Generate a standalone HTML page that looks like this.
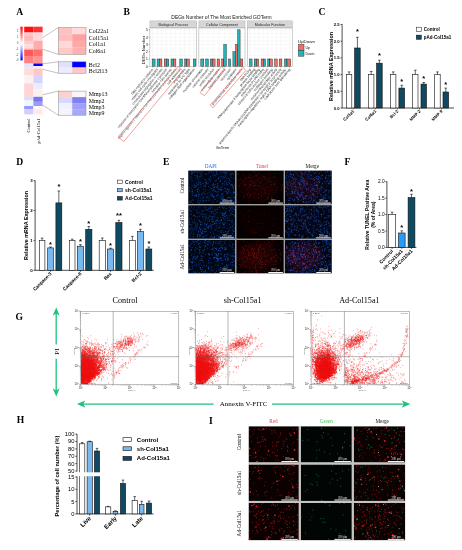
<!DOCTYPE html>
<html lang="en"><head><meta charset="utf-8"><title>Figure</title>
<style>
html,body{margin:0;padding:0;background:#fff;}
body{width:462px;height:550px;overflow:hidden;}
svg{display:block;}
.sf{font-family:"Liberation Serif", serif;}
.ss{font-family:"Liberation Sans", sans-serif;}
</style></head><body>
<svg width="462" height="550" viewBox="0 0 462 550">
<rect width="462" height="550" fill="#ffffff"/>
<text class="sf" x="16.30" y="15.20" font-size="9.6" font-weight="bold">A</text>
<text class="sf" x="123.60" y="14.90" font-size="9.6" font-weight="bold">B</text>
<text class="sf" x="318.60" y="15.20" font-size="9.6" font-weight="bold">C</text>
<text class="sf" x="16.30" y="164.70" font-size="9.6" font-weight="bold">D</text>
<text class="sf" x="163.00" y="164.90" font-size="9.6" font-weight="bold">E</text>
<text class="sf" x="344.60" y="164.90" font-size="9.6" font-weight="bold">F</text>
<text class="sf" x="15.60" y="319.50" font-size="9.6" font-weight="bold">G</text>
<text class="sf" x="16.80" y="423.30" font-size="9.6" font-weight="bold">H</text>
<text class="sf" x="209.00" y="423.60" font-size="9.6" font-weight="bold">I</text>
<g id="pA">
<defs><linearGradient id="lg" x1="0" y1="0" x2="0" y2="1"><stop offset="0" stop-color="#ff0000"/><stop offset="0.5" stop-color="#ffffff"/><stop offset="1" stop-color="#0000ff"/></linearGradient></defs>
<rect x="20.40" y="26.70" width="2.30" height="33.70" fill="url(#lg)"/>
<text class="ss" x="18.40" y="32.20" font-size="3.0" text-anchor="end" fill="#555">2</text>
<text class="ss" x="18.40" y="38.05" font-size="3.0" text-anchor="end" fill="#555">1</text>
<text class="ss" x="18.40" y="43.90" font-size="3.0" text-anchor="end" fill="#555">0</text>
<text class="ss" x="18.40" y="49.75" font-size="3.0" text-anchor="end" fill="#555">-1</text>
<text class="ss" x="18.40" y="55.60" font-size="3.0" text-anchor="end" fill="#555">-2</text>
<text class="ss" x="18.40" y="61.45" font-size="3.0" text-anchor="end" fill="#555">-3</text>
<rect x="24.20" y="26.70" width="9.20" height="5.85" fill="#ff1010"/>
<rect x="24.20" y="32.50" width="9.20" height="3.45" fill="#ffc8c8"/>
<rect x="24.20" y="35.90" width="9.20" height="5.05" fill="#ffb8b8"/>
<rect x="24.20" y="40.90" width="9.20" height="3.45" fill="#ffcccc"/>
<rect x="24.20" y="44.30" width="9.20" height="4.15" fill="#ffdcdc"/>
<rect x="24.20" y="48.40" width="9.20" height="1.45" fill="#ffb0b0"/>
<rect x="24.20" y="49.80" width="9.20" height="6.25" fill="#ff5858"/>
<rect x="24.20" y="56.00" width="9.20" height="7.55" fill="#ff8080"/>
<rect x="24.20" y="63.50" width="9.20" height="5.05" fill="#e4e4ff"/>
<rect x="24.20" y="68.50" width="9.20" height="6.55" fill="#ffdcdc"/>
<rect x="24.20" y="75.00" width="9.20" height="8.45" fill="#fdf0f0"/>
<rect x="24.20" y="83.40" width="9.20" height="13.45" fill="#ffd4d4"/>
<rect x="24.20" y="96.80" width="9.20" height="3.25" fill="#dcdcff"/>
<rect x="24.20" y="100.00" width="9.20" height="6.05" fill="#f4f4ff"/>
<rect x="24.20" y="106.00" width="9.20" height="3.35" fill="#9898ff"/>
<rect x="24.20" y="109.30" width="9.20" height="5.05" fill="#d0d0ff"/>
<rect x="33.40" y="26.70" width="9.20" height="5.85" fill="#ff3030"/>
<rect x="33.40" y="32.50" width="9.20" height="8.45" fill="#ffd8d8"/>
<rect x="33.40" y="40.90" width="9.20" height="7.55" fill="#ffacac"/>
<rect x="33.40" y="48.40" width="9.20" height="1.45" fill="#ff9090"/>
<rect x="33.40" y="49.80" width="9.20" height="6.25" fill="#ff7070"/>
<rect x="33.40" y="56.00" width="9.20" height="7.55" fill="#ff9494"/>
<rect x="33.40" y="63.50" width="9.20" height="2.55" fill="#0000ff"/>
<rect x="33.40" y="66.00" width="9.20" height="2.55" fill="#f8f0ff"/>
<rect x="33.40" y="68.50" width="9.20" height="6.55" fill="#ffc8c8"/>
<rect x="33.40" y="75.00" width="9.20" height="8.45" fill="#d4d4ff"/>
<rect x="33.40" y="83.40" width="9.20" height="5.85" fill="#ececff"/>
<rect x="33.40" y="89.20" width="9.20" height="7.65" fill="#fff0f0"/>
<rect x="33.40" y="96.80" width="9.20" height="5.05" fill="#7878f0"/>
<rect x="33.40" y="101.80" width="9.20" height="4.25" fill="#9c9cf8"/>
<rect x="33.40" y="106.00" width="9.20" height="3.35" fill="#fff8f8"/>
<rect x="33.40" y="109.30" width="9.20" height="5.05" fill="#ffe8e8"/>
<rect x="58.40" y="27.50" width="13.80" height="6.75" fill="#ffc0c0"/>
<rect x="72.20" y="27.50" width="13.80" height="6.75" fill="#ffdada"/>
<rect x="58.40" y="34.20" width="13.80" height="6.75" fill="#ffbcbc"/>
<rect x="72.20" y="34.20" width="13.80" height="6.75" fill="#ffa0a0"/>
<rect x="58.40" y="40.90" width="13.80" height="6.75" fill="#ffd8d8"/>
<rect x="72.20" y="40.90" width="13.80" height="6.75" fill="#ffa8a8"/>
<rect x="58.40" y="47.60" width="13.80" height="6.75" fill="#ffc8c8"/>
<rect x="72.20" y="47.60" width="13.80" height="6.75" fill="#ffb0b0"/>
<rect x="58.40" y="27.50" width="27.60" height="26.80" fill="none" stroke="#8a8a8a" stroke-width="0.5"/>
<rect x="58.40" y="61.80" width="13.80" height="5.75" fill="#e0e0ff"/>
<rect x="72.20" y="61.80" width="13.80" height="5.75" fill="#0000ff"/>
<rect x="58.40" y="67.50" width="13.80" height="5.75" fill="#ececff"/>
<rect x="72.20" y="67.50" width="13.80" height="5.75" fill="#ffc8c8"/>
<rect x="58.40" y="61.80" width="27.60" height="11.40" fill="none" stroke="#8a8a8a" stroke-width="0.5"/>
<rect x="58.40" y="91.10" width="13.80" height="6.08" fill="#ffd0d0"/>
<rect x="72.20" y="91.10" width="13.80" height="6.08" fill="#fff4f4"/>
<rect x="58.40" y="97.12" width="13.80" height="6.08" fill="#d8d8ff"/>
<rect x="72.20" y="97.12" width="13.80" height="6.08" fill="#8080f0"/>
<rect x="58.40" y="103.15" width="13.80" height="6.07" fill="#f0f0ff"/>
<rect x="72.20" y="103.15" width="13.80" height="6.07" fill="#a0a0f8"/>
<rect x="58.40" y="109.17" width="13.80" height="6.08" fill="#f4f4ff"/>
<rect x="72.20" y="109.17" width="13.80" height="6.08" fill="#a8a8f8"/>
<rect x="58.40" y="91.10" width="27.60" height="24.10" fill="none" stroke="#8a8a8a" stroke-width="0.5"/>
<line x1="42.60" y1="37.60" x2="58.40" y2="27.50" stroke="#777" stroke-width="0.45"/>
<line x1="42.60" y1="49.30" x2="58.40" y2="54.30" stroke="#777" stroke-width="0.45"/>
<line x1="42.60" y1="63.80" x2="58.40" y2="61.80" stroke="#777" stroke-width="0.45"/>
<line x1="42.60" y1="69.30" x2="58.40" y2="73.20" stroke="#777" stroke-width="0.45"/>
<line x1="42.60" y1="94.80" x2="58.40" y2="91.10" stroke="#777" stroke-width="0.45"/>
<line x1="42.60" y1="105.10" x2="58.40" y2="115.20" stroke="#777" stroke-width="0.45"/>
<text class="sf" x="88.80" y="33.30" font-size="5.9">Col22a1</text>
<text class="sf" x="88.80" y="39.50" font-size="5.9">Col15a1</text>
<text class="sf" x="88.80" y="46.20" font-size="5.9">Col1a1</text>
<text class="sf" x="88.80" y="52.50" font-size="5.9">Col6a1</text>
<text class="sf" x="88.80" y="66.70" font-size="5.9">Bcl2</text>
<text class="sf" x="88.80" y="72.90" font-size="5.9">Bcl2l13</text>
<text class="sf" x="88.80" y="95.50" font-size="5.9">Mmp13</text>
<text class="sf" x="88.80" y="102.70" font-size="5.9">Mmp2</text>
<text class="sf" x="88.80" y="108.60" font-size="5.9">Mmp3</text>
<text class="sf" x="88.80" y="114.70" font-size="5.9">Mmp9</text>
<text class="sf" x="29.60" y="118.50" font-size="4.6" text-anchor="end" transform="rotate(-90 29.60 118.50)">Control</text>
<text class="sf" x="40.40" y="118.50" font-size="4.6" text-anchor="end" transform="rotate(-90 40.40 118.50)">pAd-Col15a1</text>
</g>
<g id="pC">
<line x1="342.10" y1="24.20" x2="342.10" y2="108.00" stroke="#000" stroke-width="0.7"/>
<line x1="341.80" y1="108.00" x2="454.00" y2="108.00" stroke="#000" stroke-width="0.7"/>
<line x1="340.50" y1="108.00" x2="342.10" y2="108.00" stroke="#000" stroke-width="0.6"/>
<text class="ss" x="339.70" y="109.50" font-size="4.2" font-weight="bold" text-anchor="end">0.0</text>
<line x1="340.50" y1="91.30" x2="342.10" y2="91.30" stroke="#000" stroke-width="0.6"/>
<text class="ss" x="339.70" y="92.80" font-size="4.2" font-weight="bold" text-anchor="end">0.5</text>
<line x1="340.50" y1="74.60" x2="342.10" y2="74.60" stroke="#000" stroke-width="0.6"/>
<text class="ss" x="339.70" y="76.10" font-size="4.2" font-weight="bold" text-anchor="end">1.0</text>
<line x1="340.50" y1="57.90" x2="342.10" y2="57.90" stroke="#000" stroke-width="0.6"/>
<text class="ss" x="339.70" y="59.40" font-size="4.2" font-weight="bold" text-anchor="end">1.5</text>
<line x1="340.50" y1="41.20" x2="342.10" y2="41.20" stroke="#000" stroke-width="0.6"/>
<text class="ss" x="339.70" y="42.70" font-size="4.2" font-weight="bold" text-anchor="end">2.0</text>
<line x1="340.50" y1="24.50" x2="342.10" y2="24.50" stroke="#000" stroke-width="0.6"/>
<text class="ss" x="339.70" y="26.00" font-size="4.2" font-weight="bold" text-anchor="end">2.5</text>
<text class="ss" x="333.00" y="66.50" font-size="5.4" font-weight="bold" text-anchor="middle" transform="rotate(-90 333.00 66.50)">Relative mRNA Expression</text>
<rect x="346.40" y="74.60" width="5.40" height="33.40" fill="#fff" stroke="#111" stroke-width="0.6"/>
<line x1="349.10" y1="74.60" x2="349.10" y2="71.90" stroke="#000" stroke-width="0.6"/>
<line x1="347.80" y1="71.90" x2="350.40" y2="71.90" stroke="#000" stroke-width="0.6"/>
<rect x="354.60" y="48.00" width="5.60" height="60.00" fill="#0f4a63" stroke="#111" stroke-width="0.6"/>
<line x1="357.40" y1="48.00" x2="357.40" y2="37.30" stroke="#000" stroke-width="0.6"/>
<line x1="356.10" y1="37.30" x2="358.70" y2="37.30" stroke="#000" stroke-width="0.6"/>
<text class="ss" x="357.40" y="33.55" font-size="7.5" font-weight="bold" text-anchor="middle">*</text>
<line x1="353.20" y1="108.00" x2="353.20" y2="109.50" stroke="#000" stroke-width="0.6"/>
<text class="ss" x="354.50" y="111.60" font-size="4.2" font-weight="bold" text-anchor="end" transform="rotate(-45 354.50 111.60)">Col1a1</text>
<rect x="368.50" y="74.60" width="5.40" height="33.40" fill="#fff" stroke="#111" stroke-width="0.6"/>
<line x1="371.20" y1="74.60" x2="371.20" y2="71.50" stroke="#000" stroke-width="0.6"/>
<line x1="369.90" y1="71.50" x2="372.50" y2="71.50" stroke="#000" stroke-width="0.6"/>
<rect x="376.60" y="63.20" width="5.60" height="44.80" fill="#0f4a63" stroke="#111" stroke-width="0.6"/>
<line x1="379.40" y1="63.20" x2="379.40" y2="60.20" stroke="#000" stroke-width="0.6"/>
<line x1="378.10" y1="60.20" x2="380.70" y2="60.20" stroke="#000" stroke-width="0.6"/>
<text class="ss" x="379.40" y="58.35" font-size="7.5" font-weight="bold" text-anchor="middle">*</text>
<line x1="375.25" y1="108.00" x2="375.25" y2="109.50" stroke="#000" stroke-width="0.6"/>
<text class="ss" x="376.55" y="111.60" font-size="4.2" font-weight="bold" text-anchor="end" transform="rotate(-45 376.55 111.60)">Col6a1</text>
<rect x="390.50" y="74.60" width="5.40" height="33.40" fill="#fff" stroke="#111" stroke-width="0.6"/>
<line x1="393.20" y1="74.60" x2="393.20" y2="71.90" stroke="#000" stroke-width="0.6"/>
<line x1="391.90" y1="71.90" x2="394.50" y2="71.90" stroke="#000" stroke-width="0.6"/>
<rect x="398.90" y="88.10" width="5.70" height="19.90" fill="#0f4a63" stroke="#111" stroke-width="0.6"/>
<line x1="401.75" y1="88.10" x2="401.75" y2="85.30" stroke="#000" stroke-width="0.6"/>
<line x1="400.45" y1="85.30" x2="403.05" y2="85.30" stroke="#000" stroke-width="0.6"/>
<text class="ss" x="401.75" y="83.95" font-size="7.5" font-weight="bold" text-anchor="middle">*</text>
<line x1="397.40" y1="108.00" x2="397.40" y2="109.50" stroke="#000" stroke-width="0.6"/>
<text class="ss" x="398.70" y="111.60" font-size="4.2" font-weight="bold" text-anchor="end" transform="rotate(-45 398.70 111.60)">Bcl-2</text>
<rect x="412.60" y="74.60" width="5.40" height="33.40" fill="#fff" stroke="#111" stroke-width="0.6"/>
<line x1="415.30" y1="74.60" x2="415.30" y2="70.20" stroke="#000" stroke-width="0.6"/>
<line x1="414.00" y1="70.20" x2="416.60" y2="70.20" stroke="#000" stroke-width="0.6"/>
<rect x="421.00" y="84.10" width="5.50" height="23.90" fill="#0f4a63" stroke="#111" stroke-width="0.6"/>
<line x1="423.75" y1="84.10" x2="423.75" y2="82.50" stroke="#000" stroke-width="0.6"/>
<line x1="422.45" y1="82.50" x2="425.05" y2="82.50" stroke="#000" stroke-width="0.6"/>
<text class="ss" x="423.75" y="80.95" font-size="7.5" font-weight="bold" text-anchor="middle">*</text>
<line x1="419.50" y1="108.00" x2="419.50" y2="109.50" stroke="#000" stroke-width="0.6"/>
<text class="ss" x="420.80" y="111.60" font-size="4.2" font-weight="bold" text-anchor="end" transform="rotate(-45 420.80 111.60)">MMP-2</text>
<rect x="434.70" y="74.60" width="5.50" height="33.40" fill="#fff" stroke="#111" stroke-width="0.6"/>
<line x1="437.45" y1="74.60" x2="437.45" y2="71.90" stroke="#000" stroke-width="0.6"/>
<line x1="436.15" y1="71.90" x2="438.75" y2="71.90" stroke="#000" stroke-width="0.6"/>
<rect x="443.00" y="92.00" width="5.60" height="16.00" fill="#0f4a63" stroke="#111" stroke-width="0.6"/>
<line x1="445.80" y1="92.00" x2="445.80" y2="88.10" stroke="#000" stroke-width="0.6"/>
<line x1="444.50" y1="88.10" x2="447.10" y2="88.10" stroke="#000" stroke-width="0.6"/>
<text class="ss" x="445.80" y="86.75" font-size="7.5" font-weight="bold" text-anchor="middle">*</text>
<line x1="441.60" y1="108.00" x2="441.60" y2="109.50" stroke="#000" stroke-width="0.6"/>
<text class="ss" x="442.90" y="111.60" font-size="4.2" font-weight="bold" text-anchor="end" transform="rotate(-45 442.90 111.60)">MMP-9</text>
<rect x="416.30" y="27.20" width="5.00" height="4.20" fill="#fff" stroke="#111" stroke-width="0.5"/>
<text class="ss" x="423.80" y="31.00" font-size="4.5" font-weight="bold">Control</text>
<rect x="416.30" y="35.10" width="5.00" height="4.20" fill="#0f4a63" stroke="#111" stroke-width="0.5"/>
<text class="ss" x="423.80" y="38.70" font-size="4.5" font-weight="bold">pAd-Col15a1</text>
</g>
<g id="pD">
<line x1="35.10" y1="180.30" x2="35.10" y2="270.30" stroke="#000" stroke-width="0.7"/>
<line x1="34.80" y1="270.30" x2="153.80" y2="270.30" stroke="#000" stroke-width="0.7"/>
<line x1="33.50" y1="270.30" x2="35.10" y2="270.30" stroke="#000" stroke-width="0.6"/>
<text class="ss" x="32.70" y="271.90" font-size="4.4" font-weight="bold" text-anchor="end">0</text>
<line x1="33.50" y1="240.40" x2="35.10" y2="240.40" stroke="#000" stroke-width="0.6"/>
<text class="ss" x="32.70" y="242.00" font-size="4.4" font-weight="bold" text-anchor="end">1</text>
<line x1="33.50" y1="210.50" x2="35.10" y2="210.50" stroke="#000" stroke-width="0.6"/>
<text class="ss" x="32.70" y="212.10" font-size="4.4" font-weight="bold" text-anchor="end">2</text>
<line x1="33.50" y1="180.60" x2="35.10" y2="180.60" stroke="#000" stroke-width="0.6"/>
<text class="ss" x="32.70" y="182.20" font-size="4.4" font-weight="bold" text-anchor="end">3</text>
<text class="ss" x="27.60" y="225.50" font-size="5.4" font-weight="bold" text-anchor="middle" transform="rotate(-90 27.60 225.50)">Relative mRNA Expression</text>
<rect x="39.30" y="240.40" width="5.60" height="29.90" fill="#fff" stroke="#111" stroke-width="0.6"/>
<line x1="42.10" y1="240.40" x2="42.10" y2="238.10" stroke="#000" stroke-width="0.6"/>
<line x1="40.80" y1="238.10" x2="43.40" y2="238.10" stroke="#000" stroke-width="0.6"/>
<rect x="47.70" y="247.90" width="5.70" height="22.40" fill="#78b9f2" stroke="#111" stroke-width="0.6"/>
<line x1="50.55" y1="247.90" x2="50.55" y2="247.00" stroke="#000" stroke-width="0.6"/>
<line x1="49.25" y1="247.00" x2="51.85" y2="247.00" stroke="#000" stroke-width="0.6"/>
<text class="ss" x="50.55" y="246.65" font-size="7.5" font-weight="bold" text-anchor="middle">*</text>
<rect x="55.90" y="202.90" width="5.90" height="67.40" fill="#0f4a63" stroke="#111" stroke-width="0.6"/>
<line x1="58.85" y1="202.90" x2="58.85" y2="191.00" stroke="#000" stroke-width="0.6"/>
<line x1="57.55" y1="191.00" x2="60.15" y2="191.00" stroke="#000" stroke-width="0.6"/>
<text class="ss" x="58.85" y="188.75" font-size="7.5" font-weight="bold" text-anchor="middle">*</text>
<line x1="50.55" y1="270.30" x2="50.55" y2="271.80" stroke="#000" stroke-width="0.6"/>
<text class="ss" x="51.95" y="274.10" font-size="4.8" font-weight="bold" text-anchor="end" transform="rotate(-45 51.95 274.10)">Caspase-3</text>
<rect x="69.40" y="240.40" width="5.60" height="29.90" fill="#fff" stroke="#111" stroke-width="0.6"/>
<line x1="72.20" y1="240.40" x2="72.20" y2="239.20" stroke="#000" stroke-width="0.6"/>
<line x1="70.90" y1="239.20" x2="73.50" y2="239.20" stroke="#000" stroke-width="0.6"/>
<rect x="77.30" y="246.20" width="6.20" height="24.10" fill="#78b9f2" stroke="#111" stroke-width="0.6"/>
<line x1="80.40" y1="246.20" x2="80.40" y2="244.60" stroke="#000" stroke-width="0.6"/>
<line x1="79.10" y1="244.60" x2="81.70" y2="244.60" stroke="#000" stroke-width="0.6"/>
<text class="ss" x="80.40" y="243.95" font-size="7.5" font-weight="bold" text-anchor="middle">*</text>
<rect x="85.70" y="229.30" width="6.20" height="41.00" fill="#0f4a63" stroke="#111" stroke-width="0.6"/>
<line x1="88.80" y1="229.30" x2="88.80" y2="226.50" stroke="#000" stroke-width="0.6"/>
<line x1="87.50" y1="226.50" x2="90.10" y2="226.50" stroke="#000" stroke-width="0.6"/>
<text class="ss" x="88.80" y="225.75" font-size="7.5" font-weight="bold" text-anchor="middle">*</text>
<line x1="80.40" y1="270.30" x2="80.40" y2="271.80" stroke="#000" stroke-width="0.6"/>
<text class="ss" x="81.80" y="274.10" font-size="4.8" font-weight="bold" text-anchor="end" transform="rotate(-45 81.80 274.10)">Caspase-8</text>
<rect x="99.20" y="240.40" width="6.20" height="29.90" fill="#fff" stroke="#111" stroke-width="0.6"/>
<line x1="102.30" y1="240.40" x2="102.30" y2="238.00" stroke="#000" stroke-width="0.6"/>
<line x1="101.00" y1="238.00" x2="103.60" y2="238.00" stroke="#000" stroke-width="0.6"/>
<rect x="107.40" y="249.00" width="6.20" height="21.30" fill="#78b9f2" stroke="#111" stroke-width="0.6"/>
<line x1="110.50" y1="249.00" x2="110.50" y2="248.20" stroke="#000" stroke-width="0.6"/>
<line x1="109.20" y1="248.20" x2="111.80" y2="248.20" stroke="#000" stroke-width="0.6"/>
<text class="ss" x="110.50" y="247.75" font-size="7.5" font-weight="bold" text-anchor="middle">*</text>
<rect x="115.80" y="222.60" width="6.20" height="47.70" fill="#0f4a63" stroke="#111" stroke-width="0.6"/>
<line x1="118.90" y1="222.60" x2="118.90" y2="220.30" stroke="#000" stroke-width="0.6"/>
<line x1="117.60" y1="220.30" x2="120.20" y2="220.30" stroke="#000" stroke-width="0.6"/>
<text class="ss" x="118.90" y="217.85" font-size="7.5" font-weight="bold" text-anchor="middle">**</text>
<line x1="110.50" y1="270.30" x2="110.50" y2="271.80" stroke="#000" stroke-width="0.6"/>
<text class="ss" x="111.90" y="274.10" font-size="4.8" font-weight="bold" text-anchor="end" transform="rotate(-45 111.90 274.10)">Bax</text>
<rect x="129.30" y="240.40" width="6.20" height="29.90" fill="#fff" stroke="#111" stroke-width="0.6"/>
<line x1="132.40" y1="240.40" x2="132.40" y2="236.40" stroke="#000" stroke-width="0.6"/>
<line x1="131.10" y1="236.40" x2="133.70" y2="236.40" stroke="#000" stroke-width="0.6"/>
<rect x="137.50" y="231.60" width="5.90" height="38.70" fill="#78b9f2" stroke="#111" stroke-width="0.6"/>
<line x1="140.45" y1="231.60" x2="140.45" y2="229.30" stroke="#000" stroke-width="0.6"/>
<line x1="139.15" y1="229.30" x2="141.75" y2="229.30" stroke="#000" stroke-width="0.6"/>
<text class="ss" x="140.45" y="227.65" font-size="7.5" font-weight="bold" text-anchor="middle">*</text>
<rect x="145.90" y="249.00" width="5.90" height="21.30" fill="#0f4a63" stroke="#111" stroke-width="0.6"/>
<line x1="148.85" y1="249.00" x2="148.85" y2="247.00" stroke="#000" stroke-width="0.6"/>
<line x1="147.55" y1="247.00" x2="150.15" y2="247.00" stroke="#000" stroke-width="0.6"/>
<text class="ss" x="148.85" y="245.95" font-size="7.5" font-weight="bold" text-anchor="middle">*</text>
<line x1="140.45" y1="270.30" x2="140.45" y2="271.80" stroke="#000" stroke-width="0.6"/>
<text class="ss" x="141.85" y="274.10" font-size="4.8" font-weight="bold" text-anchor="end" transform="rotate(-45 141.85 274.10)">Bcl-2</text>
<rect x="117.30" y="180.10" width="5.00" height="3.30" fill="#fff" stroke="#111" stroke-width="0.5"/>
<text class="ss" x="125.10" y="183.50" font-size="5.0" font-weight="bold">Control</text>
<rect x="117.30" y="188.40" width="5.00" height="3.40" fill="#78b9f2" stroke="#111" stroke-width="0.5"/>
<text class="ss" x="125.10" y="191.85" font-size="5.0" font-weight="bold">sh-Col15a1</text>
<rect x="117.30" y="196.40" width="5.00" height="3.70" fill="#0f4a63" stroke="#111" stroke-width="0.5"/>
<text class="ss" x="125.10" y="200.00" font-size="5.0" font-weight="bold">Ad-Col15a1</text>
</g>
<g id="pF">
<line x1="386.90" y1="181.40" x2="386.90" y2="247.40" stroke="#000" stroke-width="0.7"/>
<line x1="386.60" y1="247.40" x2="416.40" y2="247.40" stroke="#000" stroke-width="0.7"/>
<line x1="385.30" y1="247.40" x2="386.90" y2="247.40" stroke="#000" stroke-width="0.6"/>
<text class="ss" x="384.60" y="249.10" font-size="4.8" text-anchor="end">0.0</text>
<line x1="385.30" y1="230.97" x2="386.90" y2="230.97" stroke="#000" stroke-width="0.6"/>
<text class="ss" x="384.60" y="232.67" font-size="4.8" text-anchor="end">0.5</text>
<line x1="385.30" y1="214.55" x2="386.90" y2="214.55" stroke="#000" stroke-width="0.6"/>
<text class="ss" x="384.60" y="216.25" font-size="4.8" text-anchor="end">1.0</text>
<line x1="385.30" y1="198.12" x2="386.90" y2="198.12" stroke="#000" stroke-width="0.6"/>
<text class="ss" x="384.60" y="199.82" font-size="4.8" text-anchor="end">1.5</text>
<line x1="385.30" y1="181.70" x2="386.90" y2="181.70" stroke="#000" stroke-width="0.6"/>
<text class="ss" x="384.60" y="183.40" font-size="4.8" text-anchor="end">2.0</text>
<text class="ss" x="368.90" y="214.60" font-size="5.0" font-weight="bold" text-anchor="middle" transform="rotate(-90 368.90 214.60)">Relative TUNEL Positive Area</text>
<text class="ss" x="375.40" y="214.60" font-size="5.0" font-weight="bold" text-anchor="middle" transform="rotate(-90 375.40 214.60)">(% of Area)</text>
<rect x="388.50" y="214.55" width="7.20" height="32.85" fill="#fff" stroke="#111" stroke-width="0.6"/>
<line x1="392.10" y1="214.55" x2="392.10" y2="212.20" stroke="#000" stroke-width="0.6"/>
<line x1="390.80" y1="212.20" x2="393.40" y2="212.20" stroke="#000" stroke-width="0.6"/>
<rect x="398.50" y="233.00" width="6.60" height="14.40" fill="#2a9bf4" stroke="#111" stroke-width="0.6"/>
<line x1="401.80" y1="233.00" x2="401.80" y2="230.80" stroke="#000" stroke-width="0.6"/>
<line x1="400.50" y1="230.80" x2="403.10" y2="230.80" stroke="#000" stroke-width="0.6"/>
<text class="ss" x="401.80" y="229.55" font-size="7.5" font-weight="bold" text-anchor="middle">*</text>
<rect x="408.10" y="197.60" width="6.80" height="49.80" fill="#0f4a63" stroke="#111" stroke-width="0.6"/>
<line x1="411.50" y1="197.60" x2="411.50" y2="194.30" stroke="#000" stroke-width="0.6"/>
<line x1="410.20" y1="194.30" x2="412.80" y2="194.30" stroke="#000" stroke-width="0.6"/>
<text class="ss" x="411.50" y="193.55" font-size="7.5" font-weight="bold" text-anchor="middle">*</text>
<line x1="392.10" y1="247.40" x2="392.10" y2="248.90" stroke="#000" stroke-width="0.6"/>
<text class="ss" x="393.50" y="251.60" font-size="4.9" font-weight="bold" text-anchor="end" transform="rotate(-45 393.50 251.60)">Control</text>
<line x1="401.80" y1="247.40" x2="401.80" y2="248.90" stroke="#000" stroke-width="0.6"/>
<text class="ss" x="403.20" y="251.60" font-size="4.9" font-weight="bold" text-anchor="end" transform="rotate(-45 403.20 251.60)">sh-Col15a1</text>
<line x1="411.50" y1="247.40" x2="411.50" y2="248.90" stroke="#000" stroke-width="0.6"/>
<text class="ss" x="412.90" y="251.60" font-size="4.9" font-weight="bold" text-anchor="end" transform="rotate(-45 412.90 251.60)">Ad-Col15a1</text>
</g>
<g id="pH">
<line x1="77.00" y1="433.90" x2="77.00" y2="471.60" stroke="#000" stroke-width="0.7"/>
<line x1="77.00" y1="476.40" x2="77.00" y2="513.90" stroke="#000" stroke-width="0.7"/>
<line x1="76.70" y1="513.90" x2="153.60" y2="513.90" stroke="#000" stroke-width="0.7"/>
<line x1="75.30" y1="471.00" x2="77.00" y2="471.00" stroke="#000" stroke-width="0.6"/>
<text class="ss" x="74.40" y="472.90" font-size="5.8" text-anchor="end">50</text>
<line x1="75.30" y1="463.64" x2="77.00" y2="463.64" stroke="#000" stroke-width="0.6"/>
<text class="ss" x="74.40" y="465.54" font-size="5.8" text-anchor="end">60</text>
<line x1="75.30" y1="456.28" x2="77.00" y2="456.28" stroke="#000" stroke-width="0.6"/>
<text class="ss" x="74.40" y="458.18" font-size="5.8" text-anchor="end">70</text>
<line x1="75.30" y1="448.92" x2="77.00" y2="448.92" stroke="#000" stroke-width="0.6"/>
<text class="ss" x="74.40" y="450.82" font-size="5.8" text-anchor="end">80</text>
<line x1="75.30" y1="441.56" x2="77.00" y2="441.56" stroke="#000" stroke-width="0.6"/>
<text class="ss" x="74.40" y="443.46" font-size="5.8" text-anchor="end">90</text>
<line x1="75.30" y1="434.20" x2="77.00" y2="434.20" stroke="#000" stroke-width="0.6"/>
<text class="ss" x="74.40" y="436.10" font-size="5.8" text-anchor="end">100</text>
<line x1="75.30" y1="513.90" x2="77.00" y2="513.90" stroke="#000" stroke-width="0.6"/>
<text class="ss" x="74.40" y="515.80" font-size="5.8" text-anchor="end">0</text>
<line x1="75.30" y1="501.60" x2="77.00" y2="501.60" stroke="#000" stroke-width="0.6"/>
<text class="ss" x="74.40" y="503.50" font-size="5.8" text-anchor="end">5</text>
<line x1="75.30" y1="489.30" x2="77.00" y2="489.30" stroke="#000" stroke-width="0.6"/>
<text class="ss" x="74.40" y="491.20" font-size="5.8" text-anchor="end">10</text>
<line x1="75.30" y1="477.00" x2="77.00" y2="477.00" stroke="#000" stroke-width="0.6"/>
<text class="ss" x="74.40" y="478.90" font-size="5.8" text-anchor="end">15</text>
<text class="ss" x="59.20" y="476.00" font-size="5.65" font-weight="bold" text-anchor="middle" transform="rotate(-90 59.20 476.00)">Percentage of cell number (%)</text>
<rect x="79.60" y="443.80" width="5.20" height="70.10" fill="#fff" stroke="#111" stroke-width="0.6"/>
<line x1="82.20" y1="443.80" x2="82.20" y2="442.60" stroke="#000" stroke-width="0.6"/>
<line x1="80.90" y1="442.60" x2="83.50" y2="442.60" stroke="#000" stroke-width="0.6"/>
<rect x="87.10" y="441.70" width="5.20" height="72.20" fill="#78b9f2" stroke="#111" stroke-width="0.6"/>
<line x1="89.70" y1="441.70" x2="89.70" y2="441.20" stroke="#000" stroke-width="0.6"/>
<line x1="88.40" y1="441.20" x2="91.00" y2="441.20" stroke="#000" stroke-width="0.6"/>
<rect x="94.40" y="451.00" width="5.20" height="62.90" fill="#0f4a63" stroke="#111" stroke-width="0.6"/>
<line x1="97.00" y1="451.00" x2="97.00" y2="448.40" stroke="#000" stroke-width="0.6"/>
<line x1="95.70" y1="448.40" x2="98.30" y2="448.40" stroke="#000" stroke-width="0.6"/>
<rect x="78.50" y="472.30" width="22.50" height="3.90" fill="#fff"/>
<rect x="105.60" y="506.90" width="5.20" height="7.00" fill="#fff" stroke="#111" stroke-width="0.6"/>
<line x1="108.20" y1="506.90" x2="108.20" y2="506.40" stroke="#000" stroke-width="0.6"/>
<line x1="106.90" y1="506.40" x2="109.50" y2="506.40" stroke="#000" stroke-width="0.6"/>
<rect x="113.10" y="511.30" width="4.70" height="2.60" fill="#78b9f2" stroke="#111" stroke-width="0.6"/>
<line x1="115.45" y1="511.30" x2="115.45" y2="510.80" stroke="#000" stroke-width="0.6"/>
<line x1="114.15" y1="510.80" x2="116.75" y2="510.80" stroke="#000" stroke-width="0.6"/>
<rect x="120.40" y="483.50" width="5.20" height="30.40" fill="#0f4a63" stroke="#111" stroke-width="0.6"/>
<line x1="123.00" y1="483.50" x2="123.00" y2="480.10" stroke="#000" stroke-width="0.6"/>
<line x1="121.70" y1="480.10" x2="124.30" y2="480.10" stroke="#000" stroke-width="0.6"/>
<rect x="132.10" y="500.50" width="5.20" height="13.40" fill="#fff" stroke="#111" stroke-width="0.6"/>
<line x1="134.70" y1="500.50" x2="134.70" y2="496.60" stroke="#000" stroke-width="0.6"/>
<line x1="133.40" y1="496.60" x2="136.00" y2="496.60" stroke="#000" stroke-width="0.6"/>
<rect x="139.40" y="504.40" width="4.60" height="9.50" fill="#78b9f2" stroke="#111" stroke-width="0.6"/>
<line x1="141.70" y1="504.40" x2="141.70" y2="501.30" stroke="#000" stroke-width="0.6"/>
<line x1="140.40" y1="501.30" x2="143.00" y2="501.30" stroke="#000" stroke-width="0.6"/>
<rect x="146.40" y="503.10" width="5.20" height="10.80" fill="#0f4a63" stroke="#111" stroke-width="0.6"/>
<line x1="149.00" y1="503.10" x2="149.00" y2="501.00" stroke="#000" stroke-width="0.6"/>
<line x1="147.70" y1="501.00" x2="150.30" y2="501.00" stroke="#000" stroke-width="0.6"/>
<line x1="89.70" y1="513.90" x2="89.70" y2="515.60" stroke="#000" stroke-width="0.6"/>
<text class="ss" x="91.50" y="518.70" font-size="6.2" font-weight="bold" text-anchor="end" transform="rotate(-45 91.50 518.70)">Live</text>
<line x1="115.50" y1="513.90" x2="115.50" y2="515.60" stroke="#000" stroke-width="0.6"/>
<text class="ss" x="117.30" y="518.70" font-size="6.2" font-weight="bold" text-anchor="end" transform="rotate(-45 117.30 518.70)">Early</text>
<line x1="141.70" y1="513.90" x2="141.70" y2="515.60" stroke="#000" stroke-width="0.6"/>
<text class="ss" x="143.50" y="518.70" font-size="6.2" font-weight="bold" text-anchor="end" transform="rotate(-45 143.50 518.70)">Late</text>
<rect x="123.00" y="437.70" width="8.60" height="3.90" fill="#fff" stroke="#111" stroke-width="0.6"/>
<text class="ss" x="136.80" y="441.75" font-size="6.0" font-weight="bold">Control</text>
<rect x="123.00" y="446.80" width="8.60" height="3.80" fill="#78b9f2" stroke="#111" stroke-width="0.6"/>
<text class="ss" x="136.80" y="450.80" font-size="6.0" font-weight="bold">sh-Col15a1</text>
<rect x="123.00" y="456.40" width="8.60" height="3.90" fill="#0f4a63" stroke="#111" stroke-width="0.6"/>
<text class="ss" x="136.80" y="460.45" font-size="6.0" font-weight="bold">Ad-Col15a1</text>
</g>
<g id="pB">
<text class="ss" x="221.50" y="18.90" font-size="4.95" text-anchor="middle" fill="#111">DEGs Number of The Most Enriched GOTerm</text>
<rect x="149.90" y="20.90" width="46.80" height="7.10" fill="#d6d6d6" stroke="#9a9a9a" stroke-width="0.35"/>
<text class="ss" x="173.30" y="25.70" font-size="3.6" text-anchor="middle" fill="#222">Biological Process</text>
<rect x="149.90" y="28.00" width="46.80" height="38.40" fill="#fff"/>
<line x1="149.90" y1="62.65" x2="196.70" y2="62.65" stroke="#ececec" stroke-width="0.3"/>
<line x1="149.90" y1="59.00" x2="196.70" y2="59.00" stroke="#ececec" stroke-width="0.3"/>
<line x1="149.90" y1="55.35" x2="196.70" y2="55.35" stroke="#ececec" stroke-width="0.3"/>
<line x1="149.90" y1="51.70" x2="196.70" y2="51.70" stroke="#ececec" stroke-width="0.3"/>
<line x1="149.90" y1="48.05" x2="196.70" y2="48.05" stroke="#ececec" stroke-width="0.3"/>
<line x1="149.90" y1="44.40" x2="196.70" y2="44.40" stroke="#ececec" stroke-width="0.3"/>
<line x1="149.90" y1="40.75" x2="196.70" y2="40.75" stroke="#ececec" stroke-width="0.3"/>
<line x1="149.90" y1="37.10" x2="196.70" y2="37.10" stroke="#ececec" stroke-width="0.3"/>
<line x1="149.90" y1="33.45" x2="196.70" y2="33.45" stroke="#ececec" stroke-width="0.3"/>
<line x1="149.90" y1="29.80" x2="196.70" y2="29.80" stroke="#ececec" stroke-width="0.3"/>
<line x1="152.65" y1="28.00" x2="152.65" y2="66.40" stroke="#ececec" stroke-width="0.3"/>
<line x1="157.24" y1="28.00" x2="157.24" y2="66.40" stroke="#ececec" stroke-width="0.3"/>
<line x1="161.83" y1="28.00" x2="161.83" y2="66.40" stroke="#ececec" stroke-width="0.3"/>
<line x1="166.42" y1="28.00" x2="166.42" y2="66.40" stroke="#ececec" stroke-width="0.3"/>
<line x1="171.01" y1="28.00" x2="171.01" y2="66.40" stroke="#ececec" stroke-width="0.3"/>
<line x1="175.59" y1="28.00" x2="175.59" y2="66.40" stroke="#ececec" stroke-width="0.3"/>
<line x1="180.18" y1="28.00" x2="180.18" y2="66.40" stroke="#ececec" stroke-width="0.3"/>
<line x1="184.77" y1="28.00" x2="184.77" y2="66.40" stroke="#ececec" stroke-width="0.3"/>
<line x1="189.36" y1="28.00" x2="189.36" y2="66.40" stroke="#ececec" stroke-width="0.3"/>
<line x1="193.95" y1="28.00" x2="193.95" y2="66.40" stroke="#ececec" stroke-width="0.3"/>
<rect x="198.90" y="20.90" width="46.10" height="7.10" fill="#d6d6d6" stroke="#9a9a9a" stroke-width="0.35"/>
<text class="ss" x="221.95" y="25.70" font-size="3.6" text-anchor="middle" fill="#222">Cellular Component</text>
<rect x="198.90" y="28.00" width="46.10" height="38.40" fill="#fff"/>
<line x1="198.90" y1="62.65" x2="245.00" y2="62.65" stroke="#ececec" stroke-width="0.3"/>
<line x1="198.90" y1="59.00" x2="245.00" y2="59.00" stroke="#ececec" stroke-width="0.3"/>
<line x1="198.90" y1="55.35" x2="245.00" y2="55.35" stroke="#ececec" stroke-width="0.3"/>
<line x1="198.90" y1="51.70" x2="245.00" y2="51.70" stroke="#ececec" stroke-width="0.3"/>
<line x1="198.90" y1="48.05" x2="245.00" y2="48.05" stroke="#ececec" stroke-width="0.3"/>
<line x1="198.90" y1="44.40" x2="245.00" y2="44.40" stroke="#ececec" stroke-width="0.3"/>
<line x1="198.90" y1="40.75" x2="245.00" y2="40.75" stroke="#ececec" stroke-width="0.3"/>
<line x1="198.90" y1="37.10" x2="245.00" y2="37.10" stroke="#ececec" stroke-width="0.3"/>
<line x1="198.90" y1="33.45" x2="245.00" y2="33.45" stroke="#ececec" stroke-width="0.3"/>
<line x1="198.90" y1="29.80" x2="245.00" y2="29.80" stroke="#ececec" stroke-width="0.3"/>
<line x1="202.27" y1="28.00" x2="202.27" y2="66.40" stroke="#ececec" stroke-width="0.3"/>
<line x1="207.90" y1="28.00" x2="207.90" y2="66.40" stroke="#ececec" stroke-width="0.3"/>
<line x1="213.52" y1="28.00" x2="213.52" y2="66.40" stroke="#ececec" stroke-width="0.3"/>
<line x1="219.14" y1="28.00" x2="219.14" y2="66.40" stroke="#ececec" stroke-width="0.3"/>
<line x1="224.76" y1="28.00" x2="224.76" y2="66.40" stroke="#ececec" stroke-width="0.3"/>
<line x1="230.38" y1="28.00" x2="230.38" y2="66.40" stroke="#ececec" stroke-width="0.3"/>
<line x1="236.00" y1="28.00" x2="236.00" y2="66.40" stroke="#ececec" stroke-width="0.3"/>
<line x1="241.63" y1="28.00" x2="241.63" y2="66.40" stroke="#ececec" stroke-width="0.3"/>
<rect x="247.40" y="20.90" width="44.90" height="7.10" fill="#d6d6d6" stroke="#9a9a9a" stroke-width="0.35"/>
<text class="ss" x="269.85" y="25.70" font-size="3.6" text-anchor="middle" fill="#222">Molecular Function</text>
<rect x="247.40" y="28.00" width="44.90" height="38.40" fill="#fff"/>
<line x1="247.40" y1="62.65" x2="292.30" y2="62.65" stroke="#ececec" stroke-width="0.3"/>
<line x1="247.40" y1="59.00" x2="292.30" y2="59.00" stroke="#ececec" stroke-width="0.3"/>
<line x1="247.40" y1="55.35" x2="292.30" y2="55.35" stroke="#ececec" stroke-width="0.3"/>
<line x1="247.40" y1="51.70" x2="292.30" y2="51.70" stroke="#ececec" stroke-width="0.3"/>
<line x1="247.40" y1="48.05" x2="292.30" y2="48.05" stroke="#ececec" stroke-width="0.3"/>
<line x1="247.40" y1="44.40" x2="292.30" y2="44.40" stroke="#ececec" stroke-width="0.3"/>
<line x1="247.40" y1="40.75" x2="292.30" y2="40.75" stroke="#ececec" stroke-width="0.3"/>
<line x1="247.40" y1="37.10" x2="292.30" y2="37.10" stroke="#ececec" stroke-width="0.3"/>
<line x1="247.40" y1="33.45" x2="292.30" y2="33.45" stroke="#ececec" stroke-width="0.3"/>
<line x1="247.40" y1="29.80" x2="292.30" y2="29.80" stroke="#ececec" stroke-width="0.3"/>
<line x1="250.04" y1="28.00" x2="250.04" y2="66.40" stroke="#ececec" stroke-width="0.3"/>
<line x1="254.44" y1="28.00" x2="254.44" y2="66.40" stroke="#ececec" stroke-width="0.3"/>
<line x1="258.85" y1="28.00" x2="258.85" y2="66.40" stroke="#ececec" stroke-width="0.3"/>
<line x1="263.25" y1="28.00" x2="263.25" y2="66.40" stroke="#ececec" stroke-width="0.3"/>
<line x1="267.65" y1="28.00" x2="267.65" y2="66.40" stroke="#ececec" stroke-width="0.3"/>
<line x1="272.05" y1="28.00" x2="272.05" y2="66.40" stroke="#ececec" stroke-width="0.3"/>
<line x1="276.45" y1="28.00" x2="276.45" y2="66.40" stroke="#ececec" stroke-width="0.3"/>
<line x1="280.85" y1="28.00" x2="280.85" y2="66.40" stroke="#ececec" stroke-width="0.3"/>
<line x1="285.26" y1="28.00" x2="285.26" y2="66.40" stroke="#ececec" stroke-width="0.3"/>
<line x1="289.66" y1="28.00" x2="289.66" y2="66.40" stroke="#ececec" stroke-width="0.3"/>
<rect x="152.10" y="59.00" width="3.00" height="7.30" fill="#1fb6ba" stroke="#1a1a1a" stroke-width="0.4"/>
<rect x="157.10" y="59.00" width="2.20" height="7.30" fill="#1fb6ba" stroke="#1a1a1a" stroke-width="0.4"/>
<rect x="159.30" y="59.00" width="2.60" height="7.30" fill="#f26d63" stroke="#1a1a1a" stroke-width="0.4"/>
<rect x="164.20" y="59.00" width="2.20" height="7.30" fill="#f26d63" stroke="#1a1a1a" stroke-width="0.4"/>
<rect x="166.40" y="59.00" width="2.40" height="7.30" fill="#1fb6ba" stroke="#1a1a1a" stroke-width="0.4"/>
<rect x="171.00" y="59.00" width="2.30" height="7.30" fill="#1fb6ba" stroke="#1a1a1a" stroke-width="0.4"/>
<rect x="173.30" y="59.00" width="2.60" height="7.30" fill="#f26d63" stroke="#1a1a1a" stroke-width="0.4"/>
<rect x="179.80" y="59.00" width="2.60" height="7.30" fill="#1fb6ba" stroke="#1a1a1a" stroke-width="0.4"/>
<rect x="184.60" y="59.00" width="2.20" height="7.30" fill="#1fb6ba" stroke="#1a1a1a" stroke-width="0.4"/>
<rect x="186.80" y="59.00" width="2.60" height="7.30" fill="#f26d63" stroke="#1a1a1a" stroke-width="0.4"/>
<rect x="193.30" y="59.00" width="2.60" height="7.30" fill="#1fb6ba" stroke="#1a1a1a" stroke-width="0.4"/>
<rect x="200.80" y="59.00" width="3.00" height="7.30" fill="#1fb6ba" stroke="#1a1a1a" stroke-width="0.4"/>
<rect x="205.60" y="59.00" width="2.80" height="7.30" fill="#1fb6ba" stroke="#1a1a1a" stroke-width="0.4"/>
<rect x="210.30" y="59.00" width="2.20" height="7.30" fill="#1fb6ba" stroke="#1a1a1a" stroke-width="0.4"/>
<rect x="212.50" y="59.00" width="2.60" height="7.30" fill="#f26d63" stroke="#1a1a1a" stroke-width="0.4"/>
<rect x="217.10" y="59.00" width="2.60" height="7.30" fill="#f26d63" stroke="#1a1a1a" stroke-width="0.4"/>
<rect x="221.60" y="59.00" width="2.20" height="7.30" fill="#f26d63" stroke="#1a1a1a" stroke-width="0.4"/>
<rect x="223.80" y="44.40" width="2.60" height="21.90" fill="#1fb6ba" stroke="#1a1a1a" stroke-width="0.4"/>
<rect x="228.50" y="59.00" width="2.20" height="7.30" fill="#1fb6ba" stroke="#1a1a1a" stroke-width="0.4"/>
<rect x="232.90" y="51.70" width="2.60" height="14.60" fill="#1fb6ba" stroke="#1a1a1a" stroke-width="0.4"/>
<rect x="235.50" y="44.40" width="2.10" height="21.90" fill="#f26d63" stroke="#1a1a1a" stroke-width="0.4"/>
<rect x="237.60" y="29.80" width="2.50" height="36.50" fill="#1fb6ba" stroke="#1a1a1a" stroke-width="0.4"/>
<rect x="240.10" y="59.00" width="2.70" height="7.30" fill="#f26d63" stroke="#1a1a1a" stroke-width="0.4"/>
<rect x="249.50" y="59.00" width="2.60" height="7.30" fill="#1fb6ba" stroke="#1a1a1a" stroke-width="0.4"/>
<rect x="254.20" y="59.00" width="2.30" height="7.30" fill="#1fb6ba" stroke="#1a1a1a" stroke-width="0.4"/>
<rect x="256.50" y="59.00" width="2.20" height="7.30" fill="#f26d63" stroke="#1a1a1a" stroke-width="0.4"/>
<rect x="261.10" y="59.00" width="2.30" height="7.30" fill="#f26d63" stroke="#1a1a1a" stroke-width="0.4"/>
<rect x="263.40" y="59.00" width="2.20" height="7.30" fill="#1fb6ba" stroke="#1a1a1a" stroke-width="0.4"/>
<rect x="267.70" y="59.00" width="2.10" height="7.30" fill="#1fb6ba" stroke="#1a1a1a" stroke-width="0.4"/>
<rect x="269.80" y="59.00" width="2.60" height="7.30" fill="#f26d63" stroke="#1a1a1a" stroke-width="0.4"/>
<rect x="274.60" y="59.00" width="2.60" height="7.30" fill="#f26d63" stroke="#1a1a1a" stroke-width="0.4"/>
<rect x="279.30" y="59.00" width="2.60" height="7.30" fill="#f26d63" stroke="#1a1a1a" stroke-width="0.4"/>
<rect x="284.50" y="59.00" width="2.50" height="7.30" fill="#1fb6ba" stroke="#1a1a1a" stroke-width="0.4"/>
<rect x="287.00" y="59.00" width="3.70" height="7.30" fill="#f26d63" stroke="#1a1a1a" stroke-width="0.4"/>
<rect x="149.90" y="28.00" width="46.80" height="38.40" fill="none" stroke="#8c8c8c" stroke-width="0.4"/>
<rect x="198.90" y="28.00" width="46.10" height="38.40" fill="none" stroke="#8c8c8c" stroke-width="0.4"/>
<rect x="247.40" y="28.00" width="44.90" height="38.40" fill="none" stroke="#8c8c8c" stroke-width="0.4"/>
<line x1="148.70" y1="66.30" x2="149.90" y2="66.30" stroke="#444" stroke-width="0.35"/>
<text class="ss" x="148.00" y="67.70" font-size="4.0" text-anchor="end" fill="#333">0</text>
<line x1="148.70" y1="59.00" x2="149.90" y2="59.00" stroke="#444" stroke-width="0.35"/>
<text class="ss" x="148.00" y="60.40" font-size="4.0" text-anchor="end" fill="#333">1</text>
<line x1="148.70" y1="51.70" x2="149.90" y2="51.70" stroke="#444" stroke-width="0.35"/>
<text class="ss" x="148.00" y="53.10" font-size="4.0" text-anchor="end" fill="#333">2</text>
<line x1="148.70" y1="44.40" x2="149.90" y2="44.40" stroke="#444" stroke-width="0.35"/>
<text class="ss" x="148.00" y="45.80" font-size="4.0" text-anchor="end" fill="#333">3</text>
<line x1="148.70" y1="37.10" x2="149.90" y2="37.10" stroke="#444" stroke-width="0.35"/>
<text class="ss" x="148.00" y="38.50" font-size="4.0" text-anchor="end" fill="#333">4</text>
<line x1="148.70" y1="29.80" x2="149.90" y2="29.80" stroke="#444" stroke-width="0.35"/>
<text class="ss" x="148.00" y="31.20" font-size="4.0" text-anchor="end" fill="#333">5</text>
<text class="ss" x="144.80" y="50.00" font-size="4.4" text-anchor="middle" fill="#111" transform="rotate(-90 144.80 50.00)">DEGs Number</text>
<line x1="152.65" y1="66.40" x2="152.65" y2="67.60" stroke="#444" stroke-width="0.35"/>
<text class="ss" x="153.55" y="69.60" font-size="3.3" text-anchor="end" fill="#1c1c1c" transform="rotate(-50.6 153.55 69.60)" textLength="33" lengthAdjust="spacingAndGlyphs">DNA replication initiation</text>
<line x1="157.24" y1="66.40" x2="157.24" y2="67.60" stroke="#444" stroke-width="0.35"/>
<text class="ss" x="158.14" y="69.60" font-size="3.3" text-anchor="end" fill="#1c1c1c" transform="rotate(-50.6 158.14 69.60)" textLength="40" lengthAdjust="spacingAndGlyphs">mitotic cell cycle checkpoint</text>
<line x1="161.83" y1="66.40" x2="161.83" y2="67.60" stroke="#444" stroke-width="0.35"/>
<text class="ss" x="162.73" y="69.60" font-size="3.3" text-anchor="end" fill="#1c1c1c" transform="rotate(-50.6 162.73 69.60)" textLength="46" lengthAdjust="spacingAndGlyphs">chromosome segregation in mitosis</text>
<line x1="166.42" y1="66.40" x2="166.42" y2="67.60" stroke="#444" stroke-width="0.35"/>
<text class="ss" x="167.32" y="69.60" font-size="3.3" text-anchor="end" fill="#1c1c1c" transform="rotate(-50.6 167.32 69.60)" textLength="76" lengthAdjust="spacingAndGlyphs">regulation of transcription from RNA polymerase II promoter</text>
<line x1="171.01" y1="66.40" x2="171.01" y2="67.60" stroke="#444" stroke-width="0.35"/>
<text class="ss" x="171.91" y="69.60" font-size="3.3" text-anchor="end" fill="#1c1c1c" transform="rotate(-50.6 171.91 69.60)" textLength="30" lengthAdjust="spacingAndGlyphs">extracellular matrix assembly</text>
<line x1="175.59" y1="66.40" x2="175.59" y2="67.60" stroke="#444" stroke-width="0.35"/>
<text class="ss" x="176.49" y="69.60" font-size="3.3" text-anchor="end" fill="#1c1c1c" transform="rotate(-50.6 176.49 69.60)" textLength="90" lengthAdjust="spacingAndGlyphs">negative regulation of transcription from RNA polymerase II promoter in stress</text>
<line x1="180.18" y1="66.40" x2="180.18" y2="67.60" stroke="#444" stroke-width="0.35"/>
<text class="ss" x="181.08" y="69.60" font-size="3.3" text-anchor="end" fill="#1c1c1c" transform="rotate(-50.6 181.08 69.60)" textLength="20" lengthAdjust="spacingAndGlyphs">cell adhesion</text>
<line x1="184.77" y1="66.40" x2="184.77" y2="67.60" stroke="#444" stroke-width="0.35"/>
<text class="ss" x="185.67" y="69.60" font-size="3.3" text-anchor="end" fill="#1c1c1c" transform="rotate(-50.6 185.67 69.60)" textLength="18" lengthAdjust="spacingAndGlyphs">angiogenesis</text>
<line x1="189.36" y1="66.40" x2="189.36" y2="67.60" stroke="#444" stroke-width="0.35"/>
<text class="ss" x="190.26" y="69.60" font-size="3.3" text-anchor="end" fill="#1c1c1c" transform="rotate(-50.6 190.26 69.60)" textLength="33" lengthAdjust="spacingAndGlyphs">response to UV light</text>
<line x1="193.95" y1="66.40" x2="193.95" y2="67.60" stroke="#444" stroke-width="0.35"/>
<text class="ss" x="194.85" y="69.60" font-size="3.3" text-anchor="end" fill="#1c1c1c" transform="rotate(-50.6 194.85 69.60)" textLength="39" lengthAdjust="spacingAndGlyphs">collagen fibril organization</text>
<line x1="202.27" y1="66.40" x2="202.27" y2="67.60" stroke="#444" stroke-width="0.35"/>
<text class="ss" x="203.17" y="69.60" font-size="3.3" text-anchor="end" fill="#1c1c1c" transform="rotate(-50.6 203.17 69.60)" textLength="30" lengthAdjust="spacingAndGlyphs">nuclear chromatin</text>
<line x1="207.90" y1="66.40" x2="207.90" y2="67.60" stroke="#444" stroke-width="0.35"/>
<text class="ss" x="208.80" y="69.60" font-size="3.3" text-anchor="end" fill="#1c1c1c" transform="rotate(-50.6 208.80 69.60)" textLength="24" lengthAdjust="spacingAndGlyphs">condensed chromosome</text>
<line x1="213.52" y1="66.40" x2="213.52" y2="67.60" stroke="#444" stroke-width="0.35"/>
<text class="ss" x="214.42" y="69.60" font-size="3.3" text-anchor="end" fill="#1c1c1c" transform="rotate(-50.6 214.42 69.60)" textLength="22" lengthAdjust="spacingAndGlyphs">spindle microtubule</text>
<line x1="219.14" y1="66.40" x2="219.14" y2="67.60" stroke="#444" stroke-width="0.35"/>
<text class="ss" x="220.04" y="69.60" font-size="3.3" text-anchor="end" fill="#1c1c1c" transform="rotate(-50.6 220.04 69.60)" textLength="28" lengthAdjust="spacingAndGlyphs">extracellular matrix</text>
<line x1="224.76" y1="66.40" x2="224.76" y2="67.60" stroke="#444" stroke-width="0.35"/>
<text class="ss" x="225.66" y="69.60" font-size="3.3" text-anchor="end" fill="#1c1c1c" transform="rotate(-50.6 225.66 69.60)" textLength="25" lengthAdjust="spacingAndGlyphs">basement membrane</text>
<line x1="230.38" y1="66.40" x2="230.38" y2="67.60" stroke="#444" stroke-width="0.35"/>
<text class="ss" x="231.28" y="69.60" font-size="3.3" text-anchor="end" fill="#1c1c1c" transform="rotate(-50.6 231.28 69.60)" textLength="15" lengthAdjust="spacingAndGlyphs">nucleoplasm</text>
<line x1="236.00" y1="66.40" x2="236.00" y2="67.60" stroke="#444" stroke-width="0.35"/>
<text class="ss" x="236.90" y="69.60" font-size="3.3" text-anchor="end" fill="#1c1c1c" transform="rotate(-50.6 236.90 69.60)" textLength="14" lengthAdjust="spacingAndGlyphs">cytoplasm</text>
<line x1="241.63" y1="66.40" x2="241.63" y2="67.60" stroke="#444" stroke-width="0.35"/>
<text class="ss" x="242.53" y="69.60" font-size="3.3" text-anchor="end" fill="#1c1c1c" transform="rotate(-50.6 242.53 69.60)" textLength="46" lengthAdjust="spacingAndGlyphs">proteinaceous extracellular matrix</text>
<line x1="250.04" y1="66.40" x2="250.04" y2="67.60" stroke="#444" stroke-width="0.35"/>
<text class="ss" x="250.94" y="69.60" font-size="3.3" text-anchor="end" fill="#1c1c1c" transform="rotate(-50.6 250.94 69.60)" textLength="15" lengthAdjust="spacingAndGlyphs">DNA binding</text>
<line x1="254.44" y1="66.40" x2="254.44" y2="67.60" stroke="#444" stroke-width="0.35"/>
<text class="ss" x="255.34" y="69.60" font-size="3.3" text-anchor="end" fill="#1c1c1c" transform="rotate(-50.6 255.34 69.60)" textLength="22" lengthAdjust="spacingAndGlyphs">protein binding</text>
<line x1="258.85" y1="66.40" x2="258.85" y2="67.60" stroke="#444" stroke-width="0.35"/>
<text class="ss" x="259.75" y="69.60" font-size="3.3" text-anchor="end" fill="#1c1c1c" transform="rotate(-50.6 259.75 69.60)" textLength="64" lengthAdjust="spacingAndGlyphs">RNA polymerase II transcription factor binding</text>
<line x1="263.25" y1="66.40" x2="263.25" y2="67.60" stroke="#444" stroke-width="0.35"/>
<text class="ss" x="264.15" y="69.60" font-size="3.3" text-anchor="end" fill="#1c1c1c" transform="rotate(-50.6 264.15 69.60)" textLength="35" lengthAdjust="spacingAndGlyphs">sequence-specific DNA binding</text>
<line x1="267.65" y1="66.40" x2="267.65" y2="67.60" stroke="#444" stroke-width="0.35"/>
<text class="ss" x="268.55" y="69.60" font-size="3.3" text-anchor="end" fill="#1c1c1c" transform="rotate(-50.6 268.55 69.60)" textLength="46" lengthAdjust="spacingAndGlyphs">extracellular matrix structural constituent</text>
<line x1="272.05" y1="66.40" x2="272.05" y2="67.60" stroke="#444" stroke-width="0.35"/>
<text class="ss" x="272.95" y="69.60" font-size="3.3" text-anchor="end" fill="#1c1c1c" transform="rotate(-50.6 272.95 69.60)" textLength="28" lengthAdjust="spacingAndGlyphs">collagen binding</text>
<line x1="276.45" y1="66.40" x2="276.45" y2="67.60" stroke="#444" stroke-width="0.35"/>
<text class="ss" x="277.35" y="69.60" font-size="3.3" text-anchor="end" fill="#1c1c1c" transform="rotate(-50.6 277.35 69.60)" textLength="40" lengthAdjust="spacingAndGlyphs">metalloendopeptidase activity</text>
<line x1="280.85" y1="66.40" x2="280.85" y2="67.60" stroke="#444" stroke-width="0.35"/>
<text class="ss" x="281.75" y="69.60" font-size="3.3" text-anchor="end" fill="#1c1c1c" transform="rotate(-50.6 281.75 69.60)" textLength="97" lengthAdjust="spacingAndGlyphs">sequence-specific DNA binding RNA polymerase II transcription factor activity</text>
<line x1="285.26" y1="66.40" x2="285.26" y2="67.60" stroke="#444" stroke-width="0.35"/>
<text class="ss" x="286.16" y="69.60" font-size="3.3" text-anchor="end" fill="#1c1c1c" transform="rotate(-50.6 286.16 69.60)" textLength="74" lengthAdjust="spacingAndGlyphs">transcription regulatory region DNA binding activity</text>
<line x1="289.66" y1="66.40" x2="289.66" y2="67.60" stroke="#444" stroke-width="0.35"/>
<text class="ss" x="290.56" y="69.60" font-size="3.3" text-anchor="end" fill="#1c1c1c" transform="rotate(-50.6 290.56 69.60)" textLength="39.5" lengthAdjust="spacingAndGlyphs">calcium ion binding</text>
<polygon points="178.3,66.6 182.5,70.9 123.9,141.5 118.0,136.9" fill="none" stroke="#f0605a" stroke-width="0.6"/>
<polygon points="221.7,66.5 224.9,69.7 204.4,95.7 200.0,92.5" fill="none" stroke="#f0605a" stroke-width="0.6"/>
<polygon points="243.3,67.4 245.7,70.6 213.0,107.8 210.2,105.0" fill="none" stroke="#f0605a" stroke-width="0.6"/>
<text class="ss" x="298.00" y="42.80" font-size="4.4" fill="#111">UpDown</text>
<rect x="298.40" y="44.40" width="5.60" height="5.80" fill="#f26d63" stroke="#1a1a1a" stroke-width="0.4"/>
<rect x="298.40" y="50.20" width="5.60" height="6.00" fill="#1fb6ba" stroke="#1a1a1a" stroke-width="0.4"/>
<text class="ss" x="305.40" y="48.50" font-size="3.6" fill="#222">Up</text>
<text class="ss" x="305.40" y="54.60" font-size="3.6" fill="#222">Down</text>
<text class="ss" x="222.40" y="148.70" font-size="3.8" text-anchor="middle" fill="#111">GoTerm</text>
</g>
<g id="pE">
<rect x="188.20" y="170.50" width="143.60" height="102.90" fill="#a0a0a0"/>
<text class="sf" x="210.70" y="167.60" font-size="5.2" text-anchor="middle" fill="#2f74d0">DAPI</text>
<text class="sf" x="262.00" y="167.60" font-size="5.2" text-anchor="middle" fill="#e23b3b">Tunel</text>
<text class="sf" x="312.30" y="167.60" font-size="5.2" text-anchor="middle" fill="#111">Merge</text>
<text class="sf" x="184.20" y="185.60" font-size="5.2" text-anchor="middle" transform="rotate(-90 184.20 185.60)">Control</text>
<text class="sf" x="184.20" y="221.60" font-size="5.2" text-anchor="middle" transform="rotate(-90 184.20 221.60)">sh-Col15a1</text>
<text class="sf" x="184.20" y="256.70" font-size="5.2" text-anchor="middle" transform="rotate(-90 184.20 256.70)">Ad-Col15a1</text>
<defs><filter id="bl" x="-5%" y="-5%" width="110%" height="110%"><feGaussianBlur stdDeviation="0.35"/></filter><filter id="bl2" x="-5%" y="-5%" width="110%" height="110%"><feGaussianBlur stdDeviation="2.5"/></filter></defs>
<clipPath id="ce00"><rect x="188.2" y="170.5" width="47.00" height="33.50"/></clipPath>
<g clip-path="url(#ce00)">
<rect x="188.20" y="170.50" width="47.00" height="33.50" fill="#010612"/>
<path d="M209.5 189.3h0m22.1-3.2h0m-19.5 4.1h0m-15.2-2.6h0m20.9 9.5h0m-25.2-16.4h0m-0.1 16.9h0m28.3-25.7h0m13.6 30.9h0m-15.5-11.7h0m-23.3-20.1h0m17.4 1.5h0m-15.9 6.1h0m-7.5 7.4h0m19.3 12.7h0m3.7-6.8h0m-0.9 0.8h0m-2-12.9h0m25.4 24.1h0m-7.4-9.7h0m-24.7-16h0m-1.2-5.3h0m22.4 11h0m3.8-0.5h0m5.2 15.5h0m-45-21.4h0m42.8 8.7h0m3.3-2.4h0m-42.7 7.8h0m33.2-12.1h0m-32.5 2.1h0m41.2 14.3h0m-39.8-17.1h0m-0.8-6.3h0m32.8 4h0m-11.2 9h0m-17.3 9.5h0m-2.8-2.9h0m-0.7-7.5h0m4.5-5.1h0" fill="none" stroke="#0a3a90" stroke-width="5.0" stroke-linecap="round" opacity="0.07"/>
<g filter="url(#bl)">
<path d="M233.8 197.4h0m-31.3 2.7h0m-4.4-16.4h0m30.3 8.3h0m-35.5 11.6h0m5.3-24.4h0m26.3 2.3h0m-22.4-8.5h0m-9.7 17h0m7.2 0.6h0m6.1-4.9h0m27.6 1h0m-18.1 12.8h0m-18.4-23.8h0m34.1 22.2h0m-31-21h0m23.1 25.1h0m-25.6 0.3h0m32.3-11.6h0m-21.7-16.7h0m-18 28.7h0m9.4-8.6h0m0.9 4h0m15.9-17.8h0m-19.8 14.3h0m-5-16.4h0m23.1 20.9h0m2.6-19.2h0m14.2-2.6h0m-42.3 2.2h0m20.1-7h0m-12.6 10.4h0m18.6-8h0m-9.9 25.4h0m29.1-7.8h0m-13.6-2.4h0m-25.9-18.4h0m-5.8 29.3h0m32.1 1.8h0m-31.9-11h0m21.7 3.2h0m-7.7 9h0m-11.5-15.2h0m31.1 11.9h0m0-6.6h0m2.7 7.1h0m-20.8-7.7h0m25.8 6.2h0m-22.7-2.7h0m21-7.3h0m-11.2-6.4h0m-2 7.6h0m-23.6 1h0m42.9 8.1h0m-12.5-16.5h0m0.3 6.5h0m-13.8 8.6h0m-16.8-3h0m-2.5-5h0m21.2-12.4h0m10.2 9h0m-3.9 14.1h0m-16.9-30.4h0m2.1 22.3h0m-4.6-17h0m33.1 16.4h0m-21.8 7.8h0m-5.4-7.6h0m-6.1-7.9h0m28.6 16.2h0m3.5-17.7h0m-14-2.3h0m-21 6h0m32.9 11.8h0m-5.9 3.4h0m-20.4-26.1h0m8.2 3.5h0m-11.1 4.7h0m19.3 2.6h0m-14.6 11.6h0m31.4-12.9h0m-42.7-14.1h0m37.5 0.3h0m-7.7 17.7h0m-18.8 7.4h0m-13.6-21.9h0m20.5-3.8h0m17.6 7.2h0m-32.4-6.4h0m23 13.4h0m0 6.9h0m8.3 10.2h0m-5.7-25.4h0m-9.9-0.7h0m-21.8 9.8h0m33.1-9.8h0m-20.8 5.6h0m20 5.8h0m-3.9 7.9h0m-10.4 1.2h0m24.1-23.6h0m1.2 21.3h0m-37.7-9h0m23.3 15.3h0m-11.7-11.4h0m23.6 7.6h0m3.1-11.2h0m-13.8-8.6h0m3.3 20.5h0m-3.7-3.4h0m-20.2 6.1h0m36.1 2.6h0m-20.9-6.2h0m-10.1 4h0m25.1-18.8h0m-36.3 3.1h0m22 10.9h0m-3-24.7h0m15.1 1.1h0m-0.4 3.7h0m-21.9 20.6h0m-9.1-21.4h0m17.7 19.2h0m15.2-1.1h0m5-6.6h0m0.1-13.6h0m-34.2 14.7h0m3.2 6.8h0m16.4-6.9h0m9.7 1.3h0m-25.1-6h0m25.1 17.4h0m-29.9-1.7h0m35.7-10.9h0m-18.6-10.9h0m-1.7 10.2h0m3.2-16h0m17.2 16.4h0m-26.8 9.5h0m7.7-10.4h0m6-14.2h0m-7.2 11.7h0m19.7 17h0m-32.3-15h0m-6.7-1.4h0m32.3 15.7h0m-15.9-19.6h0m-13.4 10.1h0m34.5-16.4h0m-6.9-3.5h0m-27.5 6.8h0m23.2 3.2h0m-15.6 10h0m-11.8 3.7h0m0.9-7.4h0m6-10.5h0m13.1 8h0m-7.2-0.8h0m7.2-8.4h0m-15.3 15.7h0m20.4-3.4h0m10 2.8h0m0.3-12.7h0m-5.5 19.4h0m7.6-16.6h0m-27.6 20.3h0m-4.5 2.5h0m31.4-28.9h0m-30.5 19.8h0m1-21h0m26.9 10.8h0m-2-9.9h0m-18.2 18.8h0m-18.1-16.3h0m31.3 23.8h0m13.4-26.6h0m-21.7 21.5h0m-0.2-2.4h0m-14.7-20.6h0m-3.9-1.1h0m20.9 15.9h0m0.8-12.3h0m-18 1.9h0m30.8 26.4h0m4.1-30h0m-40.7 28.7h0m18.8-6.3h0m-6.3-10h0m8.8-1.2h0m4-14h0m4.7 27.9h0m-24.4-13.1h0m26.2-1.6h0m-25.5-8.1h0m14.9-5h0m17.9 26.4h0m-8.9 1.9h0m-3.5-15.2h0m-1.4 3.3h0m18 10.1h0m-34.1 3.5h0m22.9-4.4h0m3.3-12.5h0m3.8 15.9h0m-9.4-3.8h0m3.3-12.1h0m-2-11.2h0m-17.9 13.3h0m-15.6-3.8h0m29.5 9h0m-19.1 10.7h0m20.4-20.3h0m-0.3 7.8h0m-5.9-6h0m21.9 8.4h0m-14 4h0m13.1-24.7h0m-17.2 23.9h0m-16.8-11.2h0m-9.7-7h0m15.3-3.2h0m-5.9 27h0m14.1-13.3h0m19.6 2h0m1.3 2.4h0m-8.8-18.8h0m-9.9 22.8h0m-26 5.8h0m5.4-15.4h0m0.4 0.8h0m20.8-14.6h0m15.7 12.1h0m-19.6 5.9h0m-7.6-10.4h0m13.6 9.2h0m-17.5 5.2h0m0.6-23.5h0m-2.4 0.9h0m-4.1 23.9h0m10.9 4.8h0m16.9-28.4h0m11.3 29.9h0m-43-1.3h0m16.7-14.3h0m25.5-7.8h0m-21.1 23.2h0m9.4-15.7h0m12 11.7h0m-17.6-23.5h0m0.9 11.4h0m-19.7-13.6h0m15.2 2.5h0m-4 18.2h0m0.6-13.6h0m6 5.3h0m9.2 3.7h0m10.3 14.1h0m-12.4-23.9h0m-29.1 21.9h0m31.5-9h0m-20-11.8h0m15.3 9.8h0m-4.4 2.3h0m7.6-14.8h0m-23.7 26.4h0m31.3-3.4h0m-41.1-27.4h0m10.8 12.2h0m16.6-10.8h0m-3.8-1h0m-21.4 20.3h0m21.8-1.6h0m-8.4-5.1h0m-7.6-4.5h0m25.1 16.6h0m-31.5-24.1h0m34.5 16.9h0m-1.9-13.8h0m-16.2 1.5h0m18.2 3.8h0m-7.4 20.7h0m-15.4-14.7h0m19.8 12.4h0m-15-18.4h0m-15.5 16.9h0m-0.9-26.5h0m22.8 13.4h0m5.7-6.2h0m4.2-7.5h0m-26.4 19.7h0m-6.2-12h0m30.3 13h0m-20.8-18.4h0m3.5 19.5h0m0.4-20.4h0m16.1 15.2h0m9.9 12.4h0m-0.3-16.8h0m-5.2-4.5h0m-22.8 3.2h0" fill="none" stroke="#164eb4" stroke-width="1.0" stroke-linecap="round" opacity="0.8"/>
<path d="M232.1 200.5h0m-32.2-17.9h0m5.5 0.1h0m1.4 0.8h0m-9.4 5.9h0m28.3-0.8h0m1.8 0.8h0m-31 6.5h0m33.1-16h0m-40.4 7.9h0m24.6 1.7h0m19.8 2.8h0m-7.6-19.7h0m-12.1 24.3h0m-21.7-23.7h0m30.6 27.4h0m-30.6-8.9h0m2.8 3.8h0m23.7-16.8h0m-20.1 17.4h0m14.1 0h0m-6-14.3h0m27 11.2h0m-22.3-4.5h0m10.7 5.7h0m9.1-9.9h0m-4.2 8.5h0m1.3 4.7h0m-0.9 2.8h0m5.8-8.4h0" fill="none" stroke="#1856c0" stroke-width="1.25" stroke-linecap="round" opacity="0.9"/>
</g>
<line x1="219.70" y1="203.10" x2="234.20" y2="203.10" stroke="#f4f4f4" stroke-width="1.0"/>
<text class="sf" x="226.95" y="202.00" font-size="3.0" text-anchor="middle" fill="#e2e2e2">200 μm</text>
</g>
<clipPath id="ce01"><rect x="236.3" y="170.5" width="47.50" height="33.50"/></clipPath>
<g clip-path="url(#ce01)">
<rect x="236.30" y="170.50" width="47.50" height="33.50" fill="#060101"/>
<ellipse cx="257.7" cy="187.2" rx="19.9" ry="14.1" fill="#a01008" opacity="0.1" filter="url(#bl2)"/>
<g filter="url(#bl)">
<path d="M261.2 194.3h0m13.2-9.7h0m-18.1-9.2h0m15.2 28.3h0m-17.4-27.6h0m-8.1 8.6h0m4.2 18.3h0m-11.1-22.2h0m2.7 11.4h0m31.4-15.7h0m-33.9 9.4h0m24.7 15.1h0m-26-26.9h0m7.1 3.7h0m2.4 16.7h0m17.1-16.5h0m-19.5 1.9h0m-0.6 16h0m6.6-7h0m24-2.3h0m-26.4 13.6h0m31-18.2h0m-17.4 20.6h0m-3.1-24.7h0m-20.5 24.3h0m35.7-18.8h0m-13 4.4h0m-12.1 15.9h0m18.2-25.2h0m-30.7 7.8h0m17.1 10.9h0m16.3-6.4h0m-26.4-15h0m7.8 3.4h0m26 8.6h0m-11 16h0m-17.6-15.4h0m-5.5 7.9h0m-7.1 1.7h0m40.1 0h0m-36.3-18.5h0m30.1-5.7h0m-11.2 12.4h0m22.6 4h0m-4.7-9.5h0m-3.2 3.8h0m6-11h0m-4.2 4h0m-13.5 10.6h0m-18.3 10.3h0m7.3-17.5h0m-11.2-0.2h0m18.6 13.8h0m-5.1-1h0m-12.1-9.8h0m16.9 19.2h0m17.5-10.5h0m-38.8-9.3h0m33.1-4.6h0m-6.9 7.3h0m-26.3 17.9h0m37.5-26.3h0m-8.7 2.8h0m-11.4 8.4h0m-3.7-6.8h0m4.4 11h0m-6.4-15.6h0m22.5 4.3h0m10.2 7.9h0m-10.5-7.8h0m4.9-8h0m-32.6 0.1h0m25.5 20.5h0m-23.7-10.2h0m31.3 6.4h0m-35.5-12.3h0m3.2-3.4h0m11.8-1.8h0m24.4 11.9h0m-19.4 7.4h0m12.1 5.8h0m-18.1-16.4h0m1.3-10.6h0m-0.6 22.9h0m27.6 3.1h0" fill="none" stroke="#8c1410" stroke-width="0.95" stroke-linecap="round" opacity="0.595"/>
<path d="M250 177.6h0m17 10.5h0m-17.6 9.3h0m16.3-5.1h0m-26.4-5.9h0m24.9-9.4h0m3.2 22.2h0m1.1-18h0m-18.2 13.9h0m17.8 2.4h0m2.1-11.1h0m-16.8-14.7h0m12.5 34.6h0m-13.1-23h0m11.7 7.1h0m-21.1-9.1h0m2.8 22.9h0m4-9.8h0m27.5 8.7h0m-5.1-2.2h0m-27.8-16.5h0m5.3 0.4h0m35-11.6h0m-21.6 3.7h0m8.2 21.2h0m-19.4 6.5h0m6.2-6.4h0m2.4-15.6h0m-7.2 3.7h0m10.4 2h0m18.2-2.7h0m-29.5-4.4h0m-3.2-6h0m-2.2 19.6h0m10.9-9h0m3 10.4h0m2.8-2.5h0m-12.3-8.6h0m-2.2 1.3h0m-0.5-2.3h0m6.7 1.3h0m-0.9-2.3h0m16.5 1.3h0m-24.3 4.5h0m-0.8-10.6h0m12.3-5h0m-34.6 16.4h0m44.5-16.4h0m-20.2 18.8h0m-11.4-12.2h0m8.2 5.7h0m-8 9.1h0m19.1-4.9h0m-2-20.3h0m1.9 6.5h0m1.7 4.1h0m-3.4 5.4h0" fill="none" stroke="#b01c14" stroke-width="1.0" stroke-linecap="round" opacity="0.63"/>
</g>
<line x1="268.30" y1="203.10" x2="282.80" y2="203.10" stroke="#f4f4f4" stroke-width="1.0"/>
<text class="sf" x="275.55" y="202.00" font-size="3.0" text-anchor="middle" fill="#e2e2e2">200 μm</text>
</g>
<clipPath id="ce02"><rect x="285.0" y="170.5" width="46.80" height="33.50"/></clipPath>
<g clip-path="url(#ce02)">
<rect x="285.00" y="170.50" width="46.80" height="33.50" fill="#020612"/>
<path d="M290.8 185.5h0m17.7-1.7h0m-21.1 10h0m22.2-15.3h0m-10.3 5.3h0m-3.3-11h0m31.6 30.1h0m-11.4-3.4h0m-11.5-2h0m-9.3-2h0m16.1 5.3h0m-21.9-3.8h0m1.2-8.5h0m38.7-18h0m-33.1 10h0m3.8-7.9h0m26.7 25.2h0m-23.3-15.4h0m8.8-10.4h0m-25.9 28.6h0m12.9-13.4h0m29.3 16h0m-21.6-25.8h0m-8.3 24h0m28.2-24.4h0m-2.8 5.4h0m-17.1-6.1h0m19.1 27.5h0m-31.7-12.1h0m-0.5 8.3h0m-6.7-25.9h0m31.7 6.9h0m8.1 18.6h0m-8.7-24.6h0m-0.8 26.9h0m-11.8-28.8h0m-10.4 7.7h0m22.9-3.7h0m-24.8 1.3h0m22.6 18.6h0" fill="none" stroke="#0a3a90" stroke-width="5.0" stroke-linecap="round" opacity="0.07"/>
<ellipse cx="303.7" cy="187.2" rx="19.7" ry="14.1" fill="#a01030" opacity="0.12" filter="url(#bl2)"/>
<g filter="url(#bl)">
<path d="M302.4 192.7h0m24-2.4h0m-30.7-9.7h0m32.7 12.2h0m-30.4-0.9h0m-8.8 11.5h0m16.4-15.2h0m4.2-16.2h0m3.3 8h0m-16.4 17.4h0m-7.6-17.3h0m31.3-1.4h0m-22.3 10.2h0m-4.4 11.7h0m37.5-29h0m-24.6 24h0m-3.6 6h0m5.4-25.1h0m2.6 15.6h0m-9.2 0.5h0m19.8-4.8h0m-12.9 11h0m8.3-10.9h0m12.5-11.6h0m-8-0.3h0m-8 2.4h0m-7.9 18h0m16.2 0.6h0m-25.8-10.1h0m-0.6 3h0m13-18.2h0m4.5 22.7h0m-1.1 5.3h0m-18.4-24.1h0m-7.6 11.5h0m19.5-1.8h0m-8 12h0m-8.9 3.6h0m23.2-12.2h0m10.4-10.2h0m-30.2 2.4h0m-4.8 0.1h0m27.1 7.1h0m-16.7 2.1h0m-8.3 7.8h0m3.9-19h0m-0.5 14.6h0m31.4 3.3h0m-36-12.6h0m14.2-6.6h0m28.3-5.8h0m-22.5 24.1h0m23.3-20.7h0m-24.9 20.2h0m-19.5-16.9h0m39.9-3.4h0m-23.3 5.3h0m1.5-7.4h0m-18.3 30.8h0m34.1-8.8h0m-24.9-16.1h0m15-0.4h0m-4.2 23.1h0m-4.6-19.9h0m28.9 9.2h0m-44-7h0m28.5-11.5h0m-14.3 21.3h0m24.4-3.5h0m1-4.3h0m-23.1 12.7h0m-0.6-2h0m-7.7-14.6h0m-1.5 6.8h0m-0.9-11.6h0m2.3 8.9h0m4.4-0.7h0m32.1 7.8h0m-6.1-15.9h0m-22.5-4.5h0m14.5 9.8h0m-19.6-11.6h0m-4.3 8.2h0m9.9 22.1h0m15.1-21.9h0m-16.6-3.9h0m26.9 7h0m-8 12.1h0m6.7-23.5h0m-27.4 12.2h0m-11.2 16.7h0m11.3-3.8h0m9.1-24h0m-5.9 6.2h0m-16.5-2.9h0m26-4h0m-13.3 13.1h0m10.9-9.6h0m7.6 4.1h0m0.9 13.6h0m-27.1-15.4h0m6.2 17h0m5.9-11h0m21.5-5.3h0m-26.8 4h0m-3.6-10.2h0m-9 19.7h0m25.4 6h0m19.2-17.1h0m-14.3 20.8h0m-21.3-7.7h0m21.1 8.9h0m9.4-24.1h0m-11-4.9h0m-9.6 10.1h0m-17.2-0.3h0m12.6 3.9h0m-2.3-11.4h0m5.7 10.6h0m-11 6.4h0m3.4-19.2h0m4.8 11h0m-8.9 5.4h0m25.7-1h0m0-17.7h0m-14.5 11.4h0m-15.4 1.3h0m-0.3 3.1h0m24.8-0.9h0m-12.2-7.2h0m-14.1 3.1h0m40.6 7.4h0m-29.4 3.4h0m-3.6-6.7h0m20.1 16.3h0m-11.8-12.7h0m27.1 6.5h0m-14.7-5h0m-10.2-6.9h0m-6.3 13.9h0m28.3-15h0m1.4-11.5h0m-36.2 15.7h0m8-4.9h0m31.3-7.1h0m-36.7 2.7h0m22.8 0.2h0m-31.8 10.3h0m18.4-10.2h0m4.7 13.8h0m2.6-0.9h0m0.5 6.9h0m19.1-16.6h0m-29.1 18.5h0m-1.5-5.7h0m17.8-1h0m12.6 4.6h0m-37.6-6.8h0m15.5-1.9h0m-5.7-9.3h0m17.8 8.3h0m-24-9.5h0m4.1-2.4h0m8.8-1.8h0m-21-1.9h0m1.8 21.3h0m0.5-8.5h0m30.8 1h0m-28.5 12.9h0m33.1-27.2h0m-28.8 15.2h0m25.4-3.9h0m-3.8-4.7h0m0 2.5h0m-17.9 14.5h0m23.8 2.4h0m-12.8-13.7h0m6.5 6.8h0m5.8 5.9h0m-33-14.2h0m25.4-4.9h0m-22.7-7.2h0m18.8 31h0m18-27h0m-13.2 9.5h0m-2.6-0.7h0m14.1 19.8h0m-41.4-9.2h0m3.2-22.5h0m7.9 23.1h0m33.1-20.5h0m-31.1-3.1h0m10 15.3h0m-7.9-5.8h0m20 17.7h0m-24.2-15h0m15.6 12.5h0m17-12.6h0m-13.4 5.3h0m4.9-13.4h0m-29.2-1.3h0m35.5 4.8h0m-20.8-4.4h0m-7.8-3.4h0m11.4 4.2h0m2.8 4.4h0m-18.7 7h0m6.5-7.5h0m-14.7-6.5h0m39.4 8.2h0m-38.1-4.3h0m18.9 27.3h0m-13.1-4.3h0m13.2-15.2h0m15.1-0.6h0m-35.1 5.1h0m28 2.5h0m-17.7 10.6h0m27.5 1.8h0m-19.8-5.4h0m13.2-22h0m-32.6-0.2h0m4.3-3.2h0m11.2 22.7h0m-2.3-8h0m-14-10.2h0m44.4-6.6h0m-20.2 26.7h0m12.4-2.5h0m-18.4 2.3h0m20-1.2h0m7.4-22.3h0m-1.6 10.1h0m-11.5-5.1h0m9.6-7.6h0m-15.6 6.8h0m-8.8 4.8h0m12.5 14.8h0m-13.6-5.8h0m-0.5-12h0m25.8 1.4h0m-38 0.4h0m30.3-4.1h0m0.1 11.2h0m-3-12.4h0m-26.8-1.1h0m11.4 9.6h0m-16 2.4h0m18.5-6h0m6.2 21.1h0m-15.5-2.4h0m5.4-4.2h0m-9.9 7.8h0m15-0.9h0m-9.8-18.5h0m22.7-7.7h0m-20.2 16.7h0m31.6-11.9h0m-35.8 1.2h0m37.7-7h0m-16.6 7.7h0m0.4-5.6h0m-1.3 22.6h0m11.3-8.6h0m-16.5-2.1h0m-18.3 9.1h0m27-12.9h0m-1.2-1.2h0m-13.1-6.3h0m10.1 11.5h0m-4-18.1h0m5.3 13.9h0m-1.6 4.9h0m15.8-14.8h0m-21.7 28.2h0m12.6-22.8h0m0 22.6h0m-15.7-4h0m-12.9 4.1h0m17.1-25.4h0m16.3 13.9h0m4.6 6.1h0m-6.6-10.7h0m9.2-14.9h0m-5.8 21.6h0m-29 3.2h0m9.6-9h0m19.2-11.4h0m-27.4 15h0m-9.7-3h0m33.4-2.2h0m-25.5 10.4h0m28.7-1h0m-14.3 4.5h0m11.6-25.2h0m-20.2-1.7h0m-15.4 8.2h0m38.8 16.3h0m-35-21.8h0m12.7 22.3h0" fill="none" stroke="#164eb4" stroke-width="1.0" stroke-linecap="round" opacity="0.8"/>
<path d="M313.9 200.7h0m-25.5 2.9h0m6.3-12h0m31.3 3.3h0m-31.8-2h0m11-21.9h0m-4.3 10.1h0m13.6-1.3h0m-1.3 14h0m-19.7-19h0m24 11.3h0m-26.5-11.7h0m38 16.5h0m-27.3-13.8h0m29.9 16.6h0m-12.1-11.1h0m-20 1.6h0m-7.7 7.4h0m13.1 6.4h0m-0.8-12.2h0m4.6 16.2h0m-7.5-7.9h0m-5.2-4.2h0m2.3 9.8h0m0.1-0.6h0m18.3-13.4h0m12-2.2h0m-8.9 7.1h0" fill="none" stroke="#1856c0" stroke-width="1.25" stroke-linecap="round" opacity="0.9"/>
<path d="M306 172.7h0m-1.4 7.2h0m1 22.6h0m-6.9-8.7h0m17.8-15.1h0m-12.2-3.8h0m22.6 4h0m-22.2 3h0m18.7 17.1h0m-10.8-10.2h0m-22.9 11.7h0m-0.6-17.8h0m13.4 12h0m13.8-12.7h0m10.7 20.3h0m-40.9-10.6h0m20.9-9.1h0m-0.2-1.5h0m9.6 9.7h0m14 12.4h0m1.1-19.5h0m-7.7 8.6h0m-6 11.6h0m-29.7-17.9h0m15.7 6.5h0m-8.6 11.2h0m-0.4-20.8h0m-3.1 0.8h0m28-10.4h0m-26.9 18.9h0m21.4 3.2h0" fill="none" stroke="#883088" stroke-width="1.0" stroke-linecap="round" opacity="0.7"/>
<path d="M303.3 202.5h0m-1.7-29.6h0m10.6 20.8h0m11.8-4.8h0m0.3-7.7h0m-11.1 7.2h0m-21.9-3.5h0m26.3 11.9h0m-17.8-0.1h0m13.4-1.8h0m-6.4-5h0m-11.6-3.2h0m9.9-5.7h0m-4.3 7.7h0m5.2 7.5h0m-12.9-12.3h0m13.5 0.2h0m0.6-0.8h0m8.9 2.1h0m-24.2 8.2h0m29.2-22.6h0m-18.7 16.9h0m12.1 12.1h0m-12.4-25.9h0m8.6 21.7h0m-2.1-7.8h0m-13.3 19.9h0m-4-33.4h0m22.7 15.2h0m-3.2 0.6h0m10.5 9.1h0" fill="none" stroke="#a83898" stroke-width="1.05" stroke-linecap="round" opacity="0.7"/>
</g>
<line x1="316.30" y1="203.10" x2="330.80" y2="203.10" stroke="#f4f4f4" stroke-width="1.0"/>
<text class="sf" x="323.55" y="202.00" font-size="3.0" text-anchor="middle" fill="#e2e2e2">200 μm</text>
</g>
<clipPath id="ce10"><rect x="188.2" y="205.2" width="47.00" height="33.60"/></clipPath>
<g clip-path="url(#ce10)">
<rect x="188.20" y="205.20" width="47.00" height="33.60" fill="#010612"/>
<path d="M203.7 221.6h0m15.2 13.4h0m13.8-10.7h0m-21 11.3h0m-5-20.3h0m16.2-1.4h0m-17.4 5.7h0m5.1-2.4h0m-2.2 3.1h0m-17.9 13h0m0.6-10.4h0m22.8-4.3h0m-15.2-10.1h0m7 7.3h0m5.2-2.9h0m12.5 8.7h0m-34.8-2.7h0m45-13.5h0m-17.5 32.1h0m-10.7-12.2h0m0.1-10h0m11.3 9.7h0m-13.8-3.1h0m9.5 8.6h0m-21.8-22.2h0m9.3 6h0m25.6 5.2h0m3-0.8h0m-27 9.3h0m-9.4 10.3h0m35.1-22.1h0m-24.2 16.5h0m22.2-5.9h0m-34.4 4.1h0m-0.4-4.7h0m23.6 10.2h0m4.1-30.4h0m13.9 24.5h0m-16.6-25.1h0m7.3 13.9h0" fill="none" stroke="#0a3a90" stroke-width="5.0" stroke-linecap="round" opacity="0.07"/>
<g filter="url(#bl)">
<path d="M220.1 238.3h0m11.2-30.6h0m-6.4 12.3h0m-1.4-2.1h0m-14.3 2h0m-15.5-4h0m29-8.3h0m-29.1 25.6h0m25.9-9.6h0m-26-14.4h0m9.3 28h0m11.7-1h0m-16.4-17.1h0m15.3 14.3h0m-19.4 1.2h0m16.4-28.3h0m-1.9 11.6h0m11.4 18.5h0m-8.5-8h0m-5 3h0m-13.3-1.3h0m2.9-5.2h0m1.7-8.1h0m-1.8 0.2h0m20.1 5.7h0m-9.5 1.8h0m21.3-7.3h0m-12.2 4.1h0m18.7-5.1h0m-13.3-3.2h0m-20.5 16.7h0m14.7-15.9h0m-24 19.1h0m14.7-3.6h0m2.6-3.3h0m6 12h0m16.5-17.5h0m-19.9-7.5h0m12.5-4.4h0m-21 25.1h0m-12.8-5h0m25.1-5h0m-11-13.4h0m29 20.6h0m-6.8-22.4h0m-1 4h0m-27.5 10.7h0m19.3-13.9h0m7.2 15.5h0m6.4 11.4h0m-9.9-18.8h0m12.3 11.9h0m-31 4.7h0m20.5-19.9h0m-22.5-8.2h0m13.5 7.8h0m-11.4 0h0m-7.6 7.8h0m6.6-6.7h0m0.2 7.5h0m28.1-11.7h0m-0.7 23.3h0m-11.8-10.4h0m5.9-0.3h0m-3.5 12.9h0m5.4-22.2h0m-33.8 22.8h0m14.4-5h0m-6-11.3h0m6.4 9.3h0m27-7.5h0m-17.8-5.3h0m-15.7 20.2h0m-5.7-0.3h0m25.7-29.2h0m11.5 1h0m-15.8 0.6h0m19.9 6.4h0m-5.5-8.3h0m-9.7 0.2h0m-29.9 16.9h0m44.8 3.8h0m-6 3.4h0m-15.7-23.8h0m0.3 3.6h0m0 5.7h0m-1.3-5.3h0m9.6 7.4h0m-10.3-11.4h0m0.1 16.1h0m22.8 0.2h0m-39.4-8.8h0m9.5 13.5h0m28.3 9.2h0m0.5-1.7h0m-4.2 0.3h0m-39.5-14.9h0m26.9 6.5h0m1-2.4h0m15.1-17.7h0m-19.5 29.3h0m-22.9-28.4h0m39.3 28.4h0m-39.7-31.1h0m37.9 22h0m-14.6-3.6h0m11.2 7.6h0m-35.6-24.8h0m37.3 30.5h0m1.9-19.1h0m-23.4-2h0m-15.1 14.2h0m11.6-6.2h0m12.4-8.4h0m7 4h0m-20.7 14.3h0m-2.7-24.6h0m3.6 11.1h0m24.9-4.9h0m-25.6 10.8h0m1-4.4h0m-0.2 11.9h0m-3.3-21.7h0m5.5 3.3h0m19.9 11.6h0m3-4.6h0m-33.4 7.6h0m7.8-18.4h0m8 26h0m-2.1-21.3h0m25.4 21.3h0m-24.6-28.7h0m18.9 21.7h0m-21.2 0.3h0m1.9-17h0m10.1 15.3h0m-5.5 2.6h0m-21.7-10.7h0m17.2-14.6h0m25.1 2.6h0m-33.3 24.7h0m35.4 1.8h0m-29 0h0m-9.4-7.3h0m37.7-17.5h0m-38 16.3h0m35.1 1.6h0m3.1-9.2h0m-27.1-11.2h0m-4.7 27.5h0m-9.4-25.3h0m12.9-4.5h0m-1.9 4.4h0m-8.6 11.6h0m19.6 1.4h0m10.4-1.4h0m8.7-15h0m-34-0.1h0m4 23h0m28.9-8.7h0m-35.9-5.8h0m19.2-1.2h0m10.6 22.8h0m-15.7-12.4h0m18.2-4.7h0m-30.8 16.1h0m37-30.9h0m-10.2 12.7h0m-33.4-8h0m5.7 19.2h0m1.8-24h0m0.4 26.2h0m13.2-5h0m-1.6-15.8h0m-21.2 4.1h0m1.3-1.4h0m27.1 3.6h0m-6.9 8.6h0m-7.3-9h0m26.6 7.5h0m-21.9-1.4h0m2-6.9h0m21.3-3.4h0m1.1 20.9h0m-2.5-23.2h0m-17.6 27.6h0m-10.3-27.4h0m20.4 2.2h0m-6.6-2.6h0m17.1 4.2h0m-39.9 13.6h0m11.7-4.3h0m7.1 12.2h0m0.8-18.3h0m-24.1 4h0m12.5 2.6h0m17.1-3.8h0m-25.5 1.2h0m18.4 4.8h0m23-12.1h0m-24.8-6.6h0m16.8 5.1h0m1.4 18.9h0m-27 3.5h0m11.7-16h0m2.4 17.5h0m-3.1-15.6h0m-9.3 12.1h0m9.9-16.8h0m-14.4-4.3h0m30 19.8h0m6.8 3.8h0m-13.8-4h0m1.2 0.4h0m4.3-21.3h0m0.6 4.3h0m-26.8 20.7h0m-10.4-13.7h0m15 9.4h0m12.6 4h0m15.1-9h0m-40.8 0.8h0m2.1 10.6h0m35.9-22.6h0m-32.3 12.9h0m26.9 9.8h0m-6.3-28.9h0m4.9-2.2h0m6.6 23.8h0m-3.9 3.6h0m-10.2 2.3h0m3.3-15.2h0m-11.9-4.6h0m-17-6.5h0m36.3 2.3h0m-6.7 18.3h0m1.9-8.7h0m-17.7-8.1h0m-6.1 12.6h0m23.5 9.9h0m-16.8-0.5h0m27.3-21.4h0m1.9 11h0m0.5 5.2h0m-29.5-16.6h0m8.9 7h0m-22.9 12.6h0m23.5-13.1h0m9.8-7.5h0m-25.6 11.1h0m1.9-8.5h0m-8-9.2h0m13.4 15.9h0m27.9 3.8h0m-25.1-7.8h0m-8.4 2.2h0m34-11.8h0m-24.7 18.9h0m15.4-4.3h0m-5.7 12.8h0m12.3-23.1h0m-17 25.1h0m-0.6-27.1h0m11.2-4.5h0m-28.9 16.6h0m5.7 5.7h0m21.4-13.5h0m1.8 11.1h0m-2.8-6.5h0m-12.9-11.7h0m2 28.5h0m19.5-30.2h0m-38.5 7.2h0m29.3 5.6h0m-26.6-0.4h0m20.9 10.7h0m-8-3.2h0m13.1-1.1h0m-29.8 3.2h0m3.8-22.1h0m16.3-1.2h0m-18.9 12.5h0m18.6-9.6h0m22.8 25.1h0m-21.9-8.9h0m-8.1 13.4h0m-9.2-22.9h0m4.8 18.9h0m13.5-15.3h0m-5.2 16h0m-6.6-3.2h0m21.2-11.5h0m-16.1-0.4h0m4.1-4.1h0m8 3.2h0m-15 12.2h0m7.1-10.1h0m19.9-0.6h0m-23.6 14.9h0m28.2-3.8h0" fill="none" stroke="#164eb4" stroke-width="1.0" stroke-linecap="round" opacity="0.8"/>
<path d="M207.1 227.8h0m15.9-12.6h0m-0.8 21.9h0m-3.2-9.4h0m-10.3-0.5h0m-9.9 3.9h0m14.7 7h0m-9.2-9h0m-15.3-9.9h0m35.2-5.3h0m-7.2-1.3h0m-10.1 26h0m-9.5-2.7h0m-6.4-11.1h0m35.8 8.5h0m-20.2-8.3h0m15.1 5.8h0m1.6-6.1h0m-23.3 4.2h0m14.6-5.4h0m20-13.7h0m-9.7 6.3h0m-2.6 21h0m-21.2-12.8h0m11.9-2.5h0m-16.9 4.4h0m34.1 1.3h0m-28.4 4.8h0m6.1-22.2h0m8.8 10.6h0" fill="none" stroke="#1856c0" stroke-width="1.25" stroke-linecap="round" opacity="0.9"/>
</g>
<line x1="219.70" y1="237.90" x2="234.20" y2="237.90" stroke="#f4f4f4" stroke-width="1.0"/>
<text class="sf" x="226.95" y="236.80" font-size="3.0" text-anchor="middle" fill="#e2e2e2">200 μm</text>
</g>
<clipPath id="ce11"><rect x="236.3" y="205.2" width="47.50" height="33.60"/></clipPath>
<g clip-path="url(#ce11)">
<rect x="236.30" y="205.20" width="47.50" height="33.60" fill="#060101"/>
<ellipse cx="257.7" cy="222.0" rx="19.9" ry="14.1" fill="#a01008" opacity="0.03" filter="url(#bl2)"/>
<g filter="url(#bl)">
<path d="M261.5 238.5h0m1.8-1.3h0m-10.3-6.5h0m-13.1-15.4h0m29.3 13.1h0m6.5-10.4h0m-26.4-0.8h0m12.5-11.2h0m-7.7 21.3h0m-10.7-11.6h0m34.3 20.9h0m-29.5-25.4h0m-6.3-3.1h0m32.1 21.9h0m-25.1-8.4h0m20.4-15.5h0m5.9 28h0m-28.9-5.3h0m23.2-12.3h0m8.5-4h0m-19.2 3.2h0m-1.5 16.8h0m6.1-6.8h0m19.8-13h0m-36.3 13.3h0m-3.5 11.6h0m9.1-17.6h0m4.3 13h0m23-5.1h0m-35.4-10.8h0m25.5-4.6h0m8.3 22h0" fill="none" stroke="#8c1410" stroke-width="0.95" stroke-linecap="round" opacity="0.3825"/>
<path d="M259.1 229.9h0m0.8 5.4h0m13.2-9.5h0m3.1 2.4h0m-31.8-9.2h0m15.9 4.4h0m-20.9 18h0m1.4-29.2h0m21.3 11.3h0m11.6 0.2h0m-12.3 4.3h0m-11.8-17.2h0m2.9 19.7h0m1.9 2h0m-2.8-4.3h0m6.1 0.8h0m-0.2-5.5h0m-5 8.9h0m4.6-6.3h0m7.2-11.9h0m-15.6 7.3h0" fill="none" stroke="#b01c14" stroke-width="1.0" stroke-linecap="round" opacity="0.405"/>
</g>
<line x1="268.30" y1="237.90" x2="282.80" y2="237.90" stroke="#f4f4f4" stroke-width="1.0"/>
<text class="sf" x="275.55" y="236.80" font-size="3.0" text-anchor="middle" fill="#e2e2e2">200 μm</text>
</g>
<clipPath id="ce12"><rect x="285.0" y="205.2" width="46.80" height="33.60"/></clipPath>
<g clip-path="url(#ce12)">
<rect x="285.00" y="205.20" width="46.80" height="33.60" fill="#020612"/>
<path d="M326.5 230.5h0m-12.4-3.1h0m3.3-5.4h0m-13.1-3.7h0m4.3 2.6h0m1.2 2.2h0m12.1 12.1h0m-26.4-29.3h0m3.6 0.4h0m23.2 19.7h0m-23.9-14.4h0m27.3 21.7h0m-8.7-4.9h0m2.8-7.9h0m-16.2 3.3h0m22.6 14.7h0m1.7-5.2h0m-39.4-19.8h0m41.9 10h0m-21.3-7.9h0m16.2 7h0m6-14.9h0m0.2-2.1h0m-39.6 12.7h0m23-9.4h0m-3.6 27.9h0m-5.9-6h0m7.3-6h0m-19.6-4h0m34 7.1h0m-32-7.7h0m15.3-3.7h0m1.6 9.9h0m-26.2-13.8h0m29.9-0.2h0m-27.3 18.4h0m12.2 6.6h0m10.5-28.8h0m3.7 5.4h0m8.3 15.5h0" fill="none" stroke="#0a3a90" stroke-width="5.0" stroke-linecap="round" opacity="0.07"/>
<ellipse cx="303.7" cy="222.0" rx="19.7" ry="14.1" fill="#a01030" opacity="0.03" filter="url(#bl2)"/>
<g filter="url(#bl)">
<path d="M320.5 207.1h0m-33.9 24.9h0m5-20h0m-5.2-1.3h0m20.8 26.7h0m-7.2-23.5h0m23.7-2.5h0m-9 14.5h0m14.1-19.2h0m-17.4 11.4h0m12.1-4.4h0m-5-2.3h0m-10.3 26.3h0m-12-23.1h0m31.7 13.3h0m-39.8-16.4h0m8 3.4h0m28.4 13.8h0m6.4-1h0m-16.5-9.6h0m4.2 3.7h0m-30.8-0.1h0m15.2 1.3h0m-15.7-16.9h0m43.7 11.6h0m-30.6-7.5h0m12.3 25.7h0m-19.3-13.9h0m15 8.9h0m3-17.7h0m-17.5 16.3h0m-5.2 4.8h0m-2.1-22.7h0m20.3 22h0m7.1-3.3h0m6.6-0.8h0m-33.2 3.4h0m4.5-22.2h0m-5.1-4.5h0m39.2 11.8h0m-37-11.2h0m35.6 18.6h0m3.3-18.9h0m-37.6 8.3h0m3.6-5.8h0m0.5 17.7h0m-1.5-15.8h0m17.2 6.9h0m-18.1 6.5h0m16.8-6.1h0m-1.6-11.7h0m6.6 5.2h0m-13.1-6.2h0m25.8 19.4h0m-23.1-1.5h0m25.6-13.8h0m-26.1 19.4h0m-0.5-0.1h0m25.1-22.3h0m-29.2 8.4h0m21.8 16.6h0m-2.4 4.7h0m-24-17.9h0m31.2 12.5h0m-34.6 7.2h0m29.4-3.8h0m-17.8-8.8h0m28 9.9h0m-17.9-0.3h0m19.8-1.7h0m-16.1 4.1h0m-24-18.7h0m19.7-9.2h0m10.1-2.3h0m-7.1 7.3h0m-14.3 11h0m-6.1-5.4h0m31.1 18.2h0m-27.8-20.9h0m20.2-5.9h0m7.2 0.3h0m-13.6 4.7h0m-26-11.4h0m0 11h0m12.8 22.3h0m16.9-31.1h0m3.7 5.6h0m-11 16.5h0m17.6 7.1h0m-20.4-20.7h0m-1.1-0.2h0m16.1 5.1h0m-2.6-10.5h0m4.5 27.4h0m-27.1-11.8h0m-1.9-19.5h0m11.8 5h0m14.8 13h0m-2.6 13.3h0m-28.9-29.2h0m-1 12.1h0m36.9 7.6h0m-13 5.8h0m-8.2-25h0m12.6-2.9h0m-19.3 0.1h0m-3.1 1.1h0m17.3 2.2h0m3.3 23.4h0m-12.1-23.7h0m15.3 20.5h0m10-5.9h0m-14.2 10.4h0m4.5 3.8h0m-18.3-6.8h0m16.2-10.3h0m-29.1 0.3h0m11.8 4.2h0m11.5-3.1h0m-21-12.7h0m25.6 18.5h0m18 3.7h0m-32.8-11.3h0m10.1 11.7h0m-5.2 3.9h0m4.1-17.5h0m-0.1-1.4h0m24.3-10.4h0m-28.1 1.1h0m13 2.4h0m-24.7 9.1h0m21.2 11.5h0m-7.4-15.8h0m-3.6 19.9h0m-7.2-29.4h0m31.5 15.8h0m-35.3-11.6h0m35.5 20.6h0m-38.7-2.5h0m7-7.7h0m18.3-13.3h0m15.5 9.6h0m-37.1 14.9h0m-1.6-25h0m25.4 14.6h0m11.6 10.8h0m-32.4-25.1h0m18.5 14.3h0m-14.1 15h0m-4.3-9.2h0m-6.4 9.4h0m41-10.2h0m-29.4 3.5h0m27.3 2.4h0m-40.4-9.8h0m4.6 1.5h0m38 10.7h0m-32.9-10.6h0m3.3-12.8h0m19.9 19.8h0m-19-11.4h0m16.8 10.3h0m-10.9-20.4h0m-17.2 1.7h0m34.2 11h0m-8.5-4.5h0m-12.9-6.3h0m28.3 14.4h0m-39.6 3.3h0m22-3h0m8-0.2h0m5 12.2h0m-22-10.8h0m-1.5-8h0m-0.4 7.9h0m-0.6-9.9h0m23.1 15.1h0m-8 1.4h0m-13.5-6.7h0m-6.3-11h0m-7.1 16.2h0m38.4-16.6h0m-25.4-6.3h0m-11 17.5h0m35-18.6h0m-29.8 22.7h0m-1.3 4h0m5.9-13.6h0m-7.1-6.1h0m10.5-0.5h0m14.2-8.3h0m-4.2 26h0m-14.6-20.6h0m-9.7-3.8h0m31.5 17.7h0m-36.4-5.1h0m27.3-4.5h0m-26.4 3.4h0m14.9 18.6h0m0.3-1.7h0m23.8-11.7h0m-34.7 7.8h0m-1.7-8.4h0m0.4-15.6h0m14.6 2.2h0m27.2 14.1h0m-4.4 12.7h0m-6.5-10.4h0m-13.4 4.4h0m9.2-20.8h0m-6.5 8.6h0m-0.7 10.1h0m8.1-4.9h0m4.7 8.6h0m-32.6-22.8h0m-2.1 0.5h0m42.7 5h0m-24.4 5.2h0m5.9-6.2h0m10 1.7h0m3.2 15.9h0m-39.5-8.6h0m4.3 11.3h0m-1.2-20.7h0m32.8 10.9h0m-4.8-6h0m-6.8-7.1h0m-2.8 1.8h0m10-5h0m-25.2 3h0m18.5 12.9h0m-24.8 13.7h0m39-20.4h0m-31.7 14.9h0m38.3-21.7h0m-10.3 21.5h0m8.5-20.5h0m-38.3-1.5h0m5.2 24.7h0m31.8-14.3h0m-36.6-4.1h0m5.3 10h0m22.4 4.3h0m-13.2-10.7h0m1.4-3h0m-0.6 10.6h0m12-12h0m-6.8-6.1h0m-24.4 8.1h0m14.7-11.9h0m-13.1 13.2h0m40.4 13.8h0m-42.7-17.5h0m15.9-0.1h0m-10.9 9.3h0m32.9-7h0m-31-9.3h0m-7.6 22.2h0m10.1-1.4h0m26.2-21.5h0m-28.2 7.8h0m27.2 14.2h0m-21.8-9.6h0m2.4 0.6h0m20.5-7h0m0.8 22.1h0m-9.8 1.3h0m15.8-26.4h0m2.5 0.9h0m-8.7-2.6h0m-23.5 10.8h0m25.1 8h0m-29.8 7.3h0m31-13.1h0m-38.1-7.5h0m11.3 4.5h0m30.4 5.9h0m-5.7-17.6h0m-26.9 22.2h0m4.4-17h0m-13-5.9h0m16.4 16.7h0m-0.6 0.6h0m-5.1-18.4h0m18 10.7h0m-8.6 1.4h0m-10.4-11h0m1.3 8.3h0m-8.5-9h0m17.1-0.3h0m18.6 11.4h0m-20.3 5.6h0m-19.7-14.3h0m35.7 15.3h0m-13.7-7.1h0m12.1 5.3h0m1.9 11.2h0m4.7-3.7h0m-10.3-8.9h0m-6.5 4h0" fill="none" stroke="#164eb4" stroke-width="1.0" stroke-linecap="round" opacity="0.8"/>
<path d="M309.6 232.7h0m15.6-25.7h0m-5 18.9h0m-7.2 9.8h0m-25.7-14.5h0m15.3 15.9h0m-9.9-13h0m-0.9 6.4h0m16.1-0.6h0m-8.5 5h0m-14.1-22.2h0m34 22h0m2.1-20.3h0m-32.6 14.6h0m30.4-21.8h0m9.5 15.7h0m-42.1-1.6h0m14.2-12.6h0m25.6 27.9h0m-35.6-16.4h0m7 7.6h0m-7.7-11.4h0m14.1 4.7h0m1.2 4.1h0m23.6 11.3h0m-1.5-3.4h0m-31.8-19.7h0m10.8 13.4h0" fill="none" stroke="#1856c0" stroke-width="1.25" stroke-linecap="round" opacity="0.9"/>
<path d="M313.4 216.9h0m18-1.2h0m-45.5-7.4h0m8.9 21.5h0m29.5-23.2h0m-28.2 6.7h0m25.7 22.1h0m-24.5-26.8h0m32.9 29.2h0m-11.7-16.7h0m1.5 9.9h0m-11.2-16.7h0" fill="none" stroke="#883088" stroke-width="1.0" stroke-linecap="round" opacity="0.45"/>
<path d="M288.7 220.1h0m8.4 12.6h0m23.2 7.1h0m-14.8-12h0m22.6-10.9h0m-6.8-2.2h0m-6.5-5.4h0m-14.8 11.4h0m1.5-14.6h0m3.8 13.8h0m13.9 7.2h0m-37.2-3.8h0" fill="none" stroke="#a83898" stroke-width="1.05" stroke-linecap="round" opacity="0.45"/>
</g>
<line x1="316.30" y1="237.90" x2="330.80" y2="237.90" stroke="#f4f4f4" stroke-width="1.0"/>
<text class="sf" x="323.55" y="236.80" font-size="3.0" text-anchor="middle" fill="#e2e2e2">200 μm</text>
</g>
<clipPath id="ce20"><rect x="188.2" y="240.0" width="47.00" height="33.40"/></clipPath>
<g clip-path="url(#ce20)">
<rect x="188.20" y="240.00" width="47.00" height="33.40" fill="#010612"/>
<path d="M234.8 254.9h0m-14.9 7.3h0m0.9-9.9h0m-2.5-10h0m12.2 21.9h0m-4.6-8.8h0m-28.1-0.3h0m22.4 3.2h0m-26.9-18.2h0m13.6 8.1h0m-8-0.8h0m8.8 15.8h0m23.4-0.6h0m-41.9 6.4h0m27.6-4.6h0m0.2-12.6h0m-12.9-9.4h0m15.3-0.6h0m0.8 28.6h0m-0.6-10.2h0m6.6 11.9h0m0.2 1h0m-16.6-32.6h0m7.3 20.8h0m11.7-0.9h0m-23.5-20.2h0m21.9 20.7h0m7.3-1.1h0m-6.2 6h0m6.5-10.4h0m-4.4-2.1h0m-41.7-2.4h0m16 22.2h0m2.1-23.9h0m13.9-6h0m-18.1 10h0m-8.6 6.8h0m14.1 6.8h0m-3.9 5.8h0m-6.8-14.9h0" fill="none" stroke="#0a3a90" stroke-width="5.0" stroke-linecap="round" opacity="0.07"/>
<g filter="url(#bl)">
<path d="M198.8 240.5h0m3.6 29.4h0m-0.5-13.6h0m10.9-7.4h0m0.5-6.7h0m-8.7 7.3h0m21.9 16.2h0m-5.4-5.8h0m7.8 4.9h0m-38.1-20.4h0m32.6 23.7h0m11.3-2.2h0m-39.1-7h0m21.9 1.3h0m-23 12.1h0m17.7-23.3h0m22.1 3.9h0m-42.8 9.4h0m8.9-15h0m2 13h0m0.8 1.9h0m27.5 10.9h0m-0.7-2.3h0m-29.9-3.3h0m-7.7-8.1h0m-0.6-16.1h0m41 0.9h0m-10.9 13.4h0m-33.6 8.9h0m2.8 3.1h0m35.6-13h0m-17.5-15.7h0m11.9 0.4h0m-8.2 29.6h0m7.2-27h0m2 19.5h0m-18.4 2.4h0m11.7-12h0m-2.5-4.6h0m-11.2 20.5h0m2.9-3.9h0m0.8-19.4h0m-17.1 25.8h0m35.2 0.6h0m-7.6-30.7h0m-20-0.5h0m21.1 19.2h0m16.1-10.9h0m-33.9-2.5h0m-4.1-6.4h0m16.3 13h0m-5.9 17.8h0m-2.6-4.2h0m10.3-24.2h0m-23.6 17h0m39.7-18.7h0m-8.1 6.1h0m-0.7 20h0m1.9-19.6h0m-26.9 24.1h0m35.7-1.5h0m-17.6-29.1h0m-8.1 28.7h0m-14.2-20.5h0m-1.1 19.5h0m14.6-26.7h0m0.1 4.1h0m3.7 13.8h0m10.5-17.4h0m-5.8-1.3h0m-4.3 25.1h0m-8.5 0.5h0m-0.8-14.4h0m25.7-13h0m-11.2 17.8h0m7.6 13.8h0m-1-24.2h0m-23.2 8.6h0m3.8 2.4h0m-9 4.7h0m15.4-21.5h0m-13.9 29.5h0m34.2-1.8h0m-21.6 3.5h0m-10.3-8.7h0m36.3-17.2h0m-44.1-2.8h0m3.7 22.6h0m24.6-10.9h0m-23.1 5.6h0m1-17h0m21.5 17h0m9.7 6.1h0m-31.2-17.4h0m0.4 6.2h0m-5.5 12.6h0m30.7-2h0m-9 3.5h0m16.2-2.8h0m-1.3-20.5h0m-21.7-5.3h0m19.7 13.9h0m10.5-6.1h0m-26.1 19.2h0m25.2-3.6h0m-4 5.6h0m-28.7-10.3h0m-9.8 2h0m41.8-5.7h0m-37.9 2.1h0m-3.8-3.6h0m0.7-1.5h0m34.6 10.8h0m1.7-9.4h0m-19.4-13.5h0m16.4 17.2h0m-17.9-14.2h0m2.4-2.7h0m-16 0.5h0m14.4 2h0m18.9 15.8h0m1.8-1.9h0m-33.2-9.3h0m32 10.3h0m-9.1 1.6h0m-28.1-14.4h0m18 21.5h0m24-8.5h0m-32.1-18.1h0m14.1 12.1h0m17.4-6.8h0m-34.1-6.4h0m-8.3 26.5h0m39.6-21.9h0m-40.2 14.1h0m10.9 1.3h0m31.3 4.5h0m-29.7-4.7h0m0.4 5.1h0m-1.5 3.6h0m19.8 0.8h0m-15.7 2.1h0m11.2-23.3h0m3 1.8h0m-25.1-9.1h0m23.4 6.8h0m-24 17.8h0m2-0.7h0m6.1-13.1h0m31 15.6h0m-4.6 5h0m-10.8-1.5h0m0.9-11.8h0m-14.1-6.7h0m11.6-4.4h0m3.4 20.6h0m3.7-21.4h0m-32.6 4.8h0m19.1 16h0m5.3-11h0m2.8 1.2h0m3.4 0.1h0m-5.9-10.7h0m-20.2 6.8h0m35.9 16.9h0m-27.9-12.4h0m10.6-4h0m-16 11.2h0m-4.4-18.8h0m9.1-0.8h0m-4-4.1h0m15.5 3h0m5.6 14.3h0m-0.8-4h0m-0.6-6.1h0m-7 13.1h0m-11.7 1.5h0m17.4 8.1h0m1.5-14.3h0m7.1-8.7h0m-18.6 4.8h0m17 9.6h0m-25.8 7.9h0m37.5-15.4h0m0.6 4.3h0m-28.7-17.9h0m-17.3 16.8h0m33 0.9h0m3-6h0m-1.9 5.6h0m-5.1-1.9h0m1.6 0.4h0m-27.1 3.8h0m28.8-8.2h0m12.5 1.8h0m-37.8 1h0m9-11.6h0m25 0.4h0m-8.3-0.2h0m-9.2 27.6h0m-20.1-4.6h0m-3.9 3.9h0m42.4-17.6h0m-12.7 0.4h0m-22.3-3.5h0m13 17.2h0m-15.3-11.1h0m16.8 0.5h0m15 1.5h0m-22 11.9h0m12.9-22.8h0m-2.4 19.9h0m-23.5-7.4h0m20.7-12h0m-15.4-1.9h0m13.1 6.4h0m7.7-5.1h0m0.8 6.8h0m8.3 11.1h0m-26.3 5.7h0m14.6-21.4h0m-13.7 12.6h0m8.5-1h0m-8.5 5.9h0m0.4 0.4h0m8.2-15.7h0m6.5 4.1h0m-1.3 1.2h0m18.8 6.1h0m-40.3 8.2h0m-3.6-31.2h0m37.8 7.4h0m-37.1-3.3h0m21.9 22.3h0m-22.4-22.7h0m-0.3-3.7h0m14.2 14.6h0m30.7 5.2h0m-5.3-1.9h0m2.6 2.8h0m-31.5-10.1h0m11.2-8.7h0m20.9 12.4h0m-34 0.3h0m28.4-7.3h0m-10.2-6h0m-16.3 3.2h0m12.5 16.7h0m-13.1 0h0m16.8 2.1h0m19.3-14h0m0 4.1h0m-22.8-9.3h0m-20 15.7h0m0.8-20.4h0m-0.8 16.9h0m5.2-9.3h0m26.9 6.1h0m-29.2 7.8h0m39.9-1.9h0m-25.9-2.8h0m12.1 10h0m3.9-19.7h0m-0.2-4.8h0m-30.7 13.5h0m2.7 1.7h0m4.6 12.8h0m7.1-4.3h0m24-12.1h0m-8.3 1.3h0m-17.3-12.2h0m12.2 26.6h0m1.3-20.2h0m-7.6 1.3h0m-6.3 13.9h0m-18.1-9.7h0m23.8-11.2h0m10.3 3.6h0m-15.4-0.2h0m9.1 6.1h0m4-0.2h0m4.7 4.2h0m-31.9-2h0m7-6.4h0m32.7 6h0m-9.9-10.8h0m-5.1-1.2h0m-19.2 0.3h0m-9.2 26h0m44.1-18h0m-44.7 12.2h0m30.6-23h0m4.8 0.8h0m-25 23.7h0m25.1-18.2h0m-12.2 18.9h0m4.5-9.2h0m-19.7-15.2h0m0.1 15.2h0m19.2-2.1h0" fill="none" stroke="#164eb4" stroke-width="1.0" stroke-linecap="round" opacity="0.8"/>
<path d="M218.1 258.8h0m0.4-5.1h0m9.3 4.1h0m1.8 15.1h0m-2.5-7.1h0m-6.5-7.4h0m-20.8-15h0m19.5 4.9h0m-2.3 10h0m-0.3-4h0m-17.2-4.2h0m21.5 19.5h0m-17.8-19.1h0m6 3.8h0m8.7 10.9h0m6.4 1.8h0m-2 5.5h0m-13-17.6h0m9.5-4.4h0m8.4 3.5h0m-12.8 3.4h0m-9.1-17h0m-4 15.5h0m31.6-11.3h0m-2.3 27.9h0m-5.2-23.2h0m-36.3 20.1h0m2.3-19.4h0m40.9 12.5h0m-5.4 5.3h0" fill="none" stroke="#1856c0" stroke-width="1.25" stroke-linecap="round" opacity="0.9"/>
</g>
<line x1="219.70" y1="272.50" x2="234.20" y2="272.50" stroke="#f4f4f4" stroke-width="1.0"/>
<text class="sf" x="226.95" y="271.40" font-size="3.0" text-anchor="middle" fill="#e2e2e2">200 μm</text>
</g>
<clipPath id="ce21"><rect x="236.3" y="240.0" width="47.50" height="33.40"/></clipPath>
<g clip-path="url(#ce21)">
<rect x="236.30" y="240.00" width="47.50" height="33.40" fill="#060101"/>
<ellipse cx="257.7" cy="256.7" rx="19.9" ry="14.0" fill="#a01008" opacity="0.18" filter="url(#bl2)"/>
<g filter="url(#bl)">
<path d="M244.8 256.8h0m-4-4.1h0m19.1 14.6h0m-9.9-5h0m-7-13.7h0m-3.9 10.8h0m25 4.4h0m-7.9 7.5h0m14.4-12.3h0m7.2-13h0m-27.6 12.4h0m14.6 13.5h0m3.8-30.3h0m12.6 14h0m-35.1 9.9h0m20 3h0m-3.6-20h0m-3.9 7.1h0m-5.6 3.8h0m-9.6-10.9h0m-1.5-7.6h0m19.4 23.7h0m-5.9 5.5h0m9.8-8.1h0m-15.3 8h0m2.9-1.8h0m-4.9 3.6h0m20.8-25.8h0m2.4-0.8h0m-16.5 7.4h0m-2.4-0.5h0m-8.3 1.3h0m-3.2 13.2h0m12.4-2.8h0m3.5 8.8h0m21.5-9h0m-1.9 6.9h0m4.3-16.7h0m-16-11.5h0m-10.9 8.7h0m12.3-10.8h0m6.2 2.3h0m-15.7 13.7h0m19.9 4.9h0m-33 1.2h0m4.2-1.7h0m8.4 11.3h0m1.7-22.8h0m-6.6 22.9h0m1.9-23.9h0m8.8 14.3h0m19.3-19.7h0m-29.1 21.4h0m7.9-1h0m8.5-20h0m-29.6 2.8h0m12 0.2h0m-0.8-2.3h0m-12.4 13.7h0m34.8-12.2h0m-31.5 19h0m-0.7-19.6h0m19.5 5.2h0m14 7h0m-12.4-4.4h0m-23.6 14.9h0m17.2 0.2h0m-13.5-13.2h0m20.6-9.2h0m-22.1 26h0m41.1 2.2h0m-18.7-8.9h0m2.7-8.6h0m-20.4 5.5h0m12.8 1.3h0m-19-12.9h0m3.4 15.7h0m17.4-15.9h0m14.3 7.8h0m-23.3-4.3h0m-13.7-11.1h0m1.6 30.1h0m40-13.9h0m3-0.2h0m-12.3-14.5h0m-11.7 16.9h0m-1.3 1.4h0m-3.1 0.1h0m-6.4-5.5h0m10.4 1.2h0m-17.7-9.5h0m31.4-2.6h0m-11.4 27.7h0m6.4-8.7h0m7.6 7.8h0m-18.2-19.1h0m17.5-12.3h0m-13.6 8.2h0m4.1 15.4h0m14.5-7.6h0m-8-14.3h0m-1.6 28.5h0m-2.1-14.7h0m-4.9-2.6h0m-15.8-7.2h0m29.2 10.6h0m-35.9 3.3h0m37.7 1.2h0m-30.9 10.1h0m0-14.8h0m13.2-11.5h0m-9.1 0.7h0m-4.7-4.8h0m22.7 20.9h0m-18.7 9.5h0m8.1-16.6h0m23.9 6.5h0m-21.9 3.2h0m13.1-14.6h0m-31.9 14.2h0m32.2-4.4h0m-29.9 4.8h0m2.7 1.7h0m21.2-5.3h0m-25.9-9.1h0m31.2-8.5h0m-33 10.1h0m38.7 7.2h0m-29.6-18.3h0m28.9 25.4h0m-6.5-21.2h0m2.4-6.6h0m-27.5 10.4h0m37.3-9.5h0m-37.9 23.3h0" fill="none" stroke="#8c1410" stroke-width="0.95" stroke-linecap="round" opacity="0.6375"/>
<path d="M258.3 250.1h0m17.6 14.1h0m4.2-10.9h0m-26.5 2h0m3.1-10.7h0m9.6-0.2h0m-37.3 11.9h0m17.6 2.6h0m-0.9-13.4h0m-9.2 0.8h0m18.2 28h0m9.9-22.9h0m7 7.3h0m-33.3-16.5h0m3.7 9.7h0m16.1-0.3h0m-6-2.7h0m7.3 14.3h0m-12.8 3.8h0m2.4-12.7h0m26 7.4h0m-16.8-20.9h0m0.3 13h0m-3.1 12h0m-3.4 5.8h0m6.2-13.5h0m-3.7-0.6h0m17.2 1.2h0m-24.4-8.4h0m22.5 11h0m-20.9-5.6h0m9.8 5.8h0m-11-4h0m-3.5-7.2h0m11.1 17.7h0m1.5 2.5h0m4.9-3h0m-5.6-25.7h0m-21 11.4h0m41 2.2h0m-23.6 6.4h0m1.3-8.2h0m5.9 6.4h0m-8.1-10h0m22.8-0.5h0m-26.1 5.7h0m7.9 4h0m17.7 8.4h0m-16.6-9.9h0m10.5-2h0m-8.4-8.1h0m2.5 8.4h0m-19.1 2.7h0m37.9 0.9h0m-31.3 7.8h0m12-9.1h0m12 6h0m6-14.2h0m-26.2 5.9h0m6.6-9.1h0m0.9-1.8h0m-8.9 9.5h0m8.6 4.8h0m-10.6 0.1h0m11-3.5h0m-2.8-3.5h0m18.5 15.6h0m-16.2-0.4h0m-11.7-15.3h0m5.7 8h0m0-11.3h0m-12.2-1.5h0m25.3 13.1h0m-24.3 11.5h0m9.6-19.3h0m3.2 4.2h0m-2.2-0.7h0m12 7.9h0m-15-9h0m-0.8-2.2h0m6.8 1h0m7.2-5.1h0m-2.2 13.8h0m-7.3-8.8h0m9.6-0.4h0m-9.8 4.8h0m-22.2 4.1h0m28.2-1h0m-16.8-8.3h0m18.9 8.1h0" fill="none" stroke="#b01c14" stroke-width="1.0" stroke-linecap="round" opacity="0.675"/>
</g>
<line x1="268.30" y1="272.50" x2="282.80" y2="272.50" stroke="#f4f4f4" stroke-width="1.0"/>
<text class="sf" x="275.55" y="271.40" font-size="3.0" text-anchor="middle" fill="#e2e2e2">200 μm</text>
</g>
<clipPath id="ce22"><rect x="285.0" y="240.0" width="46.80" height="33.40"/></clipPath>
<g clip-path="url(#ce22)">
<rect x="285.00" y="240.00" width="46.80" height="33.40" fill="#020612"/>
<path d="M313.3 248h0m-27 15.2h0m39.3 3.7h0m-0.6-19.8h0m-25.5 12.9h0m14.3 0.9h0m-2.9-13.1h0m-14.7-5h0m-8.5 16.6h0m1.3 9.9h0m40.9-24.4h0m0.3 15.9h0m-44.9-8h0m16.6-2.5h0m-13.8-2.2h0m-2.3 6.9h0m21.7-7.3h0m20.8 21.9h0m-19.9-2.8h0m-6.9-1.7h0m19.9-13.3h0m-1.8-0.1h0m-26.5 2.3h0m-2.8 10h0m6.5-7.4h0m26 3.4h0m4.7 4.2h0m-10.1 0.5h0m-0.1 6h0m-4.5-8.6h0m-2.1-4.3h0m18.4-7.8h0m-35.2 6.7h0m5.7 7.2h0m15.2-23.8h0m-20 20.6h0m8.7 2h0m3.5-19h0m10.3 28.8h0m-28-11.9h0" fill="none" stroke="#0a3a90" stroke-width="5.0" stroke-linecap="round" opacity="0.07"/>
<ellipse cx="303.7" cy="256.7" rx="19.7" ry="14.0" fill="#a01030" opacity="0.2" filter="url(#bl2)"/>
<g filter="url(#bl)">
<path d="M313.7 260.5h0m-5-3.6h0m22.6 12.2h0m-26-1.9h0m10.9-0.3h0m15.5-24.5h0m-36.8 5.4h0m28.4 23.1h0m-27.7-14.7h0m31 7.9h0m-14.1 5.7h0m15.7-26.8h0m2 6.7h0m-16.4 15.5h0m-15-15h0m28.6 16.2h0m3.3-23.3h0m-16.4 21.6h0m15.5-0.5h0m-31.7-20.8h0m-5 5.3h0m18.6 2.1h0m-19.7-7.9h0m25.1 24.3h0m-26.3-10h0m40.1-5.1h0m-20.9 15h0m-23.9 2.1h0m35.1-4.6h0m-20.1-8.2h0m27.9-14.4h0m-40.2 19.4h0m40.8-16.4h0m-35.8 10.4h0m28.1 3.4h0m-6-17.1h0m-21.6 17.9h0m24.6-16.6h0m-29.7 7.5h0m15.2 0.6h0m-11.4-8.6h0m22.2 29.4h0m-0.5-1.2h0m-23.8-10.1h0m11.2 7.7h0m10.9-7.8h0m14.8 11.4h0m-36.4-17.3h0m-2.4 4.1h0m6.5 4.6h0m6.1-23h0m25 3.9h0m-29 13.2h0m-9.9 8.4h0m30.8-21.9h0m-4.4 0.4h0m-4.3-1.2h0m-11.6 11.9h0m12.3 6.8h0m17.9-10.6h0m-27-4.2h0m18.1 5.3h0m-24.6-5.9h0m9.8 21.5h0m0.8-0.7h0m1.6-7.8h0m-10.1-5.7h0m21.9-10.9h0m-12.6 5.6h0m-7.7 2.9h0m-4.3 8h0m-7.4-11.3h0m10.4-2h0m26.8 16.9h0m2.4-18.5h0m-32.7 6.1h0m15 17.4h0m15.3 0.8h0m-38.3-27.8h0m15 13.4h0m-15.5-2.6h0m5.7 17.5h0m3.8-18.6h0m-1.6 17.7h0m-2.9-13.6h0m5-6.5h0m36.2 15.7h0m-12-12h0m11.2 20.3h0m-16-24.6h0m-27.4 10.6h0m20.5 10.6h0m23.9-1.5h0m-35.4 5.6h0m17.4-31.6h0m-19 30.7h0m27.5-7.3h0m-6.2-23.9h0m12.8 9.2h0m-7.7 8h0m-13.3-0.4h0m20.2 10.3h0m-24.5 0.6h0m-10.3-16.8h0m6.8-10.1h0m3.8-1.5h0m26.5 27.2h0m-22.9-25.2h0m-10.1 23.7h0m1.4-22.6h0m6.3 16.1h0m-14.1-6.7h0m20.2 12.3h0m-7 8.2h0m-7.1-8h0m-8.3 5.5h0m21.8-24.8h0m12.6 23.7h0m-32 0h0m38.8-17.6h0m-7.9 12.2h0m-10.5-11.2h0m-11.9 14.4h0m22 4.3h0m-33.4-12.6h0m29.8-11.7h0m-32 22.5h0m35.5-6h0m-20.9-9.2h0m22.4-11.5h0m-4.2 20.5h0m-12.1 8.2h0m7.9-2.3h0m-20.5-15.9h0m4.6 3h0m21.6 16.5h0m7.3-4.6h0m3.1-4h0m-11.2-21.5h0m-15.4 13.3h0m-14.2 13.8h0m12.5-22h0m-13.6 9.8h0m12 13.8h0m13.9-17.3h0m-22.3-12.8h0m24.8 18.8h0m-9-3.5h0m-4 13.4h0m-16.6-22.6h0m34.6 2.8h0m-21.7 3.9h0m-1.6 11h0m-9.4-6.8h0m28.9-7.1h0m0.7 0.4h0m-5-8.5h0m-14.2 15.3h0m13.7-3.2h0m-26.9 2.5h0m38.8-8.9h0m-30.8 11.6h0m1.2-17.3h0m-7.4 17.5h0m37.8 4.9h0m-13.7 3.4h0m12.1-20.2h0m-21.9 23.5h0m26.3-11.1h0m-14.6-10h0m-25.3-0.4h0m6.6 10.1h0m19.9-0.1h0m11.9-21h0m-33 3.3h0m7.7 27.2h0m4.6-3.8h0m-13.3-14.9h0m28.8-2h0m-3.2 10.2h0m-3.5-19h0m-13.8 31.9h0m0.7-23.6h0m29.2 10.4h0m-14.2-3.5h0m-3.4-3.2h0m-16.3-3.3h0m-2.3 13.5h0m-6.5-19.3h0m19.6 29.2h0m12.9-10.8h0m-1.9-15.4h0m-10.8-6.3h0m0.4 0.5h0m-18.9 2.9h0m10.8 11.9h0m-6-13.3h0m-4.5 29.1h0m40.4-1.2h0m-39.7-23.8h0m34.7-6.2h0m-34.1 21.2h0m38.1 9.2h0m-5.6-20.3h0m-5.2 20.7h0m7.8 1.1h0m-6.4-6.1h0m-2.8-12.2h0m-6.1 17h0m0-30.3h0m-5.9 28.3h0m12.3-13h0m10.5 9.2h0m-33.2-1.9h0m30.2-23.2h0m3.2 14.2h0m-4.2-14h0m-24.7 9.7h0m-4.8 11.9h0m27-0.3h0m5.4-17.9h0m-29.2 9.6h0m23.7 11.3h0m9.3 4.4h0m-21.6-4.4h0m13.5-7.3h0m-6.5 11.1h0m7.1-23.2h0m-37.5 18.3h0m36.8-17.3h0m1.6 19h0m-32.1-20.1h0m23.1 15.6h0m-23.3 9.5h0m2.6-2.5h0m34.2-23.8h0m-11.5 14.4h0m10-3.6h0m-23.5-7h0m20.3 2.9h0m3-9.5h0m-1-0.6h0m-7.7 31.1h0m-18.9-12h0m4.4-17.5h0m19.9 14.3h0m-1.8-15.3h0m-29.9 6.5h0m30.6-6.9h0m-37.2 11.8h0m17.1 15.7h0m22.1-20.3h0m-5.5 3.9h0m1.2 10.1h0m-32.6-6.3h0m16.5-0.4h0m6.2 7.8h0m-7.2-5.7h0m19.9 5.3h0m-29.7-18.1h0m3.7 27.2h0m5.4-2.4h0m27.1-6.1h0m-27.9 1.6h0m6.2 6.9h0m0-10.5h0m8.5-0.3h0m-23.7-2h0m11.7 3.7h0m16.2-15.8h0m-18.9 1.7h0m27.7 7.8h0m-23.9 15.8h0m15.5-3.5h0m-13.1-24.5h0m-6.1-1.4h0m1.3 12.3h0m3.7 17.6h0m2.5-27.2h0m-16.5 17.2h0m15.7-9h0m-1 0h0m8.6 6.1h0m-29.4-3.2h0m9.4 2.9h0m10 5.9h0m23.4-0.6h0m-16.2-7.8h0m-23.6 7.4h0m3.9-11.7h0m18.1-3.9h0m13.1 9.4h0m5.1-17.5h0m-23.8 10.1h0m5.2 10.8h0m0.8 9.8h0m-7.1-19h0m14.5 6.1h0m-22.5 12.3h0m-2-28.3h0" fill="none" stroke="#164eb4" stroke-width="1.0" stroke-linecap="round" opacity="0.8"/>
<path d="M310.2 270.4h0m14.8-3.1h0m-11.4-10.2h0m-15-11.6h0m7.1 22.3h0m5.2 5h0m11.5-14.6h0m-9.7-4.2h0m14.7 13.8h0m-34 2.3h0m23.3-18.1h0m3.2 2.1h0m-2.4 2.8h0m-3 13.9h0m12.2-14.8h0m-23.6 7.9h0m13.1-20.7h0m-7.4 6.1h0m6.5-3.7h0m-16.4 2.8h0m-0.8 10.5h0m27.3 2.5h0m-10.1 4h0m-12-11.1h0m12.2-7.4h0m4.7 23.9h0m6-28.6h0m1.7 5.3h0" fill="none" stroke="#1856c0" stroke-width="1.25" stroke-linecap="round" opacity="0.9"/>
<path d="M291.1 260.6h0m10.1-14.6h0m12.3 11.9h0m-3.4-0.8h0m3.8 8.9h0m4.8-2.4h0m5-7.9h0m-8.8-11.9h0m-26.1 11.3h0m28.1-7.3h0m13 1.9h0m-21.9 6h0m22.4-10.6h0m-33.6 16.1h0m5.2-9.7h0m-10.8 19.1h0m14.5-11.3h0m-9.2 12h0m-6.5-8h0m-1.9-5.5h0m12.1 14h0m5.3-3.8h0m-19.1-20.1h0m44.8 4.4h0m-44.4-3.6h0m15.2 8.9h0m0.9-7.4h0m4.3 5.5h0m-13.6 1.6h0m18.4 1.9h0m7.6-4.1h0m-24.6 16.4h0m-4.5-21.4h0m14 3.7h0m-9.6 14.9h0m4.3-10.4h0m14.3-13.9h0m-8.3 0h0m5.2 20h0m14.6 7h0m-34.7-16.1h0m25.9-2.8h0m13 4h0m-3.5-14.3h0m-22.5 21.1h0m21-6.8h0m1 8.9h0m-20.9-1.7h0m4.9-19.9h0m17.9 24.4h0" fill="none" stroke="#883088" stroke-width="1.0" stroke-linecap="round" opacity="0.75"/>
<path d="M309.6 252.9h0m-5.4 1.5h0m-9.2 2.3h0m-1.4-0.3h0m-0.3-2.5h0m11.3-9.4h0m-2.1 17.7h0m1.9 1.9h0m-11.5-2.9h0m13.6-28.1h0m-3.4 30.6h0m-0.6-7.1h0m-0.7-1.6h0m-9.5-4.5h0m-11.9 23.3h0m22.6-15.7h0m6.7 2.5h0m-7.3-17.6h0m-11.6 27.4h0m16.8-8.6h0m-15.3-9.6h0m13.6-2.4h0m9.7 0.1h0m-16.9-3.3h0m8.2 20.5h0m-1.5-10.9h0m-6 6.8h0m3.8 8h0m-2.8-17.9h0m-2.6-12.8h0m7.8 17.1h0m-18.9-11h0m5.4 7.2h0m0.5 9.1h0m23-11.9h0m-12.2-3.4h0m13.4-0.3h0m-21.8 9.2h0m-0.2 22.5h0m6.4-24.6h0m-8.3 1.4h0m4-2.9h0m16.6-1.4h0m-6-0.3h0m6.1-1.1h0m-20.4 4.3h0m22.9-1.3h0m-21.9 2.1h0m1.6 3.4h0m0.3 0.5h0" fill="none" stroke="#a83898" stroke-width="1.05" stroke-linecap="round" opacity="0.75"/>
</g>
<line x1="316.30" y1="272.50" x2="330.80" y2="272.50" stroke="#f4f4f4" stroke-width="1.0"/>
<text class="sf" x="323.55" y="271.40" font-size="3.0" text-anchor="middle" fill="#e2e2e2">200 μm</text>
</g>
</g>
<g id="pI">
<rect x="248.60" y="426.30" width="156.60" height="114.00" fill="#c4c4c4"/>
<text class="sf" x="273.50" y="422.60" font-size="5.2" text-anchor="middle" fill="#e23b3b">Red</text>
<text class="sf" x="326.40" y="422.60" font-size="5.2" text-anchor="middle" fill="#3ebc4a">Green</text>
<text class="sf" x="382.20" y="422.60" font-size="5.2" text-anchor="middle" fill="#111">Merge</text>
<text class="sf" x="240.80" y="442.20" font-size="5.3" text-anchor="middle" transform="rotate(-90 240.80 442.20)">Control</text>
<text class="sf" x="240.80" y="482.70" font-size="5.3" text-anchor="middle" transform="rotate(-90 240.80 482.70)">sh-Col15a1</text>
<text class="sf" x="240.80" y="523.30" font-size="5.3" text-anchor="middle" transform="rotate(-90 240.80 523.30)">Ad-Col15a1</text>
<clipPath id="ci00"><rect x="248.6" y="426.3" width="50.20" height="36.10"/></clipPath>
<g clip-path="url(#ci00)">
<rect x="248.60" y="426.30" width="50.20" height="36.10" fill="#0b0101"/>
<g filter="url(#bl)">
<path d="M295 460.5h0m-1.6-31.2h0m-15.1 12.3h0m-3.1-10.6h0m-17 11.3h0m1.5 0.4h0m-9.9-13.3h0m34.4 12.1h0m-9.9 11.3h0m-7.7-24.4h0m21.3 19.2h0m-6.3 1.1h0m15.7-9.3h0m-10.6 0.2h0m-9.4 10.5h0m-12.9-20.7h0m8 22.8h0m5.8-9.7h0m2.6-9.6h0m-23.2 5.1h0m32-4.6h0m-35.3-3.5h0m-3.7 6.3h0m26.8 19.7h0m-12.2-16.3h0m-2.1-2.3h0m24.5 8.8h0m-26-15.9h0m26.3 21.6h0m2.3-16.9h0m-14.2 24.6h0m2.4 0.9h0m-21.4 1.1h0m-5.6-20.2h0m-1.6 14.2h0m33.3 6h0m5.9-0.9h0m-13.4 1.4h0m10.6-23.2h0m11.3 1.1h0m-39.2-10.9h0m13.7 4.4h0m23.5 27.2h0m-36.1-30.6h0m15.8 2.4h0m0.7 23.2h0m-14.6-14.1h0m32.5 0.9h0m-28 16.1h0m23.7 0.1h0m-6.4-17.4h0m0.3 15.1h0m-2.7-21.4h0m-17.3 6.2h0m23.9 5.3h0m-11.1 9.7h0m-22.2-7h0m11.3-2.6h0m25.2-11.2h0m5.9-6.2h0m-19.6 16.8h0m-16.4 0.6h0m11.8-4h0m12.5-16.1h0m-17.2 28.3h0m-11.8 2.9h0m3.1-6.7h0m-1.5-8.4h0m12.5-13.2h0m13.9 14.3h0m-0.5 2.2h0m-6.7-0.5h0m-13 13.4h0m-10.6-0.8h0m39-13.6h0m-4.3 6.3h0m-8.6-13.8h0m-14.4 2.1h0m-0.8 22h0m1.9-20.6h0m4 15.5h0m2.9-9.5h0m-11.2-10h0m-8.3-2.2h0m8.7 23h0m12-26.8h0m-2 0.4h0m5.2 11.6h0m14.7-6.6h0m-0.4-0.5h0m6.6 14h0m-47.2 6.2h0m11.7-16h0m-6.4 17.1h0m-2.9-3.5h0" fill="none" stroke="#c01616" stroke-width="1.0" stroke-linecap="round" opacity="0.85"/>
<path d="M268.5 450.8h0m-5.2-21.7h0m31.2 20.8h0m-37.4 11.6h0m37.3-28.6h0m-44.8 15.5h0m6 4.3h0" fill="none" stroke="#e82020" stroke-width="1.7" stroke-linecap="round"/>
</g>
<line x1="281.40" y1="461.50" x2="297.80" y2="461.50" stroke="#f4f4f4" stroke-width="1.0"/>
<text class="sf" x="289.60" y="460.40" font-size="3.0" text-anchor="middle" fill="#e2e2e2">200 μm</text>
</g>
<clipPath id="ci01"><rect x="300.8" y="426.3" width="51.00" height="36.10"/></clipPath>
<g clip-path="url(#ci01)">
<rect x="300.80" y="426.30" width="51.00" height="36.10" fill="#010605"/>
<g filter="url(#bl)">
<path d="M324.7 451.9h0m5.2 2.2h0m12.8-6h0m-11.7-10h0m-23.4-8.5h0m36.9 4.1h0m-21.9 4h0m9.8 7.9h0m12.2-3.6h0m-25.3 7.8h0m19.5 9.9h0m-22.1-1.4h0m34.2 3.5h0m-43.5-21.8h0m32.9 16.3h0m-37.5-15.7h0m34.9 13.1h0m-9.6-19.8h0m-6.6-5.5h0m-4.6 13.3h0m25.9 5.9h0m-20.9-12.4h0m-5 15.3h0m6.6-18h0m19.2 14.6h0m7.4-1.4h0" fill="none" stroke="#148a60" stroke-width="1.0" stroke-linecap="round" opacity="0.85"/>
</g>
<line x1="334.40" y1="461.50" x2="350.80" y2="461.50" stroke="#f4f4f4" stroke-width="1.0"/>
<text class="sf" x="342.60" y="460.40" font-size="3.0" text-anchor="middle" fill="#e2e2e2">200 μm</text>
</g>
<clipPath id="ci02"><rect x="353.8" y="426.3" width="51.40" height="36.10"/></clipPath>
<g clip-path="url(#ci02)">
<rect x="353.80" y="426.30" width="51.40" height="36.10" fill="#0b0202"/>
<g filter="url(#bl)">
<path d="M385.8 441.7h0m-0.7 17.8h0m19.1-9.3h0m-28.3-21.6h0m21.1 11.8h0m-23.5-12h0m-17.9 12h0m48.3 12.6h0m-13.7-2.6h0m-22.4-18h0m17-3.8h0m-0.8 16.3h0m-2.3-14.2h0m-24.4 12.7h0m4 6.1h0m8.4-0.8h0m22.7-0.5h0m-11.3-14.8h0m-9.5 28.2h0m-4-25h0m11.6 9.4h0m15.2-9h0m8.9-9.9h0m-8.9 19.8h0m5.7-15.1h0m-10.9 28.7h0m-1.1-30.1h0m13 30.9h0m-41.6-5.1h0m-1.6-27h0m36.8 23.1h0m8.3-3.2h0m-22.9-13h0m3.1 26h0m3.8-4.2h0m-23.1-5.1h0m27.5-23.9h0m4.6 3.8h0m-31-4.2h0m22.9 2.9h0m16.1-5.1h0m-8.6 27.4h0m-12.3-6.8h0m11.7 2.4h0m-33.8 5.8h0m11-7.7h0m8.1 11.5h0m-5-1.8h0m-17.1-19h0m30.3 10.3h0m8.3-14.6h0m-1.5 21.2h0m-34-23.7h0m22.7 30.2h0m1.5-19.8h0m-5.4 13.8h0m0.7-9.8h0m3.7 14.2h0m10.6-3.3h0m-27.4-8.6h0m28.6 4.2h0m6.6 7.1h0m-42.3-14.7h0m11.8-10.9h0m7.3 28.1h0m13.8-31.9h0m-26.8 9.7h0m32.8 3.3h0m-37.3 3.3h0m4.5-18.5h0m17.8 34.4h0m9.4-9.2h0m-32.1-6.3h0m24.9 7.1h0m-9.7-25.5h0m24.7 7.7h0m-9.7 7.2h0m2.1-4.6h0m-35.3 3.3h0m19.9 13.1h0m-3.9-4.5h0m-1.5 2.3h0m-10.3 5.4h0m39.5-30.9h0m-4.4 27.2h0m-8.5-24.3h0m2.1 24.1h0m-5.5 6.9h0m16.5-11.9h0m-1.2-17.7h0m-32.2 13.9h0m11.6 15.3h0m5.8-12h0m-0.8 11.7h0m-11.3-7.4h0" fill="none" stroke="#c01616" stroke-width="1.0" stroke-linecap="round" opacity="0.85"/>
<path d="M384.6 440.8h0m-13.4-9h0m-16.8 6.6h0m14.8-9.2h0m9.6 9.8h0m22.6 15.5h0m-13.4 2.4h0" fill="none" stroke="#e82020" stroke-width="1.7" stroke-linecap="round"/>
<path d="M367.9 430.5h0m17.2 4h0m19.3 7.1h0m-5.1-6.4h0m-40.7 13.7h0m30.8-13.4h0m12 25.9h0m-12.3 0.3h0m15.2-30.1h0m-13 21.6h0m0.1-14.6h0m-9.7 8.9h0m15.8-19.3h0m-24.4 9.5h0m21.4-7.2h0m-37.5 0h0m2.8 11.5h0m38.5-2.9h0m-39.3 11.4h0m11.9-3.6h0m21.3-4.1h0m-0.7 5.9h0m6.1 5.1h0m2.5-0.6h0m-31.8-8.7h0m25.2 10.1h0" fill="none" stroke="#189868" stroke-width="1.0" stroke-linecap="round" opacity="0.85"/>
<path d="M391.3 456.7h0m4.9-10.9h0m-9.5-17.9h0m-8.4 24.6h0m22.5 4.4h0m-24.4-22.3h0" fill="none" stroke="#f0d0c0" stroke-width="1.0" stroke-linecap="round" opacity="0.9"/>
</g>
<line x1="387.80" y1="461.50" x2="404.20" y2="461.50" stroke="#f4f4f4" stroke-width="1.0"/>
<text class="sf" x="396.00" y="460.40" font-size="3.0" text-anchor="middle" fill="#e2e2e2">200 μm</text>
</g>
<clipPath id="ci10"><rect x="248.6" y="464.5" width="50.20" height="36.40"/></clipPath>
<g clip-path="url(#ci10)">
<rect x="248.60" y="464.50" width="50.20" height="36.40" fill="#0b0101"/>
<g filter="url(#bl)">
<path d="M293.1 488.4h0m-34.9-22.5h0m34.5 19.6h0m-38.6 15h0m24-8.4h0m11-18.3h0m-14.3-3h0m4.5 9.5h0m9-11.6h0m-29.4 9.9h0m-10.2 0.7h0m48.2 16.7h0m-39.3-1.2h0m2.3-21.6h0m20.7 2h0m-21.9-7.6h0m-1.2 3.9h0m36.9-5.5h0m-18.7 6.2h0m9.1-7.6h0m-17.6 26.8h0m-17.3-11.9h0m15.1 2.6h0m15.2-14.7h0m11.9 6.9h0m-4.7-5h0m-34.1 2.3h0m-0.5 1.9h0m2.8-5.9h0m35.8 16.1h0m-17.9-0.7h0m15.8-16.8h0m-38.4 22.5h0m-1.9-5.8h0m31 12.5h0m-31.4-16.3h0m15.7 6.5h0m-14 6.3h0m46.3-7.4h0m-14.6 10.4h0m9-0.6h0m-17.9-26.6h0m15.4 27.5h0m-4.7-19.2h0m13.7 11.2h0m-33.2 5.9h0m-4.4-19.8h0m34.1-6.8h0m-1.7 12.4h0m-15 10.8h0m16.6-17.2h0m-40.6 10.6h0m6.5-3.2h0m-5.7-12.1h0m23-1.4h0m-15.1 12.2h0m-8.6 15.2h0m40.5-28.1h0m-4.8 5.2h0m-3.9-4.2h0m0.8 31.7h0m-24.4-27.9h0m4.1 25.3h0m22.1-25.6h0m6.1 21.2h0m2.7 8.5h0m-40-8.9h0m-6.8-19.5h0m25.7 1.5h0m-15.9 4.5h0m12.1 20.4h0m6.1-13.2h0m6.9-13.3h0m4.2 20.9h0m0.6-11.4h0m-13.7-13.7h0m-4.2 20.7h0m24.7 9.2h0m-30.7-5.1h0m26 7.5h0" fill="none" stroke="#c01616" stroke-width="1.0" stroke-linecap="round" opacity="0.85"/>
<path d="M282.8 476.5h0m9.7-11.4h0m-15.4 16.1h0m15.8 5.9h0m-34.2-16.6h0m-8.3 21.4h0" fill="none" stroke="#e82020" stroke-width="1.7" stroke-linecap="round"/>
</g>
<line x1="281.40" y1="500.00" x2="297.80" y2="500.00" stroke="#f4f4f4" stroke-width="1.0"/>
<text class="sf" x="289.60" y="498.90" font-size="3.0" text-anchor="middle" fill="#e2e2e2">200 μm</text>
</g>
<clipPath id="ci11"><rect x="300.8" y="464.5" width="51.00" height="36.40"/></clipPath>
<g clip-path="url(#ci11)">
<rect x="300.80" y="464.50" width="51.00" height="36.40" fill="#010605"/>
<g filter="url(#bl)">
<path d="M340.7 478.1h0m-28.5 6.7h0m-1.4-1.1h0m7.5-7.6h0m17.7-2.5h0m-18.3 11.4h0m31.1-15h0m-32.4 4.4h0m0.5 7.9h0m25.7-11.2h0m-5.1 9.1h0m-7.5 2.6h0m1.6-11.8h0m0.6 8.1h0m8.6 7.1h0m-19.2 14.2h0m-11.7-35.4h0m-2.8 24.6h0m-1.6 1.7h0m-0.2-16h0m27.2-10h0m-9.6 35.6h0" fill="none" stroke="#148a60" stroke-width="1.0" stroke-linecap="round" opacity="0.85"/>
</g>
<line x1="334.40" y1="500.00" x2="350.80" y2="500.00" stroke="#f4f4f4" stroke-width="1.0"/>
<text class="sf" x="342.60" y="498.90" font-size="3.0" text-anchor="middle" fill="#e2e2e2">200 μm</text>
</g>
<clipPath id="ci12"><rect x="353.8" y="464.5" width="51.40" height="36.40"/></clipPath>
<g clip-path="url(#ci12)">
<rect x="353.80" y="464.50" width="51.40" height="36.40" fill="#0b0202"/>
<g filter="url(#bl)">
<path d="M391.2 478.7h0m9.3 6.5h0m-5-8.2h0m-22.1 13h0m19.5-0.3h0m-31.4-9.9h0m8.7-6.9h0m-10.4 18.8h0m1.3-14.3h0m-6.3 12.8h0m31.1-22.9h0m16.7 33.4h0m-10.2-6.9h0m-2.4-28.5h0m-22.2 7.8h0m-12.9 14.6h0m29.3-10h0m8.1-4.7h0m-24.1-4.3h0m-2.3 26.8h0m13.1-4.2h0m19.4-2.5h0m-26 10.9h0m-14.5-20.2h0m41.4 9.8h0m-27.3 5.3h0m20.8-3.8h0m-25.3-1.5h0m20 5.8h0m-7.3 3.2h0m10.6-26.2h0m-7.3-0.5h0m2 4.8h0m19.6 0.6h0m-10.7 17.9h0m-21.4-9h0m-7.2-7.7h0m10.6 12.2h0m3.5-20h0m7.3 12.9h0m-6.4-2.6h0m17.6 7.6h0m-10.6-5.6h0m-13.3-2.7h0m14.2 0.4h0m-31.3-7.9h0m-0.9-6.2h0m15.8 12h0m5-6.5h0m-11.5 9h0m2.9-6.8h0m10.4 18.3h0m-22.2-27.3h0m19.9 32h0m9.5-19.2h0m17.5 11.4h0m-7.6 6h0m-40.4-23.6h0m38.7 7.1h0m5.6-11.6h0m1.9 20h0m-27.1 7.6h0m6.4-13.5h0m-18 11.8h0m-2-17.6h0m-3-10.3h0m10.8 1h0m8.8 11h0m-23.2 4.3h0m13.8-8.5h0m13.1 3.7h0m-25 21.8h0m47.1-25.3h0m-16 12.7h0m-21.1-1.7h0m0.8-9.6h0m9.7-8.4h0m-11.5 34.2h0m27.8-23.7h0m11.6-0.1h0" fill="none" stroke="#c01616" stroke-width="1.0" stroke-linecap="round" opacity="0.85"/>
<path d="M397.6 476.2h0m2.2 4.8h0m-1.2-11.5h0m-24.5 7.5h0m19.9 19h0m-33.2-16.6h0" fill="none" stroke="#e82020" stroke-width="1.7" stroke-linecap="round"/>
<path d="M362.7 466.9h0m-2.2 0.3h0m8.8 13h0m31 8h0m-7.4-11.7h0m-22.6 3h0m-4.5-14.3h0m2.2 33.1h0m-11.6-15.5h0m9.3 9.5h0m-9.9-9.2h0m35.3-1.8h0m-29.9 15.6h0m-6.4 1.3h0m41.1-1.5h0m2.4-18.7h0m-12.3 3.6h0m-2.1-3.3h0m13.8-2.6h0m-15.1-8.7h0m-25.8 29.7h0m15.3-18.6h0" fill="none" stroke="#189868" stroke-width="1.0" stroke-linecap="round" opacity="0.85"/>
<path d="M404.5 490.8h0m-42.7-6.5h0m16.8 2.2h0m-10.8-12h0m34.6 11.7h0m-20.3 3.5h0" fill="none" stroke="#f0d0c0" stroke-width="1.0" stroke-linecap="round" opacity="0.9"/>
</g>
<line x1="387.80" y1="500.00" x2="404.20" y2="500.00" stroke="#f4f4f4" stroke-width="1.0"/>
<text class="sf" x="396.00" y="498.90" font-size="3.0" text-anchor="middle" fill="#e2e2e2">200 μm</text>
</g>
<clipPath id="ci20"><rect x="248.6" y="503.0" width="50.20" height="37.30"/></clipPath>
<g clip-path="url(#ci20)">
<rect x="248.60" y="503.00" width="50.20" height="37.30" fill="#0b0101"/>
<g filter="url(#bl)">
<path d="M286.4 509.7h0m1.5 11.3h0m-31.7-6.2h0m42.1 19.7h0m-4.4-12.8h0m-13.4-3.9h0m5 5.2h0m-19 16.5h0m7.2-35h0m15.8 2.1h0m-26.8 13.3h0m-3.5-0.1h0m11.5 3h0m10.6 5.8h0m-30.2-16.8h0m3.4 3.6h0m17 19.4h0m-22.2-1.6h0m7.1-2.6h0m34.8 9.2h0m-13.7-34.7h0m-14.5 14.2h0m19.5 19.8h0m10.1-33.7h0m-37.5 21.9h0m3.9-2.5h0m15.2-1.5h0m-8.1 13.7h0m-2.8-20.5h0m-6.6-2.7h0m-1.4 13h0m-5.7-14.7h0m39.6 22.7h0m-23.5-4.4h0m23.6-3.1h0m-9.5 3.8h0m-15.2-15.8h0m-3.1-3.7h0m12.9 11.5h0m-16.2-16.9h0m-8.4 4.7h0m6.6 15.3h0m32.9-3.3h0m-8.4-4.2h0m-28.6 12.2h0m34.7-22.4h0m-22.8 20h0m19.8-19.4h0m-16 8.3h0m8 16.2h0m-20.1-16.6h0m39-7.4h0m-37.4 22.7h0m22.4-11.5h0m-8.3-15.5h0m9.2 7.6h0m-10 24.7h0m2.7-19.9h0m-7.2-4.1h0m13.3 16.1h0m-25.2-26.5h0m14 6h0m10.3-0.2h0m-4.8 11.7h0m23.6-5.8h0m-35.7 0.7h0m19.9-3.6h0m-21 17.5h0m14.5-23.8h0m15.9 2h0m-27.6 15.7h0m8 8.2h0m-15.5-4.2h0m1.6-20.1h0m26.1 24.6h0m-29.7-27.7h0m4.7 20.2h0m-8.5 14.1h0m-0.7-7.8h0m39.5-13.4h0m0.5-7.8h0m-2 14.9h0m3.8 8.2h0m-3.2 2.6h0m-26.7-31h0m-4.2 26.7h0m17.4-9.5h0m-2.2-17.5h0m22.7 20.3h0m-17.1-2.8h0m15-0.8h0m-17.3 12.2h0m-19.7 1h0m24-18.4h0m-23.9 6.8h0m7.2-19.1h0m26.7 27.8h0m3.8 0.5h0m-24.8 5.7h0m-8.3-24.5h0m11.4 15.7h0m-18.5-23.2h0m41.8-1.6h0m-9.5 17h0m10.9 14.5h0m-24.9-11.6h0m11.7-10.7h0m-34 27.3h0m26.3-7.2h0m-0.3-27h0m-21.8 6h0m43.3 21.6h0m-33.8-13.7h0m33.9 2.2h0m-32.7 0.8h0m-7.4 1.5h0m-4.9-1.8h0m2-17.9h0m32.3 17.3h0m-29.9-3.9h0m36.6-1.4h0m-30.9 4.4h0m31.2 5.1h0m-21.1 0.4h0m-6.1 11.5h0m-4-26.7h0m10.8 21.7h0m14.3-5.3h0m-38.7 5.2h0m45.7-25.1h0m-35.9 3.4h0m-3.4-2.7h0m18.7 20.5h0m-1.9-5.7h0m11.2 10.6h0m14.3-4.5h0m-23.9-24.2h0m-10.1 5.1h0m33.4 19.9h0m-41.8-14.5h0m14.8 10.8h0m27.7-11h0m-13.8 3h0m10.3 3.3h0m-6.9 3.1h0m-2.4 6.4h0m-16.5-11.6h0m11.6 10.1h0m-1.4-13.3h0m-5.3 5.6h0" fill="none" stroke="#c01616" stroke-width="1.0" stroke-linecap="round" opacity="0.85"/>
<path d="M267.7 515h0m-15.8-9.5h0m4.5 0.8h0m10.9 32.8h0m1.4-2.1h0m14.5 0.7h0m-1.9 1h0m7.7-32.7h0m-40.3 32.9h0m17-11.5h0m30.8 12.4h0m-21.5-24.5h0" fill="none" stroke="#e82020" stroke-width="1.7" stroke-linecap="round"/>
</g>
<line x1="281.40" y1="539.40" x2="297.80" y2="539.40" stroke="#f4f4f4" stroke-width="1.0"/>
<text class="sf" x="289.60" y="538.30" font-size="3.0" text-anchor="middle" fill="#e2e2e2">200 μm</text>
</g>
<clipPath id="ci21"><rect x="300.8" y="503.0" width="51.00" height="37.30"/></clipPath>
<g clip-path="url(#ci21)">
<rect x="300.80" y="503.00" width="51.00" height="37.30" fill="#010605"/>
<g filter="url(#bl)">
<path d="M330.9 529h0m-25.3 4h0m-4.6-15.5h0m42.8 18.6h0m1-0.8h0m-20.8-16.5h0m1.2 3.5h0m-13.3-5.4h0m13.3-13.2h0m4.8 1.7h0m-0.7-0.2h0m-19.1 14.9h0m29.4 19.8h0m0.3-6.4h0m-16.9-11.2h0m5.7 16.8h0m15.4-35.6h0m-8.1 26.3h0m10.2 7.9h0m-25.2-19.2h0m-8.2-8.3h0m32.8 20.5h0m-2.5-15.6h0m-3.4-11.5h0" fill="none" stroke="#148a60" stroke-width="1.0" stroke-linecap="round" opacity="0.85"/>
</g>
<line x1="334.40" y1="539.40" x2="350.80" y2="539.40" stroke="#f4f4f4" stroke-width="1.0"/>
<text class="sf" x="342.60" y="538.30" font-size="3.0" text-anchor="middle" fill="#e2e2e2">200 μm</text>
</g>
<clipPath id="ci22"><rect x="353.8" y="503.0" width="51.40" height="37.30"/></clipPath>
<g clip-path="url(#ci22)">
<rect x="353.80" y="503.00" width="51.40" height="37.30" fill="#0b0202"/>
<g filter="url(#bl)">
<path d="M379.4 514.7h0m-10.2 25.2h0m-15.2-1.3h0m34.2 1.4h0m-13.6-3.4h0m7.6-12.1h0m3.9-11.7h0m-1.2-3.2h0m-29.4 20.3h0m-0.3 7.5h0m10.2-0.4h0m4.2-7.3h0m1.6-0.8h0m-8.1-17.4h0m4.4 28.1h0m32.6-22.2h0m2.9 20.5h0m-41.9-11.8h0m3.6-10.2h0m4.8-4.5h0m14.4-0.3h0m-13-2.8h0m-3.4 23.6h0m1.1 7.3h0m-9.1-35.2h0m7.1 18.2h0m3.2-4.3h0m22.4 9.8h0m-26 8.1h0m6.1-11.5h0m0 6.9h0m11.2-9.6h0m-20.8-15.7h0m4.5 28.8h0m34.2-16.6h0m-43.9-7.7h0m44.4-2.6h0m-26.7-2.1h0m4.1 10.2h0m25.1 23.8h0m-24.7-5.5h0m8.7-13.9h0m5-16h0m-31 29.5h0m18-5.3h0m4.5 5.9h0m-18.2-24.8h0m2 25.8h0m11-3.9h0m13.8-15.7h0m-1.8 16.6h0m-11.7-9.8h0m-2-2.6h0m-13.4 4.4h0m33.2-11.9h0m-22.5 4.4h0m-6.3 20.7h0m22.2-31.4h0m-10.8 9.8h0m-7.8-8.9h0m12.2 9.3h0m3.8-8.9h0m-8.2 12h0m6.3-14.2h0m7.6 17.3h0m-27.6-13.4h0m28.9-5.7h0m-11.7 11h0m-12.5 24.5h0m-10.5-29.1h0m-6.5 6.7h0m3.3-12h0m31.2 33.6h0m-26.4-12.8h0m40.8-15.8h0m-41.5 12.2h0m-5.3 2.8h0m40.2 11.2h0m-37-12h0m20-4h0m-16.4 5.8h0m-1.7 2.8h0m-3.2-25.4h0m39.4 12.6h0m-23 6.5h0m3.6-18.4h0m17.5 35.8h0m-26.5-25.8h0m-1.3 13.9h0m12.8-3.7h0m4.3-11.2h0m-4.7 10.2h0m5.5 4h0m18.2-19h0m-24.2 17.2h0m-17.9-8.3h0m4.3 6.5h0m23.5-10.4h0m-12.3-2.2h0m-2.7 29.2h0m24.5-23.4h0m-28.1-6.7h0m27.8 27.7h0m-42.9-17.8h0m18.2-7.8h0m13.6 21.9h0m-15.3 5.8h0m12.4-27.6h0m3.9-4h0m-14 16.6h0m-11.7-17.6h0m10 28h0m-9-14.4h0m20.9-10.7h0m-12.2 25.4h0m21.4-11.5h0m-8.4-20.6h0m-20.1 13.1h0m-9.2 3.5h0m28.6 8h0m-0.2-5.7h0m11.8-10.1h0m-27.8-0.1h0m-0.1 23.5h0m8.3 1.6h0m1.5-19.6h0m6.7-13.1h0m-7.1 11.8h0m0.2 2.1h0m9.3 9h0m-34-4.7h0m21.3-5.6h0m-11.8 16.3h0m-0.4-20.5h0m7.6 24.4h0m7.9-28.3h0m-13.8 5.7h0m31.3-11.4h0m-29.7 26.9h0m-8.1-5.2h0m38.7-4.6h0m-7.3 3.7h0m9.5 15.3h0m-14.9-9.2h0m5.8 3.9h0m-15.3-6.7h0m0.4 7.8h0m20.8-19.6h0m-14.2 24.4h0m9.8-28.5h0" fill="none" stroke="#c01616" stroke-width="1.0" stroke-linecap="round" opacity="0.85"/>
<path d="M378.5 506h0m-10.9 27h0m-4.6-7h0m29.8 12.6h0m-17.1-33.5h0m-0.2 22.2h0m17.4 7.6h0m-35.7-15.7h0m34.1-6h0m4.2 26.4h0m-24.8-13.9h0m-14.5 2.3h0" fill="none" stroke="#e82020" stroke-width="1.7" stroke-linecap="round"/>
<path d="M402.8 532h0m-32.3 5.5h0m-16.5-13.5h0m2.9-5.7h0m10.8-10.6h0m31.2 25.6h0m-17.6-24.2h0m-1.3 2.3h0m2 16.7h0m20.4-15.9h0m-34.9-2.2h0m34.8 23h0m-30.5-13.9h0m24.2 5.6h0m-12-6.4h0m0.3-15.3h0m-21.5 31.3h0m38.4-10.3h0m-13.5-4.8h0m-15.4 5.6h0m21.7 12.1h0m-27.1-16.9h0m9.5 10.9h0m22.2 8.4h0" fill="none" stroke="#189868" stroke-width="1.0" stroke-linecap="round" opacity="0.85"/>
<path d="M388.2 525.5h0m-28.6-20.3h0m-4.7 20.9h0m28.5-21.7h0m15.8 24.3h0m-10-16.4h0" fill="none" stroke="#f0d0c0" stroke-width="1.0" stroke-linecap="round" opacity="0.9"/>
</g>
<line x1="387.80" y1="539.40" x2="404.20" y2="539.40" stroke="#f4f4f4" stroke-width="1.0"/>
<text class="sf" x="396.00" y="538.30" font-size="3.0" text-anchor="middle" fill="#e2e2e2">200 μm</text>
</g>
</g>
<g id="pG">
<line x1="56.20" y1="313.00" x2="56.20" y2="344.50" stroke="#1ec27c" stroke-width="1.3"/>
<line x1="56.20" y1="358.80" x2="56.20" y2="391.00" stroke="#1ec27c" stroke-width="1.3"/>
<polygon points="56.2,307.6 52.7,315.8 56.2,313.6 59.7,315.8" fill="#1ec27c"/>
<polygon points="56.2,396.4 52.7,388.2 56.2,390.4 59.7,388.2" fill="#1ec27c"/>
<text class="sf" x="58.60" y="351.60" font-size="7.0" text-anchor="middle" transform="rotate(-90 58.60 351.60)">PI</text>
<line x1="82.40" y1="404.10" x2="213.60" y2="404.10" stroke="#1ec27c" stroke-width="1.3"/>
<line x1="272.00" y1="404.10" x2="404.80" y2="404.10" stroke="#1ec27c" stroke-width="1.3"/>
<polygon points="76.9,404.1 85.4,400.5 83.2,404.1 85.4,407.70000000000005" fill="#1ec27c"/>
<polygon points="410.3,404.1 401.8,400.5 404.0,404.1 401.8,407.70000000000005" fill="#1ec27c"/>
<text class="sf" x="243.60" y="406.00" font-size="7.0" text-anchor="middle">Annexin V-FITC</text>
<text class="sf" x="125.00" y="302.50" font-size="8.2" text-anchor="middle">Control</text>
<clipPath id="cg0"><rect x="81.1" y="311.6" width="97.40" height="72.90"/></clipPath>
<g clip-path="url(#cg0)">
<path d="M91.8 362.3h0m-4.5-9.2h0m-4.6 0.4h0m8.4 19.6h0m2.2-5.6h0m-8.4 1.7h0m3 3.5h0m4.6-4h0m-5 3.3h0m-5.6-5.2h0m0.9 0.5h0m2 1.4h0m14.4 3h0m-16.3 5.2h0m16.2-7.2h0m-4.9-1.1h0m-4.4-16.5h0m-2.6 15.2h0m-2.4 7.9h0m-1.4-1.4h0m1.8 8h0m9.4-10h0m-9.2 5.6h0m0.2-14.2h0m-0.1 16.7h0m-3.3-11h0m1.1 2.3h0m-1.9-15.1h0m15.4 17h0m-7.7 6.2h0m-5-7.7h0m2.2 12.6h0m14.1-20.9h0m-14.4 14.4h0m10.4-8.3h0m-13.5 0.4h0m2.1 0.5h0m2.9 10.5h0m0.5-12.9h0m2.8-1h0m-6.9 11.1h0m-1.3-3.6h0m6.4 6.9h0m-2.8-9.9h0m0.2 3.4h0m8.3-11.6h0m-4.8 10.6h0m7.9-1.7h0m-7.1 8.9h0m0.9-19.8h0m-3.2 15.6h0m2.2-6.6h0m4.6 2.3h0m-7-0.1h0m-3.1 1.7h0m7.9-5.4h0m-4 2.8h0m-2.1 3.4h0m-2.4-19.2h0m0.9 4.7h0m-3.9 3.5h0m1.5 1.4h0m13 7.4h0m-12.3-7.4h0m9.3 2.3h0m-10.8 3.3h0m5.2-1.2h0m-1.8-6.1h0m0.6-2.7h0m-2.8 3.5h0m6.5-3.2h0m-5 3.8h0m5.9-7h0m-0.7-6.7h0m1.1 17.6h0m-5 1.7h0m5.5-15.2h0m2.7 17.8h0m-10.7-14.4h0m2 5.5h0m6.1-2.5h0m-1.6 0h0m-4.1 10.5h0m6.8 3.4h0m-9.3 7.7h0m-0.8-13.6h0m4.4 2.7h0m-1.8 0.4h0m-2.1 3.2h0m-1.5-2.6h0m7.6-0.3h0m0.6-8.6h0m0 6.9h0m-7.4 8.1h0m10.2-5.6h0m-2.7 3.1h0m-2.9 3.3h0m9.5-12.7h0m-12.4 7h0m6-9h0m13 0.2h0m-15.9 0.9h0m-6.1 4.5h0m8.6 6.7h0m-5.3-9.4h0m9.1-9.3h0m-6 18.2h0m-5.6 0.6h0m7.4-7.9h0m10.4-3h0m-13.3 0.8h0m4.6 2.4h0m-3.5 4.7h0m3.5-4.5h0m-7.9 9.8h0m6.5-1.2h0m-1.9-5.4h0m-3.6-17h0m7.5 15.5h0m-9.5-6.7h0m-0.7 10.5h0m6.7-5.1h0m0.5-5.2h0m-0.5-2.9h0m-7.1 4.6h0m0.3-2.8h0m7.3 5.3h0m-4.7 10.9h0m5-7.7h0m-7.7-12.4h0m6.1 12.1h0m-5.1-1.8h0m0.2-7.9h0m10.7 2.6h0m-5.5-1.1h0m0.6 2.6h0m-0.8 6.9h0m-2.9-20h0m2.6 24.4h0m3.5-10h0m-7.3 6.9h0m11.3-11.5h0m-8 9.9h0m0.8-15.2h0m-5.6 11.2h0m3.2-20.3h0m9.5 21.8h0m-0.5-15.5h0m-12.1 11.4h0m6 13.1h0m-2.6-6.5h0m-2.6-4.1h0m4.8 6.6h0m-4-3.7h0m10.2-7.2h0m-9.5 3h0m3.6 5.9h0m1.2-8.4h0m-0.3 2.6h0m4.9 7.1h0m-5.6 5h0m12.1-9.8h0m-7.8-3.2h0m-10.6 13.9h0m3.8-10.6h0m-3.9 8.2h0m-0.3-12.7h0m2.4-6.4h0m8.3 17.5h0m-7.4-3.9h0m1.6-5.5h0m1.8-3.1h0m6.7 8.8h0m-9.2-0.9h0m8-5.1h0m-12 7.5h0m12.1-5.9h0m-10.7-2h0m3.7-1.3h0m-5.1 12.5h0m5.5-12.1h0m-2.6 7.8h0m2.6-13h0m-3.1 2.1h0m3.2 0.2h0m3.3 2.1h0m-9.1-2.3h0m1.4 9.2h0m-1.2 1h0m7-8.1h0m-7.7 5.7h0m8.9 4.1h0m-4.8-1.2h0m0.5 3.8h0m-4.4-0.1h0m3.6-0.8h0m-2.9 3.5h0m11.5-13.7h0m-7.8-3.4h0m-0.4 6.7h0m-0.6-4.5h0m2.9-5.7h0m-3.4 16.1h0m3.2-3.7h0m1.6 2.9h0m0.4-5.1h0m-4.6 9.6h0m-2.6-13h0m-0.3 16.6h0m11-16.1h0m2.4 9.4h0m-11.9-3.9h0m23.1-8.5h0m-17.3 6.3h0m-5.3 2.6h0m5.4-7.2h0m-5.5 4.5h0m-2.6 3.6h0m2.4-0.9h0m-2.2 6.5h0m0.7-5.8h0m7.9-2.8h0m-5.3-0.3h0m-2 4.2h0m17.6-8.2h0m-5.1-4.4h0m-13.7 10.6h0m9.4-3.8h0m-2.1-1.1h0m2.3-5.7h0m-3.6 5.5h0m-0.7 8.2h0m-3.9-0.7h0m3.9-0.9h0m2.3 1.3h0m-2.2-7.1h0m6.9 7.5h0m-7.1-3.1h0m-3.7 5.9h0m5.6-2.7h0m-1.8 7.5h0m11.9-18.2h0m-9.2-5.2h0m0.1 7.2h0m-3.3-6.8h0m8.4 7.1h0m-11.5-2.4h0m1.2-1.3h0m-1.1 9.5h0m1.1 3.3h0m-0.1-11.4h0m10.6 11.2h0m-11.9-6h0m2.5 2h0m6.5 11.1h0m-6-16.2h0m2.6 7.1h0m-6.8-2.2h0m13.5-8.7h0m-13.6 4.1h0m4.7 2.6h0m-2.9-7.5h0m12.1 3h0m-8.8 10.1h0m2.7-9.2h0m0.3 8h0m-6.4-22.2h0m20.5 14.4h0m-19.4 2.2h0m0.2-5.6h0m5.3 3.4h0m-2.4-1.1h0m-5 11.7h0m1.9 3.5h0m0.6-5h0m12.8-6.5h0m-9.6-7.3h0m-3.2 11.6h0m1-10.7h0m0.2 9.2h0m6.2 6.3h0m-6.6-10.5h0m-2.5-3.7h0m4.9-7.8h0m4.1 4.6h0m-10.4 10.8h0m10.8-1.6h0m-8.2 8.1h0m-2.7-5.6h0m2.5 5.6h0m10.3-5.4h0m-5.6-18.5h0m-3.4 5.4h0m10.7 7.9h0m-7.6 11.4h0m-3.1-16.9h0m-3.8 11.9h0m6.2 0.8h0m6-10.4h0m-11.3-0.2h0m4.7 3.9h0m-5.7-0.2h0m-0.4-8.9h0m17.8 7.3h0m-11.7-9.5h0m-5.5 3.1h0m1.8 20.3h0m2.5-12.9h0m5.7 2h0m-10.4 2h0m3.8 2.8h0m6.5-17.3h0m-0.5 8.2h0m-7.1 8.4h0m1-11.9h0m-2.4 1.8h0m2.8 4h0m-2.2 9.5h0m11.1-17.8h0m-7.3 21.7h0m-5.6-15.5h0m9.9 9.7h0m-1.8-18.4h0m-7.4 6.2h0m8.3 12.6h0m-3.4-8.2h0m-3.9 14.5h0m3.2-11.8h0m-1.2 1.9h0m6.8-5h0m-8.8 9h0m8.2-11.3h0m-5.3-5.5h0m4.2 15.5h0m1.8-20.8h0m1.1 2.8h0m-10.5 26.8h0m3.6-20h0m-0.7 10.8h0m-2.5-0.2h0m4.8 6.1h0m-0.6-22.2h0m-1.8-4.5h0m7.3 14.7h0m-7.9 2.2h0m-1.4 2.6h0m-0.3 5.7h0m10.5-4.4h0m-12.6-6.4h0m8.8 9h0m-5.9-2.9h0m3.9-7.2h0m-2.8-4.2h0m16.4 4.1h0m-7.2 10.4h0m-12.1-12.5h0m6.2 12.7h0m-2.1-1.6h0m8.2-4.4h0m-10.8-10.3h0m-0.5 17.2h0m3.9-14.9h0m2.5 10.5h0m-7.7 9.2h0m5.3-9h0m2 2.4h0m2.6-6.2h0m-10.1-6.5h0m5.9 8.1h0m1.6 1.4h0m-5.4-2.3h0m6.4 3.5h0m-3.2 0.1h0m6.8-6.7h0m-10 3.3h0m12.9-9.5h0m-8.1 0.6h0m-5.8 9.4h0m-0.8-8.6h0m10.5-2.4h0m-4.2 6.6h0m7.4 3.9h0m-10.9-2.7h0m-2.1-5.4h0m4.4 11.2h0m0.9-1.8h0m-4.8-4.8h0m2.4 11.3h0m3-4.2h0m6.9-13.5h0m-14 11.5h0m10-19.4h0m-6.7 15.4h0m-1.9 1.7h0m1.7 8.6h0m-0.1-5.7h0m1.7-8.2h0m1.5 12.8h0m13.1-16.9h0m-19.2 20.6h0m0.2-0.4h0m-0.4-14.3h0m13.2 5.8h0m1.4-0.8h0m-6 3.9h0m2.9-13.7h0m-2.3 12.4h0m-1.3-1.4h0m-7.4-0.5h0m1.8 7h0m8.5-23.4h0m-3.9 22.1h0m-2.7-25.4h0m20.2 10.9h0m-23.2 12h0m1.5-5.9h0m10.4 5.4h0m-5-5.5h0m-2-1.7h0m9.1-1.7h0m-10.4 10.5h0m6.1-5.3h0m-8.8 8.1h0m0.9-7.2h0m-0.8 2.4h0m4-5h0m-6.3-4.9h0m5.5-3.7h0m3.6 17.2h0m-9.3-1h0m6.6-12.3h0m-2.4 3h0m-2.5 5h0m-1.2-12.2h0m1.9 10.3h0m2-8.4h0m-2.9 6.7h0m2-0.5h0m-1.5-8.7h0m2.5 7.1h0m-0.6 2.5h0m8.2 6h0m-9.6-3.2h0m9.6 1.3h0m-1.4-10.9h0m0.6 12.8h0m-9-8.2h0m-2.3-2.8h0m-0.1 6.6h0m0.4-10h0m7.5 4.4h0m-4.6 9.8h0m-2.4-1.3h0m1.1-0.7h0m8.8 2.5h0m-7.7-9.1h0m3.4 11.1h0m-2.9-15.1h0m13.7 0.2h0m-13.1 12.8h0m6.6-4.6h0m-1.8-6.4h0m-4.3-1.1h0m-1.2-7.8h0m-2.5 18.6h0m-0.6 3.8h0m4.8-11.5h0m3.4-4.3h0m-4.5 7.2h0m-3.2-6.1h0m8.9 14h0m-3.4-15.6h0m2.8-0.9h0m-8.7 17.9h0m1.3-5h0m10.9 1.8h0m-11-0.2h0m12.8-9.7h0m-6.3-0.9h0m-1.1 10.9h0m-6.9-3.3h0m6.4-4.4h0m1.5 8.6h0m11.2-13.9h0m-15.4 8.7h0m-3.5-4.7h0m3.1 3.1h0m7.4 0h0m-4.5 3.2h0m15.9-9.2h0m-17 9.2h0m14.2-4h0m-10.4 9.3h0m-2.4-11.2h0m-2.8-5.6h0m-2.1 11.1h0m7.2-5.4h0m-1.9 3.4h0m-7-6.2h0m14.4 8.7h0m-10.9-5.1h0m0.3 14.4h0m-3.5-15.5h0m4.2 3.6h0m-2.8 3.1h0m9.6 0.7h0m-8.2-7.4h0m-2 0.1h0m4.6 0.7h0m-4.1 5h0m-1-6.1h0m-0.1-3.2h0m9.8 1h0m7.4 7.4h0m-11.6-4.4h0m-0.1 9.4h0m2.1-17.3h0m-8.2 10.7h0m7-2h0m0.7-7h0m-0.2 20.4h0m6.3-11.4h0m-2.1-9h0m-6.3 17.3h0m10.1-7.8h0m-13.3-15.2h0m8.2 17.8h0m-6.1-2.2h0m-0.5-5.2h0m2.2-5.5h0m3.4 17.8h0m-8.6-1.3h0m11.9-5.6h0m-0.1-7.2h0m-3.3 6.3h0m-4.4 12.4h0m3.3-4.5h0m-7.8-16.4h0m0.7 6.1h0m0.6 4.8h0m13.1-1h0m-7.3 4.3h0m-5.6-5.7h0m2.2-12.9h0m7.7 2.5h0m-1.4 2.3h0m-3.3-0.6h0m10.9 11h0m-17.1 0.7h0m1.2 0.3h0m0.4-0.6h0m-2.5-1.9h0m6.6 2.3h0m-5.5-10.8h0m9.4 0.4h0m-8.8 15.4h0m6.8-5.4h0m1-1h0m-8.1-13.7h0m7 2.9h0m-7.1-6.8h0m12.2 9h0m-2.4 13h0m-1.3-19.8h0m-7.7 5.5h0m0.7 15h0m-2.9 5.5h0m0.7-17.3h0m15.8 2h0m-13.9 5.9h0m4-7.4h0m-2.1 9.9h0m0.5-5h0m-1.3 1.5h0m7.4-1.3h0m5-4.4h0m-11.7 6.2h0m-1.3-2.1h0m8.8-8.1h0m3.8 10h0m-10.5-3.1h0m3.3 4.9h0m-5.7-9h0m7.1 9.5h0m-7.4 7.3h0m0.7-13.6h0m-2.1-6.1h0m0.3 1.3h0m0.6 3.1h0m1.6 3.3h0m8.8-13.4h0m-10.7 12.1h0m8.2 1h0m-5.2 2.3h0m-3 7h0m10.2-3.4h0m-11.6 1.4h0m6-2.9h0m0.3-6.5h0m0.1 7h0m-3.1-5.4h0m-0.3 5.8h0m0.8-12.7h0m-0.3 0h0m-1.7 6.1h0m-1.1 8.5h0m7.1-6.6h0m8.9-0.6h0m-8.3-3h0m-2-5.5h0m1 13.9h0m-1.3 1.6h0m-1-11h0m2.5 12.9h0m-3.3-10.9h0m8.9 7h0m-9.4-3.3h0m-3.5-18.4h0m2.7 18.8h0m1.7-6.1h0m-3.7 2.9h0m3.7 3.1h0m1.7 9.4h0m10.5-11.7h0m-10.5-8.3h0m-3.5 5.2h0m4.4 5.2h0m-4.6-3.8h0m3.4-2.4h0m-2-13.6h0m3.7 15.8h0m10.6-18.4h0m-11.8 23h0m-2.7 5.6h0m3.9-10.7h0m-7.7 14.5h0m10.8-6.9h0m-4.3-2.3h0m9 1.4h0m-12.3-8.3h0m8 5h0m7.3-0.4h0m-17.6-6.3h0m5.1 16h0m3.5-6.6h0m-8.3 7h0m4.4-8.1h0m9.5-2.6h0m-13.7 9.7h0m2.6-7.9h0m-1.9 4.8h0m1.4-4.1h0m10.5-1.9h0m0.3-6.9h0m-13.3 1.3h0m2 11.5h0m1.6-3.5h0m-3.1-11.1h0m5.6 9.5h0m2.6-13.1h0m-8.3-0.2h0m7.7 7.5h0m-1 12.4h0m-8-4.9h0m0.1 6.7h0m2-6.6h0m-2.5 5.5h0m9.7-10.2h0m-2.2-8.8h0m-1.1 7.4h0m-0.5 8.3h0m5.5-16.2h0m-9.6 5.3h0m-1.2 7.4h0m4.8-3.8h0m2 3.1h0m-6.7 5.2h0m5.2-14.5h0m2.6 16.4h0m-4.6-19.8h0m13.8 13.8h0m-8.5-10.2h0m-4.3 11.4h0m5.8-0.4h0m-0.2-0.6h0m-6.6-7.3h0m7.2 1.8h0m-6.9-1.7h0m-2.5 14.6h0m8.4-15.7h0m-3.8 13.3h0m-1-8.4h0m2 2h0m-0.6 1.1h0m-2.1 5.7h0m-1.7-8.6h0m5.1 11.6h0m-6.8-11.1h0m-0.3 7.6h0m6.5-11.7h0m-7 14.4h0m4.5-8.7h0m2-11.5h0m3.8 12.5h0m-8-21.3h0m-0.8 18.3h0m11 1.2h0m-6.5 11h0m1.7-2.4h0m1.7-16h0m2.4 2.1h0m-8.8-6.4h0m-2 23.1h0m0.8-12.9h0m-2.1-3.8h0m10.5 6.2h0m-8.1-13.9h0m22.3 3.4h0m-18.7 21.3h0m-2.6-12.2h0m-1.4-10.6h0m12.9 8h0m-11.9 0h0m8.9 4.4h0m-5.1-20h0m-1.6 4.9h0m3.1 17.5h0m9.7-13.3h0m-17.9 2.8h0m1-2.6h0m4.9-0.1h0m3 0.4h0m0.9 7.8h0m2.8 2.2h0m-10.3-1.5h0m4.9-0.8h0m-4.9 1.8h0m-1.3 6.6h0m1.2-12.1h0m3.2-3.5h0m2.3 3.5h0m-4.8 11h0m-3.1-5.4h0m3.6 3h0m2.2 9.5h0m-1.8-7.8h0m-0.8 6.1h0m1.1-10.4h0m2.5-1.4h0m7 6h0m3.4-9.4h0m-10.5 4.4h0m7.1-1h0m-12.6-13.7h0m6.2 14.9h0m-0.4-2.6h0m1 6.5h0m1.5-5.3h0m-2.1 2.2h0m-6.4-7h0m2.5 7.6h0m4.2-8.4h0m-1.7-3.9h0m2.2 9.6h0m-7 2.6h0m5.2 4h0m6.7-4.8h0m-9.9 4.2h0m0.7 3.6h0m-0.7-8.3h0m0.3 11.9h0m14.1-7.4h0m-16.2-7h0m0.1 7.9h0m8.2-1.9h0m-5.8 4.1h0m11-18.4h0m0.4 11.2h0m-8.7-7.6h0m-1.1 2.5h0m2.1 3.5h0m7.2-6.1h0m-1.9 1.8h0m-6.6 8.1h0m4.4-17.4h0m-9.8 12.5h0m3.7 8h0m-1.7-1h0m5.5-5.8h0m-7.5 9h0m10.2-11.7h0m-11-15.1h0m4.6 31h0m-4.6-23.4h0m13.7 12.9h0m-8.7 0.4h0m-4.4 1.5h0m20.3 0.7h0m-15.8 2.2h0m0.1-6.5h0m9.7-12.4h0m-5.8 14.8h0m-7 8.6h0m2.4-6h0m-0.8 5.2h0m6.3-10.6h0m-6-8h0m4.7 5.4h0m-3.6-15h0m3.2 10.4h0m-5.1-4.8h0m-0.2 20h0m-2.2-6.4h0m2-8h0m-2.9 8.4h0m12.9-0.1h0m-7.1 5h0m2.7-22.3h0m-6.7 10.2h0m3.7 5.1h0m5.5-5.3h0m-0.4-2.4h0m-0.1-0.8h0m-7.6 14.4h0m2.5-13.2h0m6.4 3.2h0m-11.6 7.6h0m8.7 3.5h0m10.8-19.5h0m-7.3 2h0m-2.2 10h0m-1.5 5.1h0m5.6-6.5h0m-3.2-0.9h0m-7.3 1.3h0m-3.1-6.1h0m5.9-2.9h0m-6.6 11.3h0m13-8.1h0m8.5-4.6h0m-10.9 16.4h0m-8.6 1.3h0m9.4-8.8h0m-1.4-2.6h0m2.7 5.9h0m-6.5-5.9h0m-4.9 17.9h0m0.4-10.6h0m2.2 5.2h0m1-17.4h0m11.2 11.7h0m-12.4 5.7h0m-3.7-18.7h0m16.8 8.5h0m-12.7 0h0m-0.4-5.6h0m3.4 6.4h0m-0.7-7h0m1.5 9.4h0m-4.5 3h0m-2.1-5.4h0m1.5-0.9h0m11.9 3.8h0m-11.1 4.8h0m6.2-13h0m-0.1 2.1h0m-7.5 16.8h0m9-13.7h0m-7.8 7.2h0m-1.6-6.1h0m6.6 1.9h0m-8 9.2h0m9.6-4.7h0m-6.6-10.8h0m5.9 1.4h0m-6.6-5.4h0m4.5 2.3h0m-5.5 4.7h0m16.8 4.1h0m-5.2-10.9h0m-10.8 2.6h0m4.3 8.6h0m-1 0.1h0m-1.2 10.9h0m2.9-6.3h0m-4.8-11.7h0m2.1 2.8h0m-2.9 12.9h0m3.9-13h0m-3.6 6.3h0m8.5 8.4h0m-8.9-16.4h0m2.9 6.8h0m-4.8 5.2h0m6.7 3.2h0m0.5-11.3h0m-7.1 5.3h0m7 1.3h0m2.4-1.3h0m9.6-10.6h0m-12.5 4.6h0m-6.2-6.1h0m9.9-0.7h0m-8.3 9.3h0m-0.9 7.4h0m6.9-0.6h0m1.9-7.4h0m7.1-12.7h0m-12 1.1h0m21.7-7h0m-24.3 9.7h0m3.8 4.6h0m-1-3.9h0m28.1-3.3h0m-26.1 14.4h0m-2-12.3h0m-5 12.8h0m-0.2 0.5h0m6.1 5.4h0m4.1-18.5h0m-9.4 2.6h0m6.8 9.9h0m-3.8-14.4h0m1.5 13.5h0m8.4-9.3h0m-13 12.6h0m6.3 0.2h0m-5.6 1h0m3.8-7.4h0m-2.7 2h0m7.3-15.2h0m-0.3 7h0m-1.1 13.2h0m-3.2-8.5h0m4.8-0.7h0m-6.9 10.6h0m3.4-18h0m-3.4 15h0m4.5-12.6h0m-4.7 16h0m7.4-2.4h0m-4.2-11.5h0m4.9 2.9h0m-7.7-2.8h0m4.8 14.8h0m-7.4-0.3h0m5.5-7.5h0m-1.5-0.7h0m-4.1-8.8h0m5.4 7.1h0m-3.6-7.1h0m9.5 7.5h0m-1.6-7h0m-3.9 13.6h0m-5-10.8h0m9.9-1h0m1.3 10.2h0m2.7-5.8h0m-13.3-7.4h0m11.6-5.1h0m-10.1 13.5h0m1.7-18.1h0m-2.7 21.1h0m1.3-10.7h0m2.4 9h0m-4.9-15.2h0m0.1 5.5h0m7.4 8.9h0m-1.2 1h0m1.1 7.5h0m-5.3-15.7h0m12.6-5.5h0m-4.9 17h0m-3.9 1.3h0m9.4-10.8h0m-4.1-7.6h0m-8.2 15.5h0m-0.5-13.1h0m9.4 10.5h0m-5.4-1.3h0m2.8-2h0m-8.2 12.3h0m10.9-12.2h0m-12 14.7h0m5-17.2h0m-2.2-1.7h0m-2.4-1h0m1.6 1.8h0m0.4 12.3h0m8.9 5.3h0m-7-8.6h0m7.1-13.6h0m-12.4 17.4h0m4.4-6.7h0m-2.5 7.7h0m1.4-4.8h0m2.3-7.1h0m13.5-6.2h0m-16 4.7h0m-2.9-1.7h0m5.8 1.2h0m-1.1-6.4h0m-0.9-0.3h0m-1.5 16.6h0m4.2-2.3h0m-3.5 6.5h0m0.2-11.6h0m-2.4 4.5h0m6.3 10h0m4.5-7.5h0m-3.8-4h0m-6.2 1.9h0m11.5-5.2h0m-8.8 7h0m-2.6-12.4h0m-2.1-4.1h0m2.7 20.9h0m-2.1-14.1h0m16.5 0.8h0m-10.6 5.7h0m-3.6 8.2h0m12.3-14.7h0m-5 7.1h0m-5.9-1.6h0m8.6-6.3h0m2.1 7h0m-3.8-8.1h0m-5.2 7.4h0m-3.9 0.8h0m15.4-19.5h0m-10.4 13.2h0m4.7 9.7h0m-4.3-9.2h0m7.5-3.4h0m-12.3-3.1h0m-1.7 7.4h0m5.8 5.6h0m-2.4-7.4h0m0.9 7.8h0m3.1-10.8h0m-1.2 18.6h0m-0.6 1.4h0m-3.7-23.7h0m7.6 9.7h0m-3.7 4.1h0m-4.1 1.6h0m9.6-6.4h0m-3.9-3.6h0m-0.6 11.8h0m13.6-7.2h0m-14 13.9h0m3.4-14h0m6.9 9.8h0m-17.3-12.7h0m0.3 2.8h0m7 1.8h0m-0.6 3.3h0m1.3 2.5h0m-8.1 1.3h0m1.8-1.4h0m5-8.8h0m-0.4 11h0m-3.8-5.9h0m-2-0.2h0m3.2 12.3h0m-1.1-16.2h0m1.8 8.3h0m0.5-9.6h0m5.1-10.8h0m-6.3 12.6h0m3.6 4.6h0m4.3 0.5h0m1.2-3.2h0m2.7 1h0m-10.2 0.6h0m-2.4-5.4h0m-1.3 13.3h0m0.1-7.5h0m6.2-0.7h0m4.7 3.8h0m-4.1-3.4h0m-2.8-3h0m-2.4-4.6h0m-1.5 0.6h0m1.5 3.1h0m6.4 4.9h0m-5.6-0.5h0m9.9 3h0m-8.1-17.7h0m1.5-5.3h0m-6.2 23.9h0m0.3-0.3h0m3.1-7h0m-4 13.7h0m-0.4-12.8h0m8.8-2.6h0m0.5 1.5h0m-5.2-11h0m0.3 8.7h0m4.5 7.8h0m2.7-0.4h0m2.2-0.2h0m-7.4-13h0m-4.4 4.5h0m-0.8-4.5h0m8.8 13h0m3.6 0.5h0m-8.5-10.3h0m2.6 3.5h0m-6.3 3.6h0m7.6 2.9h0m-1.4 2.2h0m-4.7 0.9h0m-1.7-15.4h0m3.2 7.9h0m3.8 10.1h0m-7.6-16h0m2.1 15.7h0m17.5-16h0m-11-3.8h0m-5.2 5.2h0m12 6.7h0m-15.2-7.4h0m3.9 20h0m-3.6-5.9h0m-1.7 6.1h0m12.4-27.2h0m-3.9 10.1h0m-5 2h0m18.4-9.7h0m-19.5 16.6h0m-0.9-2.8h0m-0.6-9.4h0m6.2-5.5h0m0.2 14.8h0m-6.8 5.1h0m6-5.1h0m-1.4 6.3h0m19.8-11.9h0m-21.3 7.2h0m2.3-6.5h0m1.3 2.2h0m8.9-9.8h0m-12.7 9.9h0m6 10.5h0m-3-11.6h0m-4 4.3h0m2.7-0.7h0m-3.1-9.1h0m9 13.5h0m-10.9-8h0m8.8 2.1h0m-4 5.3h0m11.7-14h0m-4.6-8.7h0m-9.3 19.6h0m1.8 4.7h0m-1.2-5.2h0m12.4-10.2h0m-13.4 11.5h0m2.9-3.1h0m-3.3 6h0m-1.4-3.5h0m14.2 1.4h0m-5.6 0.7h0m-1.5-11h0m1.1 16.9h0m-3.2-14h0m-5-5.2h0m0.1 18.6h0m3.9-7.3h0m5.8-4.8h0m-7.9-4.1h0m1.9 3.4h0m2.1 2.7h0m-5.2-4.3h0m-0.4 8h0m2.4 6.6h0m-2.7-5.5h0m5.3-8.3h0m-4 12.2h0m6-19h0m1.1 5.3h0m-3.7 13.9h0m7.1-3.7h0m-2-19.5h0m-4.3 5h0m-3.7 3.8h0m2.5 4.5h0m4.8-1.9h0m-5.3-0.1h0m2.6-5.5h0m6-2.1h0m-10.1 17.3h0m2.5-8.2h0m-2.2-6.3h0m-1.8 12.5h0m4.6 5h0m7.5-16.2h0m-6.9-1.1h0m-4.1 1.6h0m-1.8 18h0m1.9-12.3h0m11.8-4.7h0m-7.4 0.4h0m-5 4.1h0m9.1-5.4h0m-7.5-1.4h0m10.4 0.3h0m-13.1 12.8h0m-0.5-21.3h0m1.1 26.3h0m6.1-10.3h0m-3.6-5.1h0m-2.3-2.7h0m0.7 11.1h0m5.6-1.6h0m-3-0.6h0m1.3-3h0m-5-3.2h0m-0.3 5.5h0m5.4 1.5h0m5.7 1.7h0m-9.9 1.3h0m10.6 0.3h0m-6.6 3.7h0m-1.9 0.9h0m4.6-13.7h0m-6.5-4.2h0m9 15.9h0m-8-0.9h0m-3-1.2h0m4.6-10.6h0m-4.8 2.7h0m8.6-1.6h0m-8.6 0.3h0m12.6-5.1h0m-11.9 12.3h0m6.3-0.6h0m-0.9-6.1h0m6.5 7.4h0m-12.7-19.3h0m5.2 27.2h0m8.5-18.5h0m-5.1 5.4h0m9.9 0.4h0m-11.3-6h0m0.9 14.8h0m-2.9-2.7h0m4.1-9.3h0m0.7-7.8h0m-2.9 9.5h0m0.2 0.2h0m1.2 12.9h0m7.1-11.5h0m-12.2-5.6h0m11.9-6.5h0m-10.9 13.2h0m3.4-7.9h0m-2.7 13.1h0m-4.4-17.1h0m0.5 11.4h0m2.3-0.1h0m8.8-4.6h0m1.2-1.9h0m-3.3 3.4h0m-7.2 5.4h0m-1.2-4h0m2.2-1.9h0m2.6 5h0m5.4-0.1h0m-8.5 8.3h0m1.3-10.3h0m-3.8 6h0m0-4.4h0m20.8-6.1h0m-5.7 9h0m-10.9-6.3h0m-2.1-0.1h0m5.2-6.5h0m-6.4 3.6h0m5.3 14.7h0m-4 1.4h0m-3.2-12.6h0m3.6-19.9h0m5.7 28h0m-8.7-2.4h0m8.8-3.8h0m-4.1-2.1h0m4.4-2h0m4.9-2.9h0m-14.3 16h0m14.7-5.4h0m-3.4-5.2h0m-1.8 0.6h0m1.6-10.2h0m-2.8 7.4h0m-6.4 3.9h0m1.3-0.9h0m6.8-4.3h0m-6.7 11.9h0m-3.3-5.6h0m6.6 3.6h0m-4.3-16.8h0m14.2 7h0m-16.4 16.2h0m5-24.2h0m-0.5 18.7h0m0.8-10.1h0m2.1 0.4h0m-7 1.3h0m18-9.9h0m-11.1 11.2h0m4.8-18.2h0m-9.9 21.8h0m10.8-22.5h0m3 23.4h0m-11.2-10.6h0m1.2 15.1h0m-0.6-7.3h0m5.8-7.8h0m-5.5 17.3h0m10.7-20.5h0m1.5 8.9h0m-9.7 4.8h0m-2.9-12.5h0m7.5-5.3h0m-3.6 5.5h0m-2 2.3h0m-5.6 7h0m2.4 11.7h0m3.8-7h0m-3.4-11h0m-2.7-7.8h0m1 9.2h0m4.5-0.5h0m-4.5 3.8h0m-0.8 7.4h0m0.9-19.3h0m5.6 21h0m1.3-3.7h0m-9.4 3.7h0m16.9-11.7h0m-14.5 7.2h0m3.1-9.3h0m1.3-1.9h0m7.6-2.2h0m-15 13.8h0m2.9 6h0m0.7-19.2h0m1.8 9h0m2.7 8.2h0m3.1-13.9h0m-7.3 6.6h0m-1-13.8h0m1.8 3.7h0m-3.8 13.5h0m-0.5 7.9h0m15.2-14.3h0m-10 12.9h0m-4.9-7.6h0m0.7 1.4h0m-0.3-1.7h0m6.9-3h0m-7.8-7.3h0m6.3 8h0m-1-1.5h0m9.1-1.6h0m-12.2 0.8h0m10.2 1.7h0m-2.8-4h0m10.5 11.7h0m-15.9-8h0m8.8-1h0m-13.3-1.8h0m3.7 15.7h0m19.2-30.9h0m-15.9 15.4h0m-6.8 7.7h0m8.8-2h0m-4.8 1.9h0m-2.2 0.2h0m-0.1 2h0m7.1-7.2h0m-1-5.4h0m7.8 3h0m0.1-3.5h0m-14.7-9.1h0m4.6 25.8h0m-5.2-2.2h0m-0.2-17.7h0m0.5 14.5h0m3.3-7.9h0m12.4 2.8h0m-6.7 1.8h0m0.5-7.9h0m0.4 14.9h0m-6.9-4.3h0m8.9-4.5h0m-1.2-3.6h0m-5.1 3.7h0m3.6-8.7h0m0.5 5h0m-9.9 5.9h0m6.8-6.5h0m2.8-3.8h0m-1.6 17.1h0m-4-9.1h0m1 0.5h0m-2.8-5.1h0m7.2-1.9h0m-7 3.9h0m4.6 3.5h0m-6.5-1.3h0m3 10.3h0m4.7-7.5h0m-7.7-0.3h0m3.7-7h0m1.4 10.9h0m0.6-16.6h0m-3.2 13.6h0m4.6-9.7h0m-6.2 7.4h0m1.7 4.2h0m-1.8 0.7h0m9.2-3.9h0m-10.5-9.1h0m-0.6 8.4h0m13.6 2.8h0m-4.4-1.1h0m-1-2.6h0m5.8-2.9h0m6.9-0.8h0m-19.2-0.9h0m1.2 9h0m3.8 1.3h0m-2.2-8.2h0m2.3 7h0m-4-9.2h0m0.2-0.2h0m6.2 0.7h0m-8.2 15h0m-0.8-8.9h0m-0.2 8.5h0m6.1 0.8h0m-5-5.6h0m1.2-4.7h0m2.6 5.3h0m0.4 3.5h0m-0.4-8.7h0m1.5-11.1h0m-4.4 15.4h0m5.8 1.8h0m1.2-15.8h0m-1.1 4.4h0m-4.1 8.6h0m-3.4-6.3h0m9.3-6h0m-5 9.5h0m-4.4 8h0m8.8-20.2h0m-8.3 12.4h0m4.6-2.1h0m-3.5 9.1h0m7.5-24.2h0m1.3 20.4h0m-8.5-7.5h0m4 7.8h0m0.8 6.2h0m5.5-12.8h0m14.3 13.9h0m-17.8-8.3h0m-5.1-3.7h0m4.5-9.5h0m2.9 11.5h0m-1.2-7.7h0m-3.5-9.3h0m-5.8 6.6h0m19.5 3.6h0m-10.9-5.7h0m-5.5 16.3h0m-2.1-1.8h0m2-0.4h0m0.7-12.2h0m11.6-9.2h0m-11.2 20h0m-1.7-4.2h0m13.5 1h0m-12 5.9h0m-2.6-7.4h0m7.4-7h0m4.7 5.2h0m-1.3 8h0m-2.1-1h0m-9.2 5.8h0m10.1-2.1h0m-6.6-11.7h0m5.4 9.9h0m-8.9-15.3h0m1.8 11.6h0m6.1-11.5h0m7.3-6.2h0m-14.1 9.2h0m3.3 6.4h0m0.5 6.7h0m4.5-3.3h0m-5.6-2.9h0m2-4.7h0m-2.7-7.6h0m-0.9 1.8h0m5.3 17.7h0m-6.4-10.7h0m4.5 11.6h0m-6.9-3.7h0m1.5 4.8h0m1.8-31.2h0m6.7 9.2h0m0 12.9h0m-8.9-0.3h0m1.5-13.7h0m3.7 24.1h0m-0.8-7.6h0m9-15.9h0m-5.9 19.5h0m-6 7h0m9.3-22.7h0m-2 11.6h0m-8.5-1.3h0m4.1-5.2h0m-0.4 10h0m0.3-5.8h0m11.5 3.8h0m-16-1.4h0m8.4-7.8h0m6.5 10.3h0m-15-14.3h0m17 5.2h0m-6.8 2.4h0m-2.7 0h0m-4.2 2.9h0m4.8-10.3h0m-7.8 16.2h0m6.5-17.9h0m-3.8 11.9h0m-2.9-2.8h0m0.8-20.3h0m7 24.3h0m0.7-7.9h0m3.5 5.8h0m-10.9 2h0m9-9.2h0m-2.8 17.8h0m-7.5-0.9h0m0.8-5.7h0m11.6-0.2h0m-9.4-17.7h0m8.2 8.2h0m-12 3h0m14.3-10.2h0m-5.3 18.8h0m-6.2-3.3h0m4.1-10.4h0m-7 14.2h0m5.2 3.8h0m1.7-1.8h0m3.4-4.6h0m-9.5 6.8h0m4.7-10.9h0m2.7 5.9h0m-0.8-2.2h0m6.5-15.6h0m-8.6 20.4h0m-5.2-7h0m2.5-7.2h0m11.3 6.8h0m-14.1 3.4h0m16.6-21.2h0m-11.1 7.6h0m-4.2-0.9h0m4.1-0.1h0m2.5 5.6h0m-2.5 0.6h0m-3.5 12.7h0m6.7-12.4h0m-2.8 8.6h0m-5.4-7.8h0m3.7 4.7h0m-0.8 0.2h0m2.2 7.6h0m13.2-16.2h0m-10.3 13.7h0m-3.6-0.5h0m0.3 7h0m1.2-18.6h0m-0.7 3h0m6.2-7.9h0m-9.6 16.3h0m0-7.3h0m4.4-0.9h0m-4.6-0.1h0m0.5-2.6h0m9.9 0h0m-8.6 12.1h0m-0.9-18.1h0m-1.3 10.7h0m4.6 5.9h0m1.4-11h0m-5.3 10.5h0m5.1-1.7h0m4.8-1h0m-5.4-6.8h0m10.3 10.3h0m-3.1-8.2h0m-10.7 10.1h0m-1.3-11.1h0m4.2 13.3h0m6.3-3.5h0m3.4-5.1h0m-4.6-7.2h0m-3.3 16.6h0m-4.5-20.1h0m-3.4-2.1h0m2.1-4.9h0m-1.1-0.4h0m-0.3 14.4h0m0.4-2.3h0m6.1 15.5h0m0.8-17.5h0m-3.5 1.9h0m9.4-10.7h0m-8.5 9.4h0m-5.3 16.3h0m10.1-2.3h0m-4.2-3.6h0m-2.4-1.3h0m0.3 7.1h0m-1.9-16.8h0m5.6 1.4h0m-0.1 4.2h0m-5.4 6.1h0m0.7-14.6h0m6.8 7.5h0m-9.3-1.9h0m2.6 3.5h0m16.9 10h0m-11.6-5.4h0m-2.2-23.7h0m12.4 16h0m-5.6 10.5h0m-1.3-1.2h0m-8.2 7.5h0m-3.1-10.5h0m5.7-0.1h0m-5.1-1.8h0m4.7 2.3h0m2 6.2h0m-7-17.7h0m5.8 12.1h0m4.7-11.2h0m-10.9 12.4h0m1.7-10.1h0m-1.5-4.2h0m6.2 14.2h0m8.5-10.3h0m1.8-15.6h0m-1.6 21.3h0m-8.2-6.1h0m-1.5 2.6h0m17.6-3.8h0m-13.9-10.5h0m-3.9 7.4h0m7.4 2.5h0m-2.6-0.7h0m-8.2 19.9h0m15.9-9.6h0m-10.6-5.8h0m-4.3-8.9h0m2.5 7.8h0m0.2-3.2h0m-0.3 12.9h0m0.9 3.7h0m2.5 1.9h0m-8.4-11.5h0m0.5-7h0m14.8-1.6h0m-4.2 1h0m-6 21.7h0m-1.1-24.7h0m1.6 14.4h0m-2.2 1.5h0m3.1-13.5h0m4.2 0.5h0m-8.4 20.3h0m0.8-21.4h0m-0.3 16.7h0m-0.5 0.5h0m0.6-13.5h0m13.5-1.4h0m-12.9 10.2h0m6.6 3.2h0m-8.5-3.7h0m4.2 7.8h0m-1.9-2.3h0m-4.1 2.8h0m8.6-16.4h0m-8.4-7.8h0m3.5 15h0m0.3-8.7h0m11.3 10.3h0m-14.8-4.8h0m5.9-2.4h0m1.9-0.6h0m-3.5 1.6h0m1.4-0.8h0m6.4 5.4h0m-5.1-1h0m-4.1 8.3h0m11.8-23.1h0m-12.5-3.5h0m-2.3 20.7h0m0.9-26.1h0m0.7 15.4h0m-1.9 9.9h0m19.3 1.5h0m-17.2-2.6h0m6.7 2.1h0m-4.4-8.3h0m-4.8 16.4h0m10-7.4h0m2.4-1.7h0m0.9-5.3h0m-4.5 10.1h0m-1.6-3.6h0m2.1 2h0m-3.3-3.5h0m-5.2 0.3h0m16-6h0m-15.5-4.4h0m3.4 21.2h0m2.7-24.1h0m-0.9-9.3h0m-1.4 22.9h0m0.8-11.9h0m-4.7 12h0m22.7-11.8h0m-21.2 9h0m-2.5-7.2h0m4.9 13.7h0m-2.9-12.8h0m-1.1 9.6h0m7.7 0.8h0m-7-12.9h0m16.1 6.6h0m-9.3-2.4h0m4.9 4.9h0m-9.9-2.5h0m5.7 1.1h0m0.9 2.9h0m1.8-0.8h0m-10 4.8h0m12.7-4.6h0m-13-6.7h0m-0.5 12.2h0m5.4-4.6h0m13.2-11.9h0m-3.6-4.6h0m-5.7 19.1h0m-3.7-4.4h0m-3.4-0.1h0m2.3-7.9h0m-0.6 4h0m7.2 7.2h0m-9.5 1.9h0m-0.6-1h0m9.7-11.5h0m-7.1 11.4h0m-1.9-8.2h0m1.9 2.7h0m0-6.9h0m2 13.4h0m-3.7-9h0m2.9 11.1h0m-3-5.5h0m2.6 4.1h0m1.9-20h0m-1.3 14.6h0m-0.4-15.3h0m-5.7 13.8h0m7.5-9.4h0m-5.5 10.5h0m-1.2 1.8h0m10.3-4.1h0m-3.7 11.7h0m-7-2.6h0m4.8-2.1h0m3.1 5.7h0m-4.3-16.7h0m-3.1 8.9h0m9.8-6h0m0.8 8.9h0m-8.6-8.9h0m2 3h0m3.8 4.9h0m1-5.3h0m-8.7-10.7h0m0.9 21.5h0m5.7-7h0m-6 2.8h0m18.4-5.8h0m-11 2.8h0m1.3 0.5h0m-5.6-6.8h0m1.3-4.2h0m3.4-0.8h0m-8.7 4.3h0m9-4.2h0m-9-3.5h0m2-4.4h0m-1.2 24.3h0m21.1-25.8h0m-21.1 14.8h0m1 14h0m5.4-9.3h0m10.4-7.8h0m-11.5-8.3h0m-5.6 21.7h0m2.3-11h0m10 6h0m-2 3.5h0m-3.3 1.3h0m-0.9-10.7h0m1.3 0.4h0m-8.2-1.5h0m5.7 6.7h0m6.5-8.7h0m-9.7 11.5h0m-1 2.4h0m-1.5-17.5h0m9.6 6.2h0m-1.7 4.1h0m-2.8-0.2h0m-3.3 8.6h0m9.2-20.8h0m-3.6 15.7h0m-2.6 7.1h0m1.9-1.1h0m-4.8-14.2h0m-0.4 7.6h0m-2 5.6h0m1.1 4.3h0m4.3-6.6h0m5.1-7.3h0m-5.8 0.1h0m0.6 2.2h0m10.3 8.7h0m-13.5-9.8h0m14.6 3.5h0m-12.6-1.3h0m-4-1.2h0m4.9 12.8h0m-4.5-22h0m8.6 2.8h0m-8.6 14.2h0m4.1-11.4h0m0.3-13.3h0m-1.2 13.8h0m-1.2 13.9h0m5.8-7.7h0m0.4-1.8h0m-5.6 1.9h0m12-3.9h0m-8.6-0.2h0m-0.7-10.3h0m-5.6 22.4h0m1.8-21.4h0m4.5 8.9h0m-5.8 8.7h0m8.4-7h0m-8.3 2.6h0m7.5-3h0m5.8-10.8h0m-11.1 15.6h0m-2.9-3.8h0m2.1 10.3h0m-0.6-15.6h0m10.9 2.8h0m-10.3-10.1h0m-2 8.6h0m3.5-9.1h0m-1.8 0h0m14.4 14.2h0m-11.8 4.4h0m16-18.6h0m-17.8 18.7h0m7.5 0.8h0m-0.3-5.7h0m-4.6 4.7h0m-0.8-8.3h0m0.4 2.9h0m5.4-1.2h0m-3.8 4.3h0m-4.5-9.3h0m20.5 2.1h0m-16.4 9.7h0m-1.9-14.8h0m-0.6-7.8h0m-2.6 25.8h0m8.6-7.9h0m-5.9-5.5h0m-2.5 9.9h0m5.8-3.2h0m-1.4-7.4h0m4.6 11.2h0m-1-12.7h0m2.3 9.3h0m-8.2-13h0m0.7 3.4h0m1 10.8h0m-3.7-17.5h0m8.9 10.8h0m0.8 4.9h0m0.4-4.7h0m-10.3-3.1h0m8.5 4.7h0m-8.2-0.8h0m5.3 12.2h0m-6.1-9.8h0m5.7 10h0m-2.6-14.9h0m11.1-5.1h0m-13.8-2.4h0m5.3 11.7h0m-4.5 9.9h0m2.6 1.6h0m-4.3-0.6h0m3.2 0.6h0m10.6-23h0m-8.3 15.3h0m-3.3-2.4h0m5.3 6.6h0m-7.6-17h0m11.7 3.1h0m-10.7-9.7h0m2.1 26.9h0m-2.3-14h0m4.2-17h0m3 16h0m4.3 6.7h0m-10.3 2.2h0m2.4-11.6h0m2.8 7.2h0m4.2-9h0m-4.4 15h0m-2.6-10h0m6-16.6h0m-1.9 7.7h0m-3 15.2h0m2.5-18h0m-7.5 10h0m18.6 4.3h0m-16.9-4.9h0m-0.1 8.7h0m0.2-13.4h0m3.1 9.5h0m-0.8 5.4h0m4.3-16h0m-7.5 1.7h0m-0.3 17.3h0m9.4 0.3h0m-1.8-14.4h0m-5.5 3h0m-0.3 0.3h0m-2.5 14.4h0m17.4-12.9h0m-16.5 8.8h0m4-2.8h0m-1.7-11.2h0m2.3-1.2h0m2.1 12.3h0m-5.8-0.9h0m-0.7-10.6h0m-1.5 12.3h0m9.3-14.4h0m-7.8 7.9h0m7 4.1h0m-2 8.8h0m1.1-9.2h0m-4.8 0.3h0m2-8.1h0m13.3-1h0m-12.5 7.5h0m1.3-12.1h0m-5.9 18h0m19.5-8.9h0m-11.5 11.1h0m3.6-11.6h0m-4-13.2h0m-4.6 16.7h0m2.5 1.3h0m7.2-4.9h0m-5.9 10.5h0m1.7-4.8h0m-9.4-6.2h0m15.9-9.1h0m-12.5 14.7h0m6.9 0.3h0m-2.7 4.2h0m-3.9-15.1h0m5.5 1.1h0m0.3 2.5h0m-7.9 10.4h0m7.7-23h0m-7.1 18.4h0m-0.1 9.2h0m5.5-13.4h0m-4.7 9.4h0m3.2-1.8h0m-5.7-3h0m15.9 0.9h0m-15.8-12.9h0m6.4 16.1h0m-6.7 2.8h0m3.9-12.5h0m5.5 1.7h0m-6.6 3h0m13-9.7h0m-10.1 10.1h0m0.9-2.8h0m-3.7 4.1h0m6.7-3.6h0m-4.7 5.8h0m7.1-5.9h0m2.5-2h0m-11.6 0.7h0m-0.3 8.1h0m9.6-17.5h0m-8.6 0.1h0m-2.9 12.6h0m7.4 3h0m1.7 2.3h0m-8.1-1.7h0m4.3-18.4h0m3.7 15h0m-1.1 5.9h0m-8.6-23.9h0m6.6 3.6h0m-1.4 16.2h0m7.8-6.6h0m-5.5-5h0m-5.8 0.6h0m4.9 9.7h0m5.4-7.8h0m-3.1 11.7h0m-1.9-14.6h0m1.6 10h0m-2.1 3.6h0m3.5-6.2h0m2.2 4.3h0m-11.2 5.8h0m-0.9 1.2h0m15.3-10.5h0m-15.2-6.9h0m10.8 7h0m-7.3 3.7h0m4.2-2.4h0m-2.9-4.8h0m1.6 10.7h0m-2.6-2.5h0m9.8-4h0m-7 10.2h0m-5.1-6.3h0m1.5-15.1h0m4.6 0.1h0m-4.9 10.8h0m3.3 8.3h0m-5.2-9.9h0m0.9-15.9h0m12.4 7.7h0m0.1 10.8h0m-4 0.8h0m-10.5-15.7h0m7.7 10.2h0m6 7.8h0m7-5.6h0m-19.7 0.4h0m7-15.2h0m-4.3 27h0m3.3-14.8h0m-3.8 2.6h0m14.2 3.6h0m-15.3 3.8h0m5.5-11.6h0m-1 4.2h0m-0.5 9.9h0m7.6-4.3h0m-9.8 2.1h0m-3.9-3.6h0m1.4-14.2h0m1.7 3.3h0m2.5 2.3h0m9.9 2.9h0m-12.3 11.8h0m-1.6-6.4h0m14.8-5.4h0m-16.3 2.1h0m3.5-1.1h0m3.3-1.9h0m7.6 5.6h0m1.5 0.9h0m-6.7 6.3h0m1.4-16.7h0m-2.9 15.4h0m1.5-19.1h0m-1.5 1.8h0m-3.7 1.3h0m7.5 10.5h0m-9.4-6.5h0m-2 8.7h0m6.9-25.3h0m-5.6 23h0m9.8-2.3h0m-4.5-8.4h0m-2.9 9.3h0m2.3 6.7h0m3.9-7.7h0m-2.6-8.7h0m1.9 1.3h0m-4.8 11.7h0m-2 4.5h0m-0.2-6.5h0m-2.5-4.5h0m6.4 4.8h0m1.5 4.1h0m4.4-13.1h0m-6.3 4.3h0m2.2 5.1h0m-3.9 7.1h0m-0.7-14h0m-1.7 7.4h0m0.8-5.8h0m3.2 1.9h0m5.2 4.5h0m6.4-6.2h0m-4.1-5.4h0m-9 18.7h0m-0.1-35.6h0m2.4 16.2h0m5.5 15.1h0m4.6-10.9h0m-7.5 11.4h0m0.8-17.2h0m-7.2 7.3h0m-2.7 3.9h0m9.8-1.6h0m4.5-8.3h0m-11.6 15.8h0m1.7-12.6h0m-4.2-2.2h0m9.1 3.2h0m-6.4-0.8h0m8.1 2.2h0m-10.7 8.3h0m9.7 0.4h0m-4.6-13.8h0m4.1 8.8h0m-2.4 1.6h0m-5.8-13.1h0m7.2 0.6h0m-5.5 16.3h0m3.1 0.5h0m-0.9-4.3h0m1-16h0m-1.5 16.3h0m2.2-1h0m3.6-9.4h0m-0.3 3.5h0m-7.2-4.8h0m2.6 3.2h0m7.8-7.2h0m-2.5 9.6h0m-8 1.4h0m1.4 8.6h0m8.4-13.1h0m-3.4 1.7h0m-8.2-1.9h0m6-4.5h0m7.1 14.6h0m-2.4-1.5h0m-10.2-13.4h0m6.4 18.2h0m0.8-15.5h0m-5 8.3h0m-1.3 12.8h0m6.3-9.3h0m2.7 1.2h0m-9-6.3h0m2.1 8.6h0m-1.2 2.8h0m3-12.3h0m-3.6 4.1h0m0.4-4.5h0m5.2 1.1h0m-3.2 12.1h0m0.4-6.3h0m1.2-6.9h0m4 9.8h0m-9.2-1.2h0m9.5-14.7h0m-10 18.2h0m9-10.4h0m3.5-3.2h0m-9 5.5h0m-4.7-13.2h0m13.4 8.3h0m-4 0.1h0m-7.4 3.2h0m0.8-0.7h0m-0.1-0.4h0m0.3 7.1h0m17.5-3.2h0m-19.3-0.3h0m4.1-8.9h0m-0.5-1.4h0m-3.4 10.7h0m6.3-0.5h0m-5.1-1h0m11.7 1.9h0m-9.2 9.5h0m-0.6-7.4h0m5.8 1.1h0m-5.2-13.8h0m-3.2 12.1h0m6.7 4.4h0m-5.7-2.3h0m1.6-3.2h0m4.3-1.8h0m-2.8-4.8h0m6.7 7.5h0m4.4 3.8h0m-5.8-15.4h0m-11.3 5.5h0m12-4.9h0m-9.7-2.3h0m-1.9-4h0m2.3 9.2h0m15.2 3.6h0m-11.9 5.3h0m3 1.4h0m-3.4 1.7h0m1.3 1.6h0m-5.4-4.8h0m17.3-3.4h0m-9.7 7.5h0m-6.3-6.4h0m9.2-3.8h0m-6-0.3h0m10.7-12.2h0m-8.8 22.4h0m3-1.1h0m-6.4-20.8h0m1.5 10h0m-0.3 11h0m-4.2-8.1h0m14.1-9.1h0m-8 17h0m-7.1 5.1h0m11.6-13.7h0m2.1-1.3h0m-8.4-6.9h0m-2 8.3h0m-2.1-13.4h0m9.7 15.9h0m-2.1-0.7h0m-7.7 3.6h0m15.4-6h0m-16.8 1.3h0m6.7-2.1h0m5.4-5.5h0m-7.2 13.2h0m3.9-2.6h0m-5.4-1.6h0m0.1 3.9h0m-1.6-0.4h0m2.9 5.5h0m3.9-9.5h0m-6.1 0.5h0m7.8 6.5h0m2.1-4.8h0m7.7-12.5h0m-13.1 9.5h0m-6.2 4.5h0m10.8 1.4h0m-9.5-4.2h0m-0.1-15.6h0m3.4 9.2h0m-4.5 8.2h0m1.7-6h0m-1.9 2.6h0m2.2 8.4h0m0.2-20.5h0m6.1 6.1h0m4.4 0.6h0m2.5-20.6h0m-7.2 27.7h0m5.2-1.7h0m-8.2 7.9h0m5.6-9h0m-9.8-6.4h0m3.2 7.6h0m2.1-6.9h0m-4.6-9.1h0m6.3 3.5h0m-4.2 16.4h0m4.2 1.1h0m3.8-6.9h0m-10.5 2.2h0m1.9 5.3h0m1.2 1.1h0m0-5h0m-2.7 9.2h0m10.9-9.1h0m-8.5-2.9h0m1-10.2h0m0.5-0.5h0m-2.2 11.1h0m-2.1-2.2h0m1.2-1.3h0m1.8 9.3h0m2.2 3h0m-1.9-12.2h0m-5.5 9h0m12.7 0.1h0m0-6.8h0m-0.7-2.7h0m-11.9-19h0m2.9 21.2h0m10.1 3.5h0m-6.2 5.2h0m-3.6-16.4h0m13.1 5.9h0m-13.1 6.1h0m-1.8-2.9h0m6.5 5.7h0m5-9h0m-5.4 12.4h0m-4-11.8h0m-1.4 3.5h0m-1.2-9.3h0m15.5 2h0m-15.9 11.2h0m6.2-12.8h0m-6.6 3.2h0m0.2 10.9h0m1.1-10.4h0m13.6 0.3h0m-9.7 8.2h0m5.1-0.5h0m-10.1-4.9h0m6.9 6.9h0m4-1.7h0m1.4 1.8h0m-1.4-2.4h0m2.4-12.8h0m-12.5 11.4h0m1.2-9.4h0m1.4 5.1h0m4.4 7.5h0m-6-2.2h0m0.8 4.5h0m0.7-2.3h0m-1.9 4h0m7.5-4.9h0m-1.5-10.9h0m1 10.2h0m3.6-2.5h0m-6.7-13.3h0m-2.1 18.8h0m9.1-15.3h0m-5.3 1.9h0m-2.8 18.4h0m-4.6-11.1h0m2.5-3.4h0m7.5 3.8h0m-9.4-6.8h0m0.5 1.4h0m6.4 4.3h0m-3.9 8.5h0m8.7-10.6h0m-10.7 7.9h0m3.3-15.2h0m0.3 17.6h0m-0.7-16h0m7 7.7h0m-6.9 11h0m1.5-38h0m-4.6 33.7h0m5.2-15.1h0m-0.1 17.5h0m2.2-9h0m-5.3 1.5h0m4.6 0.1h0m-1.2-1h0m1.4-1.1h0m0.8-8.9h0m-5.3 3.1h0m3-2h0m-1.4 18.4h0m4.9-11.1h0m-6.4-4h0m4.1-6.8h0m-2.2 13.3h0m0.8-7.4h0m13.1 4.1h0m-19.4-5.1h0m15.2 11.5h0m-9.8-0.4h0m2.2 8.2h0m3.5-15.3h0m3.8 3.5h0m-7.1 9.1h0m-6-17h0m2.7 18.8h0m2.1-14.9h0m-5.8 10.9h0m18.6-10.4h0m-16.2 9.1h0m11.7-8.5h0m6.9-7.5h0m-17.6 19.1h0m-0.9-0.6h0m0.4-11h0m2.5 0.5h0m-1.7-5.9h0m-3.3-1.6h0m7 21h0m-4.9-0.5h0m-0.3-15.5h0m0.3 9.6h0m-1.2-9.3h0m-2 7.9h0m-0.7 3.3h0m4.6-1.2h0m0.8-11.7h0m4.4 3h0m1.6 5.6h0m-9.5-5.8h0m-1.2 16.7h0m5.1-19.3h0m4.2 15.4h0m-8.2-14.5h0m5.3 5.4h0m-6.8 13.2h0m1.7-12.4h0m1.7 2.7h0m-2.5-0.4h0m-1-13h0m6.2 9.1h0m0.7 4.3h0m3.5 0.7h0m-2.2-8.7h0m-8 9.4h0m10.3-14.2h0m-8.9 5.6h0m5.9-0.8h0m-7 4.1h0m14.7 1h0m-9.9-12.4h0m0.6 15.9h0m6.4-15.7h0m-2.8 9h0m-8.5 3.5h0m3.3-2.5h0m-1.4 11.2h0m0.9-13.1h0m4.5 1.3h0m-7-7.8h0m6.1 7.5h0m-5.7 6.6h0m2.1-8.5h0m6.4 8.9h0m5.1-13.7h0m-13.4 18h0m9.3-13.3h0m-6.3 12.3h0m0.6 5.3h0m-1.2-19.6h0m5.6 10.7h0m-10 7h0m0.5-6.5h0m8.8-10.3h0m-4-2.9h0m1.8 11.3h0m0.4 3h0m-3.7-13.1h0m8.9 5.3h0m-6.6 10.5h0m4.2-22.4h0m10.6 8.8h0m-17.5-4.1h0m1.4 6.6h0m-0.4 0.2h0m7.7-2.6h0m-9.3 10.4h0m0.2-15.4h0m0 7.3h0m-0.3 8.8h0m12-5.3h0m-12 3.6h0m6.7-2h0m2.1-22.9h0m-4.6 21.4h0m-6.7 1.6h0m5.1-0.1h0m-5.1 7.3h0m8.1-22.4h0m-1 5h0m14 7.2h0m-20.1 9.9h0m1.5-18.5h0m-1.2 5.1h0m-0.2-5.5h0m6.6-1.2h0m4.5 15.1h0m-4.6-18.8h0m-5.8 14h0m1.5 5h0m2.1-5.4h0m11.4 4.2h0m2.9-11.2h0m-6.6 15.5h0m-7.2 1.6h0m7.9-9.4h0m-11.1 1.1h0m-0.2 0.4h0m3.8 0.4h0m-2-12.7h0m1 16.9h0m14.4-5.7h0m-19 5.9h0m1.7-0.4h0m16.1-10.1h0m-6 8h0m-10.1 1h0m1.1-8.7h0m2.8 6h0m-4.7-4.9h0m9.6 4.2h0m-4.7-12.8h0m-6 1h0m6.4 15.8h0m6.7-8.8h0m-12.1 2.5h0m5.6 0.4h0m-4.3 0.3h0m3 0.9h0m-2.7-2.4h0m5.1-0.4h0m-5.3 4.7h0m2.6-5.1h0m-1.6-0.2h0m11.3-7.6h0m-5.7 13.2h0m2.2 2.5h0m-9.8-4.3h0m4.6-5.3h0m2.4 14.8h0m-7.5-5.5h0m1-2.9h0m2.5-1h0m-2.8-7.8h0m2.7 5.3h0m-1.6 7.4h0m-1.6-3.9h0m6.5 4.1h0m0.2-15.8h0m-5.1 6.4h0m9.8-13.8h0m-6.7 16h0m-5.3-2.6h0m5.3-2.8h0m-5.2 12.7h0m3.4-5.5h0m9.6 2.8h0m-0.5-10.4h0m-8.7 15.1h0m0.2-14.2h0m-4.5 6.7h0m11.3-5.5h0m-7.4 4.3h0m2.1 8.9h0m-2.9 4.3h0m7.9-28h0m-11.7 26.9h0m12.7-12.1h0m0.3 5.7h0m-7.4 7.9h0m11.6-12.4h0m-10.4-2.5h0m-1 12h0m-4.7-1.4h0m-0.2-6.3h0m2.2 9h0m5.2-16.5h0m-4.6 0.7h0m-0.7 0.2h0m18.2 2.7h0m-18.3 2.9h0m8.2 1.5h0m-11.3 2.8h0m12.3-15.4h0m-6.3-1.3h0m1.9 13.4h0m10.7-5.7h0m-8.4 3.1h0m-7.3-2.5h0m11.9 3.5h0m-9.3-6.4h0m7.7-6.9h0m-3 16.8h0m-1.3-0.4h0m5.8-4.6h0m-9.8 4.8h0m-0.1-1.1h0m4.1-9.6h0m-3.6 4.8h0m11.9-5.8h0m-13.1-2.1h0m-3.3 20.2h0m3.4-16.7h0m3.5-6.3h0m-6.5 8.7h0m0.6 3.7h0m0.2 4.3h0m1.4 4.6h0m-1.5 0h0m3.4-5.6h0m4.5 3.4h0m-7.7-8.4h0m6-1.7h0m-1.9 8.5h0m-3.7-10.8h0m8.7-5.3h0m-3.5 3.7h0m-7.1-5h0m14.8-0.1h0m6.8 19.5h0m-11.7 0.6h0m-0.8-17.5h0m-7.9 4.6h0m2.3 1.3h0m3.6 10.5h0m-4.8-1.6h0m19.2-6.8h0m-14.6-9.6h0m-1.7 7.2h0m-0.2 6.5h0m10.5 1.2h0m-5.6-6.3h0m3.5 8.9h0m-10.8-16.5h0m-2.7-2.3h0m8.8-0.9h0m-2.2 14.7h0m-6.1-7.4h0m2.1 9.6h0m-1-2.7h0m6.9-3h0m-0.9 1.3h0m0.9 3h0m-9 10.8h0m6.1-3.9h0m-5-13.2h0m8.9 7.8h0m-2.3-7.5h0m0 8.9h0m-2.7-31.2h0m4.6 33.3h0m-1.4-1h0m-0.7-13.4h0m-1.5 3.1h0m-2.8-4.6h0m15.9 4.3h0m-11.4 4.8h0m-6.3 9.3h0m6.8-11.7h0m0.2-6.2h0m-4.4 7.4h0m-2.7 0.9h0m4.9 0.3h0m0.2 8.7h0m3.7-19.8h0m8.7 11.7h0m-18.8 3h0m1.7 3.3h0m16.1-12.7h0m-12.5-2.1h0m5.3 14.2h0m-6.7-17.1h0m2.1 13.5h0m4.8-5.4h0m7.8-2.2h0m-17.8-2.4h0m-0.2-0.2h0m5.1 18.7h0m0-12.4h0m0.1 9h0m1.4-18.7h0m-5.8 12.7h0m3.6 5h0m1-1.4h0m-2.1 8.3h0m1.8-18.1h0m4.4 8.7h0m-0.9 4.6h0m-8.1-5.8h0m0.8-1h0m2.9-10.7h0m1.3 5.3h0m5.2 2.1h0m-10.8 6.3h0m7.1 0.9h0m-4-15h0m2.3 17.1h0m3.8-1.7h0m-0.4-6h0m1.1-3.1h0m-9.5 12.9h0m5.3-6.9h0m5.1 1.8h0m-3.6 6.3h0m1.1-15.6h0m-5.5-12.9h0m3.3 8.2h0m1.8 7h0m-5 5.5h0m3.1-2.5h0m-6.1 4.5h0m1-0.7h0m8.1-7.8h0m-7.4-11.7h0m4 20.9h0m3.1 0.4h0m0.3-9.4h0m-6.2 11.2h0m14-6.2h0m-17-2h0m4.5 6.1h0m-1.1 0.2h0m7.8-17.3h0m-8.7 16.1h0m-2.5 1.7h0m2.1-4h0m4.6-6.4h0m5.8-7.2h0m1 7.8h0m-3.8 5.7h0m-7.1 5.2h0m-0.2-7.2h0m3.2-0.8h0m-5.4-6.5h0m7.6 5h0m-3.2 0.7h0m0.2 1.7h0m-1.2-9.9h0m0.1 11.2h0m5.4-7.4h0m-7.3 8.3h0m-0.7-4.2h0m4.3 1.7h0m11.9 1.9h0m-15.5-1.5h0m2.2 6.3h0m-1.3-20.1h0m2.8 19.7h0m0.9-1h0m-3.2 4.8h0m6.8-9.7h0m-0.7-0.4h0m-8 5h0m4.4-1.9h0m2.8 2.9h0m-8.4-7.4h0m0.5-5.1h0m8.9 6.1h0m-8.5 2.5h0m1.3-7.7h0m-1.5 6h0m0.8-3.4h0m-1.5 4h0m4.9 11h0m-3.5-9.8h0m11.3-2.2h0m-11.1-11.6h0m4.5 1.9h0m2.1 14.8h0m-0.7-6.3h0m5.7 0.1h0m-8.2 3.9h0m-1.5-16.1h0m1.1 13.7h0m6.9 4.5h0m-3.1-10.9h0m1.6 1.5h0m-9.1-3.8h0m1.9 9.8h0m-0.7 11.4h0m13.6-24h0m-8.9 9.7h0m-0.1-7.9h0m-0.5-2h0m10.1 9.6h0m-13.4-1.1h0m9.2-0.9h0m-11.7 4.8h0m1.4-0.7h0m4.3-7.3h0m3.9 3.2h0m-10 11h0m3.8 0.5h0m0.3-7.6h0m6.2-4.9h0m-4.4 8.5h0m3.9 3.8h0m-3.8-1.1h0m-3.7-2.3h0m-0.1-6.5h0m1.2 13.2h0m-1.3-11.5h0m10.8-2.4h0m-7.7-9h0m10.9 1.7h0m-11.9 6.1h0m-3.9 0.6h0m3.9 6.3h0m7.4 0.7h0m-7.7-8.3h0m1.2 16.5h0m2-19.1h0m-6 6.4h0m4-1.1h0m-2.5 7.4h0m12.7-3.4h0m-15.6-15.7h0m14.4 2.9h0m-10.2 6.5h0m-3.2 6.2h0m1.1 3.1h0m4.3-5.6h0m-3.4-0.4h0m-2.8 8.7h0m4.2-17.3h0m8.4 5.5h0m-3.5 2h0m-8.1 8.2h0m12-9.4h0m1.4 0h0m-14 1.9h0m1.5 4.6h0m1.9-0.3h0m-2.1-10.2h0m-1.5-4.1h0m1.5 12.7h0m1 1.6h0m10.2-1.3h0m-9.5-9.4h0m-2.4 1.5h0m13 6.1h0m-9.5 2.9h0m5-11.2h0m-6.4 14.1h0m3.3-1.8h0m-1-3.3h0m-3.8 2.1h0m-0.3-11.2h0m4.4 15.1h0m-4.5 1.4h0m-1.3-14.6h0m1.5-2.2h0m8.7-10.8h0m12.3 18.2h0m-18.2 13.7h0m-4-13.1h0m0.2-6.5h0m10.8 3.6h0m-10.7 2.2h0m7.3 4.8h0m-6.7 0.3h0m-1-8.6h0m6.2 2.9h0m-4.6-20.5h0m5.6 11.7h0m5 12.8h0m-6.3-5h0m-2.6-0.5h0m1.4 6.4h0m-3.4-4.7h0m-1-5.9h0m4.5-3.2h0m5.7 8.1h0m1.9 9.7h0m-9.7-4.5h0m2.7 4.9h0m-0.6-24.5h0m-3.5 10.7h0m0.3 7.4h0m4.3-7.8h0m-1.3-7.1h0m7.9 6.8h0m-3.9 4.6h0m-7.3-4.2h0m5.7 11h0m7.5-9.2h0m-13.2 4.5h0m8.2 5.4h0m-5.8-5.1h0m-1.5 3.2h0m-1 3.7h0m2-16.2h0m2.2 15h0m6.8-3.9h0m-5.1 3h0m-4-3.1h0m0.6-15.2h0m-3.2 4.9h0m-0.1 5.5h0m0.1 1.6h0m7.3-2.7h0m3.1 12.7h0m-10-17.8h0m1.3 9h0m-1.6 2.1h0m4.9 3.2h0m-3.4 1.9h0m1.3-4.1h0m15.9-2.2h0m-12.6-10.9h0m3.3 13.2h0m7.1-5.3h0m-10.3 5.5h0m-6.9 3.2h0m3.1-0.1h0m2.4 0h0m11.5-9.4h0m-14.4-11.8h0m-2.7 26.4h0m1.1-3.2h0m12.1-3.7h0m-8.9 0.2h0m3.8-4.3h0m-4.8-2.9h0m6.8 15.8h0m-4.9-3.3h0m-2.8-4.6h0m2-9.4h0m3.5-3h0m0 4.2h0m-2.8 10.6h0m4.7-10.8h0m-8.2 7.1h0m-0.7 8.3h0m21-12.5h0m-2.7-8.5h0m-18.9 12.7h0m0.3-4h0m15.4 0h0m-15.5 6.8h0m0.6 4.4h0m4.1-14.2h0m-1.8-4.7h0m-1.9 9.4h0m6.1 1.4h0m-4-7h0m15.6 4.7h0m-7.7-4.5h0m-6.3 13.2h0m8.8-17h0m-11.7 16.6h0m-1-6.9h0m1.7-4.8h0m-0.3 3.1h0m5 1.2h0m5.6 11.8h0m-7.1-6.2h0m-6.3 4.6h0m1.7-4.6h0m14.4-5.2h0m-4.4-3.9h0m-11.2-2.7h0m8.4 10h0m-8.5 0.2h0m11.3-3.8h0m-3.3-4.1h0m-0.3-7.9h0m-7.5 22.6h0m0.9-17.1h0m0.4 1.6h0m-1.9 10.4h0m7.1-10h0m9.1 6.1h0m-8.3 7h0m-5.2-8.5h0m2.5-4.4h0m-2.9-17.3h0m8.6 9.3h0m3.1 9.6h0m-6.6-9.3h0m-2.6 5.7h0m-2.1-6.8h0m-0.9 9.2h0m0.3-9.6h0m0.1 16.2h0m-0.7-4.5h0m2.5 0h0m3.4 11.4h0m5.6-8.9h0m-1.5 2.9h0m-9-11.4h0m-1.2-2.4h0m2.4 5.9h0m19 1.2h0m-14.4-3.4h0m-6.4 12.3h0m3.1 0.2h0m0.4-7.8h0m6.3 2.1h0m-3.3-3.4h0m-5.3 4.5h0m0 0.1h0m-0.6-1.1h0m7.8-4.6h0m-3-10.3h0m-7.3 22.4h0m2.3-17.2h0m-0.5 7.9h0m6.2 1.9h0m-3.9 6.5h0m-4 2.6h0m1.2-5.9h0m11.2-15.9h0m-4.5 9.8h0m9.1 4.3h0m-10.1-0.4h0m0.5-2.5h0m-7.2 0.4h0m13.1 0.4h0m-5.9-1.2h0m-3.6 0.4h0m2.3 7.4h0m-2.2-16.8h0m7.1 14.1h0m9.9-10.7h0m-13.6-0.3h0m-1.5 10.5h0m-4.9-14.2h0m0.1 3.4h0m13.7 9h0m-8.8-0.4h0m5.7-0.5h0m-8.6-5.2h0m3.1 10.9h0m-1.3-10.8h0m-0.8-1.5h0m-1.5-0.2h0m7.3 0.2h0m-9.4 6.1h0m8.9 4.5h0m-0.6-0.5h0m-3.1-1.1h0m1.5-11.9h0m-1.6 20.3h0m-4-11.7h0m-1.3 0.3h0m20.1-8.4h0m-20.5 5.2h0m16-0.8h0m-14.6-11.9h0m3.3 25.2h0m-0.5-10.9h0m-2.3-2.8h0m7.1 4.6h0m-7.7 2.6h0m1.1-3.3h0m3.2-1.2h0m-0.7 9.6h0m13.3-11h0m-17.1-4.4h0m7.2-12h0m6.7 14.7h0m-13 4.4h0m0 5.3h0m1.7-10.8h0m-2.2-7.9h0m10.2 18h0m-5.5-14.2h0m10.4 7.9h0m-13.3-8.3h0m6.9-2.9h0m2.8 15.6h0m-10.1-6.7h0m13.1-0.2h0m-8.9 4h0m5.1 3.2h0m-10.5-6.6h0m7.8 1.5h0m-5.3 9.3h0m2-8.1h0m4.3 7.4h0m-4.5 2.2h0m8-7.5h0m-10.4-10.5h0m13.5 0.6h0m8.5-7.6h0m-23.1 14.4h0m-2.4-17.4h0m6.8 18.7h0m11.3-8.6h0m-9.5 1.2h0m-0.9 10.2h0m0.6 6.8h0m-7.9-14.5h0m3.4 9.1h0m-3-9.4h0m5.4-11.8h0m3.6 15.5h0m-8.5-5.4h0m15.9 2.9h0m-10 7.3h0m8.9-5h0m-16.1-2.4h0m17.2 5.6h0m-5.6-20h0m-8.1 10.6h0m-0.8 16.1h0m-0.4-15.1h0m-1.4 7.2h0m0.7-2.9h0m5.1 2.6h0m-4.2-1.9h0m5.2 9.7h0m-4.6-9.1h0m6-9.2h0m-6.3 1.9h0m6 14.2h0m-0.7-1.2h0m-5.3-3.2h0m7.3-3.8h0m-5 0.9h0m-5.1 4.7h0m1.6-8.8h0m5.2 12.4h0m7-16.2h0m-6.4 12.7h0m-5.5 8.3h0m5.6-18.5h0m-6.5 2.9h0m3.7 13.3h0m3.7-15.1h0m-4.6-3.5h0m-1.6-2.9h0m4.4 9.7h0m1.5-7.1h0m-7.6 12.3h0m6.8-3.6h0m3.1-13.3h0m-7.5 13.3h0m13.6-8.2h0m-13.7 10.2h0m5.2-2.4h0m-0.4-7.7h0m-7.6 11.7h0m2.5 3.2h0m6.5-10.4h0m-3.5 0.8h0m-0.1 13.1h0m-3.2-13.7h0m7.7 1h0m-4.4-0.8h0m-4.8-0.4h0m8.8-7.2h0m-5.1 16.8h0m8.5-2.6h0m-8.4-12.4h0m-4.2 0.7h0m0.3 9.9h0m2.9 9.3h0m4.2-25.8h0m2.8 12.6h0m-5.2 15.3h0m-2-9h0m2.8-3.3h0m5.5 0.9h0m-4.6-3.5h0m8-3.7h0m-8.2 4.4h0m-0.2-2.6h0m-3.4 10.6h0m1-9.8h0m6.3-1.5h0m-1.8 3.6h0m-7.6 12h0m0.1-4.9h0m12.5-6.4h0m-10.2 4.3h0m1.5-4h0m1.7-3.3h0m8-2.1h0m2.8-3.1h0m-12.5 21.9h0m1.6-7.6h0m-1.5-20.9h0m1 1.3h0m5.7 7.7h0m-5.3-10.4h0m0.5 17.5h0m-4.3 11.4h0m0.5-16.2h0m3.4 15.7h0m-3.7-11.2h0m-0.4-1.6h0m-1.8 0.7h0m9.8 4.6h0m-8.2 4.4h0m19.8-9h0m-15.6-7.6h0m16.9-6.2h0m-23.3 18.1h0m4.5-9.8h0m1.5 2.3h0m3.9 6.2h0m7.2 1h0m-13 1.4h0m-3.6-8.2h0m3.4 5.2h0m-2.9-17.8h0m0.3 10.7h0m12.7-6.6h0m1.2 10.3h0m-12.9 14.9h0m1.3-21.9h0m2.3 12.1h0m8.4-5h0m-9.9 0.7h0m-0.2 3.9h0m11.1-13.8h0m-4.1-8.1h0m-6.9 21h0m-3.1-8.1h0m3.4 9.3h0m2.7 1.9h0m1.1-14.1h0m-0.4 6.9h0m-0.4-15.8h0m3.3 14.4h0m1.1 10h0m1.1-12.7h0m-6.9-1.3h0m5.2 4h0m-5.5 5.2h0m11.3 1.5h0m-15.3-3.4h0m9.8-4.2h0m-4.8-8.4h0m0.3 14.1h0m12.9-7.1h0m-17.5 12.5h0m4.6-3.7h0m-4.2-4.2h0m-1.4 8.7h0m1.9-11.8h0m-0.6 0.5h0m13.5-8.2h0m-11.5 17.9h0m-2-0.7h0m0.5-12h0m4.1 14.8h0m-1-21.9h0m-5.9 10h0m8.7 14.8h0m0.1-1h0m8.3-12.8h0m-14.1 4.2h0m3.5 4.7h0m3.4-16.7h0m-6 22h0m2.6-8.9h0m-6.5-8.8h0m0.2 7.4h0m3.4-3h0m1.9 3.6h0m-3.9-2.1h0m-1.4 7.3h0m11-11.4h0m-4.7-10.3h0m-0.5 21.3h0m0.6-15.2h0m5.9 5.4h0m-9.9 8.7h0m-2 1.4h0m8.9-11.3h0m-5.9 0.7h0" fill="none" stroke="#f01010" stroke-width="0.75" stroke-linecap="round" opacity="0.85"/>
<path d="M90.3 352.1h0m-1-8.3h0m-2 23.3h0m-4.6-2.4h0m-0.3-10.6h0m1.3 2.2h0m6 19.5h0m3.1-11.7h0m-9.9 0h0m21.6 3.4h0m-13.2-6.1h0m2.2 8.6h0m-9.9 5h0m7-17.5h0m11 4.1h0m-12.6 15.5h0m-7.5-14.6h0m26.6-1.2h0m-12.6 10.6h0m-7.7-15.2h0m5.3 1.9h0m-2.6-6.5h0m9.1 12.5h0m11.4-12.8h0m-25 27.4h0m19-13.6h0m-22.6 10.8h0m0.2-2h0m13.2-10.5h0m-12-8.6h0m6.4 2.3h0m-5.3 14.8h0m1.6-4h0m0.3 1.9h0m7.4-17.5h0m6.5 21.1h0m10.8-12.9h0m-25.7-0.1h0m11.8-2.8h0m-13.9 2.2h0m4.3 13.2h0m18.4-7.4h0m-19.9-0.1h0m-1.7 0.6h0m-0.2-8.8h0m5.8-10.2h0m4.5 19.9h0m-7.5 14.9h0m1.6-32.7h0m-4.2 10.9h0m-1.3 15.8h0m1.2-17.5h0m-3.1 2.5h0m12.6 7.3h0m-11-9.2h0m4 3.7h0m3.3 10.4h0m0.9-12.3h0m-0.7 13h0m-7.7-17.5h0m2.8 7.4h0m10.4-11.6h0m-13.8 15.7h0m4.8 2h0m20.5 7.8h0m-19.8-2.5h0m0.8-7.2h0m-1-9.4h0m-5.1 3h0m0.8 0.5h0m8.4 8.3h0m3.3-5.8h0m-2.5 4.5h0m-7.2-6.6h0m25.3-8.9h0m-24.8 24.7h0m8.6-3.3h0m1.9-0.9h0m-14-5h0m24.9-1.6h0m-24.3-4.2h0m4.3 4.3h0m9.2-3.4h0m-14.5 8.6h0m1.8-16.4h0m1.2 20.2h0m20.2-8.7h0m-20-21.1h0m25.2 3.4h0m-26.4 21.3h0m-0.2 5.3h0m9.7-14.8h0m-11.2 5.5h0m7.6 8.4h0m-2.7-10.2h0m-2 13.3h0m-3-19.8h0m1.8 8.5h0m1.6 11.6h0m1-6.4h0m4.7-9.8h0m13.7 6h0m-9.4-1.7h0m-6.9 2.3h0m-4.6-0.8h0m8.4 1.1h0m0.9-11.3h0m-5.5 14.5h0m-2.4 2.4h0m14.3-23h0m-6.6 12.7h0m1.3 5h0m0.2-0.4h0m10.8-4.8h0m-19.1 4.6h0m-4.1 1.6h0m4.7-9.5h0m-5.3-14.7h0m12.2 21.4h0m29-17.9h0m-33.6 23.2h0m3.6-23.9h0m-9.9 10.9h0m2 0.5h0m2.8 2.1h0m9 2.2h0m-14.8 2.3h0m10.9 8.8h0m-6.3-7.3h0m-2.4-8.9h0m0.7 4.7h0m5.4 4.9h0m-7.7-6.7h0m5.5 18.3h0m7.4-15.7h0m-13 11.1h0m7.6-5h0m15.3-4.5h0m-23.1-1.8h0m3.8 14.3h0m-0.2-6.1h0m-3.3-12.5h0m2 3.8h0m5.6 4.2h0m25.8-8.8h0m-15.8-11.5h0m-15.7 16.3h0m5.4 4.7h0m1.4 1.7h0m9.9 0.4h0m-11.4-13.9h0m-4.8 5.6h0m20.5 5.5h0m-16.1 2h0m4.4-18.4h0m0.9 19.5h0m-9.4-0.7h0m5.5 2.2h0m-2.3 2.4h0m2.5-11.3h0m13.9-4.9h0m-17.2 7h0m8.2-5.8h0m-13.1 9.3h0m27.8-12.7h0m-18 4.6h0m-6 7.4h0m3.1 4.6h0m-8.2-9.1h0m7.4-3.2h0m-1.3 20.9h0m1.1-8.7h0m4-6.2h0m-6.6 2h0m20.2-7.4h0m-23.9 5.8h0m13.8 1.6h0m-11.7-4.4h0m1.5-3.6h0m6.4-9.7h0m-6.8 6.8h0m5.7 6.7h0m-3.1 14.7h0m7.4-11.6h0m-1-4.9h0m2.9 3.7h0m-11.8 2.1h0m22.7-13h0m-17.1 5.4h0m2.5 11h0m2.5-5.6h0m-6.7-6.6h0m0.7 1.4h0m-5.9-8.1h0m14.3 15.4h0m-8.4-22.9h0m-5.4 30.4h0m4.4-7.6h0m19.1 2.9h0m-14.9-2.3h0m-6.1 8.8h0m5-13.1h0m-3.9 4.4h0m-4.3-2h0m16.8-12.1h0m8.9 17.9h0m-17.4-10.3h0m-6.3 8.2h0m17.3-0.7h0m-9.7-2.9h0m-7.6 13.2h0m-2.5-29.4h0m9.3 8h0m2.7 0.6h0m-9.9 11.6h0m-4.1 4.2h0m6.1-15.6h0m7.3-8.7h0m13.3 11.9h0m-9.4 2.3h0m-15.4-3.3h0m9.6-5h0m13.1 6.2h0m-11.1-7.7h0m-12.3 4.8h0m10.1-12.3h0m-3.7 18.1h0m-4.7-11.1h0m9.6 19.2h0m7.2-7h0m-16.5-4.5h0m13.5-15.8h0m-5 21.4h0m-10.5-7.5h0m10.1 8.6h0m17.4-1.5h0m-20-6.3h0m-4.3-4.5h0m8.6 4.1h0m-13 14.3h0m7.2 0.8h0m14.5-20.7h0m-21.3 18.3h0m8.8-19.9h0m-8.9 13.7h0m24.1-6.3h0m-18.2-4.2h0m-3.5 9.1h0m13.5-13.3h0m6.3 11.9h0m-7.4-0.9h0m-1.1 7h0m-5.5 6.5h0m-3.4-14.8h0m-3.1 1.8h0m2.3 2.9h0m11.5-0.3h0m-3.1 1.2h0m6.8-4.7h0m-9.7 5.2h0m2.9 7.4h0m-10.5 0h0m23.1-14.6h0m-16.2-0.4h0m16-3.7h0m-18.6 17.6h0m-5.5-18.3h0m5.2 5.9h0m0.5-5.1h0m3.2 4.2h0m-8.5 10.7h0m7.6-2.3h0m1.5-18.5h0m1.6-2.9h0m-12.1 24.1h0m30.6-11.6h0m-24.8-2.9h0m14.5 10.8h0m-19.8-6.2h0m2.5-4.5h0m-0.5 7.2h0m-1-0.2h0m10.9-4h0m-2.8 12.7h0m-2.9-12.8h0m1.6 6.4h0m-2.4-6.7h0m0.2 11.1h0m-2.1-0.7h0m-2.5-10.3h0m3.6 0.3h0m12 5.3h0m-9.4-8.8h0m-7.4 8.5h0m3.5-5.1h0m4.9 9.7h0m-4.8-1.1h0m-2.9-12h0m14.3 11.5h0m-14.4 0h0m4-9.8h0m11.5 5.2h0m-15.2 7.8h0m2.4-13.4h0m8.9 17.3h0m6.6-14.7h0m-13.8 8.6h0m-4.3-1.7h0m7-20.3h0m1.8 12.4h0m-1.1-4.8h0m-6 0.8h0m1.6 4.9h0m-4.2 0.9h0m7.8 5.2h0m14.4-7.1h0m-0.6-4.1h0m-15.6-6.6h0m-3.8 9.3h0m11.6 10.1h0m6.8-14.5h0m-4.1 8.9h0m-0.3 0.9h0m-10.2 7.7h0m6.8-10.5h0m-4.1 4.6h0m4.5 10.2h0m-8.4-15h0m6.2 8.6h0m-4.2-4.5h0m15.7 0.3h0m7.7-16.8h0m-12 18.7h0m-8.3 1.2h0m-10-11.3h0m20.6-14.3h0m-18.3 14.9h0m2.2 10.1h0m6.4-6h0m4.4-5.5h0m1.5 14.5h0m-3.5-10.3h0m11.5-4h0m-15.1 0.6h0m20.6 11h0m-14-4h0m-7.4-4h0m21-2.2h0m-28.6 3h0m3.9 14h0m1.6-16.8h0m-4.5-6.1h0m6.5 16.2h0m5.8-14.5h0m3.3 7h0m-15.8 9.4h0m8.8-11.6h0m12.3 8.3h0m9.5-11.5h0m-23.3 2.8h0m3.5 1h0m-7.4-3.6h0m-0.6 1.9h0m-2.3 9.8h0m0.1-10.1h0m5.1 10.4h0m3.6-6.4h0m2.4 13.4h0m-4 0.7h0m4.1-7.5h0m-10.1 3.1h0m2.3-15.3h0m-3.7 16.3h0m2.7 2.9h0m10.4-15.1h0m-7.4 1.6h0m-3.9-9.1h0m-4.1 11.8h0m3.5-1.1h0m-2.2-1h0m5.8 2.4h0m-2.7 3.9h0m6.4-2.4h0m-4.6 2.1h0m5.5-15.1h0m-0.8 5.2h0m-7.9 8.7h0m12.4-10.2h0m9.4 0.5h0m-12-3h0m-7.4 12.9h0m21.2-10.3h0m-23.8-4.7h0m13.2 24.1h0m-13.6-9.6h0m-2.6 8.7h0m17.9-2.1h0m4.5-8.2h0m-16.1-5.3h0m-5.6 1.2h0m7 13.7h0m8.4-3.3h0m-5.3 4.4h0m2.9-3.1h0m-2.7-2.4h0m-3.6 2.1h0m-5.7-13h0m8 17.1h0m-6.9-5.4h0m5.1-9.6h0m15.6 3.9h0m-17.6 4.4h0m9.5-21.8h0m-3.1 22.7h0m9.6-14.7h0m-17.2 13.1h0m7.6-13.8h0m-9 2h0m-1.6 3h0m7.5-1.9h0m-5.1-6.7h0m-1.9 2.8h0m1.9 24.2h0m10.8-14h0m-12.7-13.1h0m-1.6 5.7h0m5.7 5.9h0m23.2 0.2h0m-21.4 17h0m7.6-19.8h0m-8.9-7.5h0m-0.1-0.1h0m20.4 4h0m-17.3 11h0m-2.3 0.5h0m-6.1 6.2h0m18.8-17.8h0m-4.7 3.1h0m-6.8-2.5h0m15.3-17.1h0m-18.8 19.6h0m7.5 7.9h0m-0.7-5.3h0m-6.4 6.4h0m15-17.3h0m-15 8.8h0m-1.1-19.6h0m13.2 19.7h0m-15.4 9.7h0m8.2-13.6h0m6.6-1.5h0m-8.5 16.3h0m19.3-24.6h0m-9.1 14.5h0m-0.2 2h0m-14.7-10.9h0m-0.8 3h0m14 3.2h0m-5.1 2.8h0m16.9-9.7h0m-24.4 6.3h0m1.1 18.6h0m-4.1-24.9h0m-0.1 22.1h0m6.7-9.7h0m4.7-1.7h0m-8.7 0.8h0m-3-4.7h0m1.8 0.5h0m21.9 7.5h0m-19 2.7h0m7.7 6.9h0m-6.1-0.3h0m3.1-5.8h0m0.6-15.7h0m-0.6 3h0m-3.9-6.8h0m5.4 10.6h0m-5.2 5.9h0m5-4.6h0m-8.6 7.8h0m2-19h0m5.7 20.3h0m-1-8.2h0m3.7-10.7h0m-7.8 0.1h0m5.5 14.6h0m4-8.6h0m10.5-2.7h0m-22.4 7.9h0m2.9 5.1h0m11.8-4.5h0m-14 1h0m3.3-1.5h0m4.2 13.1h0m-10.1-18h0m20.5-0.5h0m-20.1 15.9h0m8.6-9.6h0m5.9 8.3h0m7.5-16.2h0m-16.8 5.4h0m-0.6 8.6h0m2.7-18.1h0m3.6 13.3h0m0.8-4.3h0m-11.5-19.6h0m-1.9 36h0m11.4-11.2h0m-9.7-14h0m17.3 11h0m-4.9-10h0m-2.9 5.5h0m-2.9 21h0m-6.6-6.8h0m3.7-24.8h0m-0.9 4.4h0m-1.4 11.9h0m9.1 11.3h0m-9.4-24.1h0m4.7 10.5h0m5.8-3.7h0m-8-0.8h0m17.5-7.8h0m-2.4 4.9h0m-2.1 11.9h0m-12.8-0.1h0m17-5h0m-11.9 4.8h0m2-7.5h0m8.4 6.7h0m-12.9 1.5h0m-6.2-7.7h0m20.8 6.2h0m-14.8 3.9h0m-7.9-23.7h0m7.7 11.8h0m5.7-0.3h0m-13.8 6.3h0m20 0.5h0m-14.7 0.4h0m13.4-2.5h0m-5.3 5h0m-3.6-4.4h0m-8.8-0.3h0m9.9-2h0m4.7 7h0m-0.5-5.7h0m1.8-12h0m-9 24.7h0m-1.5 0.7h0m12.1-17.1h0m-18.3 3.1h0m4.7 18.7h0m2.8-16.7h0m22.7 7.9h0m-23.7 2.7h0m4.5-18.9h0m7.7-1.6h0m-11.1 13.7h0m-6.3 4.9h0m15.1-7.4h0m0.2-6.7h0m-9.6 11.4h0m-6.2-10.9h0m17.6 2.3h0m-16.4-5.5h0m17.4 3.3h0m-18.6 21.4h0m21.5-14.9h0m-20.7 7.7h0m9.7-8.2h0m1.5 6h0m-12.3-13.5h0m4.5 2.8h0m4.3 15.5h0m-0.9-21.1h0m-7.5 1.7h0m5.3 5.7h0m-2.1 8.6h0m4.8-11.5h0m-6.7-1.2h0m4.5 5.7h0m-2.1-7.5h0m6.9 15.9h0m-1.4-0.2h0m-5.8 4.4h0m-1-9.2h0m2.1-14.4h0m0.6 3.5h0m-2.1 15.7h0m4.9 0h0m6.2-10.6h0m-11.6-8.6h0m4.8 12.4h0m-6.6 5.6h0m6.9-5.6h0m7.5 7.5h0m-4.8-0.7h0m-7.8 1.2h0m-0.3-21.4h0m-0.6 14.6h0m10 1h0m-5.4 5.1h0m6.4-9.7h0m-10.5 10h0m24.2-13.7h0m-14.8 8.9h0m7.6-6.5h0m-13.5 5h0m11.9-1.5h0m-13.2-17.2h0m-1.3 13.6h0m1.4 0h0m4.1-21.4h0m1.2 25h0m7.7 7.2h0m6.1-12.6h0m-5.1-3.4h0m-14.6 10.6h0m1.1-4.5h0m-0.4-8.4h0m5.9 12.6h0m16.2-6.6h0m-11.2 10.2h0m4-10.5h0m-12 4.5h0m-4.5 2.6h0m7.8-6.6h0m10.4-7h0m-21 24.6h0m15.5-6.9h0m16-5h0m-15.5-4.2h0m-5.4-10.1h0m-2.6 13.3h0m0.6-18.4h0m4.3 19.1h0m4.4-3.8h0m-6.8-5.6h0m15.5 11.8h0m-26.4 2.4h0m9.1 3.1h0m0.4-5.6h0m-1.9-10.1h0m9.5 7.3h0m6.1-8.7h0m-2.1 4.2h0m-18.7 11.9h0m3.7-10.8h0m17.4-2.9h0m-13.9 6.9h0m2.9-2h0m-12.3 5.1h0m19.7-14.5h0m-9 23h0m7.8-13.4h0m-1.8 6.2h0m-15.5-9.8h0m7.5 0.3h0m14.5-0.2h0m-19.5 10.4h0m9.9-3.7h0m-14.2-3.9h0m13.6 5.1h0m-3.5-10h0m-2 6.4h0m1.7 6.7h0m4.9-1.7h0m-13.5-6.6h0m7.5 3.5h0m-7.9-11.7h0m2.8 9.5h0m-2.1 14.3h0m6.4-19.8h0m2.8-6.6h0m9.5 10.4h0m-8.9 1.1h0m2.8 3.9h0m-0.4-2.2h0m-4.2-2.7h0m-2.9 12.6h0m-2.7-15.3h0m6.3 1.3h0m-1.7 16.7h0m-7.4-10.3h0m-1 3.4h0m20.5-20.1h0m-0.6 13.7h0m-18.8-1.1h0m-1.6-3.9h0m2.9 11.5h0m9.8-4.7h0m11.7-9.5h0m-5.4-1.7h0m2.6 9.3h0m-16.8-1.9h0m12.6 4.4h0m0.1 0.8h0m1.9 3.3h0m-8.7-15h0m6.3-9.8h0m-10 21.4h0m4.3-0.9h0m-5.7-10h0m15.9 5.8h0m-7.8 5.8h0m-3.5-14.9h0m-5.8 11h0m5.2-4.6h0m-8.2 6.8h0m27.8-1.9h0m-19.8 5.1h0m4.4 5.3h0m-6.5-16.4h0m9.6 3.9h0m-4.8 6.5h0m-6.7 5h0m8.7-20.7h0m2 0.2h0m-10.3 12.7h0m6-13.4h0m-11.7 6.5h0m19.5 0.4h0m-1.3 8.9h0m-11.2 0.6h0m-1.2-6.4h0m19.1 2.1h0m-12.9 2.6h0m-11.6-1.7h0m6.8 4.2h0m2.4-6.2h0m-8.2-1.1h0m13 7.6h0m-11.2-8.8h0m18.7 5.1h0m-0.3-23.5h0m-9.3 31.5h0m-11.9-4.9h0m17.1-9.5h0m-14.4-2.5h0m6.3-7.4h0m-0.9 24.9h0m5.8-2.5h0m-10.4 2.1h0m16 1.7h0m-5.6-16.3h0m-14 4h0m6.2-8.3h0m-2.2 8.2h0m13.1 0.3h0m-9.8 7.8h0m6.1-35.9h0m-13.3 29.8h0m4.6 0.1h0m12.4 0.9h0m6.7-25.9h0m-24.1 10.3h0m4.2 10.8h0m1.2-0.8h0m-3.4-1.1h0m19.8 1.5h0m-10.6 4.3h0m-9.6 5.2h0m12.1-5.8h0m-6.1-5.5h0m17.3-8.4h0m-23.3 17.1h0m11-2.6h0m1 15.1h0m-6.8-16.6h0m9.5 2.9h0m-16.4-4.8h0m12.1-11.9h0m-0.1 12.4h0m-3.6 8.5h0m-7.4-19.8h0m4.5 19.6h0m-1.5-19.2h0m8.8 0.3h0m-6.6 21.2h0m9.6-4.1h0m-14.8-12.8h0m1.6 13.2h0m6.6-5.6h0m-2.2-1.6h0m5.8-1.4h0m5.8-10.2h0m4.7 15.4h0m-20 7.7h0m11.9-1.7h0m-13-5.4h0m4.2-7.2h0m-4.4 4.6h0m10.5-12.1h0m9 6.4h0m-9.1-7h0m19.5 6h0m-7.9 9.5h0m-7.6 2.2h0m-15.1-10.1h0m-1 2.3h0m4.9 9.5h0m9.5-10.8h0m7.9 2.9h0m-7.9-14.4h0m-13.5 21.3h0m1.6-10.7h0m-2 1.3h0m18.2-1.6h0m-13.8 2.4h0m-4.4-12.4h0m2.2 20.8h0m15-19.7h0m-8.8 10h0m-0.2 8.3h0m0.4-6.5h0m3.9 7h0m-5.5-0.9h0m-1.4-6h0m0 3.8h0m-3.3-2.9h0m1.6-9.4h0m-2.2 10.7h0m15.8 6.3h0m-8.9 6.4h0m2-14.8h0m-10.6-13.2h0m30.8 7.5h0m-14 2.8h0m-15-3.4h0m0.9 18.4h0m7.2-7.7h0m9.4-0.4h0m-3.1-26.1h0m0.1 9.4h0m-7.6 17.1h0m6.5-11.6h0m-1.4 14.3h0m-4.5 4.8h0m-6.7-17h0m14.9 4.5h0m-7.3 13.9h0m1.3 1.9h0m-6.3-1.6h0m8.5-12.6h0m-7.7-6.3h0m4.9 10.1h0m-10.8 7.6h0m21.2-13.8h0m1.3 7.2h0m-21 2.3h0m9.4-16.8h0m-10.8 20.3h0m2.6 5.4h0m11.2-11h0m-7.4-0.4h0m-5.2 2h0m5.9-1.5h0m16.9 1.1h0m-19.8 2.8h0m-0.7-12.5h0m4.6-0.8h0m0.1 7.6h0m13-11h0m-11.9 5.1h0m-3.1 9.1h0m6.3-2.8h0m-5.1 6.3h0m-3.5-1.5h0m19.1-9.1h0m-14.5-2.1h0m-1.1 5.7h0m-2.8-0.1h0m28.1-6.8h0m-26.7 16.9h0m-6.1-17.9h0m7.9 10.2h0m-3.2-18.2h0m-0.3 7.1h0m-2.1 2.4h0m18.7-6.6h0m-11.1 2.6h0m-8.6-8.5h0m4.3 8.4h0m3.1 13.8h0m13.7-7.9h0m-16.3 9.8h0m1.5-4.1h0m-0.8-10.3h0m-1.4 6.3h0m-3.9-8.6h0m3 24.3h0m3.3-6.7h0m-6.1-0.5h0m13-18.8h0m-14 15.6h0m13.8-10.6h0m-4.5-4.8h0m7.9 6.7h0m-14.3-1.9h0m2.4 7.7h0m-6.4 4.5h0m4.3-5.8h0m0.3-13.5h0m12.2-6.3h0m-0.9 24.4h0m-13-9.1h0m0.2-4.6h0m-2.4-8.9h0m29.4 4.6h0m-0.3 7.4h0m-28.9 3h0m10.8 10.4h0m-11-3.4h0m14.7-13.5h0m23.4-8.9h0m-26 7.3h0m-10.4 5.1h0m0.6 6.6h0m3.1 11.5h0m3.5-24.4h0m-4.3 14.9h0m4.7-2.5h0m5.8-12.5h0m-12.7 17.6h0m0.6-0.1h0m-2.9-4h0m11 5.5h0m-10.6-18.3h0m16.3 13.6h0m-8.1 7.2h0m-2.4-10.9h0m-7.2 12.4h0m8.5-6.8h0m-0.8-8.1h0m-5.8-5.7h0m8 6.8h0m-6.4-7.5h0m5.3 15.7h0m11.2-0.2h0m-9.7-19.2h0m-6.9 3.4h0m3.3 0h0m3.7 21.6h0m0.6-4.8h0m2.1 0.3h0m-7.6-7.6h0m2.6 4.3h0m-6.8-12.1h0m10.6 2h0m-2.1 0h0m10.2 5.7h0m-1.5-3.9h0m2.6-5.7h0m-7.9-0.5h0m0.3-8.7h0m-3.8 34.3h0m6.2-29.1h0m-5.2-0.5h0m-5.1 7.8h0m3.5 1.9h0m6.4 10.5h0m-9.6 1h0m8-11.3h0m7.2 5.9h0m-4.2-20.6h0m-16.7 19.9h0m9-4.6h0m-0.8 0.5h0m-5.3-2.1h0m-0.2 10.4h0m-2-16.9h0m-0.7 9.2h0m30.4-4.8h0m-26.7 2.3h0m1 4.9h0m4.3-2.8h0m-5.7 7.3h0m1.1 1.7h0m-3 0h0m24.2-2.3h0m-17.3-6.8h0m29-0.5h0m-8.9 3.3h0m-20.4 13.6h0m4.6-17.6h0m-3.3-4.9h0m13.5 1.1h0m-19.8 14.5h0m27.3-12h0m-11.3 9.6h0m10.9-7.8h0m-22.5-8.3h0m-0.5 4.8h0m-7.2 20.9h0m4.4-21.5h0m8 4.6h0m-7.6 2.4h0m2.2-3h0m-1.8 15.7h0m2.5-18.5h0m4.7 5.7h0m-1.8 10.3h0m-10.7-13.3h0m3.5 14.3h0m4-0.4h0m-1.1-10.5h0m12.4 4.7h0m-12.2-4.1h0m0.1 1.9h0m1.1-7.9h0m1.3-12.8h0m1.5 16.2h0m-2-4.8h0m16 6h0m-13.7 0.1h0m4 15.8h0m-2.1-2h0m-3.4-9h0m9.4-7h0m-10.3 2.9h0m-4.6 7.6h0m-2.1-4h0m4.4-3.9h0m13-1.1h0m-5.8-1.3h0m-5.5-5.9h0m-3.9-1.8h0m0.8 17.9h0m-3.7-2h0m1.6 10.3h0m-0.9-9.2h0m8.9-5.5h0m11.2 1.4h0m-13.4 7h0m4.2 2.8h0m-9.7-16.8h0m5.1 5.4h0m-5-9.4h0m9.2 8.6h0m0.8 5.6h0m-5.3 4.6h0m0-20.3h0m1.3 10h0m2.2-4.8h0m-7.1 3.5h0m0-3.2h0m4.7 17.8h0m5.2-9.9h0m-6.4 6.8h0m-6.9-13.6h0m14 0.7h0m-2.8 0.4h0m8.2-3.4h0m-7.8-0.1h0m12.5 5h0m-10.3 12.2h0m-2.2-23.4h0m-7.6 17.8h0m7-13.2h0m-3.2 1.4h0m-6.3 6.6h0m17.4-5h0m-6.9 16.2h0m15-13.8h0m-19.3 7.1h0m0.7 4.1h0m4.5-2h0m-12.1-9.9h0m2.4 7.7h0m7-13.8h0m-3.9 23.3h0m-4.6-15h0m9.4-3.7h0m-0.8-5.1h0m6 10.4h0m-15.9 2.8h0m-0.9 3.6h0m2-8.6h0m-0.2-4.1h0m6.4 16.4h0m-6.1-14.5h0m9 5.5h0m-1.6-8.8h0m-8.6 0.5h0m13.2 14.8h0m-13.5-14.9h0m10.6 19.6h0m-3.6-23h0m4.9 13.2h0m-1.4-15.5h0m-3.9 17.1h0m-6.2-6h0m15.9 12.5h0m-15.1-7.5h0m6.8-18.4h0m1.6 24.1h0m5.7-12.9h0m-4.4-9.4h0m1.1 4.3h0m-11.4-4.4h0m11.1-8.9h0m-5.1 8.1h0m8.6-9.3h0m-1.1 4.9h0m-5.7 7.3h0m-7.7 13.2h0m3.4-13.9h0m1.4 14.2h0m-5.5-11.8h0m2.7 3.4h0m2.9-9.5h0m-5.5 14.8h0m1.2-19.4h0m1.5 6.9h0m9.2-0.6h0m14 0.2h0m-25.8 8.7h0m2.2-15.3h0m3.1 14.9h0m-5.4-4.9h0m14.1 10.9h0m0.4-1.2h0m-5.4-12.2h0m-0.3-0.5h0m2.6 4.4h0m6.1 6.9h0m-12.7-6.1h0m6.2-4.8h0m-11.2-3.9h0m0 13.4h0m5.9-6.7h0m8.1-8.3h0m-14.6 4.4h0m12.9 3h0m2 8h0m-7.9-3.1h0m-0.5-5.4h0m13.1 7.1h0m-17.9-12.5h0m-1 0.2h0m12-1.2h0m9.7 6.7h0m-17.5 0.3h0m-0.3 0.3h0m19.2-6.8h0m-18.2-0.3h0m-3.3 4h0m2.8-5.3h0m1.7 0.8h0m15.6 7.5h0m-6.7-0.8h0m-0.9-14.7h0m-8.9 14.7h0m2.7 6.5h0m4.6-8.7h0m-10.6 5.8h0m2.2 9.4h0m7.1-15.5h0m-4.3 3.1h0m2.2 17.2h0m-8.4-20h0m7.6 3.5h0m12.6 0.7h0m-13.8-2h0m-3.4-13.8h0m3.5 7.1h0m-4.7 0.6h0m8.9 2.6h0m-9.4 0.5h0m11.7-3h0m-12 3.3h0m5.2 12.2h0m-3.3 3.4h0m-2 1h0m6.8-32.9h0m-1.8 13.6h0m5.1 10h0m-9.4-19.9h0m6.1 22.6h0m11-3.6h0m-9.9 11h0m1.2-13.6h0m-9.1 6.6h0m1.5-10.6h0m1.4 5.1h0m5.8-2.1h0m5 13.5h0m-8-19.7h0m-2.1 12.8h0m4.7-17.6h0m7.9 16.5h0m-7.8 6h0m-6.2-13.7h0m1.9 10.5h0m11.1-10.3h0m-15.3-12.7h0m10.6 11.8h0m0.6-4.1h0m-9.9 4.7h0m10 0h0m-13.5 19.7h0m13.2-15.1h0m8.9 4.6h0m-11.1-2.1h0m-8 0.8h0m27 1.2h0m-21.6-8.7h0m4.9-4h0m-8 13.3h0m10.7-8h0m-11.3-10.1h0m6.1 17.4h0m9.2-3.8h0m-13.2 7h0m10.4-16.1h0m-11.7 7.7h0m0.6-4.9h0m-6 0.5h0m9-0.5h0m10.6-4.5h0m-19.8 13.3h0m1.9-10.1h0m19.6 5.9h0m-20 4.4h0m19.8 1.4h0m-4-2.4h0m-12.4-10.4h0m0.5 19.5h0m-1.5-20.9h0m11.2 7.6h0m-9.3-8.6h0m-0.8 17.7h0m17.1-18.9h0m-10.6 19h0m4.6-9.8h0m3.4 8.7h0m-6.3 0.2h0m-5.7-1.6h0m14.3-15.1h0m-17.4 10.2h0m-3.5 4.4h0m10.8-6.2h0m-11.6 7.6h0m15.2-6.8h0m-11.5-3.5h0m0.5 13.2h0m-3-9.6h0m-0.9-2.5h0m5.7-2.4h0m6.6 2.3h0m1.1-1.1h0m-1.4 13h0m-5.7 8.3h0m-4-11.6h0m13.3-3.4h0m-12.7 1.2h0m2.7 8.2h0m8.3-2.8h0m-12-5.2h0m-0.1-8.5h0m18.5-0.3h0m-8.9 2.1h0m-1.3 7.4h0m-9.7-10.1h0m0.4 0.3h0m26.8 10.6h0m-14.3-15.2h0m6.2-2.1h0m-7.5 14.7h0m-3-7.2h0m-5.6 5.6h0m17.8 8.4h0m-5.6-15.9h0m-15.4-1.4h0m1.9 19.9h0m14.9-17.8h0m-15.3 8.1h0m6.8 3.2h0m-7-10h0m8.7 8.7h0m5.6 0.8h0m-13-13.9h0m2.8 12.7h0m-0.6-11.1h0m-0.5 5.7h0m10.6 4.4h0m16.5-2.1h0m-31.8-3.2h0m8.4-0.2h0m8.1 4h0m-4.2-1.3h0m-12.2-8.9h0m3.7 14.1h0m28.7-8.9h0m-13.3-6.4h0m-13.1 14.6h0m5.1 8.5h0m3.1-18.4h0m-6.2 6.5h0m9 0.8h0m2-7.8h0m-7.2 1.6h0m-11.3 0.7h0m1.6 7.7h0m5.5-11.1h0m14.7 10.8h0m0.1-11h0m-14.3 8.1h0m-6.6 8.3h0m12.9-9.5h0m-1.3 1h0m-2.5 3.5h0m1.6-17.1h0m-9.3 21.9h0m5.7-14.7h0m-0.8-8.2h0m4.7 20.4h0m-11.3-6.2h0m-1.5-1.2h0m2.1 10.5h0m16.9-13.5h0m-12.7 0h0m-2.2 5.1h0m2 2.7h0m5.5-5.3h0m-11-19.1h0m3 9.3h0m6.4 13.6h0m-7-3.8h0m7.6-2.7h0m-7.7 10.9h0m1.1-19.8h0m7 9.6h0m-8.2 14.4h0m15.5-20.2h0m-12.2 10.8h0m0.1-3.1h0m11.8 5.8h0m0.2-0.1h0m-12.8-10.9h0m0.4-3.2h0m-4.5 10.1h0m12.6-0.9h0m-5.7-3.8h0m2.7 10.5h0m-2.9 2.8h0m11.5-6.2h0m-19.5-6.3h0m5 10.2h0m-4.7-11.7h0m12.2 13.2h0m0.1-15.9h0m4.2 23.7h0m-9.3-12.3h0m8.9 5.7h0m-11-10.4h0m8.2 4.1h0m-9-10h0m6.2 0.4h0m20.1 11.2h0m-25.3-10.7h0m10.1 5.6h0m-11.1 2.3h0m-1.4-1.1h0m21.1-14.3h0m-9.2 7.1h0m-13.1 1.3h0m15.7 14.1h0m-15.4-7.6h0m7.4-6.3h0m-1.4 11.1h0m7.9-2h0m-14.3-10.4h0m0.9 2.5h0m5.1-2.9h0m-4.7 5.7h0m9 9h0m-3.1-15.9h0m-4.8 17.8h0m11.6-11.3h0m-8.6 2.6h0m-2.9 0.6h0m5.1 3.8h0m8.4-9.3h0m9.4 6.7h0m-12.9-2.6h0m6.5-6.4h0m-18.5 6.3h0m6.6 1.7h0m-8.2-2.5h0m19.6-5.3h0m-19.6-8.6h0m9.9 24.5h0m-0.9-20.7h0m21.4 5.7h0m-30.5 8.2h0m5.6-5.2h0m4.7 0.1h0m-10.6 4.7h0m2.7-3.6h0m-0.7 7h0m7.2-6.7h0m-7.7-0.1h0m6.4-2.4h0m-7.5 1.5h0m26.7 4h0m-25.7 8.2h0m9.8-10.9h0m0.3 0.2h0m-10.9-5.1h0m2.9 6.7h0m1.4-0.8h0m5.7-4.2h0m-8.4-2h0m31.5 4.1h0m-19.1 3h0m-2.6 0.9h0m1.4 12.8h0m-1.8-26.2h0m-4.4 10.2h0m11.7-6.6h0m-4.9 2.9h0m-14.3 2.6h0m11.6 0.4h0m-1.9-14.5h0m-7 15.6h0m4.4-5.9h0m6-0.5h0m-6.4 10.1h0m-5.1-0.5h0m1.5-3.4h0m22.9 7.4h0m-20-9.4h0m-1.8 0h0m5 4.3h0m-0.6 8.4h0m-3-7h0m2.1-15.7h0m-6.9 13.2h0m12.6-8h0m-9.7 0.2h0m12.9 20.2h0m6.8-20.7h0m-22.8 10.4h0m19.2 11.6h0m3.9-12.1h0m-16.2-10h0m11.9-1.5h0m-6.1 1.2h0m2.9-2.7h0m-13.7 8.9h0m8.5 9.9h0m-4.4-2.4h0m9-10.3h0m-11.4 10.3h0m0.3-8.3h0m-2.9 4.4h0m8.4-7.8h0m-9.5 12.1h0m9.4 1.5h0m-1.1-6.2h0m-0.6-7.4h0m3.9 12.9h0m-4.4-4.7h0m6.8-12.2h0m-10.8 13.6h0m-2-5.7h0m1.7 9.2h0m-3.5-7.9h0m8.5 10.9h0m18.1-11.4h0m-21.8 10.9h0m-1-12.7h0m-3.6 13h0m9-5.7h0m-1.3-9.5h0m-1.8 2.9h0m5.7 8.2h0m3.1-6h0m-2.5-6.2h0m0.8 19h0m-10.4-21.6h0m7.4 13.9h0m-3.9-7.3h0m2.3-5.6h0m12.5 5.4h0m-6.1 0h0m-3.6 19.4h0m1.2-13.7h0m-6.3-18.1h0m-3.5 9h0m20.4-0.7h0m-0.4 13.1h0m-15.6-14.7h0m5.5 13.6h0m-6.6 5.3h0m-2.2-5.4h0m0.1-5.8h0m6.8 12.2h0m-4.3-9.6h0m7.7-7.3h0m16.9 2.2h0m-20-5.6h0m-7.2 6.2h0m5.6 3.7h0m-2.7-3.4h0m1.6 1.2h0m-5-3.7h0m11.1-1.2h0m2.1 16.4h0m-12.5-16.2h0m-2.6-1h0m-1.1 12.6h0m5.2-12.9h0m4.1 7.2h0m5.4-12h0m-0.9 11.3h0m-6.4 2.1h0m-7.7 1.4h0m4.6 10.3h0m-3.6-6.8h0m17.3-5.4h0m-0.5-5.1h0m-12.6 16.1h0m15.3-12h0m-15 8.2h0m1.8-13.1h0m4.5 25.3h0m-2.3-17.1h0m-7.1-9h0m-1 11.7h0m-0.2 6.8h0m5.7-4.2h0m6.3-5.7h0m-0.3-12.9h0m0.5 13h0m-9.9-9.5h0m-1.8 13.4h0m9.4-13h0m-11.2 19h0m2.2-13.7h0m6.8-1.7h0m-3.4 4.8h0m-1.2-2.3h0m11.5 14.5h0m3.1-10.9h0m-16.4-2.3h0m6.7 9.6h0m26.8-14.8h0m-35.6 5.3h0m2 4.5h0m11.6-17.9h0m-5.9 13.3h0m-7.4-3.9h0m0.4-0.7h0m3.4 2.2h0m-0.6 5.5h0m-2.9-7.9h0m0.1 11.1h0m-0.8-8.1h0m-0.4-3.1h0m18-8.6h0m-13.2 1.5h0m-2.1 2.6h0m9.7 6.2h0m-7.7-12.5h0m13.6 15.4h0m-15-10.8h0m-0.6 8.6h0m16.8 3.7h0m-5.3-3h0m-7.2-3.9h0m-1-4.7h0m-1.9 8.5h0m2.8 4.2h0m5.2 7.8h0m-4.2-13.7h0m0.7 1.5h0m-2.7 6.6h0m5.5-1.4h0m-6.8-3.6h0m1.1 0.6h0m4.9 0.1h0m11.6-1.6h0m-4.7 1.5h0m-13.3-17.2h0m5.5 14.2h0m0.1 17.3h0m-8.7-25.9h0m17.2 9.2h0m-1-10.6h0m-6.1 15.4h0m-10.5 5.9h0m15.4-6.7h0m-12.7-8.2h0m10.9-2.3h0m-14.4 15.3h0m5.2-15.3h0m29.5-6.3h0m-15.8 10.3h0m-12.3-4.6h0m-5.5 15.3h0m19.8-12.1h0m1.6 2h0m-17.5 12.1h0m2.1-15.3h0m7.6 4h0m0.5-3.3h0m-7.8 4.6h0m-6.5-5.5h0m-0.5 2.2h0m2.6 0.9h0m12.2-0.6h0m5.5 3.5h0m-14.4 0.8h0m-2.4 0.2h0m4.7 3h0m-5-5.7h0m-0.7 4.2h0m3.8-8.1h0m-3.3 19h0m0.8-17.4h0m6.7 14h0m11-16.2h0m-8.8 2.6h0m-3.8 7.5h0m-6.8 2.4h0m5.5-11.1h0m12.1-0.9h0m-7 10.8h0m-2.9-1.4h0m7.3-4.7h0m-9.6 3.3h0m1.5-0.9h0m13.9-6.1h0m-20.4-1.7h0m-1.9 7.2h0m3.1-0.3h0m8.3 1.9h0m7-1.3h0m-14.3-8.6h0m24.1 15.8h0m-16.3-4h0m-5.9 12.9h0m-1.9-9.1h0m5.2-3.6h0m-6.7-9.9h0m11.9 4.2h0m2.3 5.6h0m-16.2-3.3h0m1.9-3.3h0m17.2 6.4h0m-14.4-2.9h0m-0.5 1.2h0m-5.8-14.9h0m0.8 11.3h0m10 1.4h0m4.1-2.9h0m-13.4 0.8h0m11.8-6.8h0m-0.7 7.1h0m-12.6-3.8h0m3.2 6.2h0m1.4 1.4h0m12.7-5.9h0m-11.1 5.4h0m3.5-15.2h0m3.2 7.2h0m-8.4-2.9h0m-4 8.2h0m13.8-1.6h0m9.3-5.6h0m-21.7 9.3h0m12.9 5.3h0m-10.4-8.4h0m-4.4-4.3h0m6.4 9.4h0m-2.4-11.2h0m5.6-4.7h0m-2.6 14.2h0m-5.7-3h0m8.6 15h0m-6-18.5h0m2.6-0.3h0m14.9 2h0m-10.8 8.2h0m-3.3 0.2h0m6-5.6h0m-1.1 5h0m-9.2-3h0m6.9 5.6h0m-2.1-15.3h0m-4.9 4.4h0m5.8 2.7h0m-5.5-2.7h0m2.5-11.6h0m-4.9 3.9h0m6.4 12.8h0m9.5 5.9h0m-7.9-14.2h0m-6.3 15.7h0m15.4-8.8h0m-15.3-2.1h0m15.1-5.2h0m-12.5 18.6h0m-3.8-15.9h0m11 4.1h0m-10.7-4.9h0m13.8-3.7h0m10.2 2.5h0m-12.8-2.1h0m-4.6 5.2h0m-1.9-4.8h0m8.2 12.2h0m-7.4 3.8h0m-4.3-17.3h0m5.1-0.1h0m-0.7 9.9h0m2.1-0.8h0m1.3-12.3h0m-3.6 13.8h0m-3.7 1.3h0m0.6 2.7h0m12.1-8.3h0m-4 5.1h0m-5.8 6.9h0m14.5-4.5h0m-5-6.6h0m-13.9 7.3h0m1.8-6.3h0m10.8 5.3h0m-14.4 3.4h0m15-5.7h0m-14 2.8h0m5.3 0.8h0m-1.7-5.2h0m-3.3 0.3h0m6.9 3.9h0m-4.9-4.3h0m11.7-4.2h0m-8.1 9.7h0m16.1-4.5h0m-22.9-1.7h0m0.7-4h0m11.6-0.6h0m-2.5 7.2h0m-2.2-7.3h0m-1 16.7h0m1.2-2.5h0m17.6-8h0m-8.5 5.2h0m-14.1-8.5h0m10.4 4.8h0m-7.4 9.7h0m-5.8-10h0m23.2-6h0m-9.6 11.7h0m-12.8-5.9h0m0.5 4.3h0m5.3-2.5h0m-4.6 1.3h0m5.4-1.7h0m-0.6-10.6h0m-4.7 8.5h0m1.8-0.1h0m9-1.2h0m-4.8-2.3h0m9.4-7.4h0m0 3.2h0m-15.7 11.2h0m17-10.5h0m-10.9 5.7h0m-6.3-1.1h0m1.7-3.2h0m3.4-12.8h0m10.8 19.3h0m-14.8 10.6h0m10.1-13.9h0m-8.1-4.8h0m5.1 0.7h0m-9 0.6h0m-0.8 2.1h0m6.4 3.7h0m-5.8-3.4h0m10.1 2.3h0m-10.8 2.7h0m3.3 6.3h0m10.1-18.2h0m-2.2 16.6h0m-11.1-15.1h0m14.2 9.4h0m21.9 0.8h0m-25.2-13.8h0m0.9 14.6h0m-6.6-2.6h0m-3.9 4.9h0m7-3.8h0m-7.6-2.8h0m1.7 11.6h0m8.9-13.6h0m-2.3 5h0m8.2-2.9h0m8.1-12h0m-18.3 17.9h0m-4-2.9h0m20.7 1.8h0m-19-10.7h0m-2.4 5.6h0m4.8 0.4h0m20.8-7.5h0m-24.4 10.5h0m4.1-8.2h0m7 8.4h0m1.7 10.3h0m-4.9-2.6h0m-7.1-15h0m-4.5-1.1h0m19.1 15.4h0m7-25.7h0m-9.7 5.3h0m-15 12.2h0m16.2 12.6h0m-15.7-13.8h0m4.5 6.3h0m-3.8-6.6h0m3.1 3.1h0m-2.2 0.9h0m25.2-3.6h0m-1.2 0.7h0m-17.5-5.1h0m10.5 9h0m-2.5-4.7h0m-13.9-11.8h0m-3 2.3h0m8 3.9h0m-8 5.6h0m18 3.4h0m-5.3-16.1h0m-10.9 5.3h0m7.7 8.7h0m-1.7-3.5h0m-6-4h0m6.7 11.7h0m-3.6 2.7h0m0.1-9.8h0m3.8-9.6h0m-2.2 7.3h0m9 5.4h0m-15.6 3.9h0m15-3.4h0m-4-5.4h0m-6.8-8.8h0m5.6 4.1h0m-8.7-4.7h0m-0.1 2.2h0m-2-4.2h0m5.1 5h0m-2.9 8.2h0m16.9 4.1h0m-17.2 1.9h0m14.6-3.2h0m-10.8 10.5h0m5.1-18.7h0m4.6 3.7h0m-4.7 1.2h0m-3.1-6h0m13.5 6h0m-17.2-6.9h0m-0.8 9.9h0m-1.5-14.8h0m15.6 25.5h0m-1.5-13.8h0m-4.5 3.1h0m-2.6-1.4h0m7 2h0m-9.1-0.9h0m-6.5-0.7h0m8.1 7.2h0m-2.4-25.6h0m19.5 21.6h0m-15.1 3.1h0m20.6-0.7h0m-20.4-0.3h0m0.9-16.1h0m7.1 8.2h0m-1 0.4h0m-3.6-4.5h0m-11.8 9.7h0m10.4 7.8h0m10.5-17.1h0m10.5 11.7h0m-32.1-1.5h0m8.8-6.5h0m-9.1 5.5h0m1.4 0.4h0m3.3-4.1h0m6.4 2.4h0m-12.2-1.8h0m48.4-12.2h0m-4.5 2.4h0m6-7.9h0m-0.7 3.7h0m-0.9 1.3h0m-10.5 0.8h0m6.4-1.2h0m-1.3 3.1h0m-3.6-3.6h0m11.9-1.3h0m-13.5 0.9h0m11.1-3.4h0m-13 6.5h0m5 1.1h0m2.9-5.6h0m4.4 1.2h0m0.6 1.1h0m10.7-9.2h0m-8.3 6.9h0m-4.3-2h0m-6.7 6.6h0m0.7 0.5h0m4.9-6.5h0m7.4 1.2h0m-12.8 4.6h0m-21.6 4.8h0m33.3-11.9h0m-10.4 4.3h0m-2.9 0.8h0m8.6 2h0m-0.2-1.1h0m-3.4-6.6h0m-3.5 8.8h0m6.1-7.7h0m6.6-2.9h0m-26.2 15h0m20.5-9.6h0m-17 10.6h0m20.9-11.3h0m-4 6h0m-15.8-0.8h0m19.2-4h0m0.1 1.4h0m-3.1-3.5h0m-9.9 7.9h0m-0.1-3.3h0m16-6.9h0m-15.7 11.1h0m7.4-0.5h0m12.5-10.3h0m-15.7 3.5h0m-6.6 0.9h0m1.9-0.3h0m4.9 0.9h0m2.8 2.6h0m2.8-6.6h0m4.8 1.1h0m-5.8 2.3h0m2.2 3.9h0m-1.9-2.8h0m-16.8 2h0m19.1-5.8h0m2.9-5.4h0m-7.8 14.6h0m3-2.9h0m-12.9 3.7h0m15.1-10.9h0m-1.3 6.1h0m-4.3-2.1h0m1.3-5.2h0m2.1 4.1h0m2.9 1h0m-17.3 8.4h0m9.3-4.7h0m11.3-6.5h0m-7.6-0.5h0m3.7 2.9h0m-4-1.1h0m-1.9 2.1h0m-7.1 7.8h0m3.8-4.5h0m3.4-1.1h0m2-1.7h0m-7.7 3h0m0.5 0.5h0m3.2-6h0m4.2 8.3h0m4.2-6.3h0m-1.2-1.2h0m1.8 1.1h0m-20.1 9.3h0m8.8-4.6h0m8.5-2.7h0m-12.2 0.7h0m7.9-1.3h0m13.9-7.4h0m-17.6 5.7h0m6.8 2.2h0m-4.6-3.4h0m4.1 0.8h0m-2.6-3.2h0m-4.7 5.8h0m0.6 1.3h0m11.8-6.1h0m-7.6 4.6h0m5.9-4.1h0m-10.3 0.5h0m8.9-0.1h0m-3.8-4.2h0m-3.4 7.2h0m6.4 4.6h0m-8.9-4.1h0m-4.2 5h0m11.3-7.1h0m-4.9 3.6h0m8.5-5.3h0m-1.5 2.2h0m-2.4-1h0m5 3.2h0m-14.1-1.9h0m12.6 0.9h0m-15.7 3.5h0m9.7-8.3h0m0.7 4.7h0m5 2.3h0m-3.6-0.8h0m1.4-5.3h0m-7.3 8.1h0m10.7-4.8h0m7.3-7.5h0m-22.1 8.7h0m13.4-1.1h0m9.6-5.3h0m-15.4 5.8h0m1.2-1.6h0m0.6 1.6h0m2.3 2.2h0m-7.8 1.1h0m-1.2 2.9h0m10.3-7.5h0m-13.7 4.7h0m1.1 0h0m18.2-4.5h0m1.8-4.3h0m-7.2 6.3h0m8.2-10h0m-9.4 10.6h0m-3.9 1.9h0m-2.3-3.9h0m10.5-2.5h0m5-7.7h0m-17.1 9.8h0m1.1 5.3h0m8.6-2.9h0m5.5-5.2h0m-4.3 2.6h0m2.4 2h0m-6.1-1.2h0m8.8-1.7h0m-19.6 3.8h0m8.2-3.5h0m1.1 4h0m-7.4 3.5h0m-0.3-4.6h0m8 4.3h0m3.3-5.2h0m-8.3 3h0m0.5-2h0m24-8.3h0m-19.6 8.6h0m-7.1-2.6h0m-5.8 4.9h0m12.7-1.9h0m-5.8 1.2h0m7.1-2.9h0m0.4-4.3h0m-6.4 4.7h0m10.2-1.9h0m-0.2 1.4h0m-13.3 6.4h0m11.6-7.7h0m-6.2-1.2h0m-2.7 6.5h0m7-6.2h0m4.8 1.9h0m-4.1-1.5h0m-7.9 1.1h0m3.8 0.8h0m-11 3.7h0m17.9-9h0m6.9 3.8h0m-8.3-5.3h0m-4.8 4h0m3.4-1.8h0m-17.3 7.8h0m10.2-2.8h0m8.6-2.3h0m-13.3 4.6h0m11.2-2.7h0m-8.2 8.1h0m11-11.4h0m-14 6.9h0m1.7-0.1h0m16.4-7.3h0m-5.3 0.2h0m2.8 1.2h0m-7.8 4h0m-4.4-0.7h0m11-9.1h0m-10.5 7.4h0m6.6-3h0m-2.4 5.7h0m7.2-3.2h0m2.1 2.5h0m-8.4-3.4h0m12.5-1.3h0m-13.4-0.4h0m3.4 2h0m1.7-0.1h0m-10 0.4h0m9.8-1.4h0m-0.2-0.5h0m-2.3 4.4h0m-1.7-1.1h0m3-1.7h0m-11.4 7h0m8.2-9.5h0m3.8 3.7h0m0.9 3.1h0m-5-1.6h0m1 5.1h0m0.7-5.3h0m-22.5 8h0m24.5-14.1h0m11.7-4h0m-28.7 14.6h0m19.5-3.2h0m-4.4-0.6h0m15.2-11.2h0m-23 10.4h0m12.3 1.3h0m-3.8-2.8h0m15.4-7.9h0m-21.2 8.4h0m-4 6h0m7.6-5.2h0m-3.7 1.1h0m6.4-1.7h0m-5 4.3h0m-3.3-1.5h0m-5.4 7.4h0m2.1-6.7h0m2.3-5.5h0m10.1 9.1h0m-12.7-5.4h0m1 3h0m7.8-4.1h0m4.8-5.5h0m-14.7 22.9h0m22.3-19.7h0m-14.1 7.1h0m-9-1.9h0m14-2.1h0m-16.6 10.5h0m12.2-6.8h0m-7.5 2.7h0m0.5-4.5h0m30.2-10.9h0m-20.8 8h0m1.7 1.6h0m-4.4-0.7h0m-1.3 5.8h0m12-3.9h0m-11.1 2.2h0m13.6-10.7h0m-24.2 13.8h0m8.6-2.1h0m3.7-1.1h0m-4.7-3h0m12.5-6.8h0m-12.5 10.4h0m4.3-12.7h0m7 3.6h0m1.9 10.3h0m-11.3 9.4h0m-1.6-15h0m-8 9.4h0m22.6-12.3h0m-10.9 3.2h0m11.1-3.8h0m-11.4 11.5h0m-6.3-6.7h0m16.3-9.6h0m4.8 2.5h0m-12.5 2.8h0m-16.2 11.5h0m13.5-13.9h0m-6 3.9h0m6 3.8h0m6.2-8.1h0m-20.5 10.4h0m9.7-6h0m13.8 5.1h0m-17.7 0.2h0m-6.8-3.4h0m17.6 3h0m-17.3 3.7h0m3.6 6.6h0m14.8-21.3h0m0.2 1.2h0m5.4 5.3h0m-11.8-2.6h0m7.7 0h0m-0.3-4h0m-11.6 2.4h0m14.7 1.7h0m-16.1 2.1h0m2.8 8.4h0m0-4h0m10.5-2.1h0m1.5-7.5h0m-22.5 18.6h0m7.8-13.2h0m20.8 3.4h0m-5.2-5.1h0m-18 13h0m14.8-12.5h0m-11-0.4h0m5.7 5h0m3.5 0.9h0m-6.5-0.5h0m-3.4 0h0m2.7-5.8h0m0.6 7.1h0m-0.6 2.4h0m3.8-7h0m-0.6 5.3h0m17-8.7h0m-25.7 6.4h0m-3.2 1.1h0m19.6-12.1h0m-6.6 5.9h0m-0.6 9.6h0m-0.7-10.8h0m6.7 0.9h0m14.1-2.4h0m-14.6 4.8h0m-14.6 2.7h0m5.3-3.7h0m-5.1-3.3h0m10.7 7.7h0m-0.7-5.9h0m-16.9 5.1h0m14.2-7.7h0m3.8 7h0m7.4-2.6h0m-9.9 5.8h0m-8.1 1.6h0m0.2-4.1h0m3.7 2.6h0m6.4-2h0m-3-12.6h0m-4.1 9.7h0m1.7-1h0m4.5-4h0m-10.5 4.1h0m18.7-2.2h0m-6.5 2.3h0m-6.5 11.3h0m6.4-14.3h0m-3.8-3.5h0m-1.4 10.2h0m9.3 3.3h0m11.9-14.4h0m-16.1 17.4h0m-6.2-1.6h0m3.5-0.4h0m-8.1-7.8h0m3.5-0.8h0m21.2-3.3h0m6.3 8.4h0m-23.2 20h0m0.1-1.4h0m-5.9 7.8h0m-1.4 3.7h0m7.7-13.2h0m-6.7 7.7h0m27.9-25.2h0m-5.9 3h0m-26.3 23h0m9.4-6.2h0m-2.4 2.6h0m26.4-22.1h0m-23.7 18h0m13.7-10h0m-4.8 4.8h0m-11.5 13.2h0m2.5-6.7h0m10.8-8h0m-15.8 13.8h0m14.3-13.1h0m5.9-6.3h0m10.7-8.5h0m-21.9 21.9h0m-5.5 0.6h0m-5.8 7.4h0m16.2-17h0m-4.3 5h0m22.1-21.1h0m-11.8 12.5h0m2.9-3.7h0m-25.6 25.6h0m12.6-13.6h0m-2.1 1h0m-9.5 13.9h0m0.9-7.1h0m-1.1 2.7h0m27.9-23.8h0m-18.6 17h0m-0.5 1h0m12.5-8.1h0m-8.9 8.5h0m11.2-12.6h0m1.5-5.5h0m-22.3 23.1h0m2.3 0.9h0m15.9-18.5h0m-22.8 20.4h0m25.4-22.4h0m-25.8 26.4h0m1.7-7.8h0m11.6-7h0m-10.8 11.4h0m29.8-28.7h0m-18.9 17.1h0m21.3-20.3h0m-11.4 9.6h0m12.8-8.6h0m-32.1 28.5h0m4.8-3.1h0m7.9-8.2h0m7.1-7.9h0m-19.4 18.1h0m12.2-9.3h0m-9.8 9h0m0.9-1.2h0m10.2-12.3h0m-2.3 9.5h0m8.9-15.8h0m-14.1 12.5h0m-5.2 7.7h0m3.9-7h0m13.7-11.1h0m3.4-2.8h0m-21.8 20.1h0m17.8-15.1h0m-16.5 14.3h0m0.8-0.1h0m12-8.8h0m-11.6 6.6h0m7.1-5.6h0m11.1-9.9h0m4.1-3.3h0m-21.8 23.6h0m5.7-9.6h0m8.7-6.7h0m7.2-5.3h0m-26.3 22.9h0m8.9-9.3h0m10.5-5.8h0" fill="none" stroke="#f01818" stroke-width="0.6" stroke-linecap="round" opacity="0.75"/>
</g>
<rect x="80.80" y="311.30" width="98.00" height="73.50" fill="none" stroke="#6a6a6a" stroke-width="0.45"/>
<line x1="113.20" y1="311.30" x2="113.20" y2="384.80" stroke="#5a5a5a" stroke-width="0.45"/>
<line x1="80.80" y1="356.70" x2="178.80" y2="356.70" stroke="#5a5a5a" stroke-width="0.45"/>
<line x1="79.00" y1="384.80" x2="80.80" y2="384.80" stroke="#444" stroke-width="0.4"/>
<line x1="80.80" y1="384.80" x2="80.80" y2="386.60" stroke="#444" stroke-width="0.4"/>
<text class="ss" x="78.80" y="385.40" font-size="2.9" text-anchor="end" fill="#333">10<tspan dy="-1.1" font-size="2.0">0</tspan></text>
<text class="ss" x="80.80" y="389.10" font-size="2.9" text-anchor="middle" fill="#333">10<tspan dy="-1.1" font-size="2.0">0</tspan></text>
<line x1="79.80" y1="379.27" x2="80.80" y2="379.27" stroke="#555" stroke-width="0.3"/>
<line x1="88.18" y1="384.80" x2="88.18" y2="385.80" stroke="#555" stroke-width="0.3"/>
<line x1="79.80" y1="376.03" x2="80.80" y2="376.03" stroke="#555" stroke-width="0.3"/>
<line x1="92.49" y1="384.80" x2="92.49" y2="385.80" stroke="#555" stroke-width="0.3"/>
<line x1="79.80" y1="373.74" x2="80.80" y2="373.74" stroke="#555" stroke-width="0.3"/>
<line x1="95.55" y1="384.80" x2="95.55" y2="385.80" stroke="#555" stroke-width="0.3"/>
<line x1="79.80" y1="371.96" x2="80.80" y2="371.96" stroke="#555" stroke-width="0.3"/>
<line x1="97.92" y1="384.80" x2="97.92" y2="385.80" stroke="#555" stroke-width="0.3"/>
<line x1="79.80" y1="370.50" x2="80.80" y2="370.50" stroke="#555" stroke-width="0.3"/>
<line x1="99.86" y1="384.80" x2="99.86" y2="385.80" stroke="#555" stroke-width="0.3"/>
<line x1="79.80" y1="369.27" x2="80.80" y2="369.27" stroke="#555" stroke-width="0.3"/>
<line x1="101.50" y1="384.80" x2="101.50" y2="385.80" stroke="#555" stroke-width="0.3"/>
<line x1="79.80" y1="368.21" x2="80.80" y2="368.21" stroke="#555" stroke-width="0.3"/>
<line x1="102.93" y1="384.80" x2="102.93" y2="385.80" stroke="#555" stroke-width="0.3"/>
<line x1="79.80" y1="367.27" x2="80.80" y2="367.27" stroke="#555" stroke-width="0.3"/>
<line x1="104.18" y1="384.80" x2="104.18" y2="385.80" stroke="#555" stroke-width="0.3"/>
<line x1="79.00" y1="366.43" x2="80.80" y2="366.43" stroke="#444" stroke-width="0.4"/>
<line x1="105.30" y1="384.80" x2="105.30" y2="386.60" stroke="#444" stroke-width="0.4"/>
<text class="ss" x="78.80" y="367.03" font-size="2.9" text-anchor="end" fill="#333">10<tspan dy="-1.1" font-size="2.0">1</tspan></text>
<text class="ss" x="105.30" y="389.10" font-size="2.9" text-anchor="middle" fill="#333">10<tspan dy="-1.1" font-size="2.0">1</tspan></text>
<line x1="79.80" y1="360.89" x2="80.80" y2="360.89" stroke="#555" stroke-width="0.3"/>
<line x1="112.68" y1="384.80" x2="112.68" y2="385.80" stroke="#555" stroke-width="0.3"/>
<line x1="79.80" y1="357.66" x2="80.80" y2="357.66" stroke="#555" stroke-width="0.3"/>
<line x1="116.99" y1="384.80" x2="116.99" y2="385.80" stroke="#555" stroke-width="0.3"/>
<line x1="79.80" y1="355.36" x2="80.80" y2="355.36" stroke="#555" stroke-width="0.3"/>
<line x1="120.05" y1="384.80" x2="120.05" y2="385.80" stroke="#555" stroke-width="0.3"/>
<line x1="79.80" y1="353.58" x2="80.80" y2="353.58" stroke="#555" stroke-width="0.3"/>
<line x1="122.42" y1="384.80" x2="122.42" y2="385.80" stroke="#555" stroke-width="0.3"/>
<line x1="79.80" y1="352.13" x2="80.80" y2="352.13" stroke="#555" stroke-width="0.3"/>
<line x1="124.36" y1="384.80" x2="124.36" y2="385.80" stroke="#555" stroke-width="0.3"/>
<line x1="79.80" y1="350.90" x2="80.80" y2="350.90" stroke="#555" stroke-width="0.3"/>
<line x1="126.00" y1="384.80" x2="126.00" y2="385.80" stroke="#555" stroke-width="0.3"/>
<line x1="79.80" y1="349.83" x2="80.80" y2="349.83" stroke="#555" stroke-width="0.3"/>
<line x1="127.43" y1="384.80" x2="127.43" y2="385.80" stroke="#555" stroke-width="0.3"/>
<line x1="79.80" y1="348.89" x2="80.80" y2="348.89" stroke="#555" stroke-width="0.3"/>
<line x1="128.68" y1="384.80" x2="128.68" y2="385.80" stroke="#555" stroke-width="0.3"/>
<line x1="79.00" y1="348.05" x2="80.80" y2="348.05" stroke="#444" stroke-width="0.4"/>
<line x1="129.80" y1="384.80" x2="129.80" y2="386.60" stroke="#444" stroke-width="0.4"/>
<text class="ss" x="78.80" y="348.65" font-size="2.9" text-anchor="end" fill="#333">10<tspan dy="-1.1" font-size="2.0">2</tspan></text>
<text class="ss" x="129.80" y="389.10" font-size="2.9" text-anchor="middle" fill="#333">10<tspan dy="-1.1" font-size="2.0">2</tspan></text>
<line x1="79.80" y1="342.52" x2="80.80" y2="342.52" stroke="#555" stroke-width="0.3"/>
<line x1="137.18" y1="384.80" x2="137.18" y2="385.80" stroke="#555" stroke-width="0.3"/>
<line x1="79.80" y1="339.28" x2="80.80" y2="339.28" stroke="#555" stroke-width="0.3"/>
<line x1="141.49" y1="384.80" x2="141.49" y2="385.80" stroke="#555" stroke-width="0.3"/>
<line x1="79.80" y1="336.99" x2="80.80" y2="336.99" stroke="#555" stroke-width="0.3"/>
<line x1="144.55" y1="384.80" x2="144.55" y2="385.80" stroke="#555" stroke-width="0.3"/>
<line x1="79.80" y1="335.21" x2="80.80" y2="335.21" stroke="#555" stroke-width="0.3"/>
<line x1="146.92" y1="384.80" x2="146.92" y2="385.80" stroke="#555" stroke-width="0.3"/>
<line x1="79.80" y1="333.75" x2="80.80" y2="333.75" stroke="#555" stroke-width="0.3"/>
<line x1="148.86" y1="384.80" x2="148.86" y2="385.80" stroke="#555" stroke-width="0.3"/>
<line x1="79.80" y1="332.52" x2="80.80" y2="332.52" stroke="#555" stroke-width="0.3"/>
<line x1="150.50" y1="384.80" x2="150.50" y2="385.80" stroke="#555" stroke-width="0.3"/>
<line x1="79.80" y1="331.46" x2="80.80" y2="331.46" stroke="#555" stroke-width="0.3"/>
<line x1="151.93" y1="384.80" x2="151.93" y2="385.80" stroke="#555" stroke-width="0.3"/>
<line x1="79.80" y1="330.52" x2="80.80" y2="330.52" stroke="#555" stroke-width="0.3"/>
<line x1="153.18" y1="384.80" x2="153.18" y2="385.80" stroke="#555" stroke-width="0.3"/>
<line x1="79.00" y1="329.68" x2="80.80" y2="329.68" stroke="#444" stroke-width="0.4"/>
<line x1="154.30" y1="384.80" x2="154.30" y2="386.60" stroke="#444" stroke-width="0.4"/>
<text class="ss" x="78.80" y="330.28" font-size="2.9" text-anchor="end" fill="#333">10<tspan dy="-1.1" font-size="2.0">3</tspan></text>
<text class="ss" x="154.30" y="389.10" font-size="2.9" text-anchor="middle" fill="#333">10<tspan dy="-1.1" font-size="2.0">3</tspan></text>
<line x1="79.80" y1="324.14" x2="80.80" y2="324.14" stroke="#555" stroke-width="0.3"/>
<line x1="161.68" y1="384.80" x2="161.68" y2="385.80" stroke="#555" stroke-width="0.3"/>
<line x1="79.80" y1="320.91" x2="80.80" y2="320.91" stroke="#555" stroke-width="0.3"/>
<line x1="165.99" y1="384.80" x2="165.99" y2="385.80" stroke="#555" stroke-width="0.3"/>
<line x1="79.80" y1="318.61" x2="80.80" y2="318.61" stroke="#555" stroke-width="0.3"/>
<line x1="169.05" y1="384.80" x2="169.05" y2="385.80" stroke="#555" stroke-width="0.3"/>
<line x1="79.80" y1="316.83" x2="80.80" y2="316.83" stroke="#555" stroke-width="0.3"/>
<line x1="171.42" y1="384.80" x2="171.42" y2="385.80" stroke="#555" stroke-width="0.3"/>
<line x1="79.80" y1="315.38" x2="80.80" y2="315.38" stroke="#555" stroke-width="0.3"/>
<line x1="173.36" y1="384.80" x2="173.36" y2="385.80" stroke="#555" stroke-width="0.3"/>
<line x1="79.80" y1="314.15" x2="80.80" y2="314.15" stroke="#555" stroke-width="0.3"/>
<line x1="175.00" y1="384.80" x2="175.00" y2="385.80" stroke="#555" stroke-width="0.3"/>
<line x1="79.80" y1="313.08" x2="80.80" y2="313.08" stroke="#555" stroke-width="0.3"/>
<line x1="176.43" y1="384.80" x2="176.43" y2="385.80" stroke="#555" stroke-width="0.3"/>
<line x1="79.80" y1="312.14" x2="80.80" y2="312.14" stroke="#555" stroke-width="0.3"/>
<line x1="177.68" y1="384.80" x2="177.68" y2="385.80" stroke="#555" stroke-width="0.3"/>
<line x1="79.00" y1="311.30" x2="80.80" y2="311.30" stroke="#444" stroke-width="0.4"/>
<line x1="178.80" y1="384.80" x2="178.80" y2="386.60" stroke="#444" stroke-width="0.4"/>
<text class="ss" x="78.80" y="311.90" font-size="2.9" text-anchor="end" fill="#333">10<tspan dy="-1.1" font-size="2.0">4</tspan></text>
<text class="ss" x="178.80" y="389.10" font-size="2.9" text-anchor="middle" fill="#333">10<tspan dy="-1.1" font-size="2.0">4</tspan></text>
<text class="ss" x="131.80" y="390.80" font-size="2.5" text-anchor="middle" fill="#444">FL1-H</text>
<text class="ss" x="75.20" y="351.05" font-size="2.5" text-anchor="middle" fill="#444" transform="rotate(-90 75.20 351.05)">FL2-H</text>
<text class="ss" x="82.30" y="313.90" font-size="2.5" fill="#444">1.08%</text>
<text class="ss" x="177.60" y="313.90" font-size="2.5" text-anchor="end" fill="#444">4.40%</text>
<text class="ss" x="82.30" y="383.60" font-size="2.5" fill="#444">92.80%</text>
<text class="ss" x="177.60" y="383.60" font-size="2.5" text-anchor="end" fill="#444">1.66%</text>
<text class="sf" x="242.70" y="302.50" font-size="8.2" text-anchor="middle">sh-Col15a1</text>
<clipPath id="cg1"><rect x="195.8" y="311.6" width="97.30" height="72.90"/></clipPath>
<g clip-path="url(#cg1)">
<path d="M197.7 383.7h0m5.2-24.9h0m5.3 16h0m-5.2-10.4h0m-6.5 14.9h0m5.9-6.3h0m2.9-16.3h0m-1.6 8.8h0m-3.6-6.4h0m13 12.8h0m-14-0.4h0m-1.6 8.8h0m1-32h0m-1 18h0m1.9 5.6h0m2.9 11.1h0m-0.3-9.5h0m14.3-21.2h0m-4.6 8.2h0m-5.7 15.4h0m2.5-7.6h0m-2.2-2.6h0m5.9 4.4h0m-4.2-3.4h0m3.8 4.7h0m-4.9-2.3h0m-6.7 6.3h0m-1.7-6.2h0m9.1-0.5h0m-0.8 6.2h0m-4.6-10.8h0m-6 0.2h0m1.2 8.6h0m8.8-4.5h0m-5.1-6h0m6.6 9.7h0m-1.8 6.2h0m2.5 5h0m-5.1-10h0m-3.8-9.8h0m4.3-6.2h0m3.6 15.1h0m-3.2-8.1h0m0.2 13.7h0m-6.6-6.3h0m8.5 1.4h0m-2-10h0m-1.7 7.6h0m10.5-4.2h0m-3-9.5h0m-8.5 12.6h0m1.2-9.8h0m-5 8.1h0m2.2 14.7h0m17.6-15.4h0m-16.8 11.1h0m4.2-13.5h0m1.1-0.4h0m-2.7 2.9h0m-5.6-2.8h0m10.8-0.2h0m-11.5 7.9h0m5.7-8.7h0m-4.1 2.1h0m14.4-2.1h0m-2.5 11.5h0m-9.7-6.7h0m0.4-0.5h0m3-0.6h0m1.2 3.6h0m-2-3.2h0m-2.6 12.5h0m-3.8-7.2h0m9.3 0.2h0m0 0.1h0m-8-4.7h0m10.8-6.6h0m-7.9-1.1h0m15.9-3.3h0m-10.2 22.2h0m-10.1-12.3h0m4.9 4.8h0m-2.3-12.9h0m1.2 9.3h0m1.1-6.7h0m10 6.7h0m-11.8 11.9h0m1.4-9.4h0m-4.1 3.7h0m11.5-2.9h0m-5 0h0m-6.1 0.6h0m4.4-9.7h0m6.7 6.7h0m-9.6 12.4h0m0.9-17.8h0m9.4-4.5h0m-9.9 12.6h0m-0.7 1.6h0m-2.6 2h0m8.2-3.7h0m5.7-13.6h0m-12.3 17h0m1.4-5.9h0m4.4-1.9h0m13.6-2.3h0m-6.2-7.8h0m-3.9-0.5h0m-3.1 22.4h0m5-4.2h0m-4.1-9.5h0m-7.9-1.1h0m18.5-0.9h0m-14.8 5.4h0m3-6.7h0m-7.1 16.2h0m17.5-13.3h0m-9.8 9.3h0m-2.7-1.2h0m1.9 5.1h0m9.2-9.3h0m2.1-12.2h0m-8.4 14h0m-10 6h0m9.8-6h0m-3.3-3h0m1.1 7h0m-7.7 2.6h0m9.5-1.5h0m-9.7 0.3h0m4.1-3.6h0m-2.2-4.3h0m6.6-2.3h0m-4.2-1.4h0m0.2 13h0m10.3-12.2h0m-5.6 2.7h0m8.1-8.3h0m-14.7 17.2h0m5.5 0.3h0m6.2-12.4h0m-6.6 2.7h0m5.2-2.7h0m-2.3-1.4h0m-7.1-0.8h0m1.1 12.6h0m-2.2-2.4h0m2.1-3.1h0m-1.2-5.4h0m-0.7-4.1h0m3 9.5h0m7.3-2.8h0m-4 8.5h0m-6-14.5h0m4.9 3.5h0m7.4 1.1h0m-11.5-2.9h0m-2.9 10.8h0m7.9 7.4h0m-3.4-12.5h0m0.7 6h0m-4.6-1.3h0m2.3 5.8h0m-0.4-5.8h0m8.2-6h0m-2 3.9h0m-5.9 4h0m8.2-2.6h0m4.6 1.1h0m-14.1-9.3h0m-0.9 9.1h0m4.7-9h0m-3 8.2h0m-0.9-2.1h0m4.2 13.3h0m2.3-3.4h0m-3.8-15.4h0m-1.6 0.8h0m-3.3 10.1h0m12.6 0.2h0m-11.3-1.5h0m11.4 1.2h0m-8.9 4.3h0m4.4-30.3h0m-2.1 14.6h0m2 13h0m-7.1-21.4h0m18.7 7.9h0m-4.2 3.4h0m5.2-2.1h0m-18.9 11.4h0m0.3 0.4h0m9.4-12.9h0m1.5 6.5h0m-5.8-4.3h0m-3.6-10.3h0m9.3 11.6h0m-12.6 3.3h0m10.2-5.4h0m7-10.9h0m-12.6 10.8h0m1.7 16.6h0m-2.2-23.3h0m4 4.4h0m-5.5-1.7h0m9.3 10.1h0m-11.3-2.9h0m9.8 5.8h0m-2.9-6.7h0m-7.2-5h0m1.9 14.5h0m3.3-16.4h0m-5.6 2.8h0m6.4-1.7h0m-3.8 8.5h0m11.8-2.4h0m-10.7-8h0m6.1-2.9h0m-6.8 17.6h0m-0.2-5.6h0m0-9h0m11.7 0.2h0m-12.2 3.7h0m6.1 1.2h0m-8.4-3.1h0m7.7 15.6h0m2.3-8.5h0m-7.4-2.9h0m3.5 3.7h0m0.7 5.9h0m-4.8-11.2h0m-0.7 0.8h0m-1.5 13.5h0m1.7-12.2h0m4.1-10h0m0 10.5h0m8.2-1.1h0m-1.5-1.2h0m-1.7 9h0m-3-5.6h0m1.9 8.2h0m-1.1-16.9h0m-1.7 10.6h0m2.3-6.7h0m-2.6 3.3h0m8 7h0m-6.2-0.9h0m-4.7 0.4h0m18.1-25.6h0m-14.1 33.6h0m3-17.4h0m-8 10.4h0m7.7-3.6h0m-0.6 9.5h0m-4.1 0.8h0m5.3-5.6h0m3.5-17.4h0m-7.5 8h0m-6.5 2.1h0m0-5.5h0m7.7 14.4h0m-8.3-1.3h0m3.4 7h0m1-15.4h0m-3.3 2.1h0m5.5-2.2h0m-2.2-4.6h0m-2.5 15h0m5.1-11.4h0m4.5 3.8h0m-5 11.4h0m-0.1-7.7h0m1.7-11h0m-3.9 14.1h0m-1.7-10h0m9.7 9.1h0m-0.5-12h0m-2.3 16.4h0m-7.7-10.8h0m0.1 1.2h0m1.9 5.8h0m-0.6-1.7h0m0.8-5.6h0m1.9 11.3h0m1.7-32.2h0m4.2 15.5h0m-1.8 13.8h0m-9-15.2h0m13.4-2.5h0m-14 20.6h0m2.2-13.1h0m1-1.1h0m9.1 11h0m-6.3-12.3h0m2.4 2.6h0m9.1 1.7h0m-10.4-14.3h0m-3.7 25.6h0m-0.3-15.5h0m2.4 3h0m10.8 15.2h0m-16.3-6.3h0m4.5-15.3h0m-1.9-0.4h0m0.4 7.6h0m2.2 10.9h0m2.2-5.4h0m-3.1-13.7h0m9 7.3h0m-9.1 15.3h0m6.8-18.4h0m-8.5 7h0m5.8 1.6h0m-5.2-2.7h0m0.4-9.3h0m-3.7 20.6h0m3.8-11.9h0m-1.5 5.8h0m6.9 3.7h0m9.1-15.7h0m-4 5.5h0m1.6-16h0m-14.4 13.9h0m5 15.8h0m23.4-22.3h0m-24.1-4.8h0m9.4 20.4h0m-3.6-9h0m-1.1 4.5h0m-8.1-16.8h0m-1.2 22.6h0m13.4-4.1h0m-10.9 7.9h0m6.6-16.8h0m9.8 3.6h0m-19.7 4.5h0m0.4 4.7h0m1.1-5.4h0m7.1-6.3h0m-4.6-0.4h0m1.8-3.1h0m-1.9 19.6h0m4.8-4.6h0m-4.5-8.3h0m-2.4-4.7h0m1.5 15.9h0m1.9-7h0m1.2 4.8h0m2-3.1h0m-4.3 2.2h0m-4-7.4h0m1.1 12h0m13.2-17.7h0m-7.4 11.2h0m-4.6-1.9h0m-2.8-5.8h0m1.5 2.7h0m0.4 2.2h0m4.3-3.2h0m5.7-2.7h0m-8.7 16.2h0m0.4-7h0m14.2-8.6h0m-6.2 3.2h0m-8.4-10.2h0m7.3 10.9h0m-4.3 5.6h0m-2.8-5.5h0m12.2-1.8h0m-1.1 2.7h0m-3.1 2.6h0m-2.2 3.6h0m-5.3-6.1h0m5.8 1.3h0m-4.8 6.9h0m-1.4-10.2h0m-1.2 8.6h0m-1.9-10.4h0m6.9 9.6h0m7.4-10.2h0m-1.4 8.2h0m-12.5-5.2h0m9.1 0.1h0m-8.4-0.8h0m3.4 11.1h0m-3.3-13h0m0.7 4.4h0m13.3-20.4h0m-10.5 16.5h0m-4.7-4.1h0m7 1.5h0m-1.9 2.8h0m-1.2-5.4h0m-3.2-5.6h0m7.1 21h0m-2.2-4.9h0m-5.8-19.4h0m17.5 21.7h0m-5.9-18.3h0m-8.2 2.7h0m2-5.3h0m0.9 10.3h0m0.7 14.9h0m2.6-4.1h0m-6.9-20.5h0m13.7 7.3h0m-11.3 10.8h0m4.9-9.9h0m-1 8.5h0m-3.4-3.2h0m13.1-4.3h0m-17.6 12.2h0m11-12.5h0m-7.7 16.8h0m2.6-2.6h0m-3.7-15.8h0m2.8 0.7h0m-0.2 15.9h0m-4-12.2h0m17.6 1.7h0m-8.6 8.8h0m-6.9 0.7h0m2.9 3h0m-1.8-16h0m10 5.1h0m3.9-2.2h0m-12.2-2.9h0m-0.4 5.8h0m-3.8-7.9h0m4.5 0.2h0m-3.3 8.8h0m12.6-2.9h0m-12.5-9.4h0m6.8 6.9h0m-5.2 9.1h0m-5.3 4.3h0m5-11.1h0m6.2-2h0m-10.7 3.3h0m8.1-10h0m-6.1 7.6h0m8.5 7.6h0m-5.4-5.3h0m12.3-18.8h0m-14.6 16.3h0m14.1-1.6h0m-11.5 8.6h0m-6.1-5.8h0m7.8 5h0m-5.7 3.2h0m1.2-13.9h0m0.7-2.5h0m-1.8 12.6h0m4.9-1.2h0m4.6-6.1h0m-7.1 8.7h0m14.3-11.2h0m-8.5 9.1h0m-2.4 1h0m1.9-9.4h0m-0.9 16.7h0m11.4-10.3h0m-17.4-5.8h0m0-4.4h0m-1.3 12.2h0m9.6-2.1h0m-6.3-10.9h0m8.6 6.8h0m-3.9 12.6h0m6.6-5.5h0m-11.4-15h0m3.1 0.3h0m3 13.7h0m-6.6-13.5h0m8.6 10.1h0m-11.7-6.4h0m13.2 5.7h0m-8.5-3.8h0m7.8 2.3h0m-4.1 1.6h0m-3.8-3.3h0m10.2-1.3h0m-5.8 9.9h0m-3.6-6.8h0m0.6 3.1h0m-5-3.6h0m4.6 1.2h0m0.2-5.4h0m-6.9-3h0m-0.1 17.3h0m0.8-12.2h0m12.7 4.3h0m-10.2 10.9h0m0.1-13h0m-2 0.9h0m4.4-17.5h0m8.3 14h0m-11.8 5.8h0m-0.8-3.4h0m4.4 8.8h0m6.4-2.9h0m-12-6.6h0m5.2-5.9h0m-0.7 13.6h0m-3.5 2.7h0m12.3-18.5h0m-7 4.8h0m-1.3-2.9h0m6.7 7.6h0m-10.9 0h0m3.5 2.3h0m7.6 4.6h0m-10.6-12.7h0m-1.8 3.8h0m10.4 6.7h0m-8.4 8.6h0m8.5-19.8h0m-9.1 4.3h0m2.6-0.6h0m8.6-4.9h0m1.9 12.9h0m-7.3-15.4h0m1.2 13.1h0m0.9 3.7h0m-6.3 6.4h0m10.9-17.3h0m-11.7 10.3h0m11.4 1.3h0m-6.5-9.7h0m3 1.5h0m-7.2 1.6h0m-0.8 8h0m8.4-14.1h0m2 14.5h0m1.8-5.4h0m-12.7 10.9h0m2.7-4.4h0m5.4-0.2h0m1.2-3.1h0m-10.5-2.1h0m7.7-0.2h0m4.3-0.1h0m-2.8-3.1h0m-9.4-4.1h0m7.3 3.7h0m3.6 0.6h0m-5.9 14.1h0m2.7-16.5h0m1.5 2.8h0m-5.8 2.4h0m5.8-7.6h0m-5 8.9h0m-3.8-2.9h0m3.7-7.4h0m-3.5-0.6h0m14.7 5.5h0m-10 11.7h0m4.9-11.3h0m2.3-0.2h0m-10.7-14.7h0m5.6 23.1h0m5.7 0.8h0m-11.8-10.4h0m5.5-2.3h0m-4.5 9.1h0m-1-5.6h0m3.5-5.5h0m-3.3 8.3h0m10.3-6.6h0m-5.5-6.9h0m0.2 4.3h0m-5 13.6h0m-0.5-9.9h0m7.7-0.5h0m-3.7 8.5h0m3.4 0.8h0m-8.7-23.5h0m7.7 25.9h0m-1.9-6.3h0m1.8-4.9h0m-2.4-1h0m3-1.9h0m3.3 7.6h0m-10.5-2.3h0m-0.1 0.4h0m-0.5 8.3h0m-0.1-9.2h0m3.2 7.6h0m-1 2.4h0m10.7-6.2h0m-8.1 2.8h0m-3.7-5.5h0m8.6-4.7h0m-4.7 1h0m-4.7 12.4h0m8.2 3.5h0m-6.3-9.4h0m2.2 4.4h0m10.6-4.8h0m-10.8-4.1h0m-1.8 6.8h0m2.6-2.1h0m10.6 2.6h0m-6.2-8h0m-6.2 5.5h0m9.2 0.9h0m-2.9-3.1h0m-9 0.5h0m1.1 2.8h0m0.2-6.6h0m10.5 3.4h0m-7.5 11h0m0.8-15.9h0m-5.5-1.2h0m1.3 13.2h0m0.5-10h0m2.9 9h0m-3-15.3h0m2.6 5.2h0m1.3 9h0m-4-2.5h0m4.1-9.7h0m4.9 9.6h0m9.5-9.8h0m-11.4 9.8h0m-0.3 5.4h0m-7.8-1.9h0m2.6-4.5h0m5.4 11.5h0m-8.4-4.8h0m8-1h0m-7.9 7.2h0m11.9-15.6h0m-5.1-3.7h0m4.8 11.8h0m-5.3-11.5h0m3.1-4.2h0m-6.5 22.2h0m3.8-9.3h0m2.9-4.8h0m5.4-0.5h0m-2.3 9.5h0m6.3-23.4h0m-15.3 19.9h0m-3.1-5.6h0m5.2-15.1h0m1.8 19h0m-7.6-5.5h0m2.9 6.9h0m1.5 0.9h0m-3.4-13.2h0m7.8-12.1h0m1.2 11.4h0m-9.5 8.4h0m3.1 9h0m-1.8 0.8h0m9.5-24.4h0m-7.4 22.6h0m-0.7-26.4h0m2.8 32.5h0m-6-25h0m15.2 8.2h0m4.5-15.6h0m-20.3 17.4h0m4-3h0m5.3-1.7h0m8.2 9h0m1.2-1.3h0m-3-6.3h0m-11.3 18.6h0m6.8-9.4h0m-5.1-4.2h0m6.7 4.9h0m-9.2-9.5h0m0.8 2.7h0m-1.8 10.8h0m0.3-13h0m13.2-7.3h0m-0.8 4.4h0m-8.4 6.7h0m-0.7 3.3h0m-3.8 0.6h0m1.5-3.9h0m11.7 1.5h0m-2.7 5.2h0m-1.1 0.5h0m-8.8-9.1h0m-2.8 3.5h0m0.3 3.9h0m8.4-11.2h0m5.1-0.7h0m-13.4 5.6h0m0.9-9.4h0m1.1 14.7h0m1.8-4.2h0m5.3 0.1h0m2.4-3.6h0m0.8 7h0m-6.6 3.1h0m-1.9-9.6h0m0.2-8h0m5.1-3.6h0m-0.7 11.9h0m0.1 14h0m-6-22.4h0m17.6 4.4h0m-16.5 1.7h0m-2.7 5.2h0m9.4 5.1h0m-6.2-13.4h0m5.7 8.5h0m-3.2-2.9h0m11 11.4h0m-12-2.1h0m8.1-8.2h0m-11 0.6h0m6.1 10.9h0m-8.9-13.9h0m3.4 3.1h0m3.1 8.4h0m3.8-14.7h0m1.8 5.2h0m-1.3 8.4h0m-5.2 1.7h0m1-12h0m-5 3.5h0m5.9-0.8h0m-3 5.2h0m1.3-4.4h0m5.5-14.2h0m-1.3 20.1h0m-6.2 6.5h0m1.8-3.9h0m3.5-5.3h0m-1.3-2.7h0m-3.3-2.7h0m3.2-15.5h0m-7.3 13.4h0m11.4 5.4h0m-1.7 0.3h0m-9.4 3.9h0m2.5-3.1h0m9.2 3h0m-12.1 5h0m3.9-16.9h0m1.8 5h0m-6.3-15.3h0m8.1 26.4h0m4.3-10.4h0m-9.4 8.4h0m12.7-17.6h0m-12.1-6.2h0m1.4 8h0m11.2 6.7h0m-4.4 4h0m-9.7-5.3h0m19.3-2.5h0m-16.9 4.7h0m2.3 3.7h0m-5.7-20.7h0m8.1 10.6h0m-5.1 4.6h0m4.9-8h0m7 11h0m-9.5 4.5h0m10.7-4.4h0m-11.6-6h0m1.8 5.3h0m-4.1 10.3h0m-0.7-4.4h0m4.1 6.4h0m-2.8-9.6h0m1.6-1.4h0m-3-0.8h0m3.4 9.1h0m-3.4-23.7h0m-1.4 9.4h0m7.9 7.5h0m-6.2 1.5h0m-2.5-1.9h0m22.5-8.8h0m-20 9.2h0m-1.8-10.5h0m1-2h0m17.3 8.7h0m-14.1-4h0m0.6 11.3h0m-2.4-8.6h0m11.3-5.9h0m-9.7 7.2h0m18 0.1h0m-15.8-4.8h0m2.3 12.9h0m-6.8 4.1h0m-1.7-7.3h0m15.9-9.8h0m-8.1 5h0m-6.1-10.8h0m4.2 16.2h0m5.4-5.4h0m-12-8.3h0m10.2 4.6h0m-5.5 14.5h0m15.5-11.3h0m-11.1 11.9h0m-6.7-9h0m-2.2-7.6h0m0.7 2.4h0m-0.7-3.1h0m0.7 9.4h0m4.5 0.9h0m-4.6-4.2h0m7.6-0.4h0m1.8 8.3h0m-5.9-15.7h0m-2.6-4.7h0m-0.6 9.1h0m12.7 7.9h0m-7.6-3.2h0m2.1-6.7h0m-6.6-6h0m5.4 12h0m1.3 3.6h0m-5.4 1.3h0m2.2-0.9h0m-1.8-3.3h0m5.1-5.9h0m-2.6 13.5h0m-2.5-8.1h0m22.7-4.5h0m-9.7-3.7h0m-5.7 7.4h0m-8.3-10.2h0m0.6 8h0m3.4 6.1h0m11.3-2h0m-17.1 5.9h0m3.8-12h0m-3 13.1h0m2.4-3.2h0m-3.6-2.6h0m2.3-4.6h0m12.4-3.3h0m-9.3 2.2h0m4-7.2h0m0.6 12.3h0m6.6-7.7h0m-12.2 9.3h0m1.5-2.7h0m3.3 1.6h0m-7.4-2.9h0m-0.5 9.9h0m2.6-4h0m-4-6.1h0m1.4-4.6h0m1.3-3.1h0m14.4 2.4h0m-8.4 4.1h0m1.9 3.6h0m-9.7 11.2h0m0-19.3h0m-0.5 9h0m5.1-0.9h0m-3.7-7.8h0m2.8 9.4h0m-1.5-8h0m2.5 5.5h0m0.9 6.3h0m-5.6-0.9h0m1.2 5.7h0m11.4-16.4h0m-3.7 6.6h0m0.1 1.1h0m-9.7-14.7h0m10.2 3.7h0m-0.8 7.7h0m-2.3 4.8h0m-1.6 3.4h0m-3.4-8.7h0m2.9 1.9h0m-3.5 2.2h0m8.6-17.4h0m-10.8 5h0m2.7 5h0m3.5-10.3h0m0.9 6.6h0m8.6 8.6h0m-7 2.4h0m-2.6 3.6h0m-6.4-10.1h0m9.9-0.4h0m-8.8-13.3h0m10.9 18.8h0m-3.8-5.4h0m-3.8 10.4h0m-4.3-4.9h0m2.9-0.6h0m0-5.4h0m-0.3 9.2h0m4-8.2h0m-5.5 16.1h0m-0.7-7.7h0m3.1-17.1h0m-2.2-0.7h0m1.4 2.4h0m4 18.4h0m8.5-2.4h0m-15.3-14.9h0m16 9.7h0m-10.8-3h0m11 5.9h0m-15.8-6.5h0m0.7-5.7h0m2.5 5.8h0m12.7 7.2h0m-13-1.9h0m11-2.1h0m2.4-13.8h0m-5.8 14h0m-5.8-4.3h0m1.3 15.5h0m-3.4-14h0m-0.4 7h0m2.9-3.1h0m12.4-15.7h0m-8.3 4.8h0m-4.1 1.4h0m6.4 3.8h0m-4.3-6.1h0m0.4 18.8h0m1.1-8.5h0m-4.9-12.8h0m1.3 10.7h0m4.6 10.1h0m5.8-14.7h0m-5.6 7.3h0m11.3-3.5h0m-16.3 13.1h0m-0.5-1.4h0m1.1-4h0m3.2-6.6h0m-1.1 8.7h0m9.3-6.9h0m-14.5 13.5h0m-1-15.4h0m2.8 4h0m-3.7 8.5h0m0.4-14.7h0m-0.7 4.2h0m9.6-2.8h0m-8.1-4.2h0m19 4.5h0m-13.5-0.2h0m1.4-10.1h0m-5.4 6.2h0m0.5 13.6h0m-3.1 0.7h0m0.5 2.2h0m8.4-14.9h0m-9.5 3.8h0m8.5-4.1h0m3.1-1.6h0m-10.7-4.9h0m0 5.3h0m4.2 2.3h0m4.6 8.7h0m3.5-6.5h0m-12.5 15.3h0m0.8-6.2h0m-0.3-16.6h0m1.7-1.6h0m9.1 2.5h0m0.6 1.8h0m-7-1.3h0m-0.5 4.8h0m0.6 8.1h0m0.5-5.7h0m2.9 3.1h0m4.8-7.6h0m-13.1-2h0m7.5 4.4h0m-5.1 6.4h0m7.6-3.3h0m0.6 6.2h0m-6.8-9.6h0m3.1 9.3h0m6.4-1.3h0m0-6.6h0m-8.3 2.8h0m11-5.8h0m-10.5-4.6h0m-3-1h0m-0.6 5.7h0m12.1 3h0m-6.8 13.6h0m2.2-16.1h0m4.5-7.8h0m-7 18.7h0m-6.3-6.7h0m2.2-18.5h0m-1.9 3.4h0m5.8 3.8h0m2.6 9h0m-9.3 1.7h0m-0.7 0.3h0m4.6-3.7h0m-3.5 7.4h0m1.3-13.1h0m11.9 7.2h0m-0.4 6.6h0m-11.9 2.1h0m10.8-8.6h0m1.9 4.5h0m-1.7-3.6h0m-9.9-3h0m2 7.5h0m4.8-3.7h0m-5.1-12.3h0m11.5 2.6h0m-11.8 8.9h0m-2.5 6.5h0m9.8-12.5h0m-3.5-8.7h0m-4.9 17.4h0m-2.6 6.9h0m18.8-10.3h0m-14.3 2.7h0m-1.1-10h0m-0.5 9.5h0m-0.9 0.8h0m12.1 3.8h0m-11.8 4.1h0m3.2-12.7h0m-3.1-4.2h0m16.7 8.2h0m-3.7 3.2h0m-4.4-8.6h0m-6.8 10.2h0m-3.2-4.6h0m2.4 1.7h0m-4.2-1.6h0m6.2-6.7h0m10 2.7h0m-1.8-1.4h0m-9 1.3h0m8.5-6h0m-11.5 19.5h0m7.2-11.2h0m0.3-11.4h0m-9.5 22.4h0m1 0h0m9.3-12.4h0m-9.6 3.8h0m1.3-3.1h0m2.9 5.2h0m-1.3-5.8h0m5.2-10.8h0m-9.3-11.3h0m12.7 14.1h0m-11.5 21.9h0m3.6-18.8h0m1-5.7h0m7 17.1h0m-5.2 5.8h0m-3.8-14.1h0m4.4 10.2h0m1.4-12.4h0m-4.4 1.4h0m17 4.3h0m-19.9 3.3h0m1.3-2.1h0m0.3-4.8h0m-0.4 4.6h0m2.4 4.6h0m-1.9-3.8h0m0.3 11.4h0m-1-22.1h0m-2-2.6h0m18 0.2h0m-10.5 12.7h0m5.8 11.7h0m-12.3-13.8h0m17.6 2.7h0m-19.4-11.2h0m5.1 8.8h0m-5.7 6.2h0m15-9h0m-7.6-6.1h0m-5.5 13.3h0m3.9 0.1h0m6.8 1.8h0m-10.7-16.5h0m-0.5 14.9h0m6.1 2.7h0m-4.6-4.1h0m-2.5-0.3h0m16.4-4h0m9.4-6.1h0m-25.7-7h0m6.3 13.5h0m-1.6-0.1h0m-2.4 8.5h0m-2.1-11.1h0m4.4 1.9h0m3.9-3.6h0m1.9 4h0m6-7.5h0m-9.6 9.2h0m7.3-6.2h0m-5.3-1.9h0m-5.3 10.8h0m-2.5-4.7h0m0.3 2.1h0m-1.3 7.7h0m-0.7-5.7h0m3.7 3.5h0m0.6-10h0m0.5 0.9h0m-4.4-1.3h0m14.5 8.1h0m-13.5 3.1h0m3.8-0.5h0m12.2-5.2h0m-11.2 6.2h0m-2 0.7h0m2.4 2.2h0m-3-16.3h0m-3.4 2.3h0m18.6 5.3h0m-9.2-4.4h0m-4.2-2.3h0m-0.5 5h0m0.7 7.7h0m4 2.7h0m-2.6-2.5h0m-7-6.9h0m10.3-2h0m-4.9 8h0m-1-4.3h0m1.1-6h0m-4-1.2h0m4.5-2h0m-0.8 19.9h0m-4.3-11.3h0m9.9-0.5h0m-1.9-0.8h0m-7.9 5.6h0m3.8 0.5h0m2-8.1h0m-2-5.8h0m2.7 9.6h0m-1.1-9.5h0m-3.4 4.3h0m-1.1 10.9h0m-0.2-8.1h0m6.7 6.5h0m-8.4 6.9h0m0.7-24.4h0m6.3-5.9h0m20.7 13.4h0m-27.5-8.7h0m0.8 7.7h0m6.9 5.2h0m2.7 3.1h0m-0.4-1.9h0m-3.5 9.3h0m-3.8-14.8h0m6.4-2.8h0m0.1 10.8h0m-9.4-7h0m15.5 3h0m5.4-12.8h0m-12.9 24h0m2.3-24.1h0m-2.5-0.2h0m-5.8 26.1h0m13.2-17.1h0m-4.5 10.8h0m-4-0.2h0m-0.2-13.6h0m-2.7 18h0m5.8-13.7h0m4.3-10.9h0m-7.2 23h0m-5.4-11.3h0m-0.5 7.3h0m14 0h0m5.1-10.6h0m-13 2.6h0m0.2-8.1h0m2.6 7.7h0m-5.5-5.2h0m8.9 4.1h0m-7.3-1.5h0m1.9 13.2h0m1.3 2.9h0m6.8-15.4h0m-6.8 5.7h0m2.5-17h0m1.4 19.3h0m-8.7 1.1h0m4.3-15.7h0m-5 18.9h0m-0.6 1.4h0m7.9-4.7h0m2.3 4.8h0m0.2-1h0m-13.1-5.7h0m19.8-3.2h0m-4.7 2.2h0m-15 2.2h0m8.9 7h0m-7.2-9.2h0m1.9 0.3h0m5.6-2.8h0m2.5-2.4h0m-5 3.5h0m6.8-4.6h0m-9.6 9.1h0m2.8-4.5h0m-1-5h0m-6 11.2h0m8.6-3.4h0m4.9 0.2h0m-7.2-1.9h0m-3.8-2.4h0m-1.6-9h0m-0.7-0.2h0m13 13.5h0m-3.5-1.4h0m-2.7-8.6h0m-7.1-2.6h0m4.6 2.2h0m-1.5 14.6h0m-1.2-12.7h0m-1.1 8.7h0m-0.7 0.4h0m11.3 0.6h0m7-8.2h0m-13.1 10.5h0m-1.6-8.8h0m3-6h0m-5.8 2.8h0m1.4 9.2h0m4.3-6.6h0m0.4 15.4h0m-5.4-9.3h0m3.2-0.8h0m4.2-1.9h0m3.6 0.3h0m-9-3h0m0.1 4.5h0m9.5-2.1h0m-5.8-3.3h0m2.7-5.3h0m-9.9 17.2h0m16.2-3.6h0m-4.2-4.8h0m-9.3 11.1h0m5.7-10h0m-3.8-2.5h0m-3.1-2.1h0m1.9-8.9h0m9.2 15.3h0m-9.5-12h0m4.4 3.6h0m-3.3 14h0m3.5-10.9h0m-7.6 13.8h0m7-5h0m-0.6-5.8h0m-6-0.6h0m7 0.8h0m-6.3-0.3h0m3.1 4.7h0m0.3-3.4h0m-4.6-9.1h0m5-1.7h0m-4.2-2.7h0m5.1 11.7h0m3.7-7.4h0m-9 16.5h0m2.7-2h0m-1.5-8.5h0m6.5 11.2h0m1.3 3.5h0m-8.1-17.4h0m11.9 2.4h0m-6 4.1h0m-5.2 0.3h0m-2 6.4h0m7-5.4h0m-0.4 3.1h0m0.7-2.4h0m12.6-2.6h0m-4.7 0.9h0m-4.1-7h0m-6.3 6.2h0m-4.4-18.7h0m6.9 29.5h0m9.6-17.3h0m-16.7 6.5h0m2-0.5h0m11-20.5h0m-0.9 23h0m-9-11.4h0m-1.6-5.8h0m1.5 22.5h0m2.1-9.8h0m0.5 6.5h0m11.6-10.5h0m-16.9 0.4h0m10 1.3h0m-9.4 5.5h0m4.3-8.8h0m-2.7 18.5h0m6.3-18.9h0m-3.6 5.4h0m1.6 1.8h0m5.4 3.9h0m-8.1 1.3h0m5.9 0.4h0m-3.8-1.8h0m14.6-13.2h0m-2.1 9.1h0m1.5-5.6h0m-4.6 3h0m-14.3-19.6h0m-0.1 17.3h0m-1.7-5.8h0m2.1 19.3h0m8.6-4.5h0m-8.4 2.4h0m14.6-13.9h0m-8 5.8h0m-3.1 2h0m-1.4-22.4h0m4.5 15.5h0m-6 8.8h0m2.7-9.5h0m2.6 7.5h0m3.1 7.6h0m-1-22.3h0m-2.5 6.5h0m2.8 18.6h0m-1.7-9.5h0m-4.8-10.1h0m2.4 13.2h0m5.9 3.9h0m-4.5-10.6h0m4.9 0.8h0m-8 2.5h0m-1.7 7.6h0m0.4-13.1h0m-2.4 3.5h0m4.4 14.6h0m0.5-11.5h0m4.6 2.8h0m2.8-1.7h0m1.7-9.7h0m-14.7-13.9h0m5.6 14.7h0m-0.5 10.1h0m-3.1-1.8h0m2.4-1.6h0m0.4-4.4h0m0.2 4.4h0m-2.1 6.9h0m0.6-9.5h0m-2.1 3h0m7.5-6.4h0m-7-2h0m4.6 3.1h0m-6.9-0.9h0m3.1 11.4h0m0.7-1h0m-1.2-5.4h0m5.1-10.2h0m4.2 4.7h0m1.5 9.4h0m-11.9-1.8h0m3.9-5.6h0m4.4-5.7h0m5.4 1.1h0m-13.3 5.2h0m-0.1 4.5h0m3.5-4.4h0m-2-7.3h0m3.7 16.6h0m-4.4-18.9h0m-2.2 21.3h0m4.8-12.4h0m-1.7 10.3h0m5.8-8.9h0m8.2-4.7h0m-17.4 1.8h0m-0.1 11.5h0m7.2-2.4h0m-3.1-9.9h0m10.3 5.6h0m-13.2-3.5h0m7 5.7h0m-6.1-9h0m14.7 19.8h0m-12.3-18.2h0m4.3 1.2h0m-0.4 1.7h0m-2.9 6.7h0m-3.9-7.1h0m3.3 2.6h0m7.1-4.2h0m-12.1 7.1h0m5.4-4.2h0m2.6 2.2h0m-3.4-5.1h0m0.9 5h0m-3.6 8h0m1.9-3.7h0m5.7-11.1h0m6.2 10.3h0m-14.6-12.6h0m15.5 0.7h0m-2.3 9.5h0m-3.7 2.8h0m-1-5.8h0m-0.9 7.6h0m-0.5 2.2h0m10.5-9.3h0m-12.4-11.6h0m3.5 14.9h0m3.3-1.3h0m-10.8-0.7h0m16.6-3.7h0m-6.1 11.7h0m-12.6-11.7h0m9.2 9.3h0m-1.2-9.3h0m-5.3 0.1h0m-0.2 2.1h0m4.9 5.6h0m5.6-17.9h0m-1 7.1h0m2.3-4.2h0m-6.8 5.8h0m-0.9 3h0m-1.5-6.8h0m2.1-3.4h0m9 3.2h0m-12.8 8.9h0m12 1.5h0m-4 3.9h0m0.4-12.1h0m5.6 7.1h0m-5.2-10.6h0m-2.9 20.8h0m-0.8-21.4h0m-3.8 10.1h0m1.3-8.9h0m0.6-2.1h0m5.8 6.9h0m-9.7 4.4h0m5 7.7h0m-2.2-14.3h0m7.9 9.7h0m-4.3-3.2h0m-1.8 4.1h0m-5.2 4.5h0m8.4-6.5h0m-9.6-0.6h0m8.7-9.6h0m-2 17.5h0m1.8-6.2h0m-6.6-3.2h0m17.2-1.4h0m-19.8 12.8h0m2.7-0.9h0m1.4-16.4h0m-2.4 1h0m4.4 10.1h0m-0.2-15.2h0m-5.3 3.5h0m0.7 1.5h0m21.4-2h0m-11.5 2h0m-1.5 2h0m-7.5 6h0m3.5 3.9h0m1.2-16.7h0m-3.7 20.5h0m0.1-1.2h0m12.6-21.5h0m-6.3 5.1h0m-8.8 6.9h0m7.4-2.6h0m3.8-15.7h0m-8.8 25.7h0m-0.1-0.2h0m-1.4-13.3h0m0.3 10.5h0m6.7-17.2h0m11.5 9.8h0m-4.9-3.5h0m-13.1-1.9h0m15.7 10.7h0m-15.9 1.7h0m6.3-5.3h0m-6.2-3.3h0m3.4 14.1h0m5.5-1.4h0m-9.2-3.7h0m-0.6 5.8h0m2.8-22.6h0m2.1 8.8h0m8.2 6.5h0m-10.2-3.9h0m7.1-0.2h0m-11.6-13.4h0m7.2 0.4h0m13 11.1h0m-16.5 3.2h0m2-2.2h0m5.3-6.5h0m-2.1 12.2h0m-3.1 6.3h0m2.9-10.7h0m1.7 6.4h0m5-16.2h0m-11.9 8.3h0m-1.9-4.8h0m3.4 3.4h0m1.5 2.6h0m1-4.2h0m-4.7 16.1h0m9.9-11.7h0m-4.7 5.3h0m-4.1-10.9h0m3.5 7.6h0m-2.8 10.2h0m1.2-11.2h0m16.1-5.9h0m-6-10.1h0m-8.1 16.5h0m3.8-5.5h0m-5-8.7h0m-0.9 9.7h0m0.5 3h0m1.3 7.8h0m-3.9-0.5h0m10.8-0.2h0m-6.6-15h0m-7 13.8h0m2.2-0.6h0m4.7-16.5h0m5.4 7.1h0m-0.7 14h0m-8.7-10.6h0m-2 1.6h0m5.6-0.1h0m13.2-18.8h0m-7.9 15.6h0m-8.6 8.2h0m1.9-5.7h0m1.3 7.9h0m8.5-9.1h0m3.3 1.6h0m-18.9-1.6h0m11.2-2.2h0m-9.4-0.7h0m7.6 6.5h0m-8.1 7h0m4.4-3.5h0m0-1.4h0m0.4-6.1h0m9.1-9.2h0m-11.4-6.5h0m9.1 23.6h0m-8.3 3.9h0m3.1-10.5h0m-3.2 11.9h0m10.9-25.5h0m-11.8 23.4h0m-2.8-13.2h0m-0.1-5.2h0m15.6 15.1h0m4.6-4.9h0m-13.5-3.9h0m5.4-1.2h0m2.2 5.9h0m2.4 0.2h0m-7 7h0m-0.2-19.1h0m-3.5 18.6h0m12.4-13.1h0m-18.6 15.3h0m12-23.1h0m-12.2 5.4h0m1.3 13.2h0m3.1 0.9h0m1.5 6h0m-4.4-14.3h0m8.8 11.9h0m-5.9-9.3h0m-3.9-2.2h0m18.8 12.8h0m-16.5-15.9h0m5.2 11.1h0m11.7-9.6h0m-18.8 2.3h0m1.8-7.5h0m0.9 11.7h0m-2.3-8h0m2.7 4.1h0m-4 9.4h0m6.1-1.6h0m8.9-14.4h0m-6.5 16.1h0m2.9-4.2h0m-2.6-18.9h0m-5.1 13.2h0m3.1-12.3h0m-5.2 16.4h0m6.7-8h0m-5.8 11h0m-2.1-12h0m2.2 1.1h0m2 15.7h0m11.7-17.4h0m-10.8 11.7h0m0.1-3.4h0m3.1-1.1h0m-5.9 0.7h0m7.6-1.5h0m-5.9-10.6h0m-1.6 22.2h0m-0.1-14.2h0m-0.9-8.8h0m10 8.2h0m-6.6 1.4h0m9.2-12.1h0m-13.4 15.9h0m-0.9 8.4h0m19.9-21.3h0m-8.6 13.4h0m-9 4.1h0m4.5 2.4h0m-3.3-7.8h0m-0.1-5.1h0m3.8 6.3h0m-2.7-17.4h0m-4.3 17h0m7.1 3.1h0m12.9-11.6h0m-17.2 17.6h0m2-3.3h0m13-10.6h0m-13.8-6.3h0m7.6 16.1h0m-9.5-1.3h0m-2.3-11.4h0m11.3 4h0m-9.7-3.5h0m13.2-2.1h0m-1.4 12.4h0m-4.9-16.8h0m-8.5 1.4h0m1.6 11.1h0m3.8-3.7h0m4.9 4.7h0m-10.1 0.8h0m7.8-2.4h0m-1-11.2h0m2.8 12.5h0m-6.7-8.6h0m3.6 10.2h0m-2.4-5.5h0m-3.5 15.7h0m8-15.2h0m-3.5 7.9h0m8.2-12.6h0m-4.9 7.3h0m11.7-1.8h0m-11.6-8.7h0m-6.3 19.6h0m-0.3-24.3h0m1.7 23.8h0m4.3-10.7h0m-3.4 1.1h0m9.1-2.7h0m4.4 4.8h0m-10-7.6h0m3.5 12.4h0m-7.7-10.6h0m-2.8 5.9h0m15.6-3.6h0m-7.4 1.3h0m5.1-1.4h0m-13.1 11.1h0m-0.4-8.2h0m-1.3-1h0m2.3 2.5h0m-0.6-7.9h0m5.9-5.6h0m-7.7 23.1h0m1.4-8.8h0m6.3-4.1h0m-1.9-4.7h0m-4.4 2.9h0m2.8 13.8h0m-3.8-8.5h0m9.1 1.5h0m0.9-4.8h0m14.4-5.4h0m-24.8 15.9h0m1.5-5.3h0m2.7 1h0m-1.9-6.7h0m1.6 5.9h0m1.3-16.9h0m1.8 4.6h0m-0.5 1.7h0m-3.1 13.3h0m15.3-12.6h0m-9.1-1.1h0m-7 7.4h0m11.6-21.6h0m-4.2 17.1h0m2.1 2.2h0m-2.2-4.7h0m-7.1 16.4h0m4.7-11.8h0m-6.5 3.4h0m2-3.3h0m5.6 11.2h0m-2.1-16.6h0m1.9-7.1h0m-3 14.7h0m7.6-0.6h0m-8.3-2.1h0m3.5 4.9h0m-0.7-1.6h0m4.3-8.2h0m-11.8-2.2h0m5.5-2.2h0m-1 22.2h0m13.9-9.5h0m-18.5-8.6h0m4.4 10h0m-0.2-12.4h0m2.7 16.1h0m-6.3 0.8h0m7.1-3.5h0m-2.5-6.3h0m9.4 5.9h0m-10.9 5.8h0m-0.7-12.6h0m-1.9 5.9h0m2.2-1.3h0m7.4 3.9h0m-7.5 3.8h0m18.3-27.8h0m-7.3 9.2h0m-7.1 14.8h0m13.6-8.1h0m-16.1 2.4h0m5.1 6.5h0m-3.8-9.8h0m11.1-4.3h0m-10.3 9.4h0m-2.6-4.8h0m11.6 3.6h0m-6 2.6h0m-8.1-1h0m-1 10.6h0m10.6-18.8h0m-8.5 12h0m-0.6-5.5h0m7.5-7h0m-0.7 18.4h0m14.1-18.5h0m-20.4 15.9h0m8.9 0.5h0m-4.3-19.1h0m0.5 10.8h0m-6.7 5h0m14.3-4.4h0m-12.1 3.2h0m-0.1-13.1h0m7.3 14.1h0m-5.8-8.5h0m0 10.5h0m7.3-1.6h0m-3.5-10.2h0m-2.8 9.1h0m11.5-12.7h0m-12.8 5.4h0m-2.3 10.3h0m9.1-7.8h0m3-8.9h0m-7.8 21.2h0m-1.6-9h0m1.9-7.7h0m5.5 3h0m-8.2-8.8h0m0.1 5.8h0m-1 1.4h0m4.8 2h0m-5.7 1.2h0m7.7 1.3h0m1.1-17.6h0m0.8 22h0m-8.8 3.2h0m-1.1-13.3h0m9.1 3.9h0m-2 11.5h0m-8.7-17.8h0m4.8-0.4h0m6 5.5h0m-9.2-1.4h0m8 2.5h0m-6.8-12.3h0m-0.1 5.1h0m1-1.6h0m5.1 7.4h0m0.4-10.2h0m-1 7h0m10.3 4.1h0m-11.6-2.1h0m3.2 0.2h0m-3.4-2.5h0m-4.5 6.2h0m0.9-7.6h0m-2.3 5.2h0m5.4-2.5h0m0.4 3h0m-2.2-12.6h0m9.5 8h0m-0.7-6.1h0m-6.7 10.9h0m4-3.2h0m-2.4 6.6h0m1.5-2.5h0m1.5 1.6h0m-10.5 0.1h0m4.1 0.8h0m-4.7 7h0m3.6-4.4h0m7.5-1.6h0m-10.3-7h0m14.1-11.1h0m-7.6 5.6h0m-6.6 7.4h0m7.1-2.4h0m-4.6 6.7h0m3.2 8.7h0m-5.8-12.6h0m7.4 4.8h0m-4.3 3.6h0m8.3-19h0m-8.4 15.5h0m3.8-2.1h0m7.3-8.1h0m-8.9 11.3h0m-3.3-5.9h0m0.7-2.6h0m-1.5-6.1h0m-1.6 10.3h0m7.8-2.3h0m1.5-1.3h0m-1-2.3h0m-1.5 9.1h0m-1.5-4.9h0m3 3.2h0m-3.1 3.7h0m8.8-10.6h0m-7.1 2.4h0m10.9 4.5h0m-1.1 0.1h0m-15.6-5.2h0m7.3 4.6h0m1.9-0.5h0m-4.5 5.2h0m9.9-7.2h0m-13.5-4.6h0m5.1 1.6h0m7.4 1.4h0m-9.4 4.2h0m2.8-4h0m-8.4 1.8h0m16.6-8.3h0m-6.6 10.4h0m-7.4 11.5h0m5.6-20.9h0m3.5 9.3h0m-1.1-3h0m2.2-6.2h0m-2.6-5.8h0m-8.2 5.8h0m1.9 9.3h0m5.4-4.9h0m-6.1 7.9h0m8.1-8.8h0m-1.9 11.4h0m-8.4-12.7h0m9.8-3.2h0m-7.7 13h0m2-16.6h0m-0.5 5.6h0m0.1-4.9h0m12.6 9.7h0m-0.2 3.6h0m-11.4 11.2h0m0.3-2.4h0m-4.6-8.8h0m1.5 2.8h0m13.2 6h0m-7.6-20.5h0m-6.1 19.3h0m3.8-11.6h0m-4.5 8.6h0m5.8-17.5h0m-7.3 12.8h0m0.4-14.2h0m1.8 14.5h0m1.5-8.5h0m0.1 5.4h0m0.2-2.7h0m1.8 12.2h0m5.1-6.8h0m-6.2-1.1h0m-2.5-2.6h0m13 5.9h0m-9.4-2h0m5.6-15.4h0m5.4 15.8h0m-13-2.5h0m-3.5-1.8h0m5.5 3.5h0m8.3-4.8h0m-11.3 2h0m-1.5-1.9h0m10.6-5.4h0m-3.5-3.2h0m-3.8 12.5h0m8.8-18.5h0m-2.7 12.3h0m5 5.6h0m3.8-1.9h0m-2.4-12.6h0m-1.9 16.1h0m-15.2-8h0m16.6 0.8h0m-12.7 5.6h0m-3.6-7.9h0m9 14.1h0m8.1-2.4h0m-13.5-5.4h0m-3.1-7.7h0m8.7 18.5h0m-6.3-15h0m-3.3 10.3h0m3.8-8h0m0.4 5.6h0m14.2-9.2h0m-8.6 7.7h0m-3.4 0.7h0m-3.7-5.4h0m10.1 5.8h0m-12.1-7.4h0m6.6-12.8h0m-4.2 22.2h0m5.5-7.9h0m-4 6.8h0m1.9-4.4h0m-6-0.9h0m20.2 2.4h0m-19.2 0.3h0m17.1 0.7h0m-9.6 2.5h0m-0.8-5.3h0m-8.2 1.4h0m8.9 9.4h0m-6.3-8.1h0m-1.3-0.7h0m3.3-6.8h0m5.6-2.2h0m-5 7.6h0m-1.9-13.1h0m9 16.4h0m-0.6-3.8h0m2.7 7.8h0m-5.8 2.9h0m-1.3-29.2h0m1.4 14.7h0m-7.2 12.5h0m2.9-1h0m-0.4 0h0m-4.2-1.7h0m4.7-15.5h0m1.5 14.6h0m-2.3-5.9h0m-3.4 1.1h0m5.3-3.4h0m10.5-0.9h0m-4.7 2.8h0m-0.1 4.1h0m2-19.2h0m-9 8.6h0m1.8 1.2h0m3.6 18.8h0m-1.1-16.7h0m-5.9 1.2h0m5-1.8h0m1.6-0.9h0m-3.3 13.8h0m3.9-3.3h0m7.5-17.1h0m-17.1 17.5h0m0 0.8h0m4.3 5.7h0m5-15.6h0m-6.7 0h0m1.6 10.7h0m0.5 2.6h0m10.4-17.9h0m-12.5 10.3h0m-2.9-5.7h0m16.5 4.1h0m-15.9-2h0m4.1-2.6h0m-1.7 18.1h0m0.2-7.4h0m14.7-8.4h0m-13.8 7.3h0m9.4-2.9h0m-8.2 0.1h0m1.9-8.7h0m-1.3 11.9h0m4.1-5.1h0m-5.6 11.2h0m2.6-1h0m-5.5-5.7h0m10.4-5h0m-0.2 5.8h0m-5.4-6.7h0m4.9-6.7h0m-6.5 12h0m1.4 0.1h0m3.2 0.5h0m3.9-0.8h0m-1-4h0m-8.5-7h0m-0.3-9.5h0m-3.3 16h0m5.6-1.1h0m-1.8-7.9h0m0.4 21.1h0m-3.5-2.7h0m1.5-14.7h0m14.1-2.7h0m-1.8 15.8h0m-4.5-4.7h0m-6.5-3.3h0m4.5-18.4h0m-4.6 26.4h0m-2.3-9.2h0m4.2 8.6h0m-0.8-13.9h0m2.2 7.8h0m-0.7-3.9h0m1.1 4.3h0m1.1-3.1h0m-4.6 10.4h0m-2.3-14.3h0m18.4 1.1h0m-16.7 13.9h0m-1.8-0.7h0m10.2-16.2h0m11.8-4.5h0m-17 13.6h0m6.8 5.4h0m-0.6 2.1h0m-0.2-7.2h0m-11.5-15.4h0m0.5 17h0m2.6 4.1h0m3.9-8.7h0m2.5 9.1h0m-7.9 6.8h0m-0.7-11.4h0m11.9-7.5h0m-3.2 16.2h0m-7.7-6.7h0m0.6-4.9h0m2.5 13.3h0m-5.6-4.4h0m4.9-7.8h0m11.5 0.5h0m-4.7 8.7h0m6.1-14.1h0m-10.1 5.9h0m6 2.3h0m-6.8 2.8h0m-7-15.5h0m7 3.9h0m-6.3 5.8h0m4.6-2.9h0m-0.9 2.1h0m-0.1-3h0m5.2 2.8h0m-1 3.2h0m-0.6-4.3h0m-2.4-9.4h0m-3.7 9.9h0m2.8 3.7h0m9.5-17.3h0m-14 13h0m11-9h0m-9.7 15.4h0m0.6-10.7h0m5 5.6h0m5.6 4.2h0m-3.1-15.4h0m-0.5 6.8h0m-4.4 1.4h0m7 7.6h0m-10.6 8.4h0m15.9-17.8h0m-12.7 12.4h0m-3.5 1.2h0m0.1-12.2h0m0.7-4.2h0m5.6-2.7h0m-6.2 3.5h0m3.3 10.3h0m0.6-2h0m9.7-0.9h0m-5.2 10.2h0m-2.7-7.6h0m-5.6-4.7h0m6.6 1.5h0m-0.6 0.4h0m9.8 3.2h0m-8.2 3h0m-8.9-8.8h0m7.1-1.7h0m-4.2 0.2h0m15.4 8.3h0m-11.3-3.2h0m-1.7 6.5h0m-3.4-2.1h0m9.2-13.6h0m-4.8 12.4h0m-1.6-8.8h0m4.6 4.1h0m-8.8 10.4h0m2.5-13.1h0m-0.7 4.9h0m11-3.8h0m2.4-4h0m-4.7 5.7h0m-7.4-3.3h0m11.9-0.3h0m6 0.4h0m-17.6 8.7h0m0.2-5.9h0m17.6-1.6h0m-4.2-0.4h0m-13.2 13.4h0m-4.2-7.4h0m1.1 0.1h0m7.1-2.9h0m-5.2-10.9h0m7.2 9h0m-9.6-2.8h0m0.5-2h0m4.3 13.3h0m7.4-18.1h0m-9.7 2.6h0m13.5 11.5h0m-15.8-16.6h0m2.1 9.4h0m7.7-5.9h0m-7.6 17.9h0m9.8-6h0m-11.9-3.8h0m4.3-8.2h0m4.8 3.7h0m0-7.1h0m3.7 15.6h0m-10 11.3h0m-0.3-26.1h0m0.8 13.1h0m5.8-6.3h0m-3.7 7h0m-0.9-3.2h0m-5.2-12.1h0m21.6 13.3h0m-17.6 3.4h0m3.5-0.2h0m-6.2-3.4h0m1.5 14.8h0m4.5-14.8h0m1 6.8h0m-1.6-9.9h0m-2.1-14h0m-2.2 28.3h0m-1.2-18.5h0m10.4 6.7h0m-8.1 0h0m-3 6.2h0m10-9h0m-2.3 13.4h0m1.9-7.9h0m-9.2-11.7h0m5.8 9.4h0m-4.4-4.5h0m-1.7 19.5h0m4.1-4.9h0m-3.4-2.1h0m-1.1 0.4h0m1.2-12.2h0m0.7 4.2h0m1.7 7.8h0m-3.1-10.6h0m4.1 13h0m-1.4-15.8h0m10.6 6.8h0m-11.4 4.2h0m2.4-7.4h0m0.2 4.8h0m-2.1 6.5h0m4.6 2.3h0m-7.4-3.1h0m14.2-6.1h0m-8.9 9.2h0m1.9-5.4h0m-4.2-9.8h0m6.4 5.3h0m-0.5-2.5h0m-3.7 9.4h0m-3.4 6.3h0m5.2-21.1h0m6.8 13.3h0m-9.9-8.7h0m-1.3 14h0m3.2-6.1h0m-6.3-24.7h0m9.1 21.9h0m9.8-6.9h0m-17.5 15.2h0m-1-3.3h0m9.5-5.6h0m-8.4-4.4h0m6.8 4.3h0m-6.3-9.3h0m-0.2-0.5h0m16 8.2h0m-1.8-8.5h0m-12.5-9.5h0m6.2 13.8h0m-7 0.5h0m-2.2-2.2h0m11.3 10.1h0m-4-0.9h0m6.1 1.1h0m-7.7-9.2h0m5.1 14.8h0m-5.5-8.1h0m1.4-9.6h0m4.3-4.4h0m0.9 8h0m-1.5 3.7h0m-10.4 4.3h0m1.9-11.3h0m6 3.7h0m10.9-0.5h0m-7.1-0.2h0m-7.1 2.7h0m6.5-4h0m-3.4-5.4h0m-7.7 18.5h0m1.5-3.3h0m3.2 4.4h0m-4.9-10.9h0m6 4.9h0m-4.1-13.6h0m0.3 14.1h0m-2.4-12.2h0m17.9 5.5h0m-10.4 4.6h0m-2.9 3.6h0m4.8 6.3h0m-9.2-13.3h0m8.2-12.3h0m2.5 11.8h0m-6.3 8h0m-4.7-8.9h0m2.3 8.4h0m1.5 6.3h0m-1.5 0.1h0m2.9-8.1h0m-4.3-6h0m-0.2 11.8h0m10.9-22.4h0m-2.5 10.9h0m-3 0.2h0m-4.2-3.7h0m-1.3 14.5h0m17.9-25.3h0m-14.1 24.9h0m2.6-7.8h0m-5.3 4.4h0m1.6-1.8h0m1 7.1h0m13.8-9.6h0m-9.2 12.2h0m-6.3-3h0m3.6 2.7h0m-2.6-22.7h0m3.9 10.5h0m-6.2 4.9h0m10.2-6h0m1.2 4.9h0m-3.2-6.7h0m1.5 4h0m-10.9 0.4h0m13.2-13.7h0m-8.2-0.4h0m-2.5 10.1h0m8.5 11.1h0m-1.9-10.2h0m-7.3 3h0m23.9-5h0m-20.7 10.4h0m2.7-5.4h0m-2.1-4h0m0.2-4.8h0m6.9-1.9h0m-6.7 16.5h0m2.8-8.3h0m7.6 5.4h0m-13-10.4h0m7.6-2.7h0m-1.8 3.1h0m-5.2 6h0m2.6 8h0m5.2-20.5h0m-3.8 13.3h0m1.3 7.6h0m-6-7.8h0m-0.8 5.3h0m2.9-8h0m-2.7 6.8h0m1-13.6h0m16.8 5.9h0m-16.8-0.8h0m9.3 7.5h0m1.3-6.1h0m-8.2-4.3h0m-2 6.3h0m4.6-10.7h0m-8.8 17.9h0m7.7 1.2h0m13.7-8h0m-18.4 9.2h0m2 2.9h0m3.5-24.3h0m1 19.1h0m-1.4-16.9h0m-0.9 16.7h0m-1.5-17.6h0m1.6 11.6h0m8 1.1h0m-13 2.5h0m0.7 1.3h0m-2.7-15.9h0m9.3 19.4h0m-7.3-3.3h0m10-6.8h0m-9.9-3.5h0m1.8 7.4h0m-0.1-4.9h0m6.6 7.6h0m-0.9 4h0m5-10.6h0m-5.5 8.3h0m-8.9-10.2h0m1.3 6.3h0m5.5-6.5h0m-7 16.8h0m0.3-9.5h0m14.8-0.7h0m-8.6-6h0m-6 9.6h0m1-6.4h0m3.3-1.4h0m-3.5 1.7h0m2.7-13.5h0m12.5 10.3h0m-7.5-5.4h0m-0.4 19.5h0m6.4-27.6h0m-13.6 5.5h0m8 4h0m-1.6-13.5h0m-7.9 7.6h0m9.6-1.3h0m0.9 10.3h0m-5.8 1.5h0m9 0.7h0m-4.1 10.2h0m11.6-9.5h0m-16.2 9.8h0m6.8-8.2h0m0.1-13.9h0m-3.9 9.1h0m0-3.5h0m-1.5 6.9h0m1.5 7.6h0m-2.8-4.9h0m6.9 1.7h0m-10.2-10.3h0m2.9 2.5h0m9.2 2h0m-12.7 15.4h0m10.2-7.7h0m-3.8-7.3h0m-7.5 2.5h0m0.4 10.2h0m7.5-19.5h0m2.4 15.1h0m4.9-17.6h0m-9.8 23.6h0m-2.9-16.1h0m-1.8 2.2h0m3.7-2.2h0m0.7 11.6h0m6.9-13.5h0m-10.7 16.8h0m7.6-12.7h0m5.4-9.4h0m-10.3 6.3h0m0 2h0m13.9 5.7h0m-10.5-7.7h0m-2.9 6.3h0m17.5-7.7h0m-12.6 2.8h0m0.2-1.5h0m-2.3 12.5h0m0.9-21.8h0m-7.1 20.3h0m5.1-7.8h0m3.5-4.8h0m-1.1 11.7h0m-6.6-18h0m2.9-2.2h0m-4.8 12.6h0m0.9 15.4h0m14-10.5h0m-8-7.4h0m-5.9 5.5h0m-0.1-7.9h0m7.3 11.2h0m-6.2-2.7h0m6.2 8.2h0m0.3-5h0m-3.7-6.3h0m4.1 4.4h0m-0.7 2.4h0m0.2-4h0m11.6-7.1h0m-16.9 6.3h0m4.3-4.3h0m2.5 6.2h0m-0.7-13.2h0m-5.1 21.2h0m-3.7-8.5h0m10-14.3h0m-7.2 5h0m-3.3 1.4h0m14.7 1.6h0m1.9 2.2h0m-16.6 2.5h0m11.9 3.9h0m-2.1 0.6h0m-5.2 6.5h0m-1.8-10h0m8.3-0.2h0m15.7-6.5h0m-21.4 8.7h0m-3.3-10.5h0m11.2 10.4h0m2.8-4.4h0m-12.2-13.6h0m1.4 1.4h0m-3.4 5.3h0m-0.5 0.8h0m9.1 16.4h0m-9.9-1.7h0m-0.5-11.6h0m9.5-2.9h0m-6.9 8h0m11.6-2.5h0m-12.9 4h0m16.3-14.9h0m-15.3 16.7h0m-1.5 4.7h0m4.7-8.2h0m-1.7 5.4h0m0.9 5.7h0m0.3-27.7h0m6.9 15.5h0m-7.6 0.2h0m12-11.5h0m4.2 18.8h0m-18.9-14h0m9-16h0m-5.6 26.4h0m-4.9-5.1h0m11.4-12.6h0m-10.5 19.3h0m6.6-23.4h0m3.2 16.2h0m-2.6-2.1h0m-4.8 0.8h0m4.1 9.9h0m-5-7.7h0m-1.1-3.8h0m4.9 8.8h0m-1.9-15.4h0m2.7 10.5h0m4.4-4.2h0m-1.1 4.5h0m-4-3.6h0m-4.9-8.7h0m5 26.2h0m9.4-29.9h0m3.8 14.2h0m-2.5-2.9h0m-8.5 3.8h0m-3.7 4.9h0m1.7-9.8h0m-7.2-1.4h0m9.7-3.6h0m-8.2 13.7h0m1.5-8.3h0m8.1-7.7h0m-2.5 19.6h0m-3.3-7.4h0m-5.2 1h0m1.8 7.5h0m5.6-11.2h0m1.8 11.1h0m0.3-12.9h0m7-5.1h0m-6.8 17.4h0m10.6-10.1h0m-3 5.2h0m-16.8-5.7h0m9.9 12.9h0m-10.4 3.9h0m6.6-15.9h0m-1.6 7.7h0m-3.2-6.6h0m4.7-4.6h0m5.1 3.8h0m-3 1.2h0m0.2-6.4h0m0.8-8h0m-7.6 3.7h0m4.8 16.4h0m-1.9-7.7h0m1.8-13.5h0m-6.5 11.6h0m6.3 9.4h0m4.9-1.1h0m0.8-9.1h0m-3.1-1h0m-5.5 13.7h0m-3.6 2.1h0m3.6-7.9h0m8.6 3.4h0m-9.2-8h0m8.7 12.5h0m-10.5-7.1h0m-0.7-4.5h0m3 15.3h0m7.5-24h0m3.4 16.6h0m-8.4-0.2h0m4-12.4h0m-7.7 6.3h0m3.8-4.6h0m11.7 4.4h0m-14.9 15.5h0m-0.6-16h0m7.1 1.4h0m10.4-6h0m-19.6-5.3h0m12.3 15.6h0m1.1-10.2h0m-9.9 7.4h0m6.2-4.1h0m-8.8 16.1h0m15.4-17.5h0m-13.6 14.5h0m4.3-5.2h0m-2.5-15.5h0m0.2 5.2h0m17.8 1.1h0m-20.6 7.3h0m3.6-2.9h0m2.7 12.3h0m-6.3-18.7h0m2.7 9.8h0m-3.6-8.6h0m2.8 2.3h0m-1.4 16.9h0m-0.8-14h0m1-2.8h0m13.9 7h0m-15.1-5.4h0m9.2 10.3h0m-4-3.7h0m-6.8 7.4h0m6.7-17.4h0m3.2-6.9h0m-5.9 24.8h0m1.9-12.4h0m-0.8-11.5h0m-0.2 9.6h0m-4.3 4.7h0m3.4-11.7h0m2.3-6.1h0m-3.4 10.7h0m5.6 2.2h0m-5.1 11.3h0m17.5-12.1h0m-20.9 6.4h0m11 5.2h0m-8.3-5.3h0m-0.9-11.9h0m0.6 2.9h0m2.8-4.2h0m-0.1 9.6h0m-1.8-3h0m2.6 0h0m-0.1 2.8h0m3 4.4h0m0.9-11.7h0m0.9 6.7h0m-6.8 5.5h0m-3.4-7.2h0m4.5-19h0m1.7 16.6h0m1.6 11h0m-6.3-13h0m1.7 11.6h0m25.8-10.4h0m-21.9-4h0m1.2 13.8h0m12.5 0.9h0m-18.9 5.9h0m4.4-9.6h0m-5.3 3.5h0m0.7-4.6h0m11.4-0.2h0m-10 9.4h0m2.6 3h0m-2.5-0.7h0m1.9-18.4h0m6.6 4.6h0m-11.8 6.4h0m4.2-5.6h0m-2.7 10.8h0m1.5-0.3h0m5.6-6.5h0m-2.2-3.8h0m2.3 2.7h0m3.2 0.9h0m-10.6-16.9h0m1.1 11.2h0m3.4 2.5h0m9.2-9.1h0m-14.5 13h0m7 7.7h0m10.5-12h0m-10.1 7.1h0m7.9-8.1h0m-11.2 15.1h0m-1.4-18.7h0m9.7 8.7h0m-0.7-15.3h0m-8.7 16.7h0m1.4-9.1h0m-0.1 4.8h0m2.7 7.7h0m-0.3-4.8h0m-4.2-12.8h0m1.8 12.2h0m-1.6 6h0m12.6-10.1h0m-14.3-7.2h0m2.7 0.6h0m4.8 9.1h0m-8.4 9.9h0m16-19.5h0m-15.2 17h0m12.1-9.8h0m1.6 0.4h0m-14 4.3h0m5 3h0m-2.5-29.5h0m1.4 26.5h0m-2.7-3.2h0m-0.8 9h0m3.3-1h0m-4.4 4.3h0m9.8-31.2h0m0.8 10.5h0m-1.6 2.3h0m-8.9 11h0m2.8 4.6h0m1-1.4h0m-0.2-18.9h0m-0.5 21.5h0m-1.5-0.5h0m10.6-13.6h0m1.4 2.8h0m-6.4 4.5h0m-3.8-5.4h0m-1.3-2.4h0m7.7-10.1h0m-5.1 8h0m-4.7 10.2h0m8.1 3.2h0m1.4-7.9h0m2.7-7h0m-7.7 10.3h0m-4.8-0.9h0m1.5 0.9h0m2.6-5.2h0m15.9-2.8h0m-17.4 15.9h0m-3-5.1h0m6.8-5.2h0m-1.2 6.6h0m-0.4-9.7h0m0.4 11.3h0m0.9 4.5h0m-3.9-13.4h0m-0.7-7.3h0m-1.1 17.2h0m1.8-9.7h0m7.3-0.1h0m0.3-1.8h0m-4.6 11.4h0m-1.9-13h0m13.7 6.2h0m-13.5-5.6h0m-4 3.1h0m6.7 3.2h0m9.7-6.6h0m-15.4 8.1h0m15.2-3.9h0m-3.5-3h0m-0.1-4.4h0m-9.6 6.3h0m6.4 2.5h0m7.2-14.7h0m-12.1 20.9h0m7.4-7.1h0m-7.2 7.6h0m7.6-14.7h0m1.7 5.1h0m-11.6-3.4h0m-2.1 11.2h0m9.9-11.4h0m-3.9 3.7h0m-0.5-9.3h0m0.3 8.2h0m-0.1-4.5h0m4.5 15.6h0m-6.9-11.5h0m-3.2-1.6h0m4.7 0.6h0m-3-8.7h0m8.6 6.3h0m0.9-3.7h0m-11.6 19.9h0m11.3-9.4h0m5.3-0.6h0m-8.8 3.9h0m-7 3.8h0m13.4-22.3h0m-13.4 11.1h0m4.7 6.2h0m-3.6-5h0m2.5-6.1h0m-3.3-5.5h0m11 6.7h0m-7.3-1h0m6 9.4h0m-4.6-20h0m-6.1 18.4h0m8.4-3.2h0m-7.7-5.9h0m2.1 11.1h0m14.3-3.1h0m-6.5 10.9h0m-6.9-1.4h0m6.1-4h0m-9.1-21.8h0m-0.9 8.1h0m10.7-6.7h0m-9 11.8h0m15.7 5.3h0m-3.4 5.2h0m-10.5-9.6h0m-1.3 6.7h0m3.5-6.1h0m-1.3 5.4h0m-2.9-2.9h0m1.6 3.7h0m5.6 3.2h0m-0.3 4.1h0m-1.8 2.2h0m-0.7-8.2h0m-1.2-5.7h0m0.1-1.6h0m0.5 2.3h0m-1.2 1.9h0m7.5-9.8h0m-2.5 2h0m2.5 8.3h0m-5.3-4h0m-5.3 6.5h0m7.1-12.3h0m-5.4 16.1h0m7.8-9.6h0m1.5-6h0m-9 4.8h0m4.8-1.5h0m-6-4.2h0m0.8 11.8h0m-0.6-13.3h0m8 18.3h0m-6.2-22.3h0m2.2 0.4h0m-2.8 17.5h0m3.9 0.5h0m-4.4-5.5h0m-1 5.4h0m5.3-13.2h0m-4.6 5.2h0m-2.1-1.6h0m0.5 7.2h0m9.8 6.3h0m-7.5 1.6h0m4.1-2h0m-4.5-2.4h0m0.9-5.8h0m-2.4 4.6h0m2.2-2.8h0m6-9.6h0m-8.9 18.7h0m0.7-4.8h0m-1-10.5h0m10.6 6.7h0m6.4-1.5h0m0.4-2.6h0m-1.7-7.5h0m-11 8.3h0m2.2-2.2h0m-1.6 1.4h0m1.1-1.8h0m-0.8 5.9h0m7.4-4.6h0m-7.2 0.8h0m-2.2 2h0m0.1-4.5h0m0.7-5.6h0m-3.1 14.6h0m2.7-6.1h0m-1.6-2.7h0m7.9 2.6h0m11.2 0.7h0m-16-3.8h0m10.8 1.2h0m0.1-1.4h0m-10.8 16.6h0m-1-14.6h0m17.6-1h0m-18.6-10.5h0m5.9 22.8h0m-5.3-29.5h0m-1.5 8.9h0m3.3 9.5h0m4.7-3.2h0m-7.8 9.8h0m6.8-12h0m-8.2 10.6h0m4.3-4.6h0m3.9-7.6h0m-9.7 12.4h0m7.7-16.7h0m-3.9 5.1h0m-3.4 3.6h0m10.7 2.7h0m-10.7-1.1h0m4.6 5.8h0m9.8-7.2h0m-7.6 9.6h0m-2.2-1.5h0m8.2-6.9h0m-7 10.8h0m-5-3.7h0m0.5-2.1h0m15.4-19.8h0m-5 10.6h0m-9.8 2.9h0m-1.3 9.4h0m5.2-1.3h0m5.1-9.4h0m-8.7 10.3h0m13.4-17.2h0m-13 18.2h0m16.5-12.2h0m-9.9 5.5h0m4.8-2.3h0m-12.8 16h0m-0.2-8.3h0m9.1-3.4h0m0.5 4.4h0m-7.1 5.4h0m6.9-4.1h0m-9.7-10.8h0m11.5 7.6h0m-4.7-5.1h0m4.8-1.9h0m-5.2 1.3h0m-7.4 6.3h0m12-3.6h0m-0.5 4.6h0m-4-10.9h0m-1.9 3.8h0m-2.1-9.3h0m7.3 15.3h0m-6.3 8h0m2.5-30.6h0m1.8 26.7h0m-3.3-8.6h0m2.8-0.8h0m-1.5-6.6h0m2.8 9.1h0m-3.2-12.3h0m0 3.5h0m0.1 14.7h0m-1.4-9h0m-2.5 6h0m8.1-6.8h0m12.3 1.1h0m-19 8h0m1.8-11.9h0m-5.6 7.6h0m13.7 4.3h0m4.4-11.2h0m-11.7 16.2h0m2.7-19.4h0m0.4 16.1h0m0.7-12.6h0m1.2 12.2h0m-4.3 4h0m-2.6-10.2h0m-0.2-3.6h0m0.9 8.4h0m-3-5h0m-2.4-8.7h0m-0.3 10.2h0m12.1-7.4h0m-3.3 3.3h0m-7.8 5.2h0m0.7-3.9h0m2.5 9.1h0m1.3-10.3h0m9.2-13.7h0m-12.3 10.4h0m0.5 7.1h0m-0.3-16.1h0m11.4 16.3h0m-13.8-2.3h0m8.7-1h0m-7.6-5.9h0m0.6 1.7h0m8.3 10h0m-8.6-8.8h0m12.6 5.7h0m3.5-11.7h0m-3.6-7.8h0m-11.3 15.2h0m8-5.4h0m-3.8-1.2h0m-5.6 14.9h0m2.3-8.5h0m0.3 14.6h0m-2.5-16.7h0m12.3 3.5h0m-9.1 8.5h0m-2.4-13.5h0m0 8.3h0m8.5-25.7h0m5.3 23.9h0m-9.6-8.8h0m1.6-6.5h0m-7.2 4.2h0m5.8 19.4h0m-1.1-9.2h0m0.8 6.8h0m5.8-6.6h0m-11.1 5.2h0m8.5-4.7h0m-1.1-5.1h0m-6.2-4h0m1.3 3.2h0m2 7.1h0m-2.1 11.5h0m7.6-8.6h0m-10.3 4.1h0m-0.1-22.1h0m11.5 7h0m3.8-9.4h0m-15.8 20.2h0m14.6-10.7h0m-6.6-0.4h0m-5.6-9.2h0m1.7 27.4h0m-0.3-14.7h0m-0.8 3.6h0m0.5 7.7h0m5.1-11.4h0m-3.2-2.7h0m-4.9 2.9h0m11.1 10.6h0m-8.4-14.7h0m-0.7 4.7h0m1.8-2.5h0m6.2 1.2h0m-3.4 12.6h0m4.1-24.3h0m-7.6 20.9h0m-0.4-6.7h0m5.3 5.1h0m-0.5 4.5h0m-3.7-4.2h0m5.8 4.8h0m-1.6-9.8h0m-7.5-4.2h0m5.1 15.1h0m-3.1-10.7h0m4.8-4.6h0m0.4-1.3h0m9.5 8.1h0m-16.1 1.6h0m7-4.5h0m-6.1 8.4h0m7.7-0.9h0m-5.1-10.1h0m5 11.2h0m-6.5-7.8h0m7.5 6.5h0m-5.8-21.1h0m-3.9 22.8h0m1.5-7.4h0m10.5-0.1h0m0.5 0.1h0m-7.6-0.8h0m4.6-1.7h0m5.5-3.2h0m-4.8 13.7h0m-6.8-16.9h0m7.8 5.7h0m-2.1 7.2h0m4.7-3.9h0m-14.4 2.2h0m14.8-7.9h0m-10.3 1.4h0m4.7 4.4h0m-7.2 8.3h0m4.7-10.1h0m-0.6 8.8h0m-4.6 0.6h0m1.1-11.2h0m1.8 14.2h0m7.6-14.3h0m-11.6-13.3h0m3.1 18h0m7.8-21.1h0m-6.5 25.4h0m7.3-1.3h0m-1.5-2.4h0m-7.9 0.1h0m2.3-5.2h0m1.9-22.1h0m2.8 30.8h0m0.7-14.5h0m1.9 15.1h0m4.7-14.8h0m-12 18.4h0m2-7.3h0m-7.7-3.5h0m21 1.5h0m-8.3 3h0m-5.6 1.2h0m2.4-0.4h0m-2.1-6.4h0m-5.3 3.1h0m-1.8-11h0m15.4 5h0m-7.2-19.9h0m12.4 25.5h0m-15.2 5.9h0m3.8 0.8h0m-4.8-9.2h0m2.8-11.8h0m3.8 8.4h0m-9 2.4h0m0.6 16.2h0m3.3-24.5h0m-2.7 10.3h0m-3.6-5.9h0m12.5 13.9h0m-10.3-11.3h0m7.7-13.1h0m7.4 21.6h0m-17.3-19h0m5.4 25.1h0m-3-10.2h0m3.7 5.4h0m2.5-16.8h0m-6.4 5.1h0m9.3-4.7h0m-8.4 5.2h0m4-1.6h0m-0.9 18.4h0m1.1-27.6h0m9.7-1.7h0m-12.7 23.9h0m21.3-9.8h0m-15.6 12.6h0m0.9-11.6h0m-1.8-4.3h0m-1.4 4.3h0m1.6 9.4h0m-9.2-9.1h0m13.7 6.6h0m-12.2-2.8h0m-0.2-11.6h0m3.8 14.2h0m-3.4 1.3h0m4.3-10.1h0m0.5 10.8h0m5.3-21.8h0m-9.5 13.2h0m-0.9 7.6h0m15.1-8.8h0m-14.1-0.5h0m-1.4 1h0m7.8-6h0m2.3 6.3h0m-8.1 6.9h0m2.6-3.6h0m5.8-5.3h0m1.3 0.5h0m-6.2 7.1h0m-3.6-5.7h0m5.1-8.5h0m-7.6 15.3h0m5.4-8.3h0m-3.5-6.4h0m0.4 9.9h0m1.1-16.1h0m11.2 20.5h0m-3.8-4.8h0m6.6-19.6h0m-7.3 17.1h0m-4.4 8.5h0m0.3-18.3h0m9.3 10.7h0m5-1.8h0m-7.1 1.6h0m-10.8-0.1h0m-2.4 3.6h0m9.1-11.8h0m5.5-4.3h0m-11.4 12.1h0m7.8-7.4h0m-7.5 11.1h0m3.2 13.5h0m0.3-11.9h0m-6.3 7.9h0m8.4-7.4h0m3.5 3.4h0m-13.2 7.8h0m3.1-18h0m-1.6-2.9h0m7.7 7.5h0m-7.8 4.9h0m1-3.8h0m4-4.2h0m2.4-3.8h0m-1.5 7h0m1.6-4.6h0m-6.2 7h0m-1.2-4.6h0m0.6-11.5h0m2.1-6h0m-1.2 7.6h0m7.5 8.5h0m-8.1 10.8h0m8.8-19.5h0m-4.7 19.5h0m3.6-5.2h0m5.2 3.3h0m-3.6-0.6h0m-5.2-2.2h0m-1-3.5h0m9.6-4.8h0m-11.7 0.1h0m1.6-11.5h0m-4.6 17.8h0m5.4-5.9h0m-5.4 7.6h0m11.6-1.3h0m-6.8 8.5h0m4.6-9.7h0m1.6-4.9h0m-2.7-4.4h0m-8.1 9.2h0m-0.1 3.5h0m1.3 7.8h0m2.8-24.9h0m1.3-3.1h0m-3.4 12.1h0m2 12.3h0m6.4-14.6h0m-10.7-3.2h0m3.5 4.5h0m21.4-0.3h0m-20.5 2.4h0m-1 2.6h0m-3.3 0.6h0m10.1 10.9h0m-0.4-12.1h0m-6.8-2h0m3.1 16.5h0m-4.7-6.4h0m0.4 0.4h0m1.4-11.6h0m-3-16.2h0m4 20.5h0m2.5-7h0m-0.2-1.5h0m-2.1 7.2h0m8.2-2.2h0m-8.1 9h0m-1.8-9.3h0m11.3 5.6h0m4.1-8.9h0m-6.6-2.9h0m-6.7 11.9h0m-2.2-9.2h0m9.5 0.4h0m-11.8 5.2h0m18.6-11.9h0m-7.2 18.8h0m-11.1-8.2h0m9.9 11h0m-5.9-7.5h0m-1.5-6.2h0m2.8 14.1h0m5.5-10.7h0m-0.4 0h0m2.6-0.4h0m-9.2 8.8h0m9.9 0.8h0m-5.9-17.9h0m-5.3 11h0m6.1 1h0m1.7 8.6h0m3.5-15h0m-5.3 4.1h0m-5.4 3.9h0m2.2-13.4h0m6.2 7.8h0m-9.8-5.2h0m7.8 11.8h0m-10.1 6h0m8.6-9.8h0m2 3h0" fill="none" stroke="#f01010" stroke-width="0.75" stroke-linecap="round" opacity="0.85"/>
<path d="M202.1 364.6h0m-2.7 5h0m-0.7-9.5h0m3.9 10.4h0m-3-1.6h0m1.2 7.1h0m-4.6-0.3h0m10.6-1.1h0m-3.3-17.6h0m-7 14.7h0m1.6-7.1h0m11.7 6.9h0m24.7-16.6h0m-30 1.2h0m10.7 17h0m-15.6-20.4h0m-1.6 8.6h0m20.9 4.7h0m-14.8 10.5h0m3.3-10.1h0m-2.2 5.1h0m14.9-13.3h0m-17.3 5.9h0m4.7 12.3h0m5.5-24.3h0m-14 5.5h0m12.7 11.6h0m-12.1 5h0m16-8.4h0m-12.2 10.8h0m7.6-35.5h0m-7.5 29.4h0m0.1-3.8h0m3.1 3.4h0m9.8-18.1h0m-5.2 18.8h0m-6.8 1.1h0m-1.7-7.5h0m20.7-0.2h0m2.5 2.6h0m2-6.8h0m-25 17.7h0m11-19.5h0m-17.3 16.7h0m27.1-18.3h0m7.8 0.5h0m-28.8 11.3h0m-4.5-3.4h0m-0.2 9.6h0m0.9-10.8h0m2.3-5.5h0m-1.3 3.7h0m13.7-1.6h0m-3 6.2h0m-14.1-4.3h0m7-1.7h0m16.4 1.1h0m-20.8 1.3h0m10.3-3.8h0m-11.7 17.8h0m-1.2-12.7h0m13.1 8.5h0m-7.9 5.9h0m2.2-16.1h0m10.4 8.8h0m9.6-18.7h0m-25.7 11.3h0m13.5 2.6h0m12.6-3.6h0m-20.6 17.5h0m-6.8 0.8h0m4.6-3.2h0m-5.3 1h0m16.5-4.6h0m-12.8-3.9h0m-2.3 1.8h0m17.1 0.1h0m-16.7-11.1h0m6 13.1h0m-5.5-6.4h0m7.1 13.5h0m3.4-21.7h0m-6.5 6.3h0m-5-0.8h0m8.1-12.6h0m9.9 21.7h0m-19.4-4.1h0m7.9-13.9h0m4.7 2.5h0m-6.3 4.6h0m-0.8 3.9h0m-1.7-13.7h0m0.9-6.3h0m28.3 10.6h0m-23.4 3.3h0m-9.7 5.9h0m0.6 1.5h0m11.9-16h0m10.3 12.4h0m-22.2-5.1h0m1.5 20.9h0m7.8-5.1h0m0.1-8.5h0m25.3-6.5h0m-32.7 21.9h0m18.7-34.8h0m-20 25.1h0m1.2-24.5h0m2.6 26.7h0m17.4-18h0m-15.8 20.5h0m11.6-15.9h0m-13.9 6.9h0m10.4-6.9h0m-3.6 15.9h0m-1.1 0.9h0m-7.3 0.5h0m19.3-18h0m-17.6 23h0m-2.3-4.4h0m23.1-29.5h0m-11.5 12.2h0m6.9 10.2h0m-10.2-10.8h0m12.1 4.6h0m-12.3-0.3h0m6.5 3.7h0m-15.2 2.4h0m12.2 5.3h0m3.9-3.9h0m-5.5-1h0m-6.5-11.2h0m-5 14.7h0m6.5-6h0m18.9-9h0m-16.7 4.3h0m-7.6 5.3h0m3.1-0.1h0m8.8-13.3h0m-3.5 2.1h0m-9.7 15.4h0m6.6-20.6h0m14.8 5h0m-20.8 11.4h0m23-1.1h0m-7.9-3.4h0m-9.2 5.8h0m5.4 0.9h0m-7.5-11.3h0m0 0.5h0m5.7-7h0m1 13.6h0m-6.5 8.4h0m18.8-24.5h0m7.1 8.3h0m-6.7-1.6h0m-22.4 5.3h0m11.2-6.3h0m-8.1 2.1h0m3.6 14.7h0m-8.5-14.7h0m16.9 5h0m-12.2 1.7h0m-3.4 3.4h0m2.2-15.1h0m-0.9 8.9h0m11.4 0h0m-12.6 6.4h0m5.4 3.9h0m7.1-14.6h0m-7.4 6h0m-5 14.4h0m14.2-19.8h0m0-4.2h0m-15.7-2h0m2.9 9.7h0m-0.2-0.3h0m-0.1 2.6h0m8.8-3h0m2 6.2h0m-11.1 9.2h0m7.5-23.1h0m-7.9 24.5h0m12.7-19.9h0m-3 17.4h0m-9-8.2h0m-2.7 6.6h0m6.2-14.2h0m-3.8 8.7h0m22.5 5.3h0m-21.5-11.3h0m10.2-18.3h0m11.3 21.9h0m-11.7 0.7h0m-11.6-17.5h0m13.2 15.9h0m-4.4-8h0m9.3 5.2h0m-11.3-3.7h0m12.9-2.5h0m-15.3 11h0m10.5-2.9h0m-10.4 6.3h0m-1.6-5.4h0m7-16.3h0m-6.4-1.4h0m3.3 26.6h0m4.7-5.7h0m-10.7-1h0m1.3-5.6h0m6.2 18.2h0m1.5-16.4h0m1.2 2h0m2.7-18h0m-2.7 5.6h0m-8.4 8h0m2.7 17.5h0m3.9-19.8h0m-3.6 7.2h0m12.5-5h0m-13.5 0.2h0m16.2 3.8h0m-11.6 0.8h0m15.5-4.9h0m-15.8 6h0m-0.2-13.8h0m-8.4 16h0m16.4-3.6h0m-5.1-9h0m-9.7 9.6h0m1.2-3.4h0m15-3.1h0m-19.2 16.1h0m2-13.1h0m25.3 0.1h0m-21.2-17.2h0m-4.6 20.1h0m8.9 8.5h0m16.7-39.8h0m-14.1 35.3h0m-8.1-2.2h0m1.8 1.2h0m5.7-11.7h0m-4.4 3.9h0m-0.9-1.2h0m-3 12h0m14-3.3h0m-16.5 3.6h0m8.1 1.7h0m-10.1 3.5h0m17.3-17.2h0m1.5 0h0m-14.1-1.6h0m9.2 11.2h0m1.1-11.7h0m-13.8 16.7h0m2.2-20.2h0m-3.2 14.5h0m11.4 0.3h0m5.6-10.8h0m-4.8 2.9h0m-6.2-5.6h0m-4.7 13.9h0m9 0.5h0m8.7-5.6h0m-12.5 14.4h0m4-15.4h0m9.1-6.1h0m-19.5-11.5h0m2.1 1.8h0m2.2 11.5h0m8.9 10.2h0m-10.5-7h0m18.3-4.2h0m-19-6.5h0m-1.6 17.2h0m2 2.8h0m7.6-20.4h0m4.9 4.4h0m4.5 6.9h0m-15.4 0.3h0m4.9-1h0m-4.5-0.2h0m3.2-16.1h0m-6.3 34.5h0m15.8-12.9h0m-13 0.1h0m15.1-2.3h0m-18.2-3.3h0m11.7 0.7h0m-12.1 0.1h0m9.9 9h0m2.3-11.1h0m-5.6-1.1h0m-1.9-6.5h0m6.9 3h0m3.8 0.7h0m-11.6-7.2h0m-3.2 19.2h0m4.3 7.9h0m-0.8-5h0m6.9-11.5h0m-9.2-0.9h0m11.7 9.8h0m3.6-21.8h0m-14.1 25.6h0m12.4-18.4h0m-6 10.1h0m4.2-0.8h0m-9 1.9h0m-4.5-7h0m0.4 7.3h0m10.2 1.1h0m11-7.5h0m-13.5 3.5h0m1.4 14.5h0m-1.1-4.2h0m0.5-9.9h0m-0.2 6.8h0m-9.7-10.6h0m8.7 10.9h0m11.8-10.7h0m-0.9-0.7h0m3.2 15.3h0m-7.9-11.4h0m-8.7 4.9h0m-3.7-4.9h0m13.7 4.2h0m-15.5-3.2h0m22-1.9h0m-10.9 9.6h0m-3.8-19.4h0m9.1 9.9h0m-16.8 11.2h0m1.9 5.8h0m1.2-0.2h0m5-20.4h0m-6.4 2.9h0m5-2.7h0m-3.6 9.6h0m0.5-10.3h0m7.9-0.1h0m-7.7-1.8h0m1.3 16.7h0m1.4 7.9h0m1.5-17h0m31.1-21.8h0m-31.9 26.1h0m9.7-6.3h0m1.9-14.3h0m-17.9 23.9h0m4.2 10.4h0m4.6-24.9h0m-5.6 6.9h0m-0.6 3.8h0m6.1 3h0m-1.4 5.7h0m9.3-8.4h0m-17.3 0.8h0m6.5-13.7h0m-0.4 20.8h0m10.7-15.5h0m-13.3 14.5h0m20.2-9.5h0m-1.6-2.9h0m-18.9 3.2h0m2.4-1.4h0m-1.1 2.2h0m11.4-6.2h0m-14.7-2.3h0m5.5 11.6h0m4.6 2.9h0m3.4-35.1h0m-15.3 31.3h0m3.4-12.7h0m1.1 5.9h0m-3.4 7.6h0m3.7-12h0m9.2 2.6h0m1.1 4.7h0m-12.6-5.4h0m9.7-1h0m-0.4-0.3h0m-7.9 22.4h0m-1.3-22.1h0m2.4-2.3h0m2.9 4.7h0m4.9 17.7h0m2.9-9.4h0m14.6-6.9h0m-27.6 4.4h0m17.9-4.5h0m-18.4 7.5h0m1.1-3.3h0m16.4 2.7h0m-9.3-0.3h0m-9.2-13.4h0m24.1-4.6h0m-16.8 14.2h0m0.2-6.7h0m-8.5 5.1h0m2.7 7.9h0m2.3-8h0m12.9 1.7h0m-13.2-16.7h0m1.2 16.5h0m16.7 10.2h0m-20.7-4h0m4.8-12.3h0m0.5 11.9h0m0.5 10.2h0m12.8-18.3h0m-18.9-0.9h0m4-15h0m-2 35.6h0m10.6-20.5h0m9.5 2.6h0m-11.7 8.2h0m-5.6-13.3h0m2.5 9h0m1.3-1.5h0m-1.7-3.3h0m6.2-5.3h0m-1.2 12.6h0m13.3-18h0m-20.3 21.4h0m2.5-0.4h0m-7.9-11.1h0m14.9 1.4h0m10.9 1.3h0m-26.2 13.8h0m2.2-15.9h0m15.5-10.2h0m-16.2 16.9h0m-1.6-0.5h0m1 0.2h0m16.5-2.9h0m-6.6 0.1h0m-2.8-0.2h0m4.8-0.4h0m4-1.2h0m1.4-2.4h0m-1.2 6.3h0m-14.3-4.5h0m-1.5 3h0m18.7-12h0m-13.9-9.5h0m2.9 22.5h0m10.6-3.8h0m0.6 3.1h0m-13.5-0.9h0m-3.6-11.1h0m-1.8 21.4h0m6.9-9.9h0m-6.8 1.8h0m0.9-1.5h0m0.5 6.9h0m-2.5-4.6h0m13.7 8.2h0m3.2-15.8h0m5.1-11h0m-11.9 12.6h0m0.9 6.8h0m3.4-8h0m-6.8 2.9h0m-1.9-3h0m8.3-9.5h0m-7.3 15.7h0m9.4 2.1h0m-10.3-10.6h0m-3.2 0.8h0m-0.3 10.8h0m7.5-1.1h0m-4 8.4h0m0.9-3h0m8.5-7.1h0m2.4-15.1h0m-8.6 26.5h0m-4.2-7.3h0m10.1-10.5h0m-11.3-9.7h0m1.5 11.5h0m13.1-13.9h0m-15.9 14.6h0m9.5-15.8h0m5 21.2h0m-7.3-6.6h0m15.3 7.8h0m-17.4 0.5h0m7.6-14.3h0m-11.6 7.6h0m10.9-4.6h0m1.1 7.1h0m-7.7-12.9h0m5.9 16h0m0.9 3.5h0m11.3-16.4h0m-22.4 2.1h0m-0.7 21.4h0m0.1-17.8h0m-3.4 16.3h0m13.8-15.2h0m-9-2.6h0m6.7-0.6h0m-1.4 6h0m2.8-2.8h0m5.9-11.2h0m-8.1 16.2h0m-10.5 4h0m5.9-0.8h0m-4.7-12.5h0m4.6-1.6h0m18.7-4.2h0m-4.4 6.7h0m-9.3 12.2h0m-5.2-19.3h0m15.9 16.6h0m-15.8-11.6h0m-0.6 9.4h0m8.9-2.2h0m-8.9 11.4h0m1.7-10.4h0m7 4.5h0m-1.5-9.7h0m-0.7 4.3h0m-3.6 1.1h0m9.3 6.1h0m3.7-14.7h0m-14.8 8.3h0m4.8 2.2h0m-0.2-21.5h0m-7.9 11.6h0m15.5-11.2h0m-16.6 5.4h0m9.1 25.8h0m10.6-0.6h0m-1.4-19.8h0m-2.6-0.6h0m-11.6-1.2h0m-3.2 8.9h0m12.6-7.7h0m5-6h0m1.7 8.4h0m-14.7-1h0m-2.8 1.2h0m13.9 3.8h0m-0.4-14.8h0m-10 5.2h0m-6.4 18.9h0m3.1-12h0m-0.9 3.2h0m-4 5.8h0m16.2-0.1h0m-15.7-4.9h0m2.5 5.6h0m13.5-22h0m-5.1 12.9h0m-2.2 12.8h0m10.2-22.1h0m-2.8 8h0m-14.3 2.7h0m-0.2 13.6h0m0-19.4h0m6.7-0.6h0m22.2-6.1h0m-16.3 18.1h0m-7 3.4h0m2.8-23.8h0m-2.5 19.7h0m4.6 11h0m2.5-15.4h0m0.6 4.5h0m-14.9-11.9h0m1.6 6.6h0m17.8-16h0m-15.4 9.9h0m7.6-3h0m-11.6 4.7h0m-1.1 5.8h0m16.5-0.7h0m-10.5-4.6h0m14.6-2.6h0m1.5 6.8h0m-21.1 3.3h0m13.7 2.4h0m8.7-6.3h0m-4 4.4h0m-9.7-2.4h0m20.2-3.7h0m-15.4 5.5h0m1.8 2.3h0m-13-5.7h0m15.9-6h0m-19 15.7h0m1.9-6.2h0m3.5 9.2h0m1.5-7.7h0m0.5 9.4h0m4.7-2.4h0m-10.8-11.6h0m1.6-10.4h0m16.8-0.7h0m-5.1 15.9h0m5.3-10.7h0m-6.1-5.4h0m-6.8 10.5h0m-4.3-1.9h0m-1.3 15.1h0m10.9-21.1h0m-7.4 11.5h0m12.6-13.3h0m-9.6 21h0m-6.2-19.8h0m5.7 4.2h0m-1.3 17.2h0m3.4-9.4h0m-7.3 5.1h0m1.4-13.2h0m7.7 17.8h0m-7.7-20h0m5.6 11h0m-6.9 3.5h0m10.1-20.5h0m4 10.9h0m-12.2 14.9h0m15.4-14.2h0m-6.5 5.2h0m-9.6-12.6h0m-0.9 12.5h0m3.1 6.5h0m6.5-18.9h0m9.3-3.9h0m-17.6 5.3h0m-2.7 3.7h0m-0.2 9.8h0m6.8-12h0m3.6 3.9h0m-7.6 5h0m-3-7.4h0m1.2 6.7h0m13.8-9.5h0m-15.2 8.7h0m-0.1 1.6h0m1.8 0.2h0m4.6-8.2h0m3.4-7.6h0m-1.1 9.3h0m-7.2-0.5h0m19.7-5.8h0m-21.3 23.3h0m0.4-8.6h0m7.9 11.2h0m-2.8-7.8h0m-1.5-19.2h0m11 7h0m-5.4 11.8h0m20.5-16.3h0m-21.3 14.7h0m-2.9 1.2h0m-6.2-9.3h0m1.6-5.5h0m12.1 5.3h0m-7-2.2h0m1.8-1.5h0m-5.7 2.2h0m-1.7 17.7h0m-0.1-25.9h0m17.4 5.7h0m-10.5 3.5h0m3.5 3.8h0m-10.7-4.2h0m8.5 7h0m-7.3-1.3h0m8.3 10.4h0m-2.3-13h0m12.1-6.3h0m-18.8-10.7h0m23.7 14.3h0m0.9-8.8h0m-4.7 10.6h0m-6.4-17.8h0m-10 29.9h0m-2.8-22.2h0m10.5 15.9h0m7-1h0m-2 3.5h0m-10.4-19.7h0m2.2 13h0m4 1.4h0m11-12.7h0m-7.9 17.7h0m-15-4.6h0m12.4-5.1h0m14.1-0.5h0m-8.3-9.7h0m-6.7 14h0m-8.4 4.2h0m4.4-3.1h0m2.3-10.5h0m21.6-0.1h0m-23.4 8.9h0m2.8-5.3h0m2 9.4h0m-4.5-4.1h0m1 1.8h0m11.3-13.2h0m-16.9 4.8h0m5.1 17.1h0m24-15.9h0m-30.4-7.7h0m-1 11.1h0m10.3 7.1h0m-1.3-2.9h0m5.8 1.7h0m-9.1-12.3h0m-3.6 1.2h0m7 4.5h0m-10.4 4.7h0m9.2-6.6h0m10.2-3.6h0m-6.5 11.6h0m0.5-8.7h0m-15.1-0.9h0m0 3h0m1 9h0m-0.9-17.5h0m11.3 14.4h0m-5.6-7h0m9.2 1.2h0m-7.8 12.7h0m-3.6-2.2h0m12.5-6.2h0m-7.1 5.6h0m-6.9-7.9h0m11.4-9.9h0m-8.7 9.7h0m-1.5 8.3h0m-1.6-7h0m11.3 8.7h0m-0.2 1.5h0m8-14h0m5.5 4.2h0m-24.8 0.4h0m16.1-1.5h0m-15.5-0.3h0m2.6 10.5h0m3.6-27.7h0m-1.3 15.1h0m5.9-10.2h0m17.4 6h0m-20.1 2.9h0m3.3-12h0m-6.9 8.5h0m3.8-4.1h0m7.2 9.5h0m-5.8 2h0m-9.4-14.8h0m0.7 21.7h0m11.8-12.3h0m-3.8 16.6h0m0.1-20h0m0-1.8h0m3.5 6h0m-12.6 13.1h0m1.6-16.2h0m3.9 18.4h0m-6.5-13.9h0m5.9 0.3h0m-1-10.9h0m-3.9 14.7h0m1.3-12.7h0m4.6 14.9h0m4.5 8.3h0m-9.7 3.7h0m3.4-4.1h0m15.3 2.9h0m-10-10.1h0m-0.2-10.1h0m1.4 7.9h0m-9.5 0.4h0m8-0.7h0m6.2-12h0m-5 4.6h0m8.3-3.5h0m-17.2 15.8h0m10-5.9h0m-5.8-8.2h0m-7.5 14.7h0m26.8-5.4h0m-22.4 6.6h0m0.5-0.5h0m9.8-7.1h0m14.6-6.4h0m-15.8 10.2h0m-8.3-8.6h0m6.6 8h0m-3.4-7.4h0m16.9 4.3h0m-23-11.7h0m0 7h0m1.1 5.8h0m20.3 0.2h0m-24 0.1h0m15.5-1.5h0m-4-4.4h0m-7.1 6.5h0m8.2 1.4h0m-7.6-7.3h0m13.2 5.2h0m-1.1 2.4h0m-17.1-4.4h0m9.7 14.8h0m21.9-26.2h0m-28.6-1.7h0m7.6 9h0m7.9 8.4h0m-10.9-8.2h0m1.5 14.5h0m-5.3-12h0m3.2-0.5h0m7.2-5.1h0m3.2 17.1h0m-5.5-14.7h0m-9.8 5.1h0m7.7 8.1h0m-7-12h0m8.8-8.7h0m5.5 6.7h0m1.6-14.9h0m-17.8 19.6h0m14-2.1h0m2.2 8h0m1.6-9.6h0m-9.2-2.7h0m-5.3 6.4h0m20.8-3.9h0m-16.6-9.5h0m20.2 10.3h0m-15.4 14.8h0m-5.2-26.9h0m-1.9 10.2h0m-1.5 4.9h0m14.3-6.5h0m1.8 10h0m-14.7 0.8h0m7.9-12.6h0m2.2 17.8h0m5.2-6.7h0m-16.8 1.4h0m2.4 0.3h0m1.5-1.8h0m-7.7 1.6h0m32.2-9.1h0m-31.3 7h0m11.3-5.6h0m-5.9 4.6h0m0.7 17h0m4.4-21.6h0m-2.1 4h0m-10.1 2.9h0m2.5-1.4h0m37.7-9.5h0m-32-6.9h0m2 12.4h0m-7.9 13.3h0m7.1-12.4h0m3.4 0.5h0m6.5 8.5h0m-19.2 0.3h0m10.3 6.6h0m3-16.9h0m-12.8 2h0m7.8-3.3h0m11.6 5.7h0m-9.1 7.9h0m-9-7h0m11.5-8.5h0m3.6-1.1h0m-0.5 12.9h0m-4.5-16.4h0m2.2 25.3h0m-12.7-20.5h0m4.5 0.2h0m-0.4 11.6h0m10.9-9.2h0m17.4 3.4h0m-23.5-15.4h0m-9.8 27.7h0m13.9-17.2h0m1.7 3.5h0m-11.5 8.2h0m0.6 3.5h0m-2.2-1.2h0m14.1-6.8h0m-4 3.1h0m0.1-2h0m8.5-6h0m-20.3 1.7h0m5.5-18.5h0m3.2 22h0m5.6 8h0m-10.6-6.5h0m-0.7-14.3h0m2.4 4h0m4.2 12.6h0m-2.7-13.6h0m29.2 22.6h0m-16.9-10.6h0m-20.4-14.6h0m25.5 5.4h0m-22.9 8.4h0m5.5-10.2h0m-2.3 16.2h0m-5.5-11.7h0m1.1-6.4h0m4.8 1.8h0m12.5-1.2h0m-9.8 19.6h0m-7.2-14.6h0m13.3 9.2h0m-3.8-17.1h0m10.3 10h0m-18.2-1.6h0m5.8 1.8h0m-8.2-0.6h0m15.2 7.5h0m-11.4-14.4h0m4.2-4h0m2.7 3.5h0m9.2 7.9h0m0.8 5.6h0m-14.5-14.6h0m-0.4 10.4h0m-6.7-14h0m5.2 26.1h0m-1.3 3.3h0m19.3-15.6h0m-12.2 7.1h0m2.9-23.7h0m8.9 2.9h0m-16.8 5.1h0m11 8.7h0m-7.9-1.4h0m10.1 10.1h0m-8.3-14.9h0m2 2.6h0m-11.1 3.9h0m8.5-12.3h0m-1.3 2h0m-0.6 7.5h0m1-5.6h0m-7.1 5.1h0m11.7-7.5h0m-6.7 7.5h0m-3.7 1.3h0m10.7 5.7h0m-5.7-20.7h0m-3.6 21.9h0m10.2-2.4h0m-8.1-0.5h0m12.9 2.1h0m-13.6-17.8h0m-3.8 9.5h0m4.3 20.4h0m11.9-25.8h0m-3.2 13.4h0m-3.6 1.3h0m-0.5-15.5h0m8.8 10.4h0m-10.6-15.2h0m-1.7 27.2h0m2.1-24.7h0m2 12.7h0m-7.5 14h0m10.8-30.8h0m-2.2 12.5h0m20.1-8.2h0m-7.3-6.8h0m-24.6 18.8h0m2.2-1.4h0m7.9-4.6h0m-1.8 12.6h0m-5.2-21.3h0m11.8 29.4h0m-5.1-10.8h0m0.3 7.6h0m-7.8-17.5h0m4.1-3.3h0m-2.8 6.9h0m-4.3 8.3h0m5-7.5h0m8-8.4h0m-1.7 17h0m-0.5-3.5h0m2.9-5.4h0m3.7 1.3h0m3.6-4.1h0m-14.4 10.7h0m-6.5 1.8h0m4.3-6.1h0m0.9-4.5h0m-1.7 0.2h0m-4.2 4.8h0m5.5-16.7h0m-1.5 5.5h0m9.2 19.5h0m-6.4 0.8h0m-1.2-14h0m7.9-8.4h0m3.8 18.9h0m-16.2-6.7h0m7.7-0.7h0m-7.9-12.9h0m6.1 13.1h0m-4.5 5.7h0m4.1-6.5h0m-5.3 8.5h0m26.4-17.5h0m-20.8 7.7h0m-4-8.5h0m5.3 18.4h0m18-28.7h0m-22.7 5.9h0m-3.5 17.6h0m26.8-4.8h0m-24 3.4h0m6.6-8.9h0m-9.7 11.2h0m4-9.6h0m11.6 6.7h0m-10.4-4.5h0m0.2 9.2h0m4.6-14.5h0m5.6 10.9h0m-7.8-6.2h0m2.1 3.6h0m16.9-0.2h0m-11.2 5.6h0m-13.1-0.9h0m12.1-3h0m-10.1 6.1h0m0-3h0m4.3-14.3h0m-5.1 2h0m3.5-7.3h0m5.1 2.5h0m9.9 5h0m-20.4-7.4h0m0.8 11.4h0m13.7 6.8h0m-16.3-15.6h0m9.1 14.1h0m14.4 0.9h0m-15.1-5.4h0m-3.8-9.4h0m12.2 17.4h0m-3.2-12.5h0m-9.3 16.4h0m-3.1-9.1h0m0.7 3.3h0m9.5-10h0m-2.6 7.8h0m3.2 1.1h0m6.5-6.1h0m-15.5-12.5h0m21.1 0.3h0m-22.3 9.8h0m7.7 11.4h0m4.3 5.7h0m-0.4-6.1h0m-9.3 2.3h0m-3.8-7.5h0m4.2-4.3h0m12.6 0.8h0m-14.5 0.7h0m0.6-0.3h0m-2.3 3.3h0m2.4 3.5h0m9.3-6.9h0m4.6 11.9h0m2.7-13.1h0m-9.6 11h0m-6.6 7.1h0m9-11.3h0m-3.5-4.4h0m10.2-1.5h0m-0.1 2.7h0m-11.8 0.8h0m2.7 0.8h0m1.2 12.6h0m1.7-25.4h0m0 19.7h0m3.1-7.4h0m-7.4 4h0m4.6 0.2h0m-8.6 1.3h0m4.9-11.7h0m1.8 19.5h0m-5.6-7.3h0m3.8-5.1h0m-1.4-13.9h0m-4.6 11.3h0m20.3-12.4h0m-22.8-4.7h0m2.9 17.2h0m2.3-19.1h0m-0.4 8.4h0m1.6-4.9h0m15 13.1h0m-5.4-4.8h0m0-3.9h0m-9.5 2.7h0m0.1-10.5h0m0.8 2.5h0m-1.1 11.7h0m9 13.8h0m9.6-8h0m-7.1-10.5h0m-0.8 0.9h0m-17.2-2h0m2.2 2.8h0m8.9-6.1h0m1.2 4.4h0m-10.5 8.4h0m-1.4-7.2h0m10.9 16.2h0m3.3-21.9h0m2.4-0.9h0m-14.3-3.6h0m-0.8 16.2h0m-2.5 1.5h0m7.8-6.6h0m7.2 12.7h0m-12.9-7h0m12.2-18.2h0m-2.1 17.4h0m-4.9-18.7h0m-6.2 20.6h0m-1.1 5.9h0m8.7-23.2h0m5.5 11.8h0m-8.4 7.4h0m-1.6-6.6h0m2.7-6.8h0m5.6 3.7h0m8.1 1.2h0m-17.1 2.9h0m-2.6-10h0m8-2.6h0m-8.6 16.9h0m7.1-2.1h0m-0.2-11.2h0m11.4 1.5h0m-6.3 7h0m-9.4-19.9h0m16.3 10h0m1.7 7h0m1.7 6.9h0m-10.9-5h0m0.1-10.5h0m3.6 1.5h0m-9.5 4.9h0m1.9 5.2h0m2.2-14.8h0m-5.9 14.7h0m4.7-6.7h0m3.7-4.8h0m-12 0.7h0m11.1-5.2h0m5.4 12.8h0m-7.2-6.7h0m13.9-2.2h0m-19.3 12.8h0m2.5 0.2h0m12.2-7.4h0m-17.8 7.3h0m12.9-3.9h0m2.5 1.7h0m-5.5-11.2h0m-3.7 14.8h0m-2.8 0.8h0m-1-0.4h0m-0.3 5h0m9.1-14.9h0m-5.9-4h0m5.8 4.3h0m17.4 1.9h0m-17.5-12.2h0m-0.7 9h0m5.6-0.5h0m-10.8 4.6h0m-0.8 6.4h0m-1.5-4.5h0m-2.5 0.2h0m4.9 10.5h0m1.4-13h0m7.7 2.6h0m-4-1.4h0m16.1 2.3h0m-22.9-6.4h0m4.2 2.8h0m-4.3 14.3h0m1.2-24.3h0m-3.6 7.6h0m10.1-11.2h0m-8.9 14.5h0m1.6 2.9h0m23.2-0.3h0m1.8 3.6h0m-17.4 1.7h0m-11.9 3.1h0m18.1-7.9h0m-5.4 0.8h0m-9.4 1.7h0m3.4 8.5h0m5.7-27.8h0m-6 15.9h0m9.8-7.5h0m-13.1 1.8h0m0.2-1.9h0m3.9 9.4h0m9.1-2.2h0m-8.5 0.8h0m-0.1-9.2h0m-7.7 21.3h0m5.5-7.2h0m5-9.4h0m-9.2-6.7h0m6.8 3.3h0m17-6.8h0m-15.6 8h0m-5.8-4.8h0m7.7 6.1h0m-9.6 8.3h0m2.7-15.6h0m6.4-4h0m-8.5 3.4h0m7.1 7.2h0m-4.4-6.9h0m0.2 6.8h0m1.3 5.7h0m-4.7 1.5h0m4.4 6h0m1.7-2.7h0m-1-21h0m-3 3.5h0m13.2 15.6h0m-12.5 0.1h0m15.7 2h0m-16.6-9.2h0m12.9 12.1h0m-14.9-14h0m-1.8 5.2h0m2.5 17.1h0m2.3-15.5h0m0.3-7.4h0m11.1 7.7h0m-5.7-10.5h0m10.1-2.5h0m-11 9.3h0m-8.7 2.7h0m23.6-3.1h0m-15.5 8.1h0m-2.7-9.1h0m5-6.1h0m5.6 13.3h0m-13.4-12.2h0m7.5 2.6h0m-5.6 4.2h0m0.4 4.5h0m-5.4-3.3h0m7.7 17.5h0m-1.6-23.8h0m-3.4 2.2h0m13.6 0.1h0m-6 3.5h0m-9.6 0.9h0m22.7-20h0m-17.3 29.7h0m18.3-6.1h0m-11.8-1.1h0m-2.7-3.2h0m-7.8-11.1h0m1.4 8.3h0m16.4-2.9h0m-15.8-3.6h0m0.5 3h0m14.6 10.9h0m-3-7.1h0m-13.8 3.5h0m16.3-0.5h0m-11.1-5.3h0m-1.7 3.1h0m0 8.9h0m19-15h0m-22 2.6h0m10.9 0.6h0m-0.5 17.8h0m-10.7-22.3h0m7.9 11.3h0m3.5-3.2h0m3.6 15h0m-13.4-28.7h0m11.8 17h0m5.2 9.7h0m-17.9-20.7h0m25.1 2.5h0m-25.3 5.7h0m-1.5-3.7h0m7.9-4.3h0m-10.9 10.1h0m0-4.8h0m2.9 8.4h0m-2.8-9.7h0m11.2 1.4h0m-6.3 5.3h0m2.8-11.4h0m-2.6 6h0m4.6-10.4h0m-7.9 2.2h0m5.7 9.2h0m-7 9.2h0m3.7-4.8h0m5-9.7h0m9.9 11.6h0m-12.6-4.3h0m7.5 7.8h0m-8.1-15.8h0m1 1.2h0m-0.6 19.3h0m-0.2-17.4h0m-1.1 6.5h0m-1.8-3.5h0m1.2 2.3h0m25.2-5h0m-11.3 9.4h0m-16.2-5.1h0m10.8 0.4h0m-0.1-0.4h0m-3.4 4.7h0m-7-13.4h0m-2.2 8.4h0m4-1.2h0m2.5 8.8h0m0.8-1.4h0m0.8-3.2h0m-0.3 5.4h0m-7.5-4.5h0m3.7-9.5h0m13.2 1h0m-14.8 9.4h0m23.2-6.5h0m-16.8 15.2h0m3-22.4h0m-11.4 4.5h0m6.8-3.2h0m4.6-1.4h0m-1.1 12.2h0m18.3-3.8h0m-21.7 2.6h0m4.5 0.8h0m-1.3-3.6h0m-10.6 13.4h0m11.8-11.5h0m13.3-4.9h0m-11.5 10.6h0m-11.8-20h0m8.8 8.3h0m-1-3h0m-8.2 5.4h0m2.4-6.7h0m-4.2 16.6h0m14.4-14.2h0m-13.4-3.1h0m5.6 13.7h0m12.2 3.4h0m-12.3-6h0m7.5-3.3h0m0.9-2.2h0m-1.5 0.5h0m-3.8-4.8h0m-6.6 4.5h0m4.5 9.3h0m-0.5-5.6h0m4.5-24.5h0m-4.6 17h0m4.1-0.5h0m3.8 12.1h0m-11.8-10.3h0m14.7 22.6h0m-7.2-13.2h0m-2.4-8.3h0m1.4 3.1h0m12.1 4.4h0m-12.8-22.3h0m-1.2 36.1h0m6.1-20.8h0m-7.2 3.5h0m-4 1.2h0m18.3-1.6h0m-15 3.6h0m10.3-3.4h0m-5.4-6.6h0m-7.2 15.4h0m6.9-19.8h0m-3.5 17.8h0m12.8 5.2h0m-13.4-9.4h0m2.4-3.5h0m-5.3-0.4h0m18.6-6.4h0m-14.1-0.2h0m0.9-1.6h0m-8.7 7.8h0m29.3 5.9h0m-23.9-0.5h0m14.3-8.1h0m-7.2 8.5h0m-6.4 8.7h0m-1.6-1h0m6.2-16.5h0m-3.1 18h0m-3.7-10.9h0m-0.8 8.5h0m2.7-8.5h0m3.6-21.8h0m7.5 35.9h0m-9.5-12h0m-6.5 13.7h0m9.7-17h0m-2.6-0.9h0m3.3-18.7h0m-7.5 26.8h0m-3.7-3.9h0m4-9.4h0m-0.4 16.2h0m17.9-3.9h0m-14.5 0.7h0m-5.7-4h0m16.2 5.4h0m-12.1 3.7h0m12.5-20.4h0m-16.7 21.4h0m4.5-14.9h0m-4.1 2.2h0m1.2 1.7h0m5.8-5.5h0m-5.7 8h0m7.1-1.4h0m9.4 3.4h0m-11.5-0.7h0m2.7-6.8h0m-10.2-6h0m13.4 0h0m-8.1 16h0m14.7 0.2h0m-14.5-8.7h0m-3.3-6.2h0m5.7 9.9h0m0.1-6.2h0m-1.3-12.1h0m8.1 12.4h0m-1.9-12.3h0m-10.4 18.3h0m2.9-2.2h0m-3.1-3.4h0m-2.9 4.8h0m7.6-3.5h0m-5.7 5.7h0m0.6-3h0m13.6 16.1h0m-5.7-25.4h0m-1.9 9.8h0m-0.5 6.7h0m13-18h0m-4.6 17.2h0m3.7-16.1h0m-16.4 8h0m5-6.6h0m9.7-5h0m-16.3 4.1h0m3.2-0.8h0m2.1 6.5h0m-3.3 3.1h0m4.8-3.5h0m2-3.4h0m-7.6-9.2h0m18.9 1h0m-6 24.1h0m-1.4-12h0m-14.4-0.1h0m6.1 8.3h0m9-9.5h0m-10.9-7.6h0m12.1 8.8h0m-10.7-0.5h0m-0.7 9.8h0m-3.7-3.7h0m20.4-3.4h0m-15.2 9.4h0m15.2-13.9h0m-21.3 8.9h0m3.7-8.2h0m19 4.4h0m-23.2 6.6h0m7.3-16.5h0m-3.4-0.1h0m4.8 4.5h0m-1.6 2.7h0m-5.1 1h0m8.7 7.9h0m-0.5-22.7h0m-6.1 19.7h0m-0.3-10.3h0m-2.4-0.6h0m2.5 7.4h0m2.9 6.5h0m-2.2-11.6h0m7.6 5.8h0m-12.2 4.1h0m1.2-7.6h0m9.1 10.5h0m1.3-14.7h0m5.3-3.4h0m-11 15.7h0m6.3-12.4h0m-8.2 14.7h0m-3.1-13.3h0m20.9 2.3h0m-18.9 14.2h0m9.8-12.2h0m-10.8-1.5h0m14.5 2.7h0m-12.4-8h0m2.5 16.2h0m6.3 3.4h0m-0.9-23.7h0m-3.9 4.3h0m-3.6 9.3h0m-3.2 2h0m25.2-8.4h0m-26.3 19.2h0m4.2-15.5h0m6.1-0.2h0m0-4.5h0m-3.2 2.1h0m-5.8 10.8h0m3.7-19.2h0m14.4 2h0m-10.4 6.7h0m-1.4-7.6h0m-2.5 12.9h0m5.9-11.1h0m-2.5 4.6h0m-0.9-1.8h0m-1.5-8h0m10.1 22.7h0m-8.3 4h0m1.1-13.8h0m-5.2-5.5h0m10.3-3.8h0m-1.4 15.3h0m-9.6-0.2h0m-2.2-0.9h0m1-4.5h0m18-3.2h0m-18.8 21.3h0m-0.7-21.4h0m8.8 0.5h0m-4.4-2.1h0m4.2 4.3h0m-8.4 2.6h0m1.2-1.8h0m11.3-1.5h0m-1.2-4.7h0m-3-5.8h0m-3.2 10h0m-2.7 13.5h0m10-9.9h0m-12.2 2.3h0m8.6-13.8h0m14.1 8.5h0m-15.4-4.7h0m7.3 9h0m6-3.1h0m-5.7-9.5h0m-10.5 14.9h0m-5-11h0m0.4 2.5h0m-0.9-5.5h0m6.5-0.1h0m1.9 16.8h0m4-13h0m1.7 6.5h0m1.1 1.6h0m-9.5-9h0m14.8 1.6h0m-16.7 3.1h0m11 12.4h0m-3-11.9h0m1.2-7.6h0m-3.3 6.6h0m8.4 6.2h0m-15.2 15.6h0m1.5-7.6h0m11.6-19.2h0m7.7 1.7h0m-19.7 9.2h0m-2.7 2.9h0m0.7-1.5h0m11.4 0.4h0m-5-2.7h0m7.1-4.1h0m-3.5 3h0m11.4 3.5h0m-22.7-7.6h0m0.4 9.3h0m14.4-13.6h0m-1.9-6h0m-11.9 6.4h0m18.8-5.8h0m-3.7 18.5h0m2 0.4h0m1-4.3h0m-3.5-11.1h0m-14.2 5.6h0m-1 9.8h0m15.4-10.7h0m-13.7-2.5h0m-0.7 17.9h0m7.9-4.8h0m4.9-8.9h0m-3.6 7.2h0m-9.7 1.1h0m23.4-14.9h0m-1.1 5.5h0m-21.3-3h0m26.3 11.3h0m-27.2-8.3h0m8.2 12.9h0m-3.8-10h0m5.4 11.6h0m-11.3-6.4h0m0.7-16.4h0m9.6 18.5h0m-8.5-13.9h0m13.2 15.3h0m-9-13h0m-1.7 7.4h0m-1.6-3.7h0m1.1-5.5h0m4.2 7.7h0m-8 2h0m4.9-5.1h0m-2 1.3h0m4.2-4.5h0m11.5 8.6h0m-5.9 6.7h0m-12.1-10.3h0m6.7 5.6h0m12.2-12.4h0m-17 2.4h0m2.2-6.5h0m-1.5-0.6h0m-0.3 15.3h0m9.6 2.1h0m-8.3-13.9h0m1.3-0.9h0m6.2 7.9h0m8.9-7.4h0m-11.5 11.1h0m8 3.5h0m-13.1-4.2h0m3.1-4.7h0m5.2-5.6h0m-0.1 7h0m11.9-14.1h0m-18.3 10.1h0m7.7-4.7h0m-4.9 6.9h0m2.2 5h0m0-3.8h0m12-1.5h0m-1.8 0.8h0m-15.2 10.5h0m7.9-13.7h0m-7.5 3.3h0m-3.6-7.6h0m21.1 10.7h0m-11.5-11.5h0m-2 4.6h0m7.9 7.4h0m-1.4-1.6h0m-3.7-6.3h0m8.3 14.4h0m-17-1.8h0m11.9-18.6h0m-15.2 18.5h0m14.3 4.6h0m-5-11.2h0m1.5-0.9h0m5.7 13.4h0m-16.4-26.8h0m10.3 24.8h0m1.5-1.3h0m-11.1-30.1h0m6.5 20.4h0m-2-6h0m-4.7 9.2h0m8.2-12.1h0m0-0.8h0m-3.7 6.3h0m5 0.8h0m-1.4-5.8h0m1.3 9.4h0m2.8 6.7h0m-1.3-7.4h0m5.3 17.4h0m-12.9-14.5h0m-1-3.2h0m25.3 3.4h0m-14.9 1.6h0m-13.5-2.8h0m5.3-5.2h0m-3.5 5.8h0m16.8-7.2h0m-14 6.4h0m-3.6-9.1h0m5.9 0.1h0m-5.4 20.4h0m1.8-11.6h0m2.8-6.5h0m0.8 0.6h0m-5.7 8.8h0m5.9-9.8h0m12.7 18.8h0m-20.3-8.6h0m18.2-1.2h0m-6.2-7.9h0m-2.5-4h0m-6.6 7.6h0m10.3 9.3h0m-11.7-7.4h0m1.5-4.3h0m-1.2 7.8h0m12.8-3.8h0m-5.1-1.3h0m-1.6-3.1h0m-3.6 7h0m0.4-19.6h0m0.6 17h0m-1.8-2.3h0m6.9-2.5h0m-0.1 9.5h0m-8.6-3h0m6.3-1.3h0m-8-5.8h0m18.7 10.1h0m0.1 6.6h0m-15.2-5.6h0m6-10.2h0m1.5 12.9h0m-9.3-13.5h0m6.4-2.1h0m1.1 4.7h0m16.9 4.1h0m-25.2 4.8h0m0.2-7.4h0m3.1-4.2h0m-3.2-2.4h0m12.9 7.5h0m-5.1-10.4h0m-5.6 7h0m1.7 5h0m0.4-9.3h0m1.5 3.7h0m-5.9 11.6h0m17.4-12.6h0m-15.2-3.2h0m34.1 3.7h0m-26.6 0h0m4.2 3.9h0m-15.1-1h0m-0.3 9h0m1.5-17.5h0m18.9 21.5h0m-9.4-9.7h0m-1.8-12.5h0m-8.3 20.8h0m3.4-9.5h0m-3-6.3h0m10.8 8.4h0m2.1-0.5h0m-11-3.3h0m-0.9 8.8h0m7.7-8.9h0m7.2 2.4h0m-10.5-0.3h0m-1-8.1h0m27 8h0m-13.5-1.9h0m-13.4-7h0m1.8 16.1h0m-5-11.6h0m7.4 6h0m-2.4 1.6h0m-2.6-6.8h0m21.7 12h0m-19.7-2.6h0m-5.6-5.1h0m3.4 8h0m5-18h0m1.3 10.2h0m-7.2-7.5h0m8.9 13.4h0m-6.3-10.8h0m-0.3 2.4h0m7.6 9.4h0m-6.5-19.3h0m-6.6 22.1h0m16.7-6.7h0m-7.1 9.1h0m-7.9-16.1h0m6.6 13.7h0m9.9-13.1h0m-14.6 5.7h0m-0.5 0.8h0m14.8-2.8h0m-15.4-2.8h0m11.3-5.9h0m-10.7 8.6h0m-2.1-5.4h0m0.6 2h0m2-2.8h0m11.4-1.3h0m-8.4 2.4h0m-3.5 14.7h0m-0.2-3.8h0m0.3-12.5h0m3.2 13.9h0m5.8-0.1h0m3-7.7h0m-5.5-2.7h0m-7.3 14.2h0m5.8-5.6h0m1.3-3.3h0m-6.6 6.7h0m16.2-20.7h0m-14.9 11.5h0m-1.3 1h0m20.6 3.3h0m-23-9.8h0m3.3 16.2h0m13-4.6h0m-11.5-2.1h0m6.3-3h0m5 2.6h0m-14.7-7.6h0m17.9-10.6h0m-20.3 14.2h0m10.2 0.7h0m-2.7-7.4h0m10.3 8.9h0m-13.3 2.7h0m-0.8-11.2h0m7.2 5.7h0m2.2 7.6h0m-11.4-2.5h0m6.6-4.3h0m-1 1.8h0m-3.4-4.5h0m-3.2-3.6h0m12.8 4.4h0m-9.5-1.4h0m0.6 5.5h0m-1-0.6h0m-0.1-0.6h0m-2.6-12.5h0m3 5.6h0m10.4 1.3h0m-9.9 2.3h0m-2-2h0m5.7 6.2h0m-5.8 4.1h0m20.6-17.7h0m-8.1 11.1h0m-0.4-1.7h0m-11-0.7h0m0.9-1.4h0m19.6 6.7h0m-12.6-11.9h0m5.8 15.3h0m-13.2-1.8h0m4.3-14.1h0m-5.8-3.7h0m22.6 9.2h0m-17.5-1.2h0m-2.8 6.5h0m0.8-5.6h0m4.1 3.4h0m-7.7 7.1h0m2.1-10h0m10.9-12.1h0m2.4 15h0m-8.8-4.5h0m4.2 6.2h0m-2.2 12.4h0m-2.1-26.1h0m-7.6 14.6h0m15.4-4.5h0m-12.6 5.9h0m13.4-10.6h0m-1.6 18.3h0m-9.1-22.2h0m-2.4 10h0m2.3 0.6h0m5.5-4.9h0m-7.5 8.2h0m5.2-7.5h0m-6-2.1h0m2.7 21.5h0m2.8-5.9h0m-1.6-7.4h0m-2.5-9.2h0m-1.6 14.3h0m-1.4 1.3h0m-0.5-12.6h0m6.7 9.1h0m9.1-12.6h0m-12.3 6.7h0m15.7 1.3h0m-15.4 3h0m-3.7-2.3h0m13.4-10.2h0m5.2 19.9h0m-18.5-21.3h0m-1.3 12.4h0m1.9 1.1h0m12.7-2.7h0m-1.4-8.9h0m-6.6 17.7h0m11.6-12.6h0m-5.7 5h0m0.9-15.2h0m-7.1 18h0m5.7-4.4h0m-7.9-0.8h0m6.9-9.2h0m-6.8 10.7h0m13.6 6.4h0m-13.9-7.4h0m3.8 3.1h0m-8 2.6h0m3.6-0.7h0m11-14.4h0m-3 12.5h0m-2.2-8.6h0m5.8-8.2h0m-8 13.9h0m4.3 9h0m4-3.9h0m-12.9 8.4h0m7.7-14.9h0m7 3.6h0m-5.2 16.9h0m-2.3-21.9h0m0 5.2h0m-8.2 2.4h0m0.8-9.2h0m9.4-4.7h0m-4 27.2h0m-4.4-26.2h0m-2.4 12.3h0m15.6-9.6h0m-10.3 10h0m-5.4 0.5h0m4.2-9.1h0m-1.6 12.3h0m7.8-9.6h0m-9.6 7.3h0m2.9-16.3h0m4.4 3.2h0m-7.6 12.6h0m7.5-16.8h0m-5.2 3.5h0m1.1 14.2h0m10.1-17.1h0m-13.3 2.6h0m4.1 5.9h0m7.3 2.8h0m4.9 6.2h0m-13.2 5.7h0m5.1-12.4h0m-8.1-5.5h0m15.3 7.6h0m-10.5-3.1h0m9.3 6.2h0m-7.6-7.5h0m0.7 7.9h0m-3.7-1.6h0m39.5-18.9h0m-0.1 2.8h0m-3.1-1.8h0m11.6 1.9h0m-13.3-2.6h0m0.8 7.5h0m-16.7 4.7h0m27.1-10.1h0m3.6-1.5h0m-21.7 8h0m10.6-3.7h0m10.6-2.8h0m-23-0.6h0m30.8-7.9h0m-13.2 10.5h0m-14.7-0.4h0m13.3-4.4h0m-3-0.7h0m-15.4 10.2h0m7.9-9.4h0m2.5 4.3h0m11.9-0.7h0m-11.2-0.1h0m3.8-1h0m-1.4 2.4h0m-4.6 2.3h0m15.4-9.7h0m-6.3 6.9h0m3.1-1h0m-6-2.9h0m-7.3 6.1h0m12.4-7.4h0m5.4-3.6h0m-7.6 9.1h0m2.4-4.5h0m-9.1 3h0m5.4 0.8h0m2.9-8.1h0m-0.9 3.2h0m-9.1 6.7h0m7.7-2.3h0m0.2-6.7h0m-1.7 2.3h0m10.4-2.5h0m-13.5 5h0m-0.7 3.1h0m-5.6 0.6h0m16.4-4.8h0m-9.4 1.6h0m1.3 3.7h0m-0.6-4.5h0m5.8-0.4h0m-7.8 2.9h0m4.2 1.4h0m-6.7-2.1h0m-5.3 5.2h0m11-10.7h0m0.8 3.6h0m-2.2 1.7h0m-0.5 4.1h0m1.8-2.6h0m7.3-2.5h0m-5.3-5h0m-3.9 3.5h0m0.4 6h0m-4.2-6.7h0m7.4-1h0m-4.4 3.4h0m1.8 0.2h0m5.7 1.2h0m-11.6-0.3h0m16.5-0.7h0m-7.9-2.8h0m-3.9 0.5h0m4.5 1.4h0m-6.1 0.8h0m15.7-4.8h0m-17.4 12h0m3-5h0m7.1-3h0m4.1-3.2h0m-15 7.7h0m20.2-8.7h0m-6.8-0.8h0m-11.1 4h0m-2.3 2.3h0m9.6-1.3h0m-2.5 0.8h0m-3.5 0.4h0m-2.2 2.5h0m2.4-1.6h0m12.9-8.5h0m-5.4 9.4h0m-9 3.2h0m-0.5 0h0m-2.4-4.8h0m4.8-1.1h0m11.5-5.1h0m5.5-0.3h0m-15.4 9.1h0m-8.1 4.4h0m1.3-5.4h0m1.9-3.2h0m4.5 1.2h0m4.3-1.6h0m-1.3 2h0m6.2-2.4h0m-13.5 4.9h0m8.4-6.4h0m-8.7 4.2h0m4.8-1.3h0m2.1 1.5h0m-0.1-0.8h0m5.3-2.4h0m-11.5 6.8h0m5.5-6.5h0m0.3 1h0m-2.9 2h0m1.2-6.9h0m3.7 2.4h0m-11.1 3.4h0m1.4 4.1h0m2.5-3.3h0m6.5-5.1h0m-11.2 9.5h0m13.9-7.8h0m-5.5 2.4h0m2.4-0.7h0m-15.2 7.5h0m9.3-4.3h0m-1.1-2.1h0m1.1 3.4h0m5.4-5.8h0m8.4 3.2h0m-12.1-1.9h0m3.3 2.6h0m-5.3 0.3h0m0.9 4.1h0m-7.1-1.3h0m7.3-0.2h0m12.6-5h0m-5.4 1h0m-11.5 3h0m4-0.4h0m2.6-1.1h0m-11.1 2.7h0m16.5-3.2h0m-6.9 0.3h0m6.5-4.7h0m-0.5-5.1h0m1.4 3.9h0m-1.2 4.4h0m4.8-2.7h0m-15.3 4h0m-2.1 3h0m6.9-3.7h0m-1.8 0.1h0m5.8 1h0m-0.1 3.9h0m1.5-6.1h0m-12.3 5.7h0m16.9-9.2h0m-16.8 6.4h0m16.6-4.5h0m-4.2 0.5h0m-14.3 4.3h0m17.9-7h0m-3.6 3.7h0m7.1-7.2h0m-20.9 10.4h0m13.3-4.9h0m2 5.5h0m-2.3-3.1h0m3-4.3h0m1.9 2.5h0m-15.5 2h0m9.1 1h0m-15.4 5.8h0m17.7-8.8h0m-7.2 1h0m-0.6 3h0m-0.6-0.7h0m12.6-4.6h0m1.2-2.9h0m-8.6 5.1h0m-2.5-1.6h0m13.5-7.1h0m-0.1 2.6h0m-4.8-1.9h0m-12.3 9.6h0m5.4-7h0m4.3 4.3h0m-8.2 1.3h0m15 0h0m1.4-3.6h0m-23.2 6.5h0m8.6-3.4h0m7.2 1.8h0m-0.5-0.7h0m-4.9-1.2h0m2.1 0.9h0m-6.7 1.5h0m0.3-1.4h0m-1.5 2.9h0m12.4-1.2h0m5.9-8.9h0m-14.9 5.7h0m-5.2-2.2h0m-1.1 0.6h0m9.6 6h0m-0.5-1.4h0m-2.4-0.1h0m0.7-2.8h0m-0.3 4.9h0m-5.9-3.1h0m14.8-6.4h0m-9.2 10.4h0m15.1-9.7h0m-5.8 6.5h0m-17.1-0.8h0m22.7-0.8h0m-2.1-4.7h0m-2 2.7h0m0.5 4.8h0m-3.6-2.8h0m-10 2.2h0m13.5-3.4h0m7.6-3.2h0m-13.6-0.2h0m6.7 0h0m2.7 2.5h0m-15.9-1.8h0m-5.7 7.1h0m7.1-0.4h0m5.1-1.4h0m-9.4-0.7h0m6 0.9h0m-2.7-4.1h0m2.3 5.3h0m4.7-4.8h0m-12.9 4h0m7.6-1.7h0m-3.3-1.1h0m3.6 1.7h0m-0.1-1.6h0m8.5 2.8h0m-8.3-4.4h0m-12.6 8.8h0m13-5.7h0m-0.9 1.8h0m-0.9-7.1h0m5 4.1h0m-6.8 4.3h0m6.5-2h0m-11.6 3.7h0m21.9-5.7h0m-16.3 3.2h0m8.2-7.4h0m6.8-0.7h0m-16 6.6h0m-3.8 0.5h0m8.6-2.3h0m6.6-5.1h0m-9.3 3.2h0m1.9 2.1h0m7-3h0m-6.7-0.9h0m-7.1 4.3h0m-7.4 3.9h0m5-4.3h0m-1.2 6h0m12.1 0.7h0m-9.4 3h0m5.2-7.1h0m-10.6 2.6h0m15.1-3.5h0m-5.6-3.6h0m-4.8 11.2h0m4.8-5.3h0m6.7 4.2h0m16-22.5h0m-22.6 15.9h0m8.3-1.2h0m2.7-3.6h0m-14.6 7.2h0m-2.5 5.8h0m11.1-8.4h0m-6.8-3.7h0m-9.2 9.7h0m21.9-3.5h0m-1.5-2.3h0m-11.4-1.7h0m12.1 5.7h0m-4.8-10.3h0m-2 10.6h0m-5.2-2.7h0m3.2 1.3h0m-8.8-2.2h0m4.9 2.5h0m17.2-10.9h0m-3.4 10.5h0m-2.9 3.5h0m1.1 3.2h0m-3.4-8.8h0m1.1-2.3h0m-16.5 10.9h0m13.7-14.1h0m2.6 4.6h0m-0.2 5.7h0m-4.6-10.7h0m-7.8 9.7h0m7-5.9h0m-14.5 9.6h0m7.8-4.4h0m2.8 1.1h0m6.3-8.7h0m7.1 4.7h0m-7-1.4h0m0.1-1.8h0m19.1-2.4h0m-17 7.9h0m0.4-1h0m0.3 6.5h0m5.9-15.9h0m-15.7 10.7h0m0.8-2.3h0m14.4-3.6h0m-17.5 5.2h0m5.5 2.2h0m0.1-3.7h0m-1.9 2.3h0m1.2-3.7h0m6.1-2.5h0m-1.4 2.9h0m-12-4h0m4.6 13.3h0m10.2-10h0m-1.9 7.9h0m-15 5h0m-2.6-2.3h0m15.8-8.3h0m11.2-11.5h0m-7.4 13.1h0m-12.6-2.8h0m0.3 1.5h0m1.7-1.7h0m-6.2 9.9h0m26.7-16.7h0m-17.6 0h0m15.1 6.5h0m-14.7 5.2h0m5.5-5h0m4.8-0.7h0m-5.2 10h0m-3.2-9.3h0m18.4-7.2h0m-20 7.3h0m0.2-12.9h0m-10.6 17.1h0m18.3-0.5h0m2.9-11.2h0m-14.9 7.2h0m2.8-0.7h0m10.9 1.6h0m-11.6-6.6h0m21.1 0.4h0m-26 11.2h0m5.3-0.4h0m4-10.4h0m10.6 6.4h0m-24.3 8.5h0m6.2-4.7h0m10.6-2.7h0m-1.7 5.5h0m-0.6-7.9h0m4.3 1.4h0m-9.5 0.9h0m-11.1 10.3h0m21-9.3h0m-14.8-3h0m8 3.7h0m2.9-6h0m3.2 4.2h0m-2.5 4h0m-4.1-13.6h0m-5.3 6.7h0m11.5 0.2h0m-3 1.1h0m0.3-2h0m-3.4 7.2h0m8.7 2.6h0m-6.3-16.9h0m12.7 7.6h0m-25.8 12.2h0m21.6-15.2h0m-6.5 11.5h0m-7.8-7.4h0m-5.4 11.4h0m3.5-6h0m-3-3.6h0m15.4-6.8h0m-5.8 3.9h0m9-7.9h0m-16.3 13.8h0m6.4-3.4h0m18.2-5.2h0m-19.7 4.5h0m3.2 6h0m4.1-5.2h0m-1.8-8.3h0m-12.1 9h0m8.1-5.6h0m-1.4 2.1h0m-8.9 3.6h0m17.6-0.5h0m-9.1 2.6h0m14.5-10.6h0m-1.8 9.8h0m-9.5 1.2h0m7.9-1.8h0m4.4-15.1h0m-4.6 5.8h0m0.7 2.9h0m4.1-6.1h0m-14.1 3h0m12.2-0.1h0m-23.8 16.4h0m16-15.9h0m-4.5-3.5h0m-15.8 9.4h0m25.5-7.6h0m-14.2 8.2h0m15.3-11.1h0m-13 12.8h0m7.3-3.5h0m-5.7 2.2h0m-12.3-4h0m10 4.3h0m21.7-7.6h0m-16.3 1.1h0m9.9 14.8h0m-23.6 22.5h0m10.5-10.2h0m-3 4.8h0m5.3-4.6h0m18.6-21.1h0m-27.3 25.6h0m13.6-11.3h0m13.2-14.2h0m-4.7 7.4h0m-6.2 7h0m15.9-16.4h0m-17.8 14.5h0m12.4-8.5h0m1.3-1.9h0m3.2-1.9h0m-9.7 8.6h0m-2.6 1.8h0m-14.6 15.7h0m7.8-7.3h0m-11.4 7.5h0m19.6-16h0m-13.6 11.4h0m0.6 4.7h0m10.3-13.5h0m11.7-10.2h0m-15.4 11.7h0m14.5-14.1h0m-19.8 20h0m22.4-22.2h0m-11.9 8.7h0m-3.1 4h0m3.8-0.6h0m-14.5 9.6h0m20.9-17.3h0m-12.8 11.3h0m7.5-1.2h0m-14 8.5h0m22.4-22.1h0m-13.1 13.9h0m-18.6 15.4h0m2.7-0.5h0m18.9-19.3h0m-10.4 14h0m15.4-18.8h0m-2.5 1.7h0m1.3 0.7h0m2.7-2.4h0m7.3-6.4h0m-26.5 23.2h0m14.9-13.5h0m-8.1 8.5h0m3.4-1.1h0m-9.7 7.1h0m16.6-15.9h0m4.6-5.2h0m-19.4 19.2h0m-8.9 10.2h0m18-18.8h0m14.5-10.6h0" fill="none" stroke="#f01818" stroke-width="0.6" stroke-linecap="round" opacity="0.75"/>
</g>
<rect x="195.50" y="311.30" width="97.90" height="73.50" fill="none" stroke="#6a6a6a" stroke-width="0.45"/>
<line x1="228.00" y1="311.30" x2="228.00" y2="384.80" stroke="#5a5a5a" stroke-width="0.45"/>
<line x1="195.50" y1="356.70" x2="293.40" y2="356.70" stroke="#5a5a5a" stroke-width="0.45"/>
<line x1="193.70" y1="384.80" x2="195.50" y2="384.80" stroke="#444" stroke-width="0.4"/>
<line x1="195.50" y1="384.80" x2="195.50" y2="386.60" stroke="#444" stroke-width="0.4"/>
<text class="ss" x="193.50" y="385.40" font-size="2.9" text-anchor="end" fill="#333">10<tspan dy="-1.1" font-size="2.0">0</tspan></text>
<text class="ss" x="195.50" y="389.10" font-size="2.9" text-anchor="middle" fill="#333">10<tspan dy="-1.1" font-size="2.0">0</tspan></text>
<line x1="194.50" y1="379.27" x2="195.50" y2="379.27" stroke="#555" stroke-width="0.3"/>
<line x1="202.87" y1="384.80" x2="202.87" y2="385.80" stroke="#555" stroke-width="0.3"/>
<line x1="194.50" y1="376.03" x2="195.50" y2="376.03" stroke="#555" stroke-width="0.3"/>
<line x1="207.18" y1="384.80" x2="207.18" y2="385.80" stroke="#555" stroke-width="0.3"/>
<line x1="194.50" y1="373.74" x2="195.50" y2="373.74" stroke="#555" stroke-width="0.3"/>
<line x1="210.24" y1="384.80" x2="210.24" y2="385.80" stroke="#555" stroke-width="0.3"/>
<line x1="194.50" y1="371.96" x2="195.50" y2="371.96" stroke="#555" stroke-width="0.3"/>
<line x1="212.61" y1="384.80" x2="212.61" y2="385.80" stroke="#555" stroke-width="0.3"/>
<line x1="194.50" y1="370.50" x2="195.50" y2="370.50" stroke="#555" stroke-width="0.3"/>
<line x1="214.55" y1="384.80" x2="214.55" y2="385.80" stroke="#555" stroke-width="0.3"/>
<line x1="194.50" y1="369.27" x2="195.50" y2="369.27" stroke="#555" stroke-width="0.3"/>
<line x1="216.18" y1="384.80" x2="216.18" y2="385.80" stroke="#555" stroke-width="0.3"/>
<line x1="194.50" y1="368.21" x2="195.50" y2="368.21" stroke="#555" stroke-width="0.3"/>
<line x1="217.60" y1="384.80" x2="217.60" y2="385.80" stroke="#555" stroke-width="0.3"/>
<line x1="194.50" y1="367.27" x2="195.50" y2="367.27" stroke="#555" stroke-width="0.3"/>
<line x1="218.86" y1="384.80" x2="218.86" y2="385.80" stroke="#555" stroke-width="0.3"/>
<line x1="193.70" y1="366.43" x2="195.50" y2="366.43" stroke="#444" stroke-width="0.4"/>
<line x1="219.97" y1="384.80" x2="219.97" y2="386.60" stroke="#444" stroke-width="0.4"/>
<text class="ss" x="193.50" y="367.03" font-size="2.9" text-anchor="end" fill="#333">10<tspan dy="-1.1" font-size="2.0">1</tspan></text>
<text class="ss" x="219.97" y="389.10" font-size="2.9" text-anchor="middle" fill="#333">10<tspan dy="-1.1" font-size="2.0">1</tspan></text>
<line x1="194.50" y1="360.89" x2="195.50" y2="360.89" stroke="#555" stroke-width="0.3"/>
<line x1="227.34" y1="384.80" x2="227.34" y2="385.80" stroke="#555" stroke-width="0.3"/>
<line x1="194.50" y1="357.66" x2="195.50" y2="357.66" stroke="#555" stroke-width="0.3"/>
<line x1="231.65" y1="384.80" x2="231.65" y2="385.80" stroke="#555" stroke-width="0.3"/>
<line x1="194.50" y1="355.36" x2="195.50" y2="355.36" stroke="#555" stroke-width="0.3"/>
<line x1="234.71" y1="384.80" x2="234.71" y2="385.80" stroke="#555" stroke-width="0.3"/>
<line x1="194.50" y1="353.58" x2="195.50" y2="353.58" stroke="#555" stroke-width="0.3"/>
<line x1="237.08" y1="384.80" x2="237.08" y2="385.80" stroke="#555" stroke-width="0.3"/>
<line x1="194.50" y1="352.13" x2="195.50" y2="352.13" stroke="#555" stroke-width="0.3"/>
<line x1="239.02" y1="384.80" x2="239.02" y2="385.80" stroke="#555" stroke-width="0.3"/>
<line x1="194.50" y1="350.90" x2="195.50" y2="350.90" stroke="#555" stroke-width="0.3"/>
<line x1="240.66" y1="384.80" x2="240.66" y2="385.80" stroke="#555" stroke-width="0.3"/>
<line x1="194.50" y1="349.83" x2="195.50" y2="349.83" stroke="#555" stroke-width="0.3"/>
<line x1="242.08" y1="384.80" x2="242.08" y2="385.80" stroke="#555" stroke-width="0.3"/>
<line x1="194.50" y1="348.89" x2="195.50" y2="348.89" stroke="#555" stroke-width="0.3"/>
<line x1="243.33" y1="384.80" x2="243.33" y2="385.80" stroke="#555" stroke-width="0.3"/>
<line x1="193.70" y1="348.05" x2="195.50" y2="348.05" stroke="#444" stroke-width="0.4"/>
<line x1="244.45" y1="384.80" x2="244.45" y2="386.60" stroke="#444" stroke-width="0.4"/>
<text class="ss" x="193.50" y="348.65" font-size="2.9" text-anchor="end" fill="#333">10<tspan dy="-1.1" font-size="2.0">2</tspan></text>
<text class="ss" x="244.45" y="389.10" font-size="2.9" text-anchor="middle" fill="#333">10<tspan dy="-1.1" font-size="2.0">2</tspan></text>
<line x1="194.50" y1="342.52" x2="195.50" y2="342.52" stroke="#555" stroke-width="0.3"/>
<line x1="251.82" y1="384.80" x2="251.82" y2="385.80" stroke="#555" stroke-width="0.3"/>
<line x1="194.50" y1="339.28" x2="195.50" y2="339.28" stroke="#555" stroke-width="0.3"/>
<line x1="256.13" y1="384.80" x2="256.13" y2="385.80" stroke="#555" stroke-width="0.3"/>
<line x1="194.50" y1="336.99" x2="195.50" y2="336.99" stroke="#555" stroke-width="0.3"/>
<line x1="259.19" y1="384.80" x2="259.19" y2="385.80" stroke="#555" stroke-width="0.3"/>
<line x1="194.50" y1="335.21" x2="195.50" y2="335.21" stroke="#555" stroke-width="0.3"/>
<line x1="261.56" y1="384.80" x2="261.56" y2="385.80" stroke="#555" stroke-width="0.3"/>
<line x1="194.50" y1="333.75" x2="195.50" y2="333.75" stroke="#555" stroke-width="0.3"/>
<line x1="263.50" y1="384.80" x2="263.50" y2="385.80" stroke="#555" stroke-width="0.3"/>
<line x1="194.50" y1="332.52" x2="195.50" y2="332.52" stroke="#555" stroke-width="0.3"/>
<line x1="265.13" y1="384.80" x2="265.13" y2="385.80" stroke="#555" stroke-width="0.3"/>
<line x1="194.50" y1="331.46" x2="195.50" y2="331.46" stroke="#555" stroke-width="0.3"/>
<line x1="266.55" y1="384.80" x2="266.55" y2="385.80" stroke="#555" stroke-width="0.3"/>
<line x1="194.50" y1="330.52" x2="195.50" y2="330.52" stroke="#555" stroke-width="0.3"/>
<line x1="267.81" y1="384.80" x2="267.81" y2="385.80" stroke="#555" stroke-width="0.3"/>
<line x1="193.70" y1="329.68" x2="195.50" y2="329.68" stroke="#444" stroke-width="0.4"/>
<line x1="268.92" y1="384.80" x2="268.92" y2="386.60" stroke="#444" stroke-width="0.4"/>
<text class="ss" x="193.50" y="330.28" font-size="2.9" text-anchor="end" fill="#333">10<tspan dy="-1.1" font-size="2.0">3</tspan></text>
<text class="ss" x="268.92" y="389.10" font-size="2.9" text-anchor="middle" fill="#333">10<tspan dy="-1.1" font-size="2.0">3</tspan></text>
<line x1="194.50" y1="324.14" x2="195.50" y2="324.14" stroke="#555" stroke-width="0.3"/>
<line x1="276.29" y1="384.80" x2="276.29" y2="385.80" stroke="#555" stroke-width="0.3"/>
<line x1="194.50" y1="320.91" x2="195.50" y2="320.91" stroke="#555" stroke-width="0.3"/>
<line x1="280.60" y1="384.80" x2="280.60" y2="385.80" stroke="#555" stroke-width="0.3"/>
<line x1="194.50" y1="318.61" x2="195.50" y2="318.61" stroke="#555" stroke-width="0.3"/>
<line x1="283.66" y1="384.80" x2="283.66" y2="385.80" stroke="#555" stroke-width="0.3"/>
<line x1="194.50" y1="316.83" x2="195.50" y2="316.83" stroke="#555" stroke-width="0.3"/>
<line x1="286.03" y1="384.80" x2="286.03" y2="385.80" stroke="#555" stroke-width="0.3"/>
<line x1="194.50" y1="315.38" x2="195.50" y2="315.38" stroke="#555" stroke-width="0.3"/>
<line x1="287.97" y1="384.80" x2="287.97" y2="385.80" stroke="#555" stroke-width="0.3"/>
<line x1="194.50" y1="314.15" x2="195.50" y2="314.15" stroke="#555" stroke-width="0.3"/>
<line x1="289.61" y1="384.80" x2="289.61" y2="385.80" stroke="#555" stroke-width="0.3"/>
<line x1="194.50" y1="313.08" x2="195.50" y2="313.08" stroke="#555" stroke-width="0.3"/>
<line x1="291.03" y1="384.80" x2="291.03" y2="385.80" stroke="#555" stroke-width="0.3"/>
<line x1="194.50" y1="312.14" x2="195.50" y2="312.14" stroke="#555" stroke-width="0.3"/>
<line x1="292.28" y1="384.80" x2="292.28" y2="385.80" stroke="#555" stroke-width="0.3"/>
<line x1="193.70" y1="311.30" x2="195.50" y2="311.30" stroke="#444" stroke-width="0.4"/>
<line x1="293.40" y1="384.80" x2="293.40" y2="386.60" stroke="#444" stroke-width="0.4"/>
<text class="ss" x="193.50" y="311.90" font-size="2.9" text-anchor="end" fill="#333">10<tspan dy="-1.1" font-size="2.0">4</tspan></text>
<text class="ss" x="293.40" y="389.10" font-size="2.9" text-anchor="middle" fill="#333">10<tspan dy="-1.1" font-size="2.0">4</tspan></text>
<text class="ss" x="246.45" y="390.80" font-size="2.5" text-anchor="middle" fill="#444">FL1-H</text>
<text class="ss" x="189.90" y="351.05" font-size="2.5" text-anchor="middle" fill="#444" transform="rotate(-90 189.90 351.05)">FL2-H</text>
<text class="ss" x="197.00" y="313.90" font-size="2.5" fill="#444">1.02%</text>
<text class="ss" x="292.20" y="313.90" font-size="2.5" text-anchor="end" fill="#444">4.70%</text>
<text class="ss" x="197.00" y="383.60" font-size="2.5" fill="#444">93.51%</text>
<text class="ss" x="292.20" y="383.60" font-size="2.5" text-anchor="end" fill="#444">0.77%</text>
<text class="sf" x="359.40" y="302.50" font-size="8.2" text-anchor="middle">Ad-Col15a1</text>
<clipPath id="cg2"><rect x="311.40000000000003" y="311.6" width="97.60" height="72.90"/></clipPath>
<g clip-path="url(#cg2)">
<path d="M328.4 374.3h0m-1.2-10.4h0m3.3-16.6h0m0.3 25h0m-6.2-1.1h0m-3.2-6h0m7.2-14.2h0m-0.9 15.6h0m-10.4-16.4h0m10.2 7.7h0m-1.8 16.7h0m-3.5 1.4h0m-4.6-2.9h0m12.6-11.9h0m-10.3 22.5h0m18.4-21.9h0m-23.7 10.7h0m6.3-13.9h0m9.1 12.1h0m-8.5 6.1h0m5.1-12.8h0m3 14.5h0m-4.7-12.7h0m-2.1-2.4h0m-1.5 6.8h0m3.9-5.2h0m-4.2 0.8h0m10.3 8.2h0m-6.4-0.6h0m-0.3-2h0m2.9-5.5h0m-3.5-0.6h0m-3.6 0.6h0m8.9 8.6h0m0.5-7.2h0m-1.7 5.1h0m-2.7-14h0m-7.2 9.8h0m9.9 5.6h0m-9.1-8.9h0m12-2.8h0m-1.9-3.9h0m-4.2 10.7h0m-0.2 5.7h0m7.7 5.1h0m-11.2-15h0m4.5-0.1h0m6.2 10.7h0m-5.4-11.3h0m2.1 5.3h0m-2.2-8h0m0.8-0.3h0m-1.9 7.4h0m-8.4-3h0m6.7 10.4h0m-8.3-8.4h0m9.1-0.7h0m4.7-5h0m3.3 6h0m-14.9-6.1h0m6.7 8.9h0m-4.9-14.7h0m8.3 13.3h0m-3.1-6.6h0m8.8 13h0m-9.2-12.7h0m7.6 4.1h0m-10.7-3.3h0m12.3 9.1h0m-2.9-9.7h0m-14.1 6.6h0m5.7 3.7h0m4.5-3.6h0m1.9-2.1h0m-0.7 0.1h0m2.5 1.4h0m2.8-16.2h0m-7.8 21.9h0m-2.4-3.5h0m-4.2 5.3h0m10.1-14.1h0m-3.7-5.1h0m-2.6 12.3h0m5.8-0.2h0m-6.3-17.8h0m4.9 6.6h0m-12.9 5.4h0m16.6 7h0m-3.1 2.7h0m-2.9-4h0m1.9 8.5h0m-3.6-21.9h0m-3.2-2.5h0m3 24h0m-0.3-7.5h0m3.1 3.5h0m2.4-6.2h0m8.5 0.6h0m-8.9 6.6h0m0.9-10.4h0m-2.6 4.1h0m7-5.5h0m-11.1 4.6h0m13.9 2.3h0m-16.2-7.5h0m0.3 14.7h0m10.7-15.3h0m-6.4 7.7h0m7.6-3.6h0m-3.6 2.4h0m5.1-15.4h0m-6.9 19.5h0m-3.9-6.3h0m-0.4-8.1h0m-5.2 15.2h0m0.8-15.6h0m4.9 8h0m1.8 2.1h0m2.2 2.1h0m2.4 1.8h0m-4.5-8.8h0m-6.8 0.9h0m9.4-2.1h0m-8.2 2.8h0m6.6 17.3h0m2.8-28.7h0m-5.9 14.6h0m8.9-5.1h0m-8.8 3.5h0m1.7-10.1h0m-2.4 12.6h0m1.2 5.8h0m6 3.6h0m-2-9.4h0m-3.5-3h0m7-4.2h0m-6.2 6.1h0m6.2-6h0m-6.8 10.2h0m-2.7-7.5h0m-2.7 11h0m5.7-2.3h0m5.9-2h0m-0.9 2h0m-1.2-10.1h0m-4.9 12.6h0m-5.6 3.3h0m6.6-11.1h0m2.7 1.2h0m-2.8 12.6h0m-3.3-1.9h0m5.7-22.2h0m6.6 14.1h0m-4.5-23.8h0m1.3 23h0m-6.6-3.3h0m-4.8 4.4h0m14.9-13.7h0m-7 15.7h0m1.8-3.9h0m6.5-4.1h0m-14.3 5.6h0m8.6 4.3h0m-6.8 6h0m-4.6-27.6h0m4.3 13.1h0m13.9-3.8h0m-3.8 1.8h0m-3.6 4h0m1.7-8.7h0m4.4 6.8h0m-0.2-2.2h0m-9.4-10.3h0m1.9 16.9h0m1.1-11.7h0m1.3 10.8h0m-2.2-0.2h0m1.3 2.9h0m-8.5 4h0m-1.1-17h0m7.4 13.5h0m5.1-7.3h0m-13.6 8.1h0m3.1 2.3h0m-0.6-3.6h0m4-6.3h0m5.8-2.8h0m-8.8-4.4h0m14.3 1.5h0m-9.2 0.2h0m-2.5 7.3h0m0.1-3.9h0m10.3-18.7h0m-11.5 27.1h0m-7.3-2.5h0m15.2-7.3h0m-3.1 8.3h0m0.8-14.2h0m-14.4 4.1h0m3 10.2h0m11.4-8.7h0m-1.7 2.8h0m-0.4 1.4h0m10.2 3.1h0m-10.7 1.2h0m-1.4-9.4h0m1.8 3.7h0m9.9-0.2h0m-5.7-5.6h0m-2.8 4.9h0m-8.5 2.9h0m19.8-8.8h0m-19.9-3.1h0m-1.5 18.4h0m5.4 3.2h0m6.9-9.1h0m1.1 4.3h0m-12.8 7.7h0m18.1-36.9h0m-15.2 14h0m-0.1 13h0m-2.4-7.2h0m8.6 10h0m2.1 0.4h0m1.2-19.1h0m-0.2 16.9h0m-11.7-5.2h0m10.1 8.9h0m2.8-9h0m-7.6 6h0m-4.4-0.6h0m8.1-6.8h0m8.6-5.9h0m-12 4.2h0m-3.3 15.1h0m8.4-9.9h0m-5.6-13.3h0m8.9 11.8h0m-11.3 14.5h0m2.5-7.6h0m1-3.2h0m1.2-11.8h0m8.5 7h0m-2 5.5h0m-2.4 1.2h0m-2.6-6.3h0m4.1 16.4h0m-5.2-12.9h0m1 0.6h0m0.1 2.7h0m2.2-14.6h0m-11.1 14.3h0m6.2-5.3h0m7.5-3.3h0m-4.3 13.5h0m10.8-17.6h0m-16.3 12.7h0m12.2-9.5h0m-9.2-1.6h0m4.8 1.1h0m-6.1 5.7h0m12.5 4.5h0m2.7-9.8h0m-21.6 9.9h0m11.2-8.3h0m-2.5 3.9h0m2.6-2.3h0m-12.2-3.2h0m7.4 1.8h0m4.1 10.3h0m3.6-13.5h0m-9.2 18.6h0m4.7-14.4h0m-2.2 1.4h0m2.3 13.3h0m5.6-8.3h0m1.3-4.1h0m-5.9-2.2h0m-6.6 15.9h0m8.6-30.8h0m-5.7 26.8h0m-5.4-0.8h0m-6.5-6.2h0m11.8 0.2h0m0.4-4.8h0m9.9-8.5h0m-8 15.4h0m2-2h0m-7.5 10.4h0m3.5-25.8h0m0.5 1.5h0m-4.6 14.6h0m11.8 2.5h0m-9.3-6.3h0m0.9 5.9h0m2.9-2.9h0m-7.3-16h0m12.4 13.7h0m-12.3 10.1h0m8.5-27.8h0m3.9 21.2h0m-11 0.1h0m-2.7-9.9h0m9.2-5.5h0m4.5 7.1h0m-12.3-4.3h0m-1.5 2.3h0m6.6-7h0m1.6 6.3h0m-0.3 4.7h0m-0.4 1.9h0m0.5 4.5h0m0.1-6.3h0m3-2h0m-2.3 9.3h0m-1.3-10.1h0m5.1-0.1h0m-17.3-8.1h0m13.9 20.9h0m-5.7-22.9h0m-1.1 13.3h0m9.1-4.1h0m-4.2 5h0m-0.2 9.6h0m-9.3-3.1h0m12.1-7.7h0m0.1 6.9h0m-9.5-2.5h0m4.2 1.9h0m0.1 6.9h0m1.6-0.7h0m-5.6-12.9h0m3 2.3h0m4.5 1.4h0m1.9 1.4h0m-2-0.1h0m2.7 7.2h0m-9.5-1.3h0m6-5.5h0m-0.1-3.1h0m0.1-5.3h0m-1.2 3.5h0m4.8-9.1h0m-1.4 9.9h0m-4.9-3.3h0m1.2-3.3h0m-1.5 16.3h0m7.6-6.8h0m-1.6 6.1h0m5 2.1h0m-12.2-6.9h0m2.5-9.7h0m3.3 6.9h0m-9.2 4.7h0m6.8-3.9h0m-1.6 12.5h0m10-13.5h0m-3.5 0.4h0m6.8-4h0m-1.5 7.5h0m-14.6-7.6h0m11.1 8.2h0m-10.7-18.9h0m1.5-0.2h0m-1.5 19h0m2.5-5.8h0m7.1 2.2h0m-3.5-9.6h0m0.7 15h0m-9.1-14.5h0m19.7 1.2h0m-14 9.7h0m3.7-6.2h0m-0.3-0.1h0m5.9 8.6h0m-9.8 3.8h0m4-23.2h0m7.2 15.8h0m-6.8-15.3h0m3.7 18.9h0m-6.1-1.8h0m5 4.1h0m-6.2-6.8h0m-0.4 1.1h0m8-10.1h0m5.1 7.2h0m-11.8 11.9h0m-2.6-12.1h0m2.7-9.8h0m-0.8 19.1h0m-5 0.4h0m5.1-4.4h0m-2.6-1.6h0m0.1-1.7h0m-2.9 4.9h0m4.1-8.9h0m1 7.6h0m-2.3-1.9h0m3.5-9.7h0m-2.7 14.5h0m5.8-6.3h0m-3.2 4.2h0m7.3 0.7h0m-13.9-4h0m3.3-4.8h0m11-5.5h0m-10.3 18.7h0m10.5-9.2h0m-2.8 6.1h0m-4.1-4.5h0m0.6-4.4h0m-11.8 11.2h0m13.6-7.5h0m-7.9-1.8h0m0.2-7.4h0m3.5 4.3h0m1.2 14.8h0m-0.1-1.5h0m0.9-18.6h0m-10.5 3.2h0m15.8 5h0m-5.9 5h0m-7.4-13.4h0m4.8-0.2h0m-1.9 8.3h0m2.6 4.7h0m-0.8-9.1h0m1 8.7h0m-1.1-1.9h0m-2.9 3.2h0m-2.4-12.1h0m3.2 14h0m8.7-7.6h0m-8.2 6.5h0m8.9-0.5h0m-11-9.1h0m7.5 7.6h0m7.9 0.7h0m-2.9-16h0m-7.3 11.6h0m-7.6-3.5h0m5.2 9.9h0m10.6-20.5h0m-6.3 20.5h0m-6.2-3.7h0m7.5-8.8h0m-2.1 14.7h0m1.9-3.5h0m-11-11.3h0m3 5.7h0m6.5 3.5h0m2.5 3.5h0m-11.2 4.3h0m9.3-11.7h0m-5-1h0m9.3 2.9h0m-2.4 8.2h0m-2.6-5.5h0m-1.9 7h0m5.5-16.1h0m-6.3 3.5h0m-0.6-7.9h0m13.3 12.2h0m-10.9-14.3h0m11.8 4.7h0m-24.2 3.5h0m-0.4 12.6h0m6.6-11.2h0m9 4.6h0m-6.9 5.6h0m-3.4 0.7h0m0.9-6.3h0m6.3-3.5h0m1.3 1.3h0m-3.1-10.2h0m1.7 7.2h0m-3.5-1.9h0m-0.2 10h0m11.3 0.4h0m-10.7 2.2h0m9.1-15.1h0m-8.7 6.4h0m-2.4-1.9h0m4.1-9.7h0m-1.9 13.8h0m-1.9 9.9h0m8-16.1h0m1.4 9.9h0m-7.8 6.8h0m7.6-13.1h0m2.1-3.6h0m-1.7 9.5h0m0.8-12.9h0m1.4 6.5h0m-14.7-2h0m2.3 8.9h0m10.4 1.9h0m-1.8 1.8h0m-8.9 2.9h0m0.3-22.3h0m11.7 12.2h0m-11.8-7.8h0m6 7.5h0m6.9 0.6h0m7.7 0.1h0m-17.6 6.2h0m7.3-9.3h0m-3-6.6h0m-4.5 2.6h0m4.8 1h0m-2.2 10.1h0m3.1-14h0m1.7 9.7h0m-9.6 3.5h0m7.4-4.7h0m-7.2-1.7h0m5.5 10.9h0m-5.4-5.1h0m1.8 3.3h0m5.4-22.7h0m-5.3 16.5h0m6.3 6.1h0m-0.8-14.2h0m-3.7-0.2h0m0.1-3.1h0m6.1 8h0m-7.2 12.1h0m11-10.4h0m-4.6 5h0m-5.5-6.6h0m9.4 2.2h0m-8.4 5.2h0m1.6-5.2h0m6.2 0.8h0m-14.6-0.3h0m5.3 5.3h0m-1.8-0.3h0m2.3 2.3h0m2-4.8h0m-8 1.7h0m7.6-9.6h0m-2.6-0.8h0m1.4 14.5h0m-1.7 0.1h0m0.4-19.3h0m16.5 8.6h0m-12.8 1.8h0m2.4 6.2h0m-6.3-3.7h0m7.7-7.4h0m-7.3-4.9h0m-0.7 6.5h0m4.1-4.1h0m-0.2-4.7h0m1.7 8.8h0m1.1 1.1h0m2.2-2h0m-7.8 4.2h0m-2.2 2.4h0m3.1-5.2h0m0.4 0.7h0m2.4-0.4h0m-1.3 5.6h0m4.4-5.6h0m-0.5 3.9h0m-3.7 6.2h0m3.3-11.7h0m-12.9 10h0m17.3-2.7h0m-8.8-8.9h0m1.3 8h0m-4.7-0.4h0m8.4 0.3h0m-8-9.3h0m8.2-15.5h0m-4.4 27.4h0m-0.2-7.5h0m-4.9 12h0m5.1-11.3h0m-6.5-3.7h0m8.5 1.7h0m-4.4 12.7h0m8.4-13.1h0m-2.5-9.3h0m-9.5 25.2h0m8.3-16.4h0m2.2 5.3h0m-13.9 1.7h0m2.2 5.2h0m8.8-1.3h0m-2.5-8.5h0m-0.9-5.3h0m6.6 7.1h0m-0.7 8.1h0m-11.2-0.7h0m2.1-10.6h0m2.8 7.3h0m-1.5-14.8h0m2.2 1.7h0m1.5 19.4h0m-1.7-12.5h0m9.8 3.5h0m-10.2-9.2h0m2.4 11.6h0m0.1 5h0m4.2-21.4h0m-0.2 14.8h0m-16-8.6h0m17.1-2.6h0m-15.2 7.3h0m16.2 2.3h0m-8.7 6.7h0m5.1-0.5h0m-6.7-0.5h0m1.1-0.2h0m10.7-8.3h0m-4.6 9.1h0m1.2-4.8h0m-13.2 9h0m12.1-23.1h0m-7.5 3.3h0m2.4 17.1h0m-0.9-4.7h0m5-7h0m-10.8 4.4h0m8.8-0.8h0m-1-4.4h0m-9.7 0.2h0m9.4 8h0m1.5 2.8h0m7.1-6.1h0m-10.6-4.7h0m-3 7.8h0m3.1-7.9h0m-3.8 7.2h0m0-6.4h0m13.3-4.1h0m1.6 2h0m-6 10.1h0m-7.5 4.2h0m2-19.2h0m-8.3 11.3h0m9.8 2.6h0m5.1-7.4h0m-13.2-0.2h0m13.3 4.4h0m2.6-1.6h0m1.5-1.2h0m-10.6 7.2h0m6.4 0.7h0m-6.5-13.8h0m-3.1 11.3h0m7.9 0.7h0m-8.5-0.1h0m-3.4-9.2h0m6.6 11.3h0m4.3-7.6h0m-10.9-2.6h0m11.4 13.6h0m-5.1-3.8h0m-4-14.4h0m8.7 5h0m-3 2.8h0m4 2.6h0m-14.9-2.3h0m16.9-1.3h0m-4-8.3h0m3.1 11.5h0m1.9-5.8h0m-2.2-6.9h0m-3.5 20.7h0m-7.5-16.5h0m12.5 3.8h0m-4.4 6.9h0m-1-4.9h0m3.6-0.2h0m-1.9 0.1h0m-3.1-0.4h0m-0.8 3h0m0.7 5.7h0m12.1-16.9h0m-13.7 11.9h0m4.8 7h0m-4.3-6h0m0.5 10.4h0m-6.3-21.8h0m9.5 11.4h0m-8.5-8.7h0m13.6 11.6h0m-15.2 1.5h0m9.4-6.9h0m1.9-4.7h0m-4.3 6.5h0m9.4 3.7h0m-8 3.9h0m-4-0.6h0m3.8-8.2h0m5.9-17.3h0m-13.2 23.4h0m11.7-15.5h0m-2.3 12.4h0m-1.7 5.8h0m4.5-8.7h0m-0.7-12.1h0m-1.8 4.8h0m7.3 6.8h0m-10.2-8.5h0m1.9-2.7h0m-8 22.2h0m3.7-9.9h0m-0.5-9.2h0m-1.5 6.3h0m6.3-6.4h0m4.9 10.2h0m-11.4-3.9h0m14.9-0.3h0m-7 0.8h0m2.6-1.3h0m-8.9 6.1h0m16.7-7.2h0m-22.2 6.5h0m7-3.9h0m-2.7-18.5h0m3.3 20.7h0m5.1-3h0m-7.1 9.6h0m8.1-2h0m4.5-9.8h0m-3.6 2.2h0m-3.5-3.5h0m-0.4-3h0m0 16.9h0m5.5-7.1h0m3.4 0h0m-9.3 2.5h0m-0.8 3.6h0m3-5.2h0m4.8-16.4h0m-13.4 21.2h0m6.3-8.7h0m3.4-12.2h0m-9.5 15.7h0m-5.7 3.9h0m13.2 1.2h0m-0.5 1.9h0m-10.8-5.7h0m13.3-0.4h0m-4-2.5h0m-1 12.7h0m-3.1-17.9h0m15 2.1h0m-8.1 11.8h0m-12.1-6h0m8.2-3.2h0m-2 5.6h0m6.7-12.8h0m-3.9-4.1h0m1.6 7.1h0m5.5 9.3h0m-11.7-17.1h0m1.6-1.9h0m10.1 19.4h0m-3.2 2.1h0m-12.3-7.2h0m0 1.3h0m10-1.8h0m1.4 1.6h0m-4.4-4h0m4.9-4.4h0m-0.5 1.2h0m-5.8-0.8h0m1.8 15.4h0m1.7-5.3h0m0.8 2.6h0m-4.4-1h0m6.4-16.7h0m4.9 12h0m3.5 2.7h0m-4.8-3.4h0m-14.9-14.4h0m5.6 6.3h0m5.6 13.5h0m5.1 2.3h0m-4.2-20.6h0m-12.3 9.7h0m12.4-0.9h0m5.6 16h0m-11.3-3h0m1.2 1.7h0m1-9.5h0m-6.8 1.8h0m3.2-1.3h0m13.8-4.8h0m-12.9-3.5h0m13.5 4.7h0m1.8-2h0m-16.3-3.9h0m5.5-5h0m0.1 7.6h0m9.9 5.5h0m-2.6-14.6h0m-10.3 19.1h0m-2.8 1.9h0m-0.9-1.4h0m7.2 4.5h0m7.7-22.5h0m-5.6 19.5h0m-10.9 3.3h0m-0.2-18h0m8.5 7.3h0m0.3-4.3h0m3.9 0.6h0m-3.6 12.1h0m-3.1-16.4h0m2-5.9h0m-4.7 11h0m3.6 2.8h0m6.5 11.3h0m3.7-7h0m-13.9 4.3h0m3.6-5.5h0m-7.4 9.4h0m-1.5-17.8h0m6.2 8.7h0m8.4 5.3h0m-4.8-9.7h0m-4.6-3h0m-1.5 2.3h0m2.5 11.1h0m3.5-25.4h0m-0.5 15.6h0m-6.4-6.9h0m14.6 7.8h0m-7.9 4.1h0m2.6-7.2h0m6.3 6.2h0m-5.8 7.1h0m-7-6.2h0m12-6.3h0m-2.7 7.6h0m-12.7 2.8h0m13.3-2.2h0m-4-4.3h0m-5.8-10.9h0m-1.2 8.5h0m7.6 8.7h0m-0.1-9.5h0m-3.7 0.3h0m-2.5 6h0m-1-0.8h0m-6.2-18.6h0m8 24.9h0m0.6-2.7h0m0.2-13.2h0m1.2 7.3h0m8.4 3.6h0m-9.9-0.8h0m-2.9 4.2h0m1.3-6.6h0m-5.8 4.6h0m4.7-11h0m5.1 7.1h0m3.9-4.3h0m-1.6 1.3h0m-11.6-2.1h0m0.5-1h0m12.6 1.4h0m-7.2 2.6h0m6.4 0.4h0m-1-3.2h0m-4.7 8.4h0m-7.5-8.5h0m11.9 10.5h0m-4.7-2.6h0m-2.6 4.1h0m3.8-11.9h0m-6.4-2.3h0m7.9 15.2h0m0.1-8.4h0m11.2 2.4h0m-16.6 0h0m-0.5 0.1h0m8.4-8.7h0m7.9 8.7h0m-14.6-1h0m0.5-5.9h0m-3.6 1.6h0m-2.1-0.4h0m4.6-8.4h0m5.3 15.7h0m-6.2-9h0m-2.6-0.2h0m9.7 1.5h0m7.6 7.8h0m-4.7-5.9h0m-6 2.6h0m2-8.1h0m2.2 0.2h0m-0.2 12.7h0m-11-14.6h0m5.2 9.5h0m6.9-0.2h0m-3.4-16h0m-0.8 14.8h0m-3.5-6h0m6.5 13.4h0m-10.7-2.2h0m-2.8 1.8h0m4.4-13.8h0m-2.1 7.2h0m13.5-2.7h0m-1.2 11.2h0m-3.5-0.1h0m-1.3-1.5h0m-3.6-3.1h0m-0.2-16.3h0m2.7 20.2h0m-2.2-21.4h0m-1.2 25.4h0m3.9-25.1h0m0.3 11.4h0m-9.2 5.9h0m10.2-0.7h0m-2-1.8h0m-0.6 3.2h0m5.7-3.2h0m-9.4-1.6h0m-2.8 8.3h0m16.4-9.8h0m-5.3 7.1h0m-3.7-0.4h0m13-4.4h0m-2.9-18.3h0m-2.2 27.5h0m-2.7-7.4h0m5.7-0.3h0m-5.2-16.5h0m-3.3 20.8h0m-4.6 4.2h0m8.5-6.8h0m-2.9 4.9h0m-6.2-2.6h0m-0.7 2.9h0m14.1-12.1h0m-7.5-2.6h0m2.5 8.7h0m-9.6-14.2h0m11.5 6.7h0m-4-2.9h0m-0.9 16.2h0m3.1-3.2h0m-3.4-19.1h0m-6.2 8.5h0m12.9 10.5h0m-12.2-6.7h0m2 7.3h0m1.3-6.2h0m3.3-11.5h0m-6.3 10.8h0m-3.5-3.4h0m3.9 1.7h0m9.3-4.7h0m0.3 11.2h0m-0.3-16.8h0m-9.6 19.5h0m1.3-10.5h0m5 8.5h0m-0.3 7.1h0m-6.2-15.3h0m13.3 4h0m-5.6 2.1h0m2.4-12.3h0m-14.9 10.3h0m11.3 7.6h0m-4.2-18.7h0m7 4.3h0m-6 21h0m-2.1-17.9h0m5.5 2.9h0m2.4-12h0m6.1 13.4h0m-7.3-4h0m7.9 2.7h0m-10.5-1.2h0m-7.8-2.2h0m11-4.4h0m-7.6 7.2h0m13.3 9.2h0m-4.5-3.6h0m-12.6-5.1h0m1.9 9.2h0m8.6-6.8h0m-0.9 2.2h0m-3.5 1.6h0m-9.6-1.5h0m10.6-11.6h0m4 12.8h0m-8.3-12.6h0m7.7 5.5h0m1.5 3.8h0m-4.5-11.4h0m12.2 11.6h0m-21-18.7h0m12.7 22.5h0m-3.3-13h0m1.8 7.6h0m2.1-5.8h0m-3.6 15.8h0m0.3-4.5h0m-2.1-4.6h0m-0.9 5.4h0m-6.3-9.6h0m11.3-4.9h0m-2.6 15.9h0m-5.7-12.1h0m3.1 3.7h0m1.5 5.7h0m3.3-19.4h0m-6.3 14.7h0m-1.6-21.7h0m-4.9 30.9h0m13-19h0m-5.4 1h0m-1.3-9.6h0m8.2 6.7h0m-4.4 16.8h0m2.6 0h0m1-4.7h0m-2.4 4.2h0m-3.5 3.8h0m-2.9-7.1h0m3.9-3.2h0m-1-5.5h0m-0.7-0.5h0m-3.6 4.2h0m8.3-0.9h0m2.7 6.9h0m-8.8-11.3h0m10.6-1.1h0m-11.3 9.4h0m4.8 3.7h0m-2.8-6.3h0m-2 1.4h0m14.2-3.1h0m-14.9 1.8h0m4.5 5.5h0m0.5-8.8h0m-5.2 4.9h0m-5.6-0.4h0m8.8 11.3h0m-1.4-15.6h0m9.9-6.3h0m-6.3 20.4h0m-0.8-15h0m4.3 5.4h0m-4.7 7.3h0m1.4-1.9h0m-4.8 8.3h0m6.7-12.6h0m2.7 0.2h0m-16.4-10.2h0m12.5 15.4h0m5.6-10.7h0m-0.4 6.4h0m-2.2-13h0m-1.9 13.7h0m-3.9 2.8h0m2.4-12.3h0m-0.1 9.3h0m-3.5 1.3h0m4.5 0.2h0m2.7 5h0m-3.4-9.8h0m2.2 4.8h0m8.4-3.9h0m-10.3 0.9h0m-1.1-10.5h0m-1.5 16h0m9.7-6.3h0m-11.5-1.1h0m4.8-8.4h0m4.7-3.7h0m-7.5 8h0m-0.2 18.7h0m2.2-8.7h0m-1.8-13.1h0m0.3 3.1h0m3.6 5.4h0m-0.3 9.9h0m-5.2-23.7h0m5.3 12.6h0m1-11.8h0m-0.8 1.2h0m-8.6 19.9h0m4.5-7.5h0m1 11.5h0m7-11.1h0m-2.2-0.8h0m-4.5-8.8h0m6.9 15.3h0m-2.2 1.2h0m1.4-14.9h0m-9.6-7.4h0m6.9 12.4h0m-1.9-10.7h0m2.4 13.8h0m-3.3-12.8h0m0.9 3.5h0m-2.6 8.1h0m2.1 0.3h0m-2.3 0.9h0m-7.8 1.7h0m17.7-4.1h0m-18.8-8.1h0m9.4-1.5h0m-5.3 16.5h0m6.2-12.4h0m-12.3-9h0m21 11.9h0m-11.9 4.3h0m0.1 7.5h0m12.1 0.2h0m-6.6 0.5h0m1.2-27.8h0m0 6.6h0m-3.6 9.8h0m1.6-6.8h0m-9.7 8.6h0m11.5-7.9h0m1.5 9.3h0m3.1-7.1h0m-2.7 4.1h0m-6 0.3h0m-1.4 0.7h0m-2.6-3.8h0m0.7 11.6h0m-7.2-10.7h0m4.4-2.1h0m1.6 4.7h0m0.7 4.2h0m3.3-4h0m3.1 11.5h0m-13.4-20.4h0m14.7 8.8h0m-2.5 4h0m-0.9 3.4h0m-1.2-2.7h0m6.6-0.2h0m-5.1-2.9h0m0.9-5.1h0m5.9-10.7h0m-13.7 1.2h0m2.7 11.9h0m-1.9 2.9h0m7.8-6.9h0m2.1 1.9h0m-5.1-2.7h0m4.4 16.8h0m-7.4 2.7h0m8.9-15h0m-11.2-1.2h0m10.8 10.9h0m-5.1-6.6h0m0.1-11h0m-6 6.8h0m4 1.6h0m1.5 8h0m3-5.4h0m-4.2 3.5h0m6.4-7.8h0m-3.6 4.7h0m1.7-10.7h0m-0.2 1.8h0m-0.2 10.1h0m0.9-9.7h0m-2.1 2.7h0m-1.5-4.5h0m4 15.5h0m-1.4-23.8h0m2.1 17.9h0m-2.8 7.9h0m-4.8-11.4h0m-0.8 6.7h0m4.4-3.3h0m-1.7 9.1h0m-0.6-18.8h0m1 8.5h0m5.6-8.4h0m-4.3 0.9h0m-4 8.3h0m1.8 6.6h0m4 0.7h0m-0.8-18.4h0m2.6 5.7h0m-9-10.8h0m12 21.5h0m-9 0.9h0m5.4-2.8h0m-4.7 1h0m-2.3 5.7h0m11-17.1h0m-12.3 17h0m12.9-14h0m2.9 3.9h0m-1.9 4.1h0m-7.6-4.8h0m-8.9 7.4h0m17.3-6.3h0m-16.5-16.6h0m16.9 6.8h0m-9.2 14h0m-1.3-2.5h0m10.4-1.3h0m-10.1-1.5h0m16-3.4h0m-18.2-3.8h0m5.8 18.2h0m-10.4-18.4h0m7.1 18h0m3-23.3h0m0.6 9.7h0m-5.2 0.6h0m4.8-10.6h0m-8.1 9.1h0m7.2-0.8h0m3.5 9.6h0m-9.8 1.3h0m5.7-12.9h0m9.7 13.7h0m-9.1-5.6h0m12.6-12.3h0m-9.7 17.6h0m0.6-10.8h0m6.2 4.1h0m-1.7-7.2h0m-15.2-1.9h0m3.8 2.8h0m-1.9 3.8h0m11.9-0.4h0m-7-1.8h0m2.3-3.6h0m-13.5-7h0m18.3 4.1h0m-5.2 12h0m2.5 7.5h0m-2.8-12h0m-5.4 1.4h0m-3.3 10.2h0m11.8-6.1h0m-13 1.8h0m7.9-23.1h0m4 9.5h0m-1.5 6.9h0m-8.3 3.3h0m8.9-1.1h0m-0.2 6h0m-0.4-4.6h0m-2.4-0.4h0m-2.1 1.5h0m4.1-16.9h0m-1.8 18.6h0m4.4-0.9h0m-5.2-4.4h0m-0.1-0.3h0m-0.5 3.5h0m-2 0.7h0m11 1h0m-1.1-2.9h0m-12.2-4.8h0m-1.7 14.5h0m5.7-14.1h0m-4.5 10.9h0m3.7-3.3h0m-5.4 5.3h0m-5.8-8.2h0m6.1-10.4h0m2 7h0m13.1-5.2h0m-18-5.3h0m12.8 10h0m5.4-3.2h0m-11.3 10.5h0m-2.5-0.6h0m0.2-12.4h0m10.4 11.1h0m3.2-3.9h0m-2-1h0m-3.4 13.5h0m-7-4.1h0m1.3 0.7h0m-2.5-5.4h0m7.2-0.8h0m-6.6-9.8h0m8.5 17.6h0m-4.6-12.4h0m0.3-0.2h0m0.4 12.4h0m-1-1.7h0m2-11.7h0m-4.7 14.8h0m0.6-3.8h0m2.3-7.5h0m4.5 5.1h0m-7.1 3.4h0m4.4-0.5h0m4.6-3.3h0m-9.1 5.1h0m5.8-7.2h0m-4 4.6h0m8.3-0.4h0m-19.1-7.3h0m13.5-1h0m-6.2-2h0m13.4-2.5h0m-10.8-1.1h0m-5.4 18.3h0m14-9.9h0m-3.1 0.9h0m-0.4 2.3h0m1.4-15.4h0m-8.2 0.8h0m5.2 3h0m-7.8 12h0m6.1-7.5h0m2 9.8h0m2.8-0.9h0m-10.3 1h0m0.6-7.2h0m8 0.4h0m-0.3 4.7h0m-1.9 3h0m-6.5-5.5h0m7.4-2.4h0m4.2-0.8h0m-5.3 6.6h0m5.7-5.4h0m-2.6 5.6h0m-6.8-0.3h0m3.1-11.4h0m1.9-1.2h0m5 2.1h0m-12-13.4h0m9.8 21.2h0m6-9.4h0m-2.7 17.7h0m-9.2-3h0m-0.6-10.8h0m7.9 12.1h0m-4.2-6.6h0m-0.2-3h0m6.7 3.5h0m-8.8-9h0m-8.1 1.4h0m6.9 0.8h0m2.1 12.1h0m6.2-2.4h0m-3.7-22.8h0m-5.1 13.7h0m12.6 13h0m-12.9-5.1h0m4.7-1h0m-3.2 6.2h0m-6.2-2.2h0m12.8-18.2h0m-9.8 6.9h0m6.6 11.4h0m0.5-12.9h0m-3.8 2.4h0m-5.2 9.1h0m3.9-8h0m-0.1-2.4h0m11.9 0.3h0m-7.3-2.9h0m0 7.4h0m5.5 3.2h0m5.7-5.7h0m-10.8 7.7h0m-5.3-8.6h0m3.8 7.5h0m1.8-0.1h0m-2.3 2.3h0m-3.9-6.8h0m-2.9 8.9h0m14.9-17.1h0m-12 4.2h0m4 1.8h0m-3.1 5.3h0m1.5 0h0m5.2-1.8h0m-7.5 8.4h0m1.3-12.3h0m-4.3 4.6h0m7.1 7.6h0m0.9-11.8h0m0.2 13.8h0m-5.5-23.2h0m0.5 24.5h0m0.8-5.5h0m4.9-17.7h0m-8.3 12h0m5 9.9h0m-7.2-8.3h0m8.9 3.1h0m-9.1-11.7h0m3.6 13.2h0m12.6-7h0m-4.5-3.3h0m-5.8 6.1h0m2.4-10.8h0m7 2.2h0m-16.6-0.3h0m11.5 2.1h0m-2.8 10h0m2.7-4.4h0m3.5-3.7h0m-5.7-1.4h0m8.9 0.9h0m-18.2-3.1h0m10.1 13.6h0m6.9-7h0m3.3 3.6h0m-4.9-16.7h0m-6 19.7h0m1.3-9.1h0m-2.5-6.7h0m5.9 8.1h0m-5.2 2.6h0m11.4 1.9h0m-6.8-4.4h0m-9.7 3.9h0m3.4 0.6h0m3.2-7.1h0m1.5 11.1h0m0.3-9.8h0m-1.9-0.1h0m2.2 4.7h0m-5.1 6.2h0m-2.6-11.4h0m1.1 6.5h0m13.8-0.8h0m-7.5-11h0m-8.9 11h0m10.5-6.6h0m-4.8-7.3h0m1.9 13.8h0m-10.5-13.9h0m7.5 3.3h0m1.3 5.6h0m-1.1 7.7h0m8.4-0.8h0m-2.4-5.3h0m2.6 4.8h0m-8.2-0.1h0m-3.4-7h0m-7.7-6.4h0m10.7 13h0m3.8 0.3h0m4.8-16.7h0m-11.8 10.5h0m1.2 11.5h0m-3.2-7h0m4-5.1h0m8.2-2.3h0m-6.5 0.7h0m10.4 1.2h0m-10.3 5.4h0m0.8-11.1h0m12.2 4h0m-16.1 4.8h0m8-11.5h0m-8.1 4.8h0m9.5 2h0m-10.9 13.8h0m-0.2-15.1h0m4.2 1.9h0m2.9-2.1h0m-6.3 15.5h0m-0.9-10.3h0m1.9-1.8h0m4.5-5.7h0m-0.7 13.2h0m2.3 3.3h0m4-15.6h0m-4.6 9.1h0m-3 0.9h0m6.1-8.6h0m-5.6 9h0m10.8-2.5h0m-17.4 1.3h0m-1.7 6h0m11.3-6.1h0m-7-12.6h0m1.5 10.4h0m-4-4.6h0m7.1 9.5h0m-7.4 8.7h0m8.4-11.5h0m2.4-15.6h0m-1.9 21.6h0m4.8-13.3h0m-4.8 6.6h0m-4.8-6.9h0m6.4 3.1h0m-8.3 5.1h0m-1.1-13.2h0m11.2 2.7h0m-13.7 13.2h0m13.2-6.3h0m-2.6 12.7h0m-7.1-16.3h0m11.1 4.7h0m-12.6-7h0m5.9 12.4h0m2-4.6h0m5.3 7.3h0m-12.5-3.6h0m11.4-0.6h0m-7.6-7.2h0m-6.2-0.4h0m14.7 1.7h0m-5.8 9.2h0m6.9-11.8h0m1.6 5.4h0m-10.2-4.9h0m1.3 1.7h0m-4.4-1.3h0m-2.9 2.6h0m0.3 1.1h0m9.4 0.5h0m-2.5-11.9h0m-6.6 14.1h0m11.6-16.1h0m2.7 20.8h0m-14.4-17.8h0m4.8 9h0m-1.3 14.8h0m2.6-18.1h0m-1.5-3.2h0m6.8 5.4h0m-11.3 9.3h0m7.1-3.8h0m8-8.1h0m-10 6.7h0m8.8 5.7h0m-14.2-6.3h0m10.1-13.6h0m-6 9.6h0m13.6 8.4h0m-15.3-15.8h0m10.8-0.1h0m1.9 13.2h0m-15.8-2.6h0m2.1 8.6h0m10.5-2.3h0m-7.8-12.2h0m1.6 9.6h0m-0.6-8.9h0m1.9 8.1h0m8.3-2.5h0m-2.8 1.3h0m-9.2-0.8h0m0.6 2.2h0m0.4 0.4h0m-2.1-13.7h0m4.3 13.4h0m4.9-10.1h0m-3.8 6h0m8.3-10.4h0m-16.4 7h0m11.6-0.7h0m2.3 13.1h0m-6 0h0m4.3-22h0m-5.9 4.8h0m5.5-3.4h0m-8.4 16.2h0m9.6-12.1h0m-6.7-7.5h0m11.8 8.8h0m-15.9-0.5h0m8.7 7.2h0m-1.2 0.5h0m2.1 5.3h0m-8.1-10.3h0m4.1 5.6h0m4.5 0.6h0m-6.8 6.2h0m-2.5-5.4h0m14.7-18.7h0m-10.6 27.1h0m7.5-4h0m-1.5-6.8h0m-1.2-5.5h0m-3.4 10.3h0m3.3 0.1h0m-1.5-1h0m-9.7 2.1h0m10.3-0.3h0m-3.3 2.3h0m-3.6-6.3h0m2.9 3.4h0m1.5-11.8h0m1.3 12.1h0m-5.4-20.2h0m-1.9 14.8h0m-4 4.9h0m6.6 2.5h0m6.7-1.4h0m-1.4 0.8h0m1.4-2.8h0m1.9 1.2h0m-1.8-2.5h0m-7.7-3.6h0m1.6-6.1h0m14.4 7.4h0m-8.9-17.1h0m-7.1 24.7h0m2.4 0.8h0m10.7-20.1h0m-10.3 20.2h0m6.2-8.2h0m1 4.5h0m-4.3-6.3h0m1.8 8.3h0m-1-24.4h0m-8.3 15.5h0m9.7 4.8h0m-0.1-21.8h0m0.9 19.5h0m-5.5-6.5h0m1.4 8h0m1.2-1.2h0m2.6-15.3h0m-5.4 4.7h0m11.2 14.9h0m-8.3-12.2h0m0.8 9.7h0m-5.8-7.1h0m4.4 5.9h0m-9.8 1.4h0m10.4-5h0m-6.2-4.2h0m3.4 12.8h0m-1.8-7.8h0m5.4-3h0m-6.8 7.9h0m3.8-10.3h0m4.1 6.5h0m-11.4-2.3h0m2.3 13.7h0m7.6-5.2h0m-2.6-3.4h0m0-8.2h0m7 1h0m-10.9 12.3h0m0.5-1.4h0m7.5-19.9h0m-8.2 14.6h0m7-1.6h0m5.3-0.2h0m-12.7-5h0m13.8 1.7h0m-2.9 10h0m-1.7-2.8h0m-4.2 5.8h0m-2-6.8h0m2.9 2.4h0m-7-6h0m7.3 1.1h0m-10.3 7.9h0m11-3.6h0m-2.7-5.1h0m2 0.5h0m8.7 3.7h0m-17.9-6.9h0m9.2-7.2h0m-1.8 3.5h0m3.1 16.5h0m-0.6-23h0m-4.3 16.9h0m5.3 2.7h0m3.7-2.8h0m-8.9-22.5h0m-1.5 14.2h0m2.9 1.2h0m-4.2 9.9h0m2.5-5.1h0m-5.7-6.5h0m3.1 9.1h0m8.2-16h0m-8 17.8h0m5.5-13.1h0m2 3.6h0m-2.1 9.2h0m-2.7-2.5h0m3.3-11.5h0m2.7 7.4h0m-3.4 7.7h0m-1.7-6.7h0m2.2-0.2h0m-2.1 9.6h0m7.2-10.6h0m-13.7 5.4h0m13.6-3.8h0m-14.1-9.5h0m2.1 1.9h0m3.7 1.7h0m7.3-0.4h0m1.4 2.5h0m-5.7 8.9h0m-3.9-9.5h0m0 15h0m0.9-7.3h0m9.8-11.9h0m-8 5.9h0m3.8 7.6h0m-8.5-1.8h0m4.5 4.3h0m-8.9-13.6h0m15.5 13.4h0m-13-9.2h0m6.1-5.3h0m-4.7 17.7h0m7.7-7.7h0m9.1-4.9h0m-16 3.5h0m2.9-0.2h0m0.4 3.4h0m-3.7-14.7h0m11.6 1.9h0m-8.7 16.7h0m0-7.6h0m-1.5 3h0m4.8-2.8h0m-3.3 3.8h0m-1.2 1.5h0m7.7-11.3h0m-11.6-6.6h0m7.5 2.3h0m3.5 4.7h0m-5 6.8h0m-2.1-0.3h0m2.2 1.9h0m-3.6 3.1h0m2.7-13.3h0m5.7 2.5h0m-1.6 2.7h0m0.7 6.1h0m-7-4.7h0m2.9 9.6h0m6.1-8h0m-8.1-10.9h0m12.8 12.7h0m-5.2-5.6h0m-15.9 2.3h0m14.2 4.1h0m-7.5 6.1h0m5.9-11.1h0m-1.1 10.6h0m3.2-6h0m-3.6 8.7h0m-4.4-9.2h0m-1.1-9.5h0m0.1 4h0m2.8-11.6h0m-0.8 22.4h0m5.5-9h0m-6.4-2.4h0m9.9-5.6h0m-12.6 18.9h0m9.7-16.2h0m-4.3 17.3h0m-6.6-6.7h0m12.7 5.4h0m-3-12.7h0m-5.5 3h0m0-4.6h0m15.9-9.8h0m-7.4 18.5h0m9.5-8.1h0m-8.7-7.2h0m-4 9.6h0m-7.4 11.6h0m7.3-15.4h0m14.5-3.9h0m-7.4 13.2h0m-10.7-4.6h0m2 10.6h0m2.5-2.7h0m-7.3-4.5h0m11.6-7.1h0m-8.3 5.4h0m-5.8-8.5h0m23.8-1.9h0m-17.6 21.3h0m1-18.4h0m-6.6 17.1h0m14.6-14.7h0m-10.6 4.1h0m9.3-10h0m-3.2-15.7h0m8.2 17.8h0m-11 4.3h0m0.4 7.4h0m4.9-11.5h0m-6 16.1h0m6.2-13.3h0m-3.5-2.9h0m2.7 6h0m-11.8-7.9h0m3.3-1.4h0m2.4 12.9h0m3.5-3.5h0m0.8-0.4h0m-2.5 10.1h0m6.3-2.9h0m-8.8-7.4h0m5.4 5.8h0m-1.6-5.6h0m0.7 0.4h0m3.4 9.1h0m-5-2.8h0m5-1.8h0m-9.8 7.1h0m5.9-19.2h0m-3 9.2h0m5.9-11.5h0m-4.6 22.8h0m-5-13.4h0m3.4 3.9h0m1.1 1.5h0m4.9 7.5h0m-1.1-10.4h0m-3.3-10.7h0m-0.1 11h0m11.3-21.2h0m-5.9 20.4h0m0.1 4.1h0m-11-7.2h0m10.6 2.8h0m-2.6 8.5h0m-6.4-0.3h0m-4.6-3.9h0m11-3.2h0m4 3.7h0m-1.7-10.7h0m-1.7 13.6h0m-3.1-4.1h0m2.3-1.7h0m0.8-0.8h0m-1.1 5h0m1.4-25.5h0m-6.4 7.3h0m-1.1 10h0m7.1 2.3h0m-1.9-2.3h0m-2.7 7.8h0m4.7-13.7h0m-8 14.5h0m12.6 0.1h0m-10.7-9h0m2.3-5.7h0m-7.3 11.1h0m12.2-11.9h0m0.9 6h0m2.3 8.3h0m-1.5-4.3h0m9.8 0.2h0m-14.7-1.5h0m-9.7-5.9h0m5.3 9.2h0m7.1-1.6h0m-8.9 1.8h0m0.5-19.7h0m-3.5 23.3h0m10.2 3.5h0m-3-9h0m3.1-13.1h0m-3.4 16h0m-2-3.8h0m3.5 3.3h0m4.8-8.6h0m-5.7 9.3h0m-0.4 1.3h0m-2.8 1h0m6.1-10h0m4.2 7h0m-12.4-10.1h0m9.4-4.2h0m-11.2 13.2h0m11.3-2h0m-5.7-4.5h0m8.2 10.9h0m-14.3-1h0m1.3-5.3h0m3.5 4.4h0m-1.1-2.3h0m6.8 3.7h0m-0.1 0.3h0m-9.2-12.7h0m3.7 14.3h0m-0.9-6.1h0m-1.6-16.7h0m6.1 15.1h0m-2.6-8.3h0m-1.2 19.4h0m2.9-0.7h0m-1.4-23.6h0m4.9 4.4h0m0.3 10.7h0m7.4 1.3h0m-10.4-18.5h0m0.2 2.2h0m11.3 8.4h0m0.5 2h0m-12 12.4h0m-1.2-19.3h0m3.8 14.2h0m-10-0.1h0m11.5-8.3h0m-1.7 0h0m-14-3.8h0m10.4 4.7h0m-1.6 1.6h0m10.5 4.4h0m-7.3-4.3h0m0.9-2.6h0m5.7-7.8h0m-1.9-1.7h0m-8.7 15.7h0m-2.6 1h0m2.6 5.9h0m5.1-16h0m-0.8-1.4h0m0.9 1.5h0m0.3 12.3h0m9-1.7h0m-13.6 3.7h0m5.9-5.9h0m-0.6-4.4h0m1.8-7.2h0m-12.7 3.7h0m1.3 7.9h0m4.5 9h0m3 0.5h0m4.8-13.9h0m-1.3-2.8h0m-0.4-2.8h0m4.3-0.5h0m-1.5 9.9h0m-2.4 4h0m-5 6.8h0m1.7-12.4h0m-0.9 11.7h0m5.3-12.5h0m-3.2-3.3h0m-4.8 12.2h0m1.4-21.1h0m2.4 11.1h0m-7.1 6.1h0m10-10.7h0m-6.1 4.2h0m8 0.2h0m-8.1-12.1h0m7.5 21.6h0m-0.4-2.7h0m-8.9-13.6h0m19.5 11.3h0m-22.7-0.7h0m15.4 5.2h0m4.6-13.4h0m-19.4-1.9h0m5.3 3.9h0m-0.6 2.6h0m-3.7 3.2h0m1.4-22.2h0m3.5 24.8h0m3.1-2.1h0m-7.6 4.8h0m1.9-1.9h0m-0.7-0.5h0m-3.9 1.2h0m22-9.1h0m-14.7 8.4h0m4.4 2.8h0m1.1-18.9h0m-8.4 15.1h0m5.8-0.2h0m-8.1-12.5h0m0.1 0.1h0m-3-3.7h0m18.6 12.2h0m-11.6-7.6h0m7.6 7.1h0m-12.2-4.3h0m2.3-0.1h0m9.7 6.5h0m0.5-7.1h0m-8.9 11.5h0m7.2-11.7h0m-11.7 4h0m11.2 0.8h0m4.3 5.4h0m-16.6-14.7h0m8.9 8.6h0m-11 6.6h0m15.3-7.2h0m-8.3-3h0m-0.2 5.8h0m1.2-8h0m1.9-6.1h0m7.6 7.9h0m-5.2 13.9h0m-1.7-19h0m-3.7 3.1h0m17.9-2.9h0m-24.1 7h0m12.6-6.2h0m0.6 0.5h0m-3.1 5.8h0m-3.8 8h0m10.7-10.2h0m-3.5 0.2h0m-11.5 2.3h0m23.6-9.3h0m-19.1 18.2h0m1.8-0.3h0m4.1-2.8h0m-8 0.6h0m10.4-8.1h0m-7.2 11.3h0m5.4 1.7h0m-4.5-1.4h0m-4.6-3h0m4.7 0.9h0m-3.3-2.6h0m-2.6 6.5h0m9.5-3.4h0m-6.7-2.4h0m15.5-3.2h0m-13.3 2.9h0m0.6 3.6h0m7.5-19.1h0m-7.8 18h0m-2.2-1.5h0m4.8-10.8h0m-0.4 16.5h0m0.9-1h0m-6-5.7h0m14.2 2.2h0m-9.5 3.2h0m5.1-13h0m-1.7 0.3h0m-11 12.3h0m4.4-10.1h0m1 12.7h0m-3.2-17.7h0m13.2 6.8h0m-7.1-2.5h0m4.2-1.6h0m2.8-4.7h0m2.9 8.6h0m-16 6.4h0m0-21.3h0m-0.9 13.9h0m8.8 0h0m-1.4 0.3h0m-5.9 3.9h0m-0.6 4.8h0m7-12.6h0m-4.7 10h0m-1.3 5.8h0m8.6-15.1h0m-1.2-3.7h0m1.6 7.7h0m-3.3 11.2h0m1.9-10.7h0m-5.9 7.2h0m3.6-14h0m-3.4 16.1h0m6.4-11.8h0m4.2-1h0m-6.9 6.3h0m-9.8-5.3h0m14.9 11.3h0m-9.3-11.3h0m5.8-4h0m3.2 7.9h0m-6.2-2h0m-6.2 0.9h0m-0.1-4h0m2.8 15h0m-0.1-3.8h0m1.2-1.1h0m3.7-6.6h0m-2.8 2.8h0m1.9-3.2h0m-1.3-12.1h0m-5.4 18h0m8 3.2h0m1.9-7.4h0m0.4 0.1h0m8.7-2.7h0m-12.1 2.3h0m-2.6-8.8h0m0.7 1.3h0m7 18.8h0m-3.8-7.4h0m-0.5-5.9h0m-1-5h0m-1.5 11.9h0m-1.8-3.1h0m3.2-3.5h0m4.2 0.7h0m-2.5-3.5h0m7.5-4.3h0m-6 16.5h0m-10.1-0.2h0m7.9 0.3h0m6.5-20h0m-2.6 1.1h0m-3.7 14.3h0m0.4-9.9h0m-8-5.8h0m10.8 14.8h0m-11.8-8.3h0m9.9 1h0m-7-0.1h0m3.4 2.9h0m-2.3 9.4h0m8.6-5.4h0m-9.2-1.6h0m1.6 11.9h0m12-11.5h0m-12.7 4.1h0m2.9-7.2h0m-5.7-3.4h0m11.9 4.4h0m-4.3 9.2h0m-10.5-9.9h0m12.9 4.6h0m-7.5-8.8h0m-0.1 15.6h0m1.6-6h0m-0.6-12.8h0m8.5 14.4h0m-6 3.8h0m0.7-5.1h0m3.5-9h0m0.9 10.8h0m7.4-5.8h0m-9.4 1.2h0m-2.3-10.2h0m1.9 16.5h0m-4.2 1h0m2.8-1.6h0m8.3-1.3h0m-9.7-14.5h0m-0.3 13.6h0m-3.2-13.8h0m1.2-3.8h0m-6 2.7h0m2.5 21.8h0m4.7-17.1h0m-2.5-4.1h0m-4.3 10.6h0m0.8-10.5h0m16.1 6.4h0m-6.2 6.2h0m2.6 4.7h0m-2.1-5.4h0m7-7.2h0m-17.8-1.6h0m0.2 6.7h0m4.2 13.1h0m4-11.5h0m11-11.2h0m-15.7 20.9h0m11.4-13.8h0m-2.6-2.4h0m-3.7 9.8h0m-4.1-17.8h0m7.8 19.4h0m-6.6 0.8h0m6.8-5.3h0m-2.6 1.8h0m-4.7-6.7h0m3.2-3.1h0m-4.5 0h0m3.9 8.9h0m-3.8-8h0m7.9 5.5h0m-8 3.4h0m4.2 4.4h0m2-0.9h0m-10.6-8.7h0m3 3.7h0m2.2-2h0m10.4 0.6h0m-14.3 6.8h0m7.3-14.1h0m4.3 0.8h0m1.2-6.2h0m-15.9 18.8h0m14.6-12.8h0m-15.9 9.9h0m3.5-2.2h0m10.3 0.7h0m-10 1.4h0m16.5-1.6h0m-13.6-10.6h0m5.8 13.8h0m-1.2-11.7h0m2.4 15.1h0m1.4-13.2h0m2.4 3.9h0m-4.3 5.5h0m0.2-7h0m0-0.5h0m3.7 4.7h0m1.3 2.9h0m-10.9-5.9h0m0.5 7h0m-6.4-9.6h0m-0.7 14.3h0m14-3h0m-5.1-10.4h0m-7.6 9.2h0m6.9-12.9h0m5-3.7h0m-10.1 0.7h0m8.3 13.5h0m-7.8 0.3h0m5.3 2.9h0m9.5-15.6h0m-6.3 7.5h0m4.5-8.6h0m-15.3 1.3h0m8.9 15.3h0m2.9-11.6h0m-8.2 5.2h0m10.2 4.4h0m-4.1-8.7h0m-4 11.3h0m8-2.2h0m-1.1-5.2h0m-7.1-6.5h0m8.6 12.7h0m-3.3 3h0m1-23.9h0m7.4 23.5h0m-7.5-26h0m-8 19h0m2.6 0h0m1 2.2h0m1.4-2.8h0m9.5-1.2h0m-14.6-18.2h0m-1.2 22.9h0m-3.9-9.1h0m14.8 12h0m-0.3-9.6h0m0.7-2.8h0m0.2 10.8h0m-7.3-0.6h0m8.1-6.4h0m-4.6-2.7h0m-1.8-2.3h0m2.3 6.8h0m-2.3-5.9h0m-4.3 12h0m8.5 4.6h0m3.4-9.7h0m-2.7-5.9h0m2.3 6.5h0m-15.4-4.5h0m-0.6 1h0m3 2.8h0m17.6 12.4h0m-8.7-17.7h0m9.1 6.9h0m-5.3-3.4h0m-10.1-2.8h0m-0.5-16.7h0m-3.6 28.3h0m6.1 4.4h0m9.3-17.3h0m-13 18.5h0m12.5-13.3h0m-1.7 4.6h0m-9.7-13.2h0m2.4 9.8h0m1.9-18.1h0m-5.1 26.7h0m4.5-13.4h0m9.5 1h0m-15.4 5.2h0m11.4 2.1h0m-9.2 2.5h0m7.6-10.8h0m0.4 4.8h0m-0.6 0.4h0m-4-5.2h0m-3.1 3.3h0m4.8 2h0m0.8-6.4h0m-1.5 11.7h0m3.9-13.9h0m-2.2 4.9h0m1.8 5.5h0m-6.1-16.9h0m0.6 0.7h0m-2.9 10.5h0m6.5 2.7h0m-0.8-1.1h0m3.2-11.2h0m-11.9 12.5h0m2.2-4.5h0m7.6-0.4h0m-5.4 9.7h0m3.8-5.9h0m-0.2-6.4h0m11.3-1.4h0m-17.9 3.3h0m10.6 5.4h0m-9.9 2.2h0m2.5-4.8h0m0.2-6.3h0m1.7 16.2h0m-4.5-5.6h0m7.7-4.5h0m6.9 4.6h0m-5-10.1h0m0.2 4.3h0m-12.8 8.9h0m8.4-0.9h0m-6.4-0.9h0m1.6-4.2h0m5.6-11.7h0m2.4 13.5h0m1.6-11.4h0m-3.3-11.1h0m1.5 24.7h0m2.8-4.4h0m-4.9-2.7h0m4.1 4.4h0m-3.1 8.3h0m-13.2-12.2h0m22.1 2.9h0m-11.9-1.4h0m4.1 9.6h0m3.4-11.9h0m-6.4 15.2h0m4.3-22.8h0m-6.1 16.8h0m-0.2-9.5h0m0.5 5.4h0m0.4-0.5h0m-2.9 1.9h0m6.7-7h0m1.9 3.3h0m4.3-10.1h0m1-2.4h0m-18.6 23.2h0m8.2-3h0m-0.6-16.5h0m-1.3 8.1h0m3.3 6.4h0m-0.2-3.2h0m-3.8-9.1h0m10.1-1.9h0m-2.6 15.5h0m-3.9-7.5h0m-5.3-1.8h0m10.4 5.6h0m1.3 3.2h0m-14-6.3h0m10.5 4.4h0m-10.4 1.1h0m4.8-4h0m4-1.1h0m0.6 4.1h0m0.6-9.5h0m-0.9 13.9h0m-5.6-1.7h0m5.5 0.4h0m0.9-8.1h0m-5.5-6.3h0m-7.2 11.8h0m7.3-3.6h0m11.1 1.3h0m-8.5-4.5h0m8.3 1.3h0m-14.1 6.5h0m5.9 2h0m0.3-16h0m0 9h0m2.2-5.8h0m-0.3 3h0m-6.3 10.4h0m4.5-2.1h0m-1.1-5.9h0m1.3 9.7h0m-0.9-7.6h0m-1.5 1.8h0m7.5-3.5h0m1.8-2.7h0m-8.1 4.7h0m4.4 3h0m-1.3-13.6h0m7.4 8.9h0m-13.5-0.9h0m-3.9-4.3h0m9.6 11.9h0m-6.9-5.3h0m-5-1.8h0m6.3-1.5h0m3.8-10.2h0m-1.3 8.6h0m-5 6.9h0m11.7-4h0m-7.7-7.8h0m1.8-2h0m1.2 6.3h0m6.5-9.9h0m2.9 8.6h0m-12 10h0m-0.4-11.6h0m6.9 3.9h0m-0.4-2.5h0m-5.8-9.1h0m5.2 4.4h0m0.9 8.3h0m-11.3-2.2h0m1.6 2.1h0m4.9 8.6h0m-3.5 0.9h0m4.1-7.3h0m3.9-3.2h0m-12.7-1.4h0m4.4-1.2h0m16.1 4.9h0m-7.5 6.6h0m-5.8-6h0m3.7-15.1h0m-4.8 13.3h0m10-5.6h0m2.8 10.8h0m-16.8 2.6h0m5.4-7.4h0m3.5 1h0m3.4-11.3h0m-7.3 5.1h0m7.2 3.3h0m-5.4-1.4h0m-3.5 8.6h0m3.2 0.5h0m2.9-6.7h0m-5.5 9.1h0m3.8-5.7h0m7-12.7h0m-2.6-1.2h0m-16.9 5.4h0m16.1 10.2h0m-0.2-0.7h0m-6.2-14h0m3.6 11.2h0m-3.6-2.8h0m-1.9 4.8h0m-3.7-8.6h0m5 12.5h0m4.3 3.1h0m6.9-5.3h0m-11.1 2.6h0m6.5-7.2h0m-4.8-2.1h0m3.6 3h0m-4.1 0h0m4 6.2h0m-0.3-4.3h0m-1.9-1.8h0m4.8 3.8h0m-13.3-8.3h0m19.8-6.9h0m-12.9 18.8h0m7-16.8h0m-7.6 9.5h0m-4.3 8.4h0m0.6-15.8h0m2.3 10h0m-5.6-12.7h0m13.1 17.2h0m-7.3-9.3h0m-0.4-2.1h0m7.1 5.8h0m4.1 0.6h0m-15.1-9.3h0m8.9 3.1h0m-1.7 1.7h0m-3 9.5h0m7.6 3.4h0m-1.3-12.8h0m-8.4-8.3h0m6.2 17.5h0m-3.9 0.8h0m0.4-7.2h0m4.9 1.8h0m-0.6-0.1h0m-1.5-14.3h0m-6.3 23.8h0m9.3-11.3h0m0-2.7h0m-0.6-11.7h0m-3.3 6h0m2.9 10.5h0m3.5-9.6h0m0.9 4.1h0m-5.3 3.6h0m7.1-6.8h0m-6.3 2.8h0m5.8 3.1h0m-6.7-5.7h0m0.9-1.4h0m5.6-8.2h0m0.7 5.7h0m-10.6 20.6h0m2-13.3h0m10.4-2.1h0m-7.3-0.1h0m-10.8 0.8h0m9.7 7.1h0m-5.9-2.2h0m0.9 1.8h0m1.1 8.5h0m11.5-14.4h0m-9.6 3.8h0m1.8 4.6h0m1-1.3h0m-11-2h0m6.5-6.1h0m10.1-10.3h0m-8.7 1.4h0m1.1-2.2h0m0.1 18.4h0m-1.1-10.5h0m-2.3 4.6h0m6.3 11.1h0m-6.7-10.4h0m3.9 7.9h0m-1.3-17.2h0m8.3 7.4h0m-6.6-4.1h0m-0.3 5.2h0m-3.6 0h0m7.7 1.4h0m-2.1 5.1h0m-4-4.5h0m-5.8-0.4h0m1.6 6.8h0m5-3h0m1.5-6.4h0m-3.1-1.4h0m-2.1 2.9h0m6.5-3.4h0m4.4 3.2h0m-1.8-0.1h0m-12.6 7.2h0m-3.7-5.7h0m6.9-11.5h0m1.2 12.9h0m1.8 5.1h0m-1.5-8.9h0m-3.7-5.2h0m10.8-2.5h0m-6.7-3.1h0m-0.6 9.3h0m8-0.1h0m-3-0.5h0m2.6-0.9h0m-3-3.1h0m-0.1 14.1h0m7.6-0.4h0m-13.9-15.4h0m6.3-1.5h0m-8.7 12.5h0m10.3 8.4h0m-11.8-7.2h0m-3.2 1.3h0m16.1 0.3h0m-4.7-11.7h0m5.5-4.7h0m1.5 7.1h0m-6.1 7.3h0m3.3 0.7h0m0.4 5h0m-7.3-9.2h0m-3-7.1h0m5.5 14.5h0m8.3-8h0m-4.3-1.8h0m-12.2 7.7h0m9.8-21.5h0m2.5 10.6h0m4.7 1.8h0m-7.9 7.7h0m-8.2-4.7h0m3.4 0.6h0m3.9-4.6h0m3.1 14h0m-4.6-5h0m-0.3-0.9h0m-0.5-3.5h0m3.1 5.6h0m2.4-6.8h0m1.1-5.6h0m-7.1 5.8h0m8.6 0.9h0m-2.8 14.7h0m7.5-10.9h0m-8.6 9.4h0m2.8-13.3h0m-7.5 8.9h0m-1.7-9.4h0m0.2 2.5h0m6.9 14h0m-3.1-2.5h0m-1.5-17.2h0m8.7 5.5h0m-2.1-3.1h0m-8.9-6.5h0m1.5 17.2h0m2-11.7h0m11.7 4h0m-6.9 6h0m-4.4-19.6h0m-2.7 13.3h0m-1.9 10.9h0m5.1-17.7h0m-1.9 10.2h0m8.7 2.2h0m-9.5-7.9h0m0.4 15.3h0m5-21.2h0m-5.3 5.3h0m-5.2-3.7h0m9.8 5.4h0m-1.6-2.2h0m-0.4 0.3h0m1.1-5.3h0m3.2-4.2h0m1.6 21.9h0m-9.6-0.2h0m8.7-17.2h0m-15.5 11.3h0m18 4.5h0m-13.8-1.9h0m4.2 9.3h0m-0.9-6.6h0m0.9-16.3h0m3.2 8.4h0m6.9-6.5h0m-2.8 1.3h0m-12.1-2.5h0m11.8 5.3h0m-9.3-1.8h0m4.1-1.8h0m-2.4 3.6h0m8.6-3.3h0m-12.1 0.3h0m8.6 2.1h0m6.5-4.1h0m-7 12.2h0m6.9-9.2h0m-14.9 1h0m11.2 8.3h0m-13.2-19.5h0m0.8 11.9h0m18.7 12.2h0m-9.2-14.2h0m-1.4 7.5h0m6.5 4.6h0m-14.8-7.6h0m17.2 0h0m-16.3-0.9h0m7.9-0.8h0m-8.9 15h0m12.6-10.5h0m-3 1.3h0m4.9-1.6h0m-7.4-11.9h0m5.3 11.5h0m-1.6-3.1h0m0.4 10.8h0m-8-12.1h0m1.5 10.1h0m-1.2-9.8h0m5.9 11.2h0m-8.2-7.4h0m13.2-9h0m-2.7-5.9h0m-3.3 6.3h0m0.5 12.1h0m4-15.9h0m-9.7 16.3h0m4.2-5.2h0m3.1 5.8h0m-1.8-5.1h0m-9.1-19.3h0m8.4 15h0m-1.1 9.4h0m5.1-0.2h0m-5.6-7.4h0m5.3 3.3h0m-8.2 7.7h0m9.1-4.8h0m-7.9 4.4h0m12.3-7.4h0m-18.3 11h0m10-7.1h0m1.1-4.1h0m-9.2 2.4h0m5.9 2.7h0m0.6-6.5h0m-1.1 4.3h0m6.7-4.5h0m-3.3-5.5h0m-4.9-10h0m0.1 3.1h0m-6.1 6h0m10.4 5.4h0m3 15.4h0m-7.2-6.8h0m9.2-9.5h0m-13.6-2.5h0m9.3-0.8h0m-6.6 10.7h0m9.1-22.8h0m-0.9 10.5h0m5.9 2.2h0m-8 1.1h0m3.2 2.2h0m-3.9 9.5h0m4.4-4.6h0m3.6 0.7h0m-3.6-10.7h0m-3.4 11.9h0m0.8-9.3h0m2.3 0.6h0m-3.7 7.4h0m-10.3 4.8h0m6.6-17.4h0m5.1 6.5h0m3-6.6h0m-9.2 5.8h0m5.8 9.1h0m-8.7-14.5h0m8.3 6.5h0m-1 2.9h0m0.8 0.1h0m13.3-9.2h0m-17.5 18.5h0m1.8-6.2h0m-2.7-3.6h0m9.2-1.2h0m-6-6.8h0m-5.2 9.9h0m7.9-16.3h0m-0.6 19.7h0m-4-5.2h0m6.7 8.2h0m-5-11.4h0m-7 17.5h0m2-8.5h0m12.4-3.6h0m-12.2 5.4h0m5 4.8h0m-2.3-9.3h0m1.9-1.1h0m4.2 2.2h0m3.9-20.3h0m-11 28.9h0m0.3-12.1h0m9.1-4.5h0m-7.7-9.1h0m-3.1 8.8h0m1.1-4h0m7.9 6h0m-2.2-3.7h0m-4.4 4.1h0m-1.3 2.1h0m-5.6-2.8h0m0.5 3.7h0m2-0.7h0m9.9-10.4h0m5.4 10.2h0m-0.6-21.1h0m-4.9 16h0m6.7 9.4h0m-7.2-5.5h0m-7.7-1.3h0m9.1 5h0m5.7-18.5h0m-6.6 23.6h0m-1.8-7h0m-2.9-4.7h0m9.7 4.6h0m-2.2 4.2h0m-3.8 0h0m-3.3-7.8h0m6.5-11.9h0m1.7 5.9h0m-10.2 11.7h0m-0.6-5.5h0m5.7 9.2h0m1-10.6h0m-10.1-0.1h0m2.9 8.4h0m6.1-2.2h0m0.1-9.2h0m3.1 0.1h0m-4.7 16.8h0m-2.9-10.3h0m-1.2 4.4h0m-0.4-4.7h0m4.7 6.9h0m-4.1-12.9h0m8 2.2h0m3.9 2h0m-8.3 7.6h0m-3.5-3.7h0m6.4-6.3h0m-4.2 10.1h0m-0.3 0.7h0m-2.9-2.6h0m-3.6-8.9h0m15.8 5.8h0m4.3-3.2h0m-15.6-1.4h0m-1.2 1.2h0m3.3-1.7h0m-1 13.5h0m4.1-5.9h0m-0.5 2.2h0m-5-8.7h0m13.4 0h0m-6.3 5.7h0m-7.8 4.6h0m2.1-15.9h0m-1.6 11.3h0m12.5-7.3h0m-12.3 5h0m0 0h0m6.3-1.1h0m4.8 2.1h0m-4.8-14.2h0m4.1 20.9h0m-5.5-19.3h0m3.7 17.1h0m4.8-3.5h0m2.5 7.3h0m-7.7-11.5h0m7.2 4.2h0m-13.6-12.5h0m0.9 12.8h0m-3.3-4.4h0m13.9-8h0m-11.6 6.8h0m0.7-0.7h0m1.3-8.3h0m5.7 18.8h0m-4.1-11.9h0m-1.8 5.4h0m5.1-17.2h0m2.4 2.5h0m2.7 16.3h0m-6.6-3.8h0m-0.6-1h0m-5.8 4.6h0m-6.1-5.2h0m3.9 3.3h0m5.7 2.4h0m-2.5-7.1h0m-0.6 7.7h0m3-2.5h0m-7.1 8.3h0m10.8-6.8h0m-3.6-7.6h0m-0.2 16.3h0m0.5-11.9h0m-3.9-0.8h0m11.1-7.5h0m-8.9 21.8h0m3.4-19.2h0m-4.7 3.4h0m2.1 0.1h0m1.3 0.6h0m-6.3 1.9h0m9.2-1.5h0m-0.4-2.7h0m0.1-5.7h0m-3.7 8.9h0m0.1 2.2h0m-2.9 5h0m4.6-16.3h0m3.1 18.2h0m-2.9-7.3h0m-5.2 6.5h0m3.1 5.5h0m-1.8-4.9h0m7.1-7.1h0m-10.4-4.5h0m-1 15.1h0m3.2-14.3h0m2.5 3.1h0m3.1 9.1h0m2.1-9.5h0m0.4-7.3h0m-11 7.8h0m-0.2 10.6h0m12.7-2.3h0m-18.8-12.7h0m11.8 2.5h0m-6.6-6.2h0m3.1 3.8h0m4 0.5h0m5 10.3h0m-3.9-9.7h0m10.9 4.5h0m-9.1 0h0m3.2-16.5h0m-12.8 30.7h0m5.6-2.9h0m-2.3-19.4h0m1.7 4.6h0m7.1-6.8h0m-16.5 15.7h0m11.6-1h0m-2.2-12.8h0m9.4 16.3h0m-13.1-8.4h0m3.5-0.8h0m-0.4 5.6h0m4-2.9h0m-0.7-1.5h0m6.8 1.4h0m-2.1-2.2h0m-1.7-4.7h0m0.3 8.8h0m-8.5 5.8h0m3.6-11.5h0m1.9-7.5h0m-1-2.3h0m0 20.7h0m4.5-1.9h0m-12-2.4h0m13.3-8.4h0m-5.6-3.9h0m3.8-6.4h0m2.2 17.8h0m-6.9-1.5h0m5.2 0.1h0m1.5 5.5h0m-4.4-12.2h0m-3.6 12.1h0m7.4-5.6h0m-8.1 1.6h0m6-7.5h0m-3 0.6h0m5.8-6.3h0m-1.6 1.6h0m7.3 6.7h0m-15.6 3.3h0m6.7-10.5h0m-2.8 5.5h0m10 6.5h0m-8.2-3.9h0m7.6-6.5h0m-6.3-15.8h0m-5.9 20.9h0m3 3.6h0m4-12.1h0m-9.6-0.4h0m6.4 17.8h0m-1.5-3.7h0m1.3 4.7h0m-2.9-9.6h0m-6.5-1.2h0m10.6-5.1h0m0.8 14.1h0m-5.7-16h0m0.2 19.1h0m7.7-12.4h0m-4.8 8.9h0m1.1-18.4h0m6.9 18h0m-12 0.5h0m2.3 0.8h0m6.9-4h0m-1.3-7.9h0m-4.4-0.6h0m8 8.1h0m-9-6.7h0m1.2 5.7h0m7.1 1h0m-7.3-3.2h0m9.4-3.8h0m-12-2.1h0m3.4 1.3h0m-3.6 7.2h0m8.2-0.1h0m-9.5-10h0m1.2 17h0m7.4-0.9h0m-5.1 1.7h0m0.3-18.6h0m2 2.6h0m3 13.5h0m-5.2-9.2h0m1.8-0.8h0m9.1-2.2h0m-6-10.1h0m-4.4 23.8h0m1.2-13.8h0m-9.2 18h0m3.9-14.5h0m1.4-0.5h0m19.2-8.5h0m-18.1 5.1h0m10.8 9.5h0m-16.9-5.1h0m11.1 4.3h0m-13.6-9.2h0m9.4 3.7h0m-2.8 7.4h0m4.1-7h0m-6.4-5h0m-2.7 3.5h0m12.4-5.2h0m-7.7 8.4h0m4.8-0.8h0m2.7 6.6h0m-4.6-4.1h0m1.6-11.2h0m-4.4 13.1h0m3.1-4.6h0m0.8-0.3h0m-2.1 0.7h0m-3.6-7h0m5.1 2.1h0m3.7 3.3h0m-8.4 7.6h0m-2-12.7h0m15.3 14.8h0m-6.6-20.6h0m2.1 19.8h0m-0.9-6.1h0m-0.3-4.1h0m-3.3 9.9h0m7.1-10.2h0m0.6 5h0m-6.7 0.7h0m7.1 2.4h0m-5.5-11.2h0m-7-0.4h0m-4-0.7h0m12 1.8h0m5.5 4.6h0m-1.5 16.5h0m0.3-24.8h0m-8.9 5.6h0m3.8-3.2h0m2.3 1.4h0m-7.9 16.7h0m2.4-9.6h0m9.6 1.5h0m3.5 1h0m-17.2 7.5h0m11-18.3h0m5.7-0.6h0m-10.9 14.1h0m-1.1-5.8h0m-3.4-0.4h0m1.9 9.9h0m3.8-19.3h0m-3.3 18.3h0m-1.7 1.6h0m3.1-8.9h0m9.7-13.3h0m-13.5 17h0m-3.1-6.4h0m6.4 4.9h0m5.7-1.4h0m-7.2 0.9h0m-4.6 10.4h0m8.2-12.4h0m-5 8.9h0m9.5-12.9h0m-0.4-7.6h0m1.9 17.4h0m1.1-11.8h0m-6.9-3.8h0m-0.3-1.7h0m0.4 12.3h0m2.7-1.9h0m-2.5-3.5h0m5.6 6h0m5.6-7.5h0m-8.4 13.2h0m-9-10.8h0m0.8 6.8h0m-5.3-8.8h0m5.5 16.3h0m5.4-16.3h0m-11.5 13.3h0m15.9-5.9h0m-1.1 6.1h0m-11.9-18.4h0m11.3 21h0m-9.6-22.9h0m8.8 10.4h0m-2.4 10.4h0m-2.2-11.1h0m10.2 4.3h0m-11.7 2.5h0m11-7.1h0m-9.1-2.4h0m6 12.8h0m-12-10.9h0m7.9-13.4h0m-5.2 20.2h0m5.2 4.1h0m-1.1-15h0m-8.7 16.1h0m12.2-14.5h0m4.9 4.2h0m-9.2-5.1h0m2.9 5.7h0m8.1-3h0m-12.4 8h0m2.2-7.2h0m3-6h0m-11.7 7h0m4.8 7.2h0m6.7-2h0m2.6-8.3h0m-8.7 14.4h0m6.3-19.2h0m-8.2 18.9h0m1.5-19.3h0m-6.8 11.5h0m14.5-25h0m7.3 19.3h0m-6.8 2.9h0m2 2h0m-7.3 2.2h0m4.5-17.3h0m-2.8 15.9h0m-2.8 1.6h0m2.9-2.6h0m-6.8-2h0m7.9-2.2h0m0.3 10.4h0m-8.1-20.3h0m7.2 6.3h0m-4.6 5.8h0m-7.2-9.4h0m9.1-4h0m-4.1 18.1h0m16.7-5.7h0m-14.4-8.7h0m4 9.7h0m-7.1 0.2h0m-2.9-0.2h0m20.3 5.9h0m-7.9-12.8h0m1.3 8.5h0m4.3-4.8h0m-13.8 0.5h0m1.2 0h0m1.2 5.4h0m2.5 1.7h0m2.6-4.8h0m-3.3 3h0m-0.5-11.5h0m14.2-2.9h0m-13.6 25.8h0m6-13.9h0m-3.8 0.9h0m-5.3-1.2h0m2.9 2.2h0m-4 7.6h0m0.2-6.1h0m2 0.4h0m-0.7 3.1h0m1.5-7.1h0m-3.5 6.5h0m7.6 0h0m-1-16h0m-3.9-10.5h0m2.8 19.5h0m-3.1-5.7h0m2.6 12.4h0m-1.6-7.8h0m2.6-6.2h0m0-6h0m-0.9 17.1h0m0.5 9h0m-7.7-11.9h0m5 4.8h0m3.8-4.7h0m4.5 8.6h0m-3.4-9.6h0m4.7-0.8h0m-1.6-20.2h0m0 25.6h0m-13.4 0.3h0m4.8-3.8h0m4.1-7.2h0m-4.6 9.3h0m4.9 9h0m-3-12.2h0m-1.8 12.5h0m5.4-10h0m4.4-9.7h0m-9.9 23.4h0m13.9-13.8h0m-12.9-9h0m0.1 8.1h0m0.8-1.3h0m0.7 8.7h0m-2.6-12.5h0m7.5-5.9h0m-4.3 14.9h0m-1.2-7.8h0m5.5 5.5h0m-6-7.8h0m6.1 1h0m-8.7 13.8h0m13.3-7.2h0m-17.7 9.1h0m4.5-4.6h0m2.2-21.2h0m8.4 20.8h0m-0.1-4.9h0m-13.3 5h0m11.8-2.4h0m-4.3 5.7h0m-3.5-5.3h0m5.7-0.5h0m3.6 2.7h0m-4.8-4.4h0m-8-1h0m17.5-0.1h0m-17.9-14.3h0m3.1 20.8h0m9.7-7.2h0m-1.4-2.4h0m-2.5-2.3h0m0.3-4h0m0.7 13.6h0m-4.6-3.3h0m10.6-8.5h0m-11.9 10.6h0m10.5 2.6h0m-11.5-7h0m9.8 1.4h0m-7.2-6.4h0m2.8 5.2h0m-3.3 1.8h0m-7.2-10.4h0m17.9 9.6h0m-0.9 0.5h0m-2.7 8.3h0m-4.9-1.9h0m-1.5-7.7h0m2.1 5.9h0m-10.1 3.4h0m13.6-4h0m-12-3.1h0m16.2 2.7h0m-8.6-1.7h0m9.9-10.4h0m-10 0.8h0m8.4-2.7h0m-5.5 9.5h0m-0.1-1.9h0m-1.7 0.4h0m0.9 4.6h0m4.3 1.1h0m-12.5-10.9h0m3 16h0m7.4-14h0m-0.8-1.1h0m-0.4-4.5h0m-3.1 4.2h0m-1.9 5.4h0m-0.3-8.4h0m7.2 14.3h0m2.3-1.3h0m-4.1-3.7h0" fill="none" stroke="#f01010" stroke-width="0.75" stroke-linecap="round" opacity="0.85"/>
<path d="M330.3 363.6h0m1.7-2.6h0m-5.1-15.1h0m2.4 21h0m-7.3-1.8h0m-6.8-13h0m0.6 6.5h0m0.9-29.8h0m12 27.3h0m7 7.7h0m-8.6-5.6h0m-5.4 7.8h0m6.2-8.9h0m0 5.7h0m14.6-7h0m-1.5 9.9h0m-1.5 4.5h0m-23.8-9.7h0m22.2-2.8h0m-18.8 10.8h0m-0.4-9.8h0m-6 5.8h0m10.9-9.3h0m19.7 5.3h0m-19.9 15.3h0m-7-2.7h0m21.2-27.8h0m-19.2 28.7h0m0.7-2.1h0m9.7-4.1h0m4.7-24.4h0m-11.8 6.5h0m12.5 21.1h0m-14.5-24.7h0m14.6 12.3h0m-21.6 2.2h0m4.9-6.5h0m10 4h0m14.3-21.1h0m-20.4 27.7h0m1.6-17.5h0m6.7 7.9h0m-12.7 1.4h0m24.7 12.2h0m-3.8-14.1h0m-24.5 14.4h0m17.3-15.4h0m-2.3 13.6h0m0.8-13.5h0m9.6-2.5h0m-7.1 7.8h0m-13-2.5h0m5.6 2.8h0m-0.3 13h0m-7.7-22.4h0m9.7 4.7h0m11.4 6.2h0m-5.3-5.1h0m2 19.4h0m4.3-31.6h0m-10.7-1.4h0m-9.9 13.1h0m1.3 0.7h0m21.7-3.3h0m-12.2 20.1h0m-2.7-4.9h0m-5.8-12.3h0m5.2 18h0m6-0.9h0m-13.4-4h0m-4.4-14.8h0m19.9 4.2h0m-4-5.2h0m24.9-3.7h0m-29.7 21.1h0m-9.9-0.9h0m30.3-34.8h0m-13.1 41h0m-1.5-25.9h0m4.3-0.4h0m9.2-0.6h0m-22.6 7h0m9.1 4.4h0m-9.5-9.2h0m7.7 25.2h0m8.9-24.3h0m-2.8 14.8h0m0.2-4.1h0m-14.8-8.7h0m-1.2-1.7h0m7.6-4h0m-3.2 11.4h0m1.7-0.4h0m-1.2-7.4h0m-1.5-8.9h0m-5.6 27.1h0m11.2-8.9h0m1.1-11.3h0m0.9 13.4h0m-5.7 4.3h0m10.6-3.4h0m-15 1.6h0m-1.7-7.8h0m14.4-6.1h0m-8.4-3.9h0m13.5 2.4h0m-13.1 6.8h0m6.8-6.8h0m-6.6 6.8h0m2.3 5.9h0m0.6 0h0m-7.8-11h0m7.8 4.4h0m0.2 13.5h0m-5.3-19.2h0m2.7 15.3h0m-8.8-6.4h0m3.2-7.5h0m-4.4 6.7h0m11.9-13.9h0m0.8 18.2h0m-15.1-8.6h0m26.4 12.1h0m-13.1-6.7h0m1.2-0.1h0m-7.5-3.9h0m-2.3 12.9h0m-4.6 5.1h0m17.1-11.7h0m-2.1-6.9h0m-2.5 2.7h0m9 3.1h0m-14.4 2.8h0m11.6-5.8h0m-10.4 24.1h0m2.8-24.7h0m-6.7 9.7h0m8.9-4.9h0m6.6 11.8h0m-13.4-12.5h0m7.6-12h0m9.1 17.5h0m-17.6-8.4h0m-2.8-12.8h0m11.5 5.9h0m-10.5 11.9h0m6.7-4.1h0m-7.2 11.3h0m12.4-13.2h0m-14.6-8.2h0m10.1 8.4h0m4.7 19.8h0m-8.5-3.5h0m-7.3-14.3h0m11.6 7.2h0m-7.6-8.9h0m20.4 0.9h0m-8.1-3.2h0m-2.1-7.4h0m2.9-2.2h0m0.2 1.6h0m2.2 22.7h0m2.2-16.1h0m0.8 1.5h0m-9.2 15.7h0m5.3-10.3h0m-9.7-1.8h0m10.2 12.8h0m-10.1-24.1h0m-3.2 6.2h0m23.1-5.8h0m-13.5 16.3h0m-2.3 3.2h0m17-7.4h0m-25.3 9.4h0m24.1-8h0m-19.7-3.3h0m3.4-0.5h0m10.1-4.3h0m6.1 10.1h0m-8.3 6.4h0m-7-14.3h0m10 7.2h0m-19.8 3.7h0m4-11.7h0m14.3 5h0m-22.7-7.5h0m3.5-7.9h0m7.3 9.8h0m-5.5 8.6h0m22.4 9.9h0m-17.5-6.2h0m0.7 8.5h0m4.6-10.3h0m1.2-5.5h0m9.6-0.5h0m-16.8 4.1h0m0-11.2h0m13.6 13h0m-16.2-6.5h0m-2.1 8.2h0m20.9 0.7h0m-11.5-6.9h0m2.2-5.1h0m-5.2-3.8h0m12.1-1.5h0m-6.7 7.2h0m-0.4-4.4h0m-0.9-6.7h0m6 2.7h0m-2.1 17.7h0m-11.7-7.3h0m14.8 3.7h0m-1.4-6.8h0m-15.6 2.7h0m11.6-11.1h0m-4.3 9.6h0m-3.4 8.9h0m-2.7-12h0m10.8 0.6h0m7.1 0.6h0m-14.9 8.1h0m12.6-15.7h0m-16.9 32.2h0m9-21.7h0m-1.2 2h0m-2.9-3.8h0m3.3-13.1h0m-5.3 6.6h0m17.7 14h0m-20.5-6.1h0m3.8-7.7h0m19.9 8.4h0m-21.9-1.7h0m3 10.2h0m-5.1-10.4h0m4.1-0.9h0m-6.2-12.2h0m7.2 15.4h0m0.5-2.5h0m3.7 0.9h0m2.3-5.2h0m-0.6 10.4h0m-11.8 0.9h0m2.1-13.2h0m10.1 7.6h0m-12.9 7.2h0m2-5.5h0m0.8-16.6h0m6.5 19.5h0m23.6 0.5h0m-26.1-6.4h0m-0.9 10.4h0m-3.6-8.1h0m15.4 5.2h0m-10.1 0.4h0m-4.4-5h0m16.4-3h0m-12.7-6.4h0m1.7 6.6h0m7.1 11h0m-6.6-6.6h0m-11.6-5.9h0m13.9 0.1h0m-2.4-3.9h0m12.4 21.8h0m-2.7-30.8h0m-11.9 14.1h0m4.6 1h0m7 2.6h0m-14.4 7h0m-4.5-23.1h0m4.8 18.7h0m14.6-0.8h0m-14.6-2.6h0m15.5-2.1h0m2.3 6.1h0m-8.8-11.5h0m-8.6 9.7h0m19.6-23.3h0m-25.4 15.6h0m0.3 8h0m20.8 5h0m-12.3-14.3h0m4.2 0.1h0m-10.1 9.6h0m8.7-17.5h0m-0.4 6.5h0m3.6 10.6h0m-1.3 1.9h0m-5.9-6.7h0m1.8 3.3h0m16.5-6.6h0m-10.3-1.9h0m-6.7 10.5h0m-4.7 3h0m2.6-15.9h0m11.5 5.8h0m-7.6-1.7h0m-1.3-1.8h0m-5.2 7.7h0m4.8 7.8h0m-7.4-1.1h0m19.6-7.7h0m-6.6-7.1h0m-15 10.2h0m11.2 2.6h0m2.8-17.5h0m-6.7 5h0m0.8-1.4h0m6.4 13.2h0m-0.5 2.4h0m3.6-9.8h0m-13.8-7.6h0m11.6-0.2h0m7.2 6.8h0m-13.1-2.9h0m-3.9 16.4h0m0.6-7.5h0m-6.6-3.5h0m6.3 9.7h0m-4.9 0.2h0m12.9 2.2h0m-13.8-4.5h0m4.3-16.8h0m2.5 10.2h0m8.3-1.4h0m-1.7 20.6h0m-0.8-32.2h0m-2.3-2.3h0m-0.3 0.1h0m-2.8 26.2h0m8.8-7h0m0.1-9h0m-18-4.3h0m15-0.3h0m-2.9 17.7h0m-1.9-2.8h0m1.7-10.6h0m-6.8 23.8h0m0.2-2.5h0m8.9-4.4h0m-12.5-12h0m18.1 6.6h0m-11.3-1.5h0m1.8-1.2h0m0.2-12h0m-10.7 12.4h0m17.9 2.4h0m-8.1-14.4h0m6.6 14.6h0m-2.7-8.9h0m-5.7-10.8h0m3 21.2h0m13.4-11.4h0m-15.6 21.8h0m6.8-24.3h0m-10.8 0h0m1 16.7h0m9.2-6.4h0m-0.3-3h0m-0.9-13.7h0m-4.8 0.3h0m11 11.2h0m-5.3-5.3h0m-6.1-5.3h0m-1.7 25.6h0m9.5-5h0m-0.6-15.2h0m0.9 9h0m-2.7-10h0m1.7-6.5h0m16.1-5.6h0m-25.1 34.1h0m-1.6-11.9h0m-1.2 7.7h0m28.4-16.2h0m-18.7 9.2h0m-4.3-2.9h0m-4.3 10.9h0m24-6.8h0m-16.3 0.9h0m-12.9-3.5h0m7.2-10h0m13.7 2.5h0m5.4 9.8h0m-6.4 11h0m-12.4 0.9h0m4.2-7.8h0m-3 9.8h0m19.5-16.2h0m-15.1-8.2h0m-0.2 6.2h0m1.1-4.6h0m-5.1 16.2h0m8.3-8.4h0m-13.9-9h0m18.6-9.2h0m-17.7 18.7h0m19.4-17h0m-3.2 5.1h0m-10.4-8.7h0m-4.1 14.5h0m9.4-2.1h0m-5.4-0.8h0m4.8 16.7h0m-12.9-8.7h0m8.1-10.5h0m8.6 5.6h0m1.4 6.3h0m-18.9 3h0m-1.4 2.3h0m17.7-17.5h0m-1.4 6.2h0m-10.9-7.3h0m13.1 14.4h0m5.4-6.3h0m-11.6 4.3h0m-3 4.5h0m9.9-17.6h0m-10.8 15.3h0m6.1 0.9h0m-5.7-11.3h0m0.4-11.4h0m5.2 6.4h0m4.5 7.2h0m-13.6-3.2h0m5.5-7.2h0m-4 8.8h0m8 14.2h0m-4.3-23.1h0m13.8 11.5h0m-9 3.1h0m11.9 4.3h0m-0.6-3.2h0m-13.6-6.5h0m-1.3 4.6h0m0.8 1.2h0m11.2-5.6h0m-2.9 3.7h0m-15.5 2.8h0m13.5-12.3h0m-15 25.5h0m20.6-9.1h0m-18.7 13.4h0m-5.6-14.9h0m28-8.8h0m-14 7.6h0m-1.1-10.7h0m-7.6 18.7h0m-0.4-12.4h0m1.3 0.1h0m7.1 4.4h0m-6.1-5.8h0m5.1 3.5h0m1.7-2.2h0m3.1-10.4h0m-4.5 11.4h0m1.4-4.4h0m-3.7 0.6h0m6.1 8.6h0m1.2-5.7h0m-9.1 13.2h0m-0.2-8.2h0m1.8 5.5h0m-3.1-27.9h0m3.3 19.8h0m11.7-0.1h0m3.7 1.5h0m-16.1 1.4h0m2-10.6h0m2.5 1h0m3.1-10.1h0m-2.3 25.1h0m-8.7-12.4h0m6.5-0.5h0m-1.1 4h0m4.7 0.5h0m-6.4-4h0m1.4-2.4h0m-5.9 1.4h0m6.2 7.8h0m-1.2 2.8h0m1.5-7.5h0m-0.4 7.2h0m3.6-7.4h0m17.5 5.4h0m-21.8-3.8h0m-3.5 1.1h0m29-5h0m-9.4 11.7h0m-8.3-14.5h0m4.7-5.3h0m-16.9 7.3h0m9.4-18.1h0m-3.1 35.9h0m13.5-20.4h0m-4 11.4h0m2.5 6.9h0m-11.7-9.6h0m-7.1-10.7h0m4.3 16.3h0m-4.7-9.4h0m13.9 9.2h0m-13.1-1.1h0m16.1-11.7h0m-9.3 7.3h0m-2.5-9.8h0m13.3 6.8h0m-4.7-5.9h0m-18.4 11.2h0m26.9-11h0m-16.2-0.7h0m-8.3 4.9h0m4.5-4.6h0m-6.4 8.1h0m11.3-14.4h0m-0.5 2.5h0m6.8 16.7h0m6.9 1h0m8.4-13.9h0m-8.3 11.4h0m-23.1-8.1h0m5.6-14.9h0m-6.8 18.3h0m0.7 11.7h0m5.3-9.8h0m9.4-16h0m-12 21.6h0m9.8-26h0m-12.6 16.2h0m8.8 1.9h0m-2.4 11.2h0m-0.2-5.8h0m1.3 7.8h0m17.4-21.6h0m-19.1 11.6h0m8-16.6h0m-1.4 12h0m-8.7 5.3h0m13.2-1.5h0m-2.1 4.4h0m8.2-9.4h0m-5.7-5.2h0m3.4 7.6h0m-10.2-5.9h0m-2.9 13.8h0m1.3-16.1h0m-6.2 9.6h0m19.4-12.1h0m-19.2 1.7h0m9.9 19.2h0m-2.4-18.6h0m4.6 13.7h0m-12-3.1h0m15.4-4.1h0m-19.3-3.8h0m12.5 10.2h0m-7 0.3h0m20.3 1.2h0m-18.3-36h0m0.3 21.5h0m6.7-0.9h0m7.2 2.4h0m-21.6 8.6h0m4.4-4.8h0m10-13.2h0m10.3 17.9h0m-8.5-2h0m-1.2-15.9h0m1.3 7.3h0m-9 5.3h0m3.5 10.5h0m6.6-10.3h0m-11 16.9h0m-0.6-23.2h0m-1.6 5.1h0m-3.9 1.9h0m10.9 23.1h0m8.1-2.2h0m-5.7-16.9h0m-7.7 15.2h0m3.8-18.6h0m10.2 1h0m-9.5 3.4h0m-1.6-16.1h0m1 9.8h0m2.3-20.9h0m8.6 21.1h0m-19.5 2.1h0m9.4 0h0m7.1-6.4h0m-4.4 13.8h0m-12.1-2.9h0m-1.9 5.1h0m2.7 5.5h0m3.6-14.7h0m2.4 13.9h0m-0.8-7.1h0m1.7-15.7h0m0.2 23h0m-5.7-26.7h0m2.4 19.9h0m2.9-2.4h0m-6.8-6.1h0m5.4 2.9h0m8.4 5.9h0m-4.6 13.1h0m12.2-15.2h0m-16.2 0.4h0m9.2 2.1h0m-11.2-18.9h0m-6.4 7.6h0m14.4-4.2h0m4.2-2.1h0m1.7-1.4h0m-14.6 9.3h0m4.4-1.2h0m8.3 10.7h0m-2.5-3.7h0m11 0.1h0m-24.1-2.5h0m25.3-2.9h0m-20.8-20.3h0m12.5 28.8h0m-18.1-3h0m18.7-3.3h0m-7.2 2.4h0m9.7-4h0m2.4 6.5h0m-13.1-4.1h0m-0.9 3.4h0m-8.2-9.3h0m17.8 2.5h0m-7.8 0h0m5.2 6.9h0m5.9-1.1h0m-15.9-3.4h0m11.9 11.4h0m-0.1-1.3h0m1.6-7.7h0m-8.9-0.7h0m0.7 14.2h0m0.2-18.1h0m9.9 2.3h0m4.3-13.6h0m3.4 9.8h0m-9.4-5.3h0m-17.1 12.2h0m19-8.5h0m-14.1 13.4h0m5.5 3.1h0m0.6-24.6h0m12.3 9.2h0m-7.7-1.3h0m-8.4 4.9h0m-5 10.8h0m8.3-25.7h0m5.9 9.7h0m-18.9-2.2h0m19.4 3.6h0m-6.1-3.5h0m-7.9 1.9h0m16.1 16.9h0m-8.7-7.3h0m-8.9 0.8h0m3.2-24.8h0m2.1 21.9h0m-7.5 4.1h0m9.7-19.4h0m-7.3 15.1h0m17-4.1h0m-15.2-8.1h0m7.2 8.7h0m0.1 12.4h0m-7.4 8.4h0m-6.3-16.9h0m15.8-7.4h0m-14.7 12.8h0m8.6-2.4h0m5.7-1.2h0m-16-7.9h0m8.5 17.9h0m-1.4-12.3h0m26.5 1.6h0m-25.1 6.1h0m0.2-3.2h0m-0.5-7.8h0m4.6-13.8h0m10.4-0.7h0m4 25h0m5.5-10.6h0m-19.3 0h0m11.9 8.5h0m-11.7-14.1h0m-3.3-3.9h0m13.4 10.9h0m-4.8-5.5h0m-0.3 9.2h0m-9.2-10.9h0m-0.9 1h0m12.7 4.1h0m-11.4 1.2h0m1.7-3.4h0m2.1 1.1h0m-8.9-9.8h0m10.3 8.7h0m-6.3-1.9h0m13.3 3.6h0m-11-17.1h0m-7.2 22.9h0m32.7-14h0m-33.5 11.2h0m-1.1-5.4h0m-2.8 2.5h0m11.4 19.1h0m8.8-15.8h0m-16.6 1.1h0m7.5-12h0m11.6 9.6h0m-8.2-0.8h0m-2.3-6.3h0m4.3 5.1h0m-12.3 8.6h0m4.5 7.6h0m6.7-9.5h0m-2-5.2h0m11.3-6.2h0m-23.1-2.7h0m15.1-2.5h0m-3.9 18h0m1.7-11.1h0m1.8 7.6h0m2 0.2h0m-8.5 2.8h0m7.8 9.5h0m-16.6-14.8h0m12.3 16.2h0m14.7-11.2h0m-4.5-11.4h0m-4.8 4.1h0m-4.4 18.2h0m2.9-29.6h0m-13.8 2.8h0m1.1 12h0m0.8-20.8h0m12 8.3h0m-16.7 5.6h0m15.4-1.5h0m-2.9-1.6h0m-9.6 5.1h0m0 16.9h0m0.5-17.7h0m-1.3-1.8h0m26-2.1h0m-15.2 8.9h0m-4.6-2.8h0m7.8 19.9h0m-1.6-22.2h0m-9.3-3.4h0m6.9 14.4h0m-3.1-10.8h0m-9.8-3.8h0m2.2 8.2h0m6.9 4.2h0m-1.6 17.1h0m6-12.2h0m-13.2 6.2h0m16-12.7h0m13.2 6.5h0m-9-19.5h0m-14.8 5.5h0m10 7.1h0m4.2-0.5h0m-11.6-5.5h0m2.9 5.8h0m-2.9-2.6h0m5.6 11.7h0m-2.3-19.7h0m-5.4 3.7h0m1.1 18.4h0m19.7-6.8h0m-14.7 4.2h0m12.2-6.1h0m-18.9-2.8h0m-2.6 21.8h0m15.4-31.4h0m-12.8-1.4h0m9.5 12.8h0m-3-8.4h0m7-1.9h0m-16.8-0.9h0m19.4 8.6h0m-5.4 9.1h0m-4.2-6.8h0m13.5 3.4h0m-16.4 3.8h0m-4.1-7.3h0m12.8 12.8h0m-9.2-11.6h0m18.7-19.8h0m-26.6-3.8h0m19.7 13.9h0m-3.8-25.7h0m-6.6 32.2h0m1.5 5.3h0m-2.5-20.2h0m13.1 10h0m-15.9 3.8h0m10-25.2h0m-7.5 6h0m-2.6 7.8h0m15.7-2.9h0m-16.7 11.5h0m16.6-9h0m-13.5 6.1h0m8.5-1.4h0m-8 8.7h0m-2-4h0m12.9-24.7h0m-5-19h0m-9.1 8.6h0m18.1 11.3h0m4.2-2.6h0m-21.7 15.1h0m-5.1 20.6h0m6.7-29.3h0m-7.8 5.4h0m1.5-10.1h0m0.7 8.6h0m1.1 1.1h0m16.4-5h0m-11.6 21.6h0m3.3-2.3h0m-1.3-14.4h0m-6.6 21.7h0m14.6-26.6h0m-7.8 9h0m17-11.2h0m-12.5 21h0m1.2-8.3h0m-15.9-30.2h0m11.7 32.5h0m5-17.6h0m-5.1 2.5h0m-1.5 19.5h0m-5.8-27.2h0m11.9 20.3h0m-6.6-29.4h0m-9.9 20h0m5.2 21.3h0m0.1-13.6h0m13.8 4.8h0m2.4-14.7h0m-14.7 10.8h0m12.7-7.7h0m-10.8 8.3h0m-8.6-11.6h0m4 22.3h0m8.7-14.6h0m-4.2 11.6h0m3.8-2.5h0m-4 17.3h0m-4.8-38.2h0m0.1 16.2h0m8.2-7.5h0m-5 18.7h0m11.8-4.1h0m-7.5 8h0m-0.1-3.5h0m-8.4-0.1h0m0.8-19.7h0m3.7 20.9h0m-3.8-7.2h0m10.1-10.1h0m1.9 2.9h0m-2.1-1.2h0m-11.8-14.8h0m18.5 8.4h0m-14.8 22h0m3.8-26.3h0m13.1 1.3h0m0.9 2.7h0m-16.8 16.9h0m1.2-12.7h0m0.4 15.2h0m10.7-6.2h0m-16.6 8.3h0m10.8-2.7h0m-2.4-14.5h0m2.5 0.6h0m8.7 18.2h0m-15.9-29.1h0m6.4 13.3h0m9.8 14.2h0m-20.9-22h0m15.2 10.7h0m-2.6-7.2h0m-12-6.3h0m3.6 3.8h0m-3.2 4h0m16-6.1h0m-13.7-8.7h0m2.1 15.2h0m3.2 23.5h0m2.5-12.8h0m-6.5-17.5h0m13.4 3h0m-13 26.1h0m2-29.3h0m8.8 2h0m-2.5 17h0m-3.8-20.8h0m-0.2 7.9h0m-3.1 10.3h0m6.1-6.8h0m-1-9.6h0m1.9 18.4h0m-2.7 0.3h0m-7.9-5.5h0m5.4 5.7h0m3.2-4.5h0m4.6-15.3h0m-3.2 11.3h0m-9.6 1.8h0m9.8-1.8h0m-12.2-6.9h0m12.1 9.2h0m2.6 20.9h0m3.2-31h0m17.3 2.8h0m7.4 2.4h0m-8.3 1.6h0m8.7-5.8h0m-5.5 2.9h0m-0.5 2.7h0m16.9-11.1h0m-10 8.5h0m-3.7 3.6h0m-8.8-3.1h0m11.8-5.6h0m-12.4 8.6h0m17.9-8.3h0m-8.4 7h0m5.9-2.2h0m-5.7 3.4h0m-6.5-5.3h0m7.8-4.1h0m-5.3 6.3h0m2.2 2.5h0m-4.3 3.3h0m13.7-5.1h0m2.9-5.5h0m-17.3 7.1h0m9.9-1h0m1.8-0.7h0m4.8-4.4h0m-18.4 8.1h0m12.8-6h0m-3.1 5.3h0m-2.8-2.2h0m3.2-1.4h0m4-2h0m-0.6-2.3h0m2.7 0.1h0m-6.6 7.3h0m-0.8-2h0m5.7 0.1h0m-8.3-2.6h0m2.3 4.7h0m-1-0.5h0m-0.7-3.5h0m-0.6-0.8h0m2.1 5.7h0m3.9-10.7h0m-5.7 9.7h0m0.1-5.4h0m11-0.5h0m-8.9 2.3h0m-2.3-1.9h0m9 0h0m-8.1 2.6h0m-3.9 0.4h0m9.4-1h0m-2.3-3.7h0m4.9 0.3h0m-2.1 3.5h0m-1.5 1.4h0m1.7-4.7h0m1.3 1.3h0m5.5 1.3h0m-2.7-0.9h0m-8.3 0.9h0m6.3-1.7h0m-2.7 1.6h0m-4.1 0.7h0m-7.2 2.4h0m3.7 0.6h0m2.6-2.9h0m-6.5 3.5h0m0.1 2.8h0m4.5-8.2h0m3-0.8h0m-7.9-0.1h0m16.1-0.4h0m-8.7 1.7h0m8.6-2.8h0m-9.7 0.7h0m-0.3-0.2h0m1.2-0.1h0m9 0.3h0m0.4-1.5h0m-11 5.3h0m8.3-2.3h0m5.9-3.6h0m-6.5 7.5h0m-2-2h0m-7.1 2.8h0m7.6-2.7h0m4.6-3.8h0m1.8-3h0m-19.2 7.9h0m10.8-2.9h0m3.1-3.3h0m1 6.6h0m-8.5 1h0m0.4 2.9h0m-5.8-0.6h0m15.8-2.8h0m-10.6-0.8h0m-0.4 4.2h0m3.2-5.5h0m12.5-4.6h0m-19.6 12.2h0m7-8.7h0m11.8-3.9h0m-3.7-1.5h0m-10 11.7h0m3.6-9.3h0m5.7 2.9h0m-1.8 0.9h0m-4.9-3h0m-4.3 8h0m8.9-2.1h0m-3.4-1.2h0m2.2-0.6h0m9.2-3.9h0m-10.1 5.8h0m-16.7 3.8h0m9.8-2.3h0m-0.1-3.7h0m4.9 0.6h0m0.5 1.5h0m0.2 0.3h0m-8.1 4h0m3.5-3h0m4.2-4.5h0m2.4-0.7h0m-9.1-1.2h0m9.8 1.9h0m-0.6 3.2h0m-10.4-3.2h0m10.7-0.3h0m-8.2 6.4h0m4.2-4.9h0m3.7-1.2h0m3.3-0.6h0m-12.5-1.9h0m1.6 8.6h0m11.1-6h0m-7.5 0.1h0m-7 9.3h0m9.4-8h0m1.2-2h0m6.1 3.4h0m-10.6 1.2h0m13.2-8.7h0m-12.1 6.8h0m15-11.2h0m-8.6 7.5h0m0.4 1h0m-8.3 7h0m5.5-11.6h0m1.5-3.1h0m-3.4 8.7h0m-8.4 0.7h0m13.1-4.1h0m-3.9 0.9h0m0.3 2.7h0m-7.5 0.7h0m-6.7 3.6h0m24.5-10.5h0m-13.8 10.8h0m-7.2-0.7h0m12.9-1.1h0m-3.2-5.3h0m6.4 3.3h0m-3.2-1.5h0m-14.9 10.4h0m8.3-14.5h0m2.6 8.8h0m15.3-11.4h0m-20 10.4h0m9.5-4.4h0m0.3-8h0m-8.4 10h0m8.5-2.4h0m-7.9 1.2h0m7 0.5h0m-1.7-6.3h0m-0.4 4.7h0m-2 2.3h0m-0.1-1.2h0m-0.8-0.9h0m5.3-0.1h0m-4.5 0.9h0m1.1 2h0m3.2-4.9h0m-14.8 1.2h0m8.8-1h0m4.7 1.9h0m8.3-1h0m-13.5 3.8h0m9.8-3h0m-9.1 3.8h0m-4.9-0.9h0m10-6.1h0m-6.9 1.7h0m6.7 4.7h0m-7.8-0.4h0m1.5 3.8h0m-3.9 0.1h0m8.9-13.2h0m-6.3 7h0m-0.8 3.7h0m3.6 0.5h0m-6.1 3.7h0m14.2-7.4h0m1.1-3h0m-13.7 7.5h0m0.3 5.4h0m19.2-16.5h0m-18 4.8h0m-3.1 3.6h0m1.8 4.4h0m9.6-5.6h0m-11.6-0.1h0m-2.3 3.6h0m17.7-9.2h0m3.3 2.7h0m-23.2 11.2h0m19.3-12.7h0m-10.9 6.6h0m16-4h0m-2.5-5.9h0m-8.3 9.1h0m-11.2 0.7h0m5.3-2.3h0m3.5 1.5h0m-15 1.8h0m18-3.4h0m-4-0.8h0m4.4 2.4h0m2.5-3.6h0m-2.8 1.9h0m2.6-3.1h0m-10.6 8.3h0m1.1-5.1h0m4.5 0.5h0m3.5-6.3h0m-5.4 9.9h0m6.7-13.7h0m-7.4 9h0m7.8 3.7h0m-0.8-4.2h0m-5.6 6.6h0m2.2-7.9h0m9.3-1.9h0m-11.1 3.1h0m11.1-1.4h0m-9.8 0.2h0m5 1.9h0m-5.8 0.6h0m-5.7 5.2h0m10.8-9.8h0m-20.1 6.7h0m13.4 1.5h0m12.7-8.2h0m-5.5 4.7h0m-2.1-0.7h0m-7.1-2.2h0m7.5-1h0m-6 1.9h0m3.8-0.2h0m2.3 3.1h0m-10.1 2.1h0m9.3-5.9h0m0.2-0.2h0m0.3 7.1h0m-0.8-6.6h0m0.4 2.5h0m-5.6 3.2h0m-0.6 3.1h0m3.2-8.2h0m-3.3 5.7h0m7.6-3.4h0m-2-0.6h0m-10.3-1h0m9.2 2.8h0m-3.3 2.9h0m1.9-5.8h0m14.1-4.4h0m0.3 1.9h0m-19 5.9h0m11.7-3.1h0m-7.2 1.1h0m2.9-1.2h0m-0.8 2.6h0m0.1-5.1h0m-13.6 10.4h0m19-8.7h0m-11.3 5.9h0m-5.4 2h0m20.3-4.3h0m-8.6 5.4h0m-9.6 2.7h0m2.4 1.8h0m20.2-8h0m-18.1-1.7h0m8.9-5.9h0m-2.2 8.3h0m-7.8-0.5h0m-0.8 2.1h0m1.1-5.5h0m-4.7 3.5h0m-4.2-9.5h0m15.8 12.2h0m2.4-9.1h0m-12.2 4.5h0m3.6 3.8h0m8.2-6.6h0m-3.3 0.3h0m2.1 6.5h0m0.5-0.6h0m-20.5-4.7h0m28.9-5.7h0m-14 11.8h0m-10.5 1.4h0m17-7.2h0m-4.4-0.4h0m2.2 3.9h0m-9.3-0.4h0m-0.5-1.9h0m12.2-4.9h0m-12.4 7.3h0m14.2-0.2h0m-19.1 4.3h0m12.5-8h0m-1-0.4h0m1.5 3.4h0m5.9-3.3h0m-17.4 5.2h0m17.5-7.9h0m-18.7 8.7h0m6.1-7h0m-8.9 5.7h0m2.5-0.8h0m12.3-0.8h0m13.5-11.1h0m-20.1 22.3h0m0.5-9.3h0m4.8-6h0m-7.3 1.3h0m5.5 3.2h0m11.6-2.8h0m-16 5.1h0m19-8.1h0m-20.3 2.6h0m-6.3 9.1h0m9.8-3.6h0m8.1-11.2h0m4.5 4.2h0m-13.4 0.1h0m1.9 1.6h0m7.7 1.2h0m-5 6.5h0m-6.5-7.8h0m4.6-0.3h0m4.1 1.9h0m-10 3.4h0m14.1-12.4h0m-14.9 13h0m-2.4 4.5h0m0.1-16.3h0m18.7 3.1h0m-15.9 16.5h0m11.7-13.9h0m-8.9 5h0m7.9-2.2h0m0.6-6.8h0m-9.9 8.1h0m9.7-6.9h0m-8.5 9.5h0m-3.3-1.3h0m-0.6-6.5h0m13.8-1.9h0m-3.2 7.3h0m4.3-9.2h0m-10.5 11.9h0m5.6-9.6h0m-6.1 1.5h0m-2.4 7.7h0m4.1 0.3h0m0.7-1.9h0m-2.5-10.7h0m4.6 0.4h0m-0.1 4.6h0m3.2-3.2h0m3.7-6.1h0m-2.8 9.8h0m-9.6 5.3h0m14.3-6.7h0m-2.8 3.6h0m-9.1-2.9h0m12.9 0h0m-12.2 2.4h0m0.3-1.2h0m-2.9 2.2h0m4.2 0.9h0m-12.4 4.8h0m-7.1-1.9h0m13.6 5.4h0m-0.2-6.9h0m3.3-0.7h0m16.2-12.4h0m-4.7 3.6h0m-0.5 3h0m-18.6 8.2h0m8.1 1.7h0m5-4.4h0m13.6-13.6h0m-19.6 20.2h0m-10.9-8.7h0m7-0.9h0m0 11.8h0m-12.8 7.2h0m16.1-23.6h0m7.3 7.9h0m-9.9-5h0m1.7 4h0m23.1-8.4h0m-7.3 6.9h0m0.5-9h0m-15.8 11.8h0m2.6-3h0m-9.7 9.9h0m7.9-12.4h0m-9 6.2h0m17.4-16.4h0m-1.6 15.1h0m2.8-3.4h0m-0.4 4.9h0m0.2-13.6h0m-9.4 17.9h0m-2.1-3h0m8.1-10h0m7.4 8.7h0m-16.9 1.4h0m5.6-9.5h0m9.3 9.5h0m-14.6-11.4h0m-0.8 5.7h0m8.3-10.9h0m4.5 12.8h0m-13.4-0.9h0m18.3 6.2h0m-21.2-10h0m8.4 6.7h0m18.3-9.2h0m-7.9 3.1h0m-9.9 5.4h0m-0.9 1.8h0m4.5 1h0m1.2-9.4h0m-1.2 5.7h0m17.1-16.4h0m-11.7 16.4h0m-0.7-0.1h0m-16.4 5h0m6.6-6.6h0m3.4-0.3h0m1.2 3.7h0m2.7-2.1h0m-9 9.1h0m8.2-11.2h0m-2.3 0h0m-0.7-1.6h0m10.8-0.9h0m-3.2 2.7h0m-12.9 2.1h0m22.4-8.4h0m-13.5 4.9h0m-0.8 0.4h0m-5.8 12.4h0m4.4-6h0m-3-6.5h0m3.9 0.5h0m1.4 6.6h0m-0.4-3.2h0m-13.8 5.6h0m14.5-8.7h0m2.2 0.2h0m-4.6 0.5h0m-2.6 5.7h0m5 0.3h0m-9.8 0.9h0m15.7-8.2h0m-3.6 5.9h0m15.3-11.3h0m-29.6 17.8h0m16.3-16.7h0m9.7-6.7h0m-20 17.7h0m-5.1-7.2h0m11.5-1.2h0m-7.1 5h0m6.6-8.5h0m5.7 2.3h0m-3.3-0.2h0m0.9 5.2h0m-17.5 2.2h0m9.1 4.5h0m15.8-16.5h0m-7 7.1h0m2.6-8.3h0m-24.4 14.5h0m21.4-5.7h0m-7.8 7.8h0m12.3-16.3h0m-12.8 4.8h0m5.4 10.1h0m-17.2-10.2h0m19.9 0.2h0m-10.1 8h0m-7.3 3.9h0m9.5-9.9h0m4.1 3.1h0m-8.2 6.6h0m0-4.3h0m6.7-4.8h0m-14.4 12.8h0m2.3-15.6h0m9.6 5.8h0m4.9-2.8h0m0.8-3.8h0m19-0.1h0m-30 10.3h0m14.9-8.7h0m-11.7 10.5h0m13.9-7h0m-4.8 6h0m-10.6-2.4h0m16.5-6.3h0m-9.4-4.9h0m-13.6 17h0m2.2-7.4h0m7.2 3.8h0m-5.4 7.6h0m3.6-10.6h0m6.3 0.4h0m-11.8 2.5h0m18.4-14.9h0m-0.1 6.2h0m-1.6 9.2h0m0.5-14.4h0m-5.3 14.1h0m-0.3-8.8h0m-10.9 11.3h0m6.2-13.2h0m-4.3 7.9h0m29 5.2h0m-5 1.7h0m-3.6 6.5h0m2.5-8h0m7.2-4.6h0m-18.6 14.6h0m6.5-5.3h0m-12.7 15.7h0m-7.4 5.9h0m30.7-30.3h0m-0.5-1.2h0m-24.2 27.1h0m9-13.8h0m-14 14.3h0m30.1-27.7h0m-30.3 29.8h0m2-3.5h0m18.4-13.4h0m-0.8-0.6h0m-18.2 16.3h0m2.4-2.1h0m3-0.7h0m19.5-21h0m-12.3 10.4h0m1.8-1h0m9.2-9.3h0m2.7 0.9h0m-15.6 16.3h0m-12.7 8.5h0m-1.5 1.6h0m22.5-20.6h0m-17.8 15.6h0m28.7-31.3h0m-18.1 24.6h0m14.1-18.3h0m0.1 1.1h0m4.3-5.9h0m-14.9 16.9h0m2.9-2.9h0m-19 19.8h0m17.3-18.8h0m3.9-3.6h0m-6.5 6.1h0m-7.7 7.5h0m9.5-6.6h0m-16.1 12.3h0m20.3-19.8h0m-4 8h0m-14.6 10.3h0m22.7-22.8h0m-5.5 5.7h0m-19.3 18.8h0m18.5-15.9h0m-20.3 17.3h0m25.3-21.1h0m1.2-4.8h0m-8.2 10.7h0m12.9-14h0m-29.1 28.4h0m1.4-1.7h0m14.9 1.3h0m29-17.9h0m-32.8 25.2h0m2.8-0.1h0m27.2 3.2h0m16.6-1.2h0m-14.5-7.5h0m6.1-9.4h0m-34.2 11.1h0m2.3 4.9h0m-5.4 2.7h0m-5.3-4.8h0m-2.9-1.1h0m9.2-1.4h0m35.2 2.7h0m-30.1-3.8h0m11 1.7h0m-11.5 3.1h0m14.7-12.4h0m3.9 2.1h0m-15.4 3.5h0m4 7.6h0m25.7-18.9h0m-45.9 16.2h0m-7.3 2.6h0m40.1 0.3h0m-39.4-9.1h0m16 0.6h0m25.3-0.5h0m-22.5 11.9h0m-2.4-3.9h0m34.9 3.4h0m-51.1-8.6h0m25.5 6h0m-15-1h0m-8.7-3.7h0m33.6-8.7h0m-34.7-7.8h0m46.3 21.2h0m-43.4 2.6h0m6.5-3.8h0m11.8-16h0m-21-0.8h0m-1.7 11.7h0m29.1 9.1h0m-5.7-15.8h0m1.6 12.4h0m30.2-12.7h0m-26.1 4h0m-27.3 8.7h0m17.5-3.6h0m9.9 4.4h0m-19-2.8h0m-8.8 4.8h0m3.7-21.8h0m-4 20.5h0m23.1-0.6h0m-6-4.4h0m5.9 2.4h0m35.2 1h0m-19.7-9.1h0m7.1 6.9h0m-43.6 1.2h0m2.1-0.3h0m36.4 3.2h0m-39.1-12.5h0m10 10.6h0m-11.6 1.5h0m25.8-2.7h0m7.1-0.5h0m-0.9-14.7h0m-9.7 15.5h0m35 3.9h0m-50.3-18h0m2.8 13.5h0m-0.3 5h0m36.3-7.8h0m-17.9 1.2h0m-22.9 2.8h0m-1.8-3.4h0m23.7-1.2h0m1.6 0.2h0m-2.6 4.5h0m-1.2-13.2h0m-10.3 8h0m-9.5-5.3h0m-4.5 10.2h0m23.3-9.7h0m-8 1.7h0m-4.5 0.5h0m-10.4 3.7h0m9.1-1.9h0m-0.9 4.2h0m11.9 1.4h0m22.6-6.6h0m-8.2 9.2h0m6.9-2.5h0m-36.3-4.8h0m0.9 3.8h0m4.5-10.7h0m18.4 11.8h0m-23.8 4.2h0m24.5 0.1h0m-16.9-5.6h0m11.2-5.9h0m-2.3 5.3h0m-9.4-7.2h0m19.6 7.9h0m-0.5 3.7h0m-26.1-20.2h0m27.4 15h0m-1.6 0.7h0m-13.5 5.2h0m-9.6-1.2h0m4.5-17h0m-9.7 9.7h0m4.1 1.5h0m5.5-5.8h0m10.7 13.8h0m-23.2-15.7h0m22-6.7h0m-16.6 9.6h0m29.2 2.4h0m-33 7.5h0m24-15.8h0m2.8 10.3h0m-10.2 7.2h0m1.2-9.7h0m-19.8 2.2h0m25 0.2h0m2.7 4.9h0m-28.1-2.7h0m28 1.9h0m-18.9-2.9h0m36.4 0.5h0m-22.8 1.8h0m5.8-5.6h0m-0.7-13.4h0m1.6 20.9h0m-26.4-24h0m6.8 21.9h0m1.6-3.4h0m4.2 7.5h0m-3.5-0.1h0m13.1-3h0m-16.8 2h0m49.2 0.7h0m-27.4-0.4h0m-15.9-8h0m-0.2-11.7h0m29.1 12.8h0m1.6-0.1h0m-27 4.9h0m2.1-9.1h0m-1.8-14.9h0m2.1 19.4h0m-15.7-5.1h0m22.2 4.7h0m-4.5 8.1h0m-2.9-10.3h0m0.4-2.4h0m-15.2 6.7h0m33.6-12.9h0m-35.5 17.6h0m33.8 0h0m-22.3-20.2h0m-9.3 15h0m-2.4 0.9h0m-1.2 4.2h0m-0.3-6.8h0m7-6.7h0m15 14.8h0m-5.9-3.7h0m2.4 1.8h0m-16-24.2h0m5.7 17.8h0m-0.5-14.7h0m18.7 21.2h0m-18.8-2.4h0m4.4-4.4h0m-4.8 2.2h0m1.3 0.3h0m2.1 4.2h0m-6.3 3h0m6.2-6.6h0m4.2 3.2h0m8.8-11.2h0m-24.7 10.3h0m-0.1 1.9h0m8 1.8h0m1.2 0.3h0m-4.1-6.6h0m4-13.3h0m19.6 16.7h0m-10.8-15.9h0m12.1 8.6h0m27.5-7.8h0m-10.2 4.1h0m-34.2 8.5h0m-7.1 5.3h0m33.3-1.9h0m-28.6 1h0m-4.7-11.2h0m-6.2-1.6h0m4.9 9.5h0m6.3 2.3h0m20-3.4h0m-17.4 2.8h0m6.2-3.1h0m-7.2-8.9h0m-10.6 8.7h0m10.5-9.1h0m-11-0.4h0m21.9 1.6h0m5.7-0.3h0m19.3-10.8h0m-38 25.4h0m-2.9-4.4h0m1.2-10.2h0m2 3.1h0m3.1 2.5h0m-11.9 8.3h0m3.4-28.2h0m-2.5 17.2h0m1.5 4.6h0m26.3-3.1h0m13 6.8h0m12.4-6.4h0m-26.5 7.9h0m4.3-20h0m4.5 6.8h0m-13.5-11.2h0m-24.5 13.2h0m17.6 12h0m9-7.8h0m-9.8 5h0m-10.5-6.8h0m1 1.4h0m49.4 8h0m-38.1-3.1h0m25.2 3.3h0m-17.9-5.3h0m5.9-5.9h0m-23.9-8.8h0m18.1 13.1h0m-11.3-7.7h0m24 1.9h0m-34.9 4.4h0m25.8-2.7h0m-20.9-4.1h0m13.3 7.9h0m-15.5-0.4h0m27.1 0.7h0m-31.2 4h0m34.4 2.6h0m-9.8-3.2h0m1.2 3.8h0m-7.1-11.4h0m-19.3 9.3h0m11.9-17.7h0m6.9 17.4h0m12.4 1.3h0m-19.8-9.2h0m10.9 6.2h0m31-1.4h0m-14.6 2.2h0m-37.2 2.4h0m35.6-12.4h0m-16.1 6.8h0m24.4-6.5h0m-1.7 10.2h0m-45.5-7.1h0m8.9-2.7h0m13.1 4.3h0m-13.7 4h0m12.2-1.8h0m10.9 2.8h0m-2.2-2.5h0m-17.3-8.4h0m27.5 0.4h0m-11.4-3.9h0m-22.6 0.9h0m-5.3 14.6h0m20.9-9h0m-15.1 7.2h0m50.6-4.3h0m-20.5-7h0m-27.3 2.2h0m-2.7 5.8h0m-3.3-0.2h0m14.2 8.4h0m-15.7-14.2h0m3.5 8h0m20.1-7.8h0m-14.5 6.5h0m-10.3-0.5h0m11.5 0.8h0m-2.1 4.7h0m-8.1-7.9h0m11.7 7.6h0m1.5-7.7h0m8.5 5.2h0m21.4-3.1h0m-14.5 2.3h0m-28.4 2.9h0m38.6-2.6h0m-38.6-1.4h0m20.8 0.2h0m2.1 4.8h0m22.9-6.3h0m-31.3-2.7h0m10.8 4.3h0m-26.3-9.3h0m20 10.1h0m-9.2 1.3h0m19.6-6.5h0m-25-10.7h0m28.5 0.1h0m-12.9 21.7h0m-21.5-23.7h0m22.5 13.6h0m-14.7-6.2h0m-2.4 13.5h0m4.4-1.1h0m10 0.5h0m-17.8 0.7h0m10.6-11.1h0m-2.9 2h0m6.5 5.9h0m40.4-2h0m-1.9-2.3h0m-50.8 7.9h0m3.9 0.7h0m0.8-2.5h0m13.6-8.7h0m-17.9 10.6h0m6.9-3.5h0m0.2-4.6h0m-7.4 5.4h0m4.9-1.6h0m12.3-13.7h0m13.3 10.7h0m-11.2-5.1h0m-3.8 11.6h0m-16.9-7.7h0m2.6 4.4h0m19.3 5.9h0m12.2-3.4h0m-35.8-2.1h0m7.6-3.2h0m16 8.7h0m-14.3-6h0m-5.5-12.1h0m19.8 7.4h0m-16.7 10.9h0m14.4-15.7h0m-14.6 4.4h0m12.8-11h0m-18.3 19.1h0m4.3 1.2h0m5.7-7.7h0m-9.7 7h0m3.7-11.7h0m24.2 6.2h0m-3.3-16.1h0m-25.3 18.9h0m19.4 1.7h0m-8.4-4.6h0m-3.3 0.3h0m43.4-10.3h0m-35.1 3.5h0m-5.5 0.2h0m-1 4.7h0m24.2 8.7h0m-33.1-10.8h0m6.3 6h0m-6.1-23.7h0m12.2 20.6h0m11.2 8.4h0m1.4-1.6h0m-15.7-4.4h0m5.2 5.2h0m20.5-13.7h0m-15 8.1h0m-3.5-0.9h0m9.4 5.4h0m8.3-8.8h0m-13.4 0.4h0m7 8.1h0m11.1-20.3h0m-38.6 10.5h0m11.6 11.4h0m-0.3-11.1h0m10.4 11.7h0m12.6-0.8h0m-20.7 0h0m0.7-10.5h0m-7.9 0.4h0m-8.2 3.5h0m11.3 6.6h0m8.4 0.4h0m2.9-2.1h0m-12.6-3.9h0m6.5 6.1h0m-5.4-8.4h0m1.8 5.6h0m-10.2 1h0m29.6-4.2h0m-30.2-16.8h0m-0.9 20.1h0m11.8-9.3h0m-14.2 9.7h0m8.6-15.5h0m18.5 17.9h0m3.8-14.1h0m-30 5.9h0m6.6-5h0m10 12.5h0m3.9-1.7h0m-20.2-27.8h0m8.7 19h0m-6.1-15.7h0m33.3 26.5h0m-23.9-1.1h0m-6.1-9h0m27.2-19.2h0m-29.7 23.1h0m10.2 6.4h0m-2.8 0.9h0m29.5-7h0m-4.3 7.5h0m-11.8-3.8h0m-4.7 0.3h0m11.8-4.1h0m-29.6 3.2h0m26.5 1.6h0m-4.9-7h0m-6.9 5.1h0m6.1 0.2h0m7.3-8.3h0m-19.9 11h0m17.2 1.9h0m-6.5-17.3h0m-6.6 16.6h0m-3.7-16.6h0m-4.4 1.2h0m-3.3 9.8h0m15.2-1.6h0m-3.5 6.2h0m-15.3-11.4h0m20-2.2h0m-4.9 12.6h0m9.2-2.2h0m32.1 2.1h0m-50.7-7.5h0m42.1 3.6h0m-40.4-7.4h0m14.2 13.4h0m-16.8-3.9h0m13.4-2.3h0m-0.9-11.8h0m-2.9 17.5h0m-2.3-10.1h0m-4.2-0.3h0m32.4 9.1h0m-22.8-2.1h0m-17.9-7.1h0m13.2-7h0m-3.5 14.6h0m24.6-9.5h0m-13.9 8.3h0m-3.6 3.8h0m22-4.8h0m-12.2-9.9h0m-23.6 6.5h0m25.2 3.5h0m-7.6-7.1h0m-12.5 7.9h0m8.8 4.2h0m1.6-3.6h0m9.9 1h0m-17.1-0.7h0m16.3 0.4h0m1.2-0.4h0m-20.3-6.5h0m19.6 10.4h0m9-22.3h0m-16.1 18h0m26-19.1h0m4.3 22.8h0m-47-21.9h0m5.7 15.8h0m21.2-2.3h0m-15.9-1.9h0m10.6 9.5h0m30.9 0.9h0m-9.9-15.7h0m-29 5.7h0m5.9 1.4h0m22 5.3h0m-24.6-6.7h0m11 4.5h0m7.7-3.3h0m-30.9-9.5h0m12.4 14.1h0m-14.4-9.1h0m9.1 2.7h0m9.8 9.3h0m-7.1-0.6h0m-6.7 0.2h0m-8.1 2.5h0m35.6-4h0m-25.9-7.9h0m1.4-2h0m17-10.4h0m10.6 15.2h0m15.9 0h0m-3.8 4.5h0m-52.7-16.7h0m17.6 14.1h0m6.7-2.1h0m-14.2 2.8h0m6.6-3.1h0m2.8 6.9h0m-18.4-2.3h0m14.2-9.1h0m22.4 13.2h0m-10.4 0.8h0m-22.8-18.4h0m1.2 17.5h0m23.9-4.4h0m-8 5.4h0m3.2-10h0m-23.3-0.2h0m25 0.9h0m1.3-0.1h0m-19.5 7.1h0m17.8-2.6h0m22.4 1.3h0m-41.1 3.7h0m14.9-5.4h0m-12.6-9.1h0m18.6 8.5h0m-22.4-6.3h0m27.4 12h0m-25-1.7h0m1.8 1.6h0m-10.6-2.4h0m9.9 0.8h0m-0.1-15.8h0m33.6 7.6h0m-32.3 9.9h0m15.3-8.5h0m-22.5-9h0m4.2 11.4h0m-3.1-2.3h0m50.4 6.8h0m-29.5-0.4h0m23.8-14.3h0m-21.7-0.9h0m-17.4 14.5h0m3-22.4h0m-4.3 21h0m-0.2-4.6h0m2.9 3.4h0m5.7-1.3h0m-12.2 6h0m-3.5-5.3h0m13.4 3.9h0m15.7-10h0m-20.1 1.5h0m22-4.1h0m-17.8 8.7h0m-7.6-2.2h0m20.1 7.5h0m7.3-2.7h0m-6.5-11h0m-22.9 10.9h0m11.3-6.4h0m-9 4.8h0m-6.5 2.8h0m-2.6-9.5h0m4.7 10.8h0m39.5 0.6h0m-34.8-8.7h0m12.2 7.8h0m-7.6-3.8h0m-6.4 3.6h0m8.5 1h0m6.4-10.9h0m4.8 4.8h0m4.6-0.3h0m-25.4-1.7h0m15.2-4.7h0m-18.4 6.8h0m7.7-12.3h0m-8.9 11.6h0m15.4 1.5h0m-14.2 0.4h0m8.2 2h0m1.6-1.2h0m26.6 2.4h0m-37.6-7.4h0m4.8 7h0m29.6-3.9h0m-2.1-0.1h0m-20.5-1.5h0m-1.3-3.7h0m12.5-10h0m-11.6 3.7h0m10.2 11.1h0m-13 3.4h0m-10.5-12.4h0m8.2 10.1h0m10.7 5.2h0m-17.7-7.1h0m12.7-3.2h0m3.1-3.2h0m23.2 1.1h0m-5.9 2.9h0m-34.1-3.5h0m32 8.2h0m-5.2 5.4h0m-9.2-7.1h0m16.7 5.1h0m-26.9 1.9h0m33-5.7h0m-38.1-9.6h0m25.7 14.4h0m-27.5-4.4h0m1.6-5.8h0m18.4 3.1h0m7.7-2.6h0m3.3 1.7h0m-6.1-2.4h0m27.4 3.5h0m-2.1-9.3h0m-45.9 13.3h0m6 3h0m-8.7 0.5h0m37.6-12.2h0m-10.3 12.1h0m-6.2-10.2h0m-3.2 6.1h0m-1.2-14.1h0m-19.4 1h0m20.6 9.3h0m21.2-4.6h0m-12.5 8.8h0m-22.5-17.7h0m14.4 18.5h0m-4.3-8.1h0m6 10.8h0m36-7.8h0m-48.8 1h0m5.4 3.5h0m-12.1-1.7h0m33.4-20.4h0m-7.4 24.5h0m-21.4-23.3h0m-2.4 22.7h0m-2.2-2.4h0m4.7-3.6h0m-6.1-7.6h0m14.1 7.6h0m-3.7 3.1h0m14.2-9.7h0m-16.1-0.7h0m-2.1 7.7h0m18.8 1h0m-15.2 0.9h0m4.9-7.3h0m-2.3-0.4h0m-6.7 0.6h0m1.2 9.3h0m2.8 0.3h0m10.6-8.1h0m-22.3-7h0m18.7 17.8h0m18.3-5.9h0m6.9-17.7h0m-34.6 21h0m19 1.9h0m-14-2.2h0m-9.3 3.8h0m31.7-10.7h0m-28 7.9h0m12-5.5h0m-15.9-16h0m7.6 17.8h0m25.2 6.6h0m-12.2-11h0m-15.8 7.6h0m5.8-19.6h0m-1.9-7.2h0m37.9 18.9h0m-44.1 9.2h0m-0.5-2.3h0m-5.6-9.4h0m6.2 9h0m-0.3 1.3h0m23.4-7.1h0m-10.4 1.2h0m-8.3 7.5h0m18.8 1.8h0m18.4-14h0m-16.1 0.1h0m-4 9.1h0m0.2-1.1h0m-25.6-8.1h0m23.2 7.1h0m-12.1 6.8h0m21.5-14.2h0m-27.5-9.9h0m-0.9 16.6h0m-0.9-20.3h0m15.6 22h0m7.9 4.4h0m7.9-16.3h0m-33.1 17.9h0m15.2-4.5h0m-8 4.5h0m-3.9-13.8h0m-8.1-2.1h0m28.1 10.3h0m12.6-15h0m-7.7 0h0m-23.2 16.8h0m42.4-6.2h0m-21.4 4.4h0m-23.6 1.4h0m7.9-15.6h0m8.8 19.5h0m-15.2-3.3h0m3.9-0.2h0m9-3.8h0m-20.6-14.8h0m26.9 9.5h0m16.5-0.3h0m-44.2 2.2h0m9 5.4h0m-9.8-9.6h0m8.4 14.6h0m-5.9-19.6h0m16.4-10.7h0m14.5 28.2h0m8.6-13h0m-39.5 14.9h0m7.4-3.5h0m-3.3-17.1h0m-0.7 5.7h0m3.2 12.1h0m-7.3-1h0m1.5-3.7h0m41.7 3.4h0m-28-2.5h0m-0.6 1.1h0m32 0.2h0m-24.9-10.8h0m-1.8 11.5h0m-21.6-2.6h0m9.2 0.5h0m-0.8 2.6h0m3.2 1.8h0m-2.7-5h0m-6.4 6.1h0m15.3-7.4h0m10-15.4h0m20.6 1.3h0m-34.6 16.7h0m-1.4 4.4h0m25.3-8.4h0m11.3 5.6h0m-46.3 4.1h0m-2.4-0.1h0m33.4-9.4h0m-33.6 2.3h0m25.6 0.4h0m-25.2-1.8h0m13.1 6.6h0m-6.1-11.1h0m0.5-2.7h0m50.7 6.1h0m-57.9 2.4h0m10.8-4.8h0m11.4-3.6h0m4.8 13.1h0m1.6-0.2h0m11.2-2.8h0m-22.7 6.1h0m0.4-5.3h0m34-15.6h0m-36.9 3.9h0m44.4 13.9h0m-42.1 3.3h0m3.6-4h0m-14.9 1.8h0m9.6 1.7h0m-7-5.8h0m-6.7 0.6h0m11.8 2.2h0m39.6-18.7h0m-34.2 18.5h0m1.2-1.5h0m-13.6 4.9h0m50.2-28.8h0m-19.6 18.3h0m24.6-36.9h0m-44.6 43.8h0m41.1-36.1h0m-50.1 39.5h0m-0.1-0.7h0m7.1-1.3h0m24.5-9.7h0m-28.1 10.1h0m28-11.1h0m19.1-21.4h0m-49.3 35.3h0m8.8-6.1h0m23-8.2h0m13-8.9h0m-44.1 21.1h0m0.1-0.5h0m-2.9 0.3h0m7.9-2.4h0m-9.9 1.6h0m46.9-19h0m4.8-9.1h0m-20.7 19.5h0m-15.2 6.1h0m-1.1 0h0m15.2-5.2h0m-7.2 4.6h0m-3-2.6h0m-18.3 7.1h0m54.6-53.7h0m-52.6 51.6h0m9.7 0.5h0m2.7-2.7h0m0.9-0.7h0m-11.3 3.4h0m-0.1 0.3h0m1.2-0.9h0m13-3.9h0m13.8-5.7h0m-13.9 5.3h0m-2.7 2.6h0m-13.3 4.2h0m21.2-8.6h0m-21.5 7.3h0m11.5-0.3h0m30.3-17.4h0m-38.3 17.3h0m5.2-2.3h0m-8.2 2.2h0m-2.4 1h0m13.9-3.6h0m35.9-24.4h0m-49.3 28.1h0m9.7-2.7h0m-6.2 1.2h0m22.7-5.8h0m-25.6 8.8h0m34.2-14.5h0m-21.4 8.6h0m32.8-17.4h0m-0.1-1h0m-22 16.4h0m-14.5 5.1h0m-2.3-0.5h0m47-50.7h0m-16.7 37.4h0m-5.9 4.1h0m-8.3 4h0m26.7-26.9h0m4.1-16.9h0m-2.4 18.4h0m-5.5 4.9h0m-31.2 24.2h0m31.7-17.3h0m5-20.3h0m-49.3 41h0m14.7-4.2h0m-17.8 3.8h0m54.1-50.1h0m-54.5 50h0m55.4-50.7h0m-6 23.8h0m-14.6 16.5h0m11.7-10.7h0m8.6-34.4h0m-37.2 50.2h0m-11.5 3.9h0m33.9-14.6h0m-29.9 13.5h0m14.2-4.2h0m-22.3 6.6h0m30.2-10.6h0m-27.8 9.7h0m4.2-1.4h0m3.5-0.1h0m-10.6 0.5h0m41.1-14.4h0m-41.9 15.7h0m10-2.3h0m26.4-9.8h0m-32.6 12.7h0m27.1-10.6h0m-21.2 8.2h0m-9.7 5h0m-0.8-2h0m0.7-0.1h0m45.6-24.8h0m-3.2 5h0m-42.8 20.2h0m21.6-6.5h0m31.3-39.1h0m-4.6 18.5h0m-45.9 25.7h0m44.4-23.1h0m8.4-24.9h0m-53.1 48.4h0m1.1 0.4h0m3-3.4h0m35.8-13.9h0m-42.3 17.1h0m19.4-4.6h0m-12.5 3.5h0m37-15.6h0m-39.9 16.8h0m-2.9-0.5h0m2.8 0.8h0m34.9-15.3h0m-37.7 14h0m54-45.8h0m-54.4 48.4h0m26.9-10.9h0m-24.1 8.1h0m3.6 1h0m-0.7 1.1h0m-5.3-0.2h0m14-3h0m13.7-6.2h0m-12.6 2.1h0m-12.1 6.7h0m36.2-16.7h0m-24.6 12.7h0m-14.2 4.6h0m0.4 0.6h0m15.1-5.5h0m-0.9-0.9h0m-11.4 3.5h0m46.4-36.8h0m-37.8 35h0m41.2-49.3h0m-34.9 47.7h0m6.6-2.2h0m18.3-11.5h0m-30.3 16.6h0m-1 0.6h0m-13.3 0.7h0m25.2-5.2h0m27.8-30.9h0m-26.7 28.4h0m23-16.5h0m-43.8 22.8h0m8.3-2.2h0m31.1-15.5h0m6.3-9.1h0m-40.1 25.1h0m28.3-10.7h0m-37.3 15h0m10.6-4.5h0m29.6-13.4h0m-12.9 8.4h0m24.9-30.8h0m-52.2 38.8h0m24.9-7.7h0m12.7-5.1h0m-39.7 14.1h0m31.3-8.9h0m3.6-4.1h0m-18.3 8.3h0m20.2-7.9h0m14.7-21.9h0m-44.8 33.2h0m46.2-41.5h0m-51.7 43.1h0m26.9-10.2h0m7.8-3h0m20.3-40.8h0m-56.4 54.6h0m55.9-48.2h0m-1.2 4.3h0m-13.4 25.9h0m4.4-3.1h0m8.9-29.6h0m-11.2 31.2h0m-42.9 19.2h0m18.8-5h0m35.1-47.5h0m0.3 12.9h0m-53.4 38.9h0m0.1 1.7h0m10.3-4h0m38.8-27.4h0m2-6.7h0m-16.2 24.3h0m-19.5 5.7h0m24.3-11h0m-10.5 8.8h0m10.9-7.3h0m-12.3 5.9h0m-19.5 8.3h0m4.9-1.9h0m-10.2 1.9h0m3.2-1h0m44.7-29.6h0m2.3-13.9h0m0.5-4.1h0m-0.7 0.6h0m-38 46.2h0m-15.7 3.8h0m51.7-33h0m-40.5 28.4h0m-0.5 0.6h0m-4.6 2.1h0m-5.4 3.8h0m3.5-2.6h0m40.6-19.1h0m-39.3 17.2h0m48.5-36.3h0m-28.3 32.1h0m-15.3 4.5h0m44-43.5h0m-22.9 34.4h0m-28.4 9.6h0m2.2-0.2h0m29.1-8.8h0m-29.1 10h0m-0.1-1.3h0m-3.6 0.5h0m29.9-9h0m-21.1 9h0m-3.7-0.7h0m39.2-20.8h0m-46.5 24.5h0m2.9 0.8h0m-1.7-3.5h0m-1.3 1.5h0m20.6-6.7h0m-17.3 7.4h0m40.2-20.9h0m-39.6 18.2h0m43.7-22.4h0m-26.2 16.9h0m-16.5 4.6h0m29.6-8.6h0m-32.9 11.6h0m49.5-29.7h0m-24.4 23.3h0m2.2-2.5h0m19.2-15.1h0m-46.6 23.6h0m52.2-47h0m-3.9 19.1h0m-11.7 13.5h0m-24.2 10.1h0m22.1-7.5h0m-28.5 11h0m5.9-4.1h0m-14.1 3.8h0m15.1-4.1h0m-13.7 6.4h0m54.3-47.5h0m-36.7 39.9h0m-0.4 2h0m-18.5 3.3h0m54.9-50.6h0m-2.7 20.9h0m-7 10.2h0m5.5-6.1h0m-25.2 20.6h0m-1.7-0.1h0m8-4.8h0m-23.6 9.5h0m23.4-9.6h0m-26.5 10.6h0m37.6-18.1h0m-6.7 6.5h0m17.8-26.4h0m-33.9 31.7h0m32.7-25.1h0m-50.4 32.4h0m4.6-2.6h0m34.1-14.2h0m-36.5 14.7h0m-0.7 0.9h0m7.3-3.8h0m-5.6 2.4h0m51.5-43.6h0m-48.5 42.6h0m-6.1 3.8h0m24.2-10h0m3-0.1h0m22.3-17.8h0m1.9-7h0m-51.1 35.1h0m-0.2-0.8h0m-1.4 0.1h0m6.1-1.4h0m5.3-2.6h0m43.7-41.2h0m-8.4 19.7h0m-4.4 9.6h0m-34.5 13.5h0m17.4-4.4h0m-24.6 6.5h0m7.5-2.9h0m11.2-1.9h0m32.4-31h0m-22.1 25.9h0m-15.2 6.6h0m3.3 0h0m-10.7 1h0m2.3 0.5h0m26.8-11.7h0m-8.6 4.5h0m-10.1 3.8h0m12.4-5.4h0m-2 2.5h0m-28.1 6.6h0m24.1-6h0m25.2-14.3h0m-21.3 13.2h0m21.2-19.7h0m-45 26.8h0m49.3-29h0m-17 17.5h0m-33.9 11.8h0m37.2-15.8h0m13.4-20.2h0m2.7-18.3h0m-40.3 51.6h0m32.1-18.7h0m-48.7 24.5h0m4.3-4.1h0m46.3-24.1h0m-6.4 7h0m-17.7 11.6h0m-21.1 8.1h0m10.4-5.2h0m39.2-48.8h0m-19.4 42h0m21-41.1h0m-43.6 50.5h0m-9 0.3h0m-0.5 0.6h0m51.5-40.4h0m-46.8 40.7h0m-46.5-30.7h0m-0.4-3.1h0m0.1 9.5h0m0-6h0m0.9-2.7h0m-0.6-10.5h0m0.2-6.6h0m-0.6 27.3h0m0.2-18.3h0m-0.2 3.8h0m0.3-8.7h0m0.7-0.3h0m0.3 0.6h0m-1.1 17h0m0.8-8.6h0m-0.4-1.3h0m-0.4 3.7h0m0.1 10.7h0m-0.1-17.4h0m-0.2 11.3h0m0.2-12.7h0m1.1 21.5h0m-0.3-27.4h0m-0.5 17.4h0m0.1 4.7h0m0.7-24.4h0m-0.8 18.1h0m0.3-11.2h0m0.4-4.8h0m-1 27.7h0m0-8.3h0m-0.1-19.3h0m-0.2-0.7h0m0.4 5.8h0m0.5 8h0m-0.2 13.9h0m0.4-18.4h0m-1 16.4h0m1.1-4.3h0m-0.5-10h0" fill="none" stroke="#f01818" stroke-width="0.6" stroke-linecap="round" opacity="0.75"/>
</g>
<rect x="311.10" y="311.30" width="98.20" height="73.50" fill="none" stroke="#6a6a6a" stroke-width="0.45"/>
<line x1="344.40" y1="311.30" x2="344.40" y2="384.80" stroke="#5a5a5a" stroke-width="0.45"/>
<line x1="311.10" y1="356.70" x2="409.30" y2="356.70" stroke="#5a5a5a" stroke-width="0.45"/>
<line x1="309.30" y1="384.80" x2="311.10" y2="384.80" stroke="#444" stroke-width="0.4"/>
<line x1="311.10" y1="384.80" x2="311.10" y2="386.60" stroke="#444" stroke-width="0.4"/>
<text class="ss" x="309.10" y="385.40" font-size="2.9" text-anchor="end" fill="#333">10<tspan dy="-1.1" font-size="2.0">0</tspan></text>
<text class="ss" x="311.10" y="389.10" font-size="2.9" text-anchor="middle" fill="#333">10<tspan dy="-1.1" font-size="2.0">0</tspan></text>
<line x1="310.10" y1="379.27" x2="311.10" y2="379.27" stroke="#555" stroke-width="0.3"/>
<line x1="318.49" y1="384.80" x2="318.49" y2="385.80" stroke="#555" stroke-width="0.3"/>
<line x1="310.10" y1="376.03" x2="311.10" y2="376.03" stroke="#555" stroke-width="0.3"/>
<line x1="322.81" y1="384.80" x2="322.81" y2="385.80" stroke="#555" stroke-width="0.3"/>
<line x1="310.10" y1="373.74" x2="311.10" y2="373.74" stroke="#555" stroke-width="0.3"/>
<line x1="325.88" y1="384.80" x2="325.88" y2="385.80" stroke="#555" stroke-width="0.3"/>
<line x1="310.10" y1="371.96" x2="311.10" y2="371.96" stroke="#555" stroke-width="0.3"/>
<line x1="328.26" y1="384.80" x2="328.26" y2="385.80" stroke="#555" stroke-width="0.3"/>
<line x1="310.10" y1="370.50" x2="311.10" y2="370.50" stroke="#555" stroke-width="0.3"/>
<line x1="330.20" y1="384.80" x2="330.20" y2="385.80" stroke="#555" stroke-width="0.3"/>
<line x1="310.10" y1="369.27" x2="311.10" y2="369.27" stroke="#555" stroke-width="0.3"/>
<line x1="331.85" y1="384.80" x2="331.85" y2="385.80" stroke="#555" stroke-width="0.3"/>
<line x1="310.10" y1="368.21" x2="311.10" y2="368.21" stroke="#555" stroke-width="0.3"/>
<line x1="333.27" y1="384.80" x2="333.27" y2="385.80" stroke="#555" stroke-width="0.3"/>
<line x1="310.10" y1="367.27" x2="311.10" y2="367.27" stroke="#555" stroke-width="0.3"/>
<line x1="334.53" y1="384.80" x2="334.53" y2="385.80" stroke="#555" stroke-width="0.3"/>
<line x1="309.30" y1="366.43" x2="311.10" y2="366.43" stroke="#444" stroke-width="0.4"/>
<line x1="335.65" y1="384.80" x2="335.65" y2="386.60" stroke="#444" stroke-width="0.4"/>
<text class="ss" x="309.10" y="367.03" font-size="2.9" text-anchor="end" fill="#333">10<tspan dy="-1.1" font-size="2.0">1</tspan></text>
<text class="ss" x="335.65" y="389.10" font-size="2.9" text-anchor="middle" fill="#333">10<tspan dy="-1.1" font-size="2.0">1</tspan></text>
<line x1="310.10" y1="360.89" x2="311.10" y2="360.89" stroke="#555" stroke-width="0.3"/>
<line x1="343.04" y1="384.80" x2="343.04" y2="385.80" stroke="#555" stroke-width="0.3"/>
<line x1="310.10" y1="357.66" x2="311.10" y2="357.66" stroke="#555" stroke-width="0.3"/>
<line x1="347.36" y1="384.80" x2="347.36" y2="385.80" stroke="#555" stroke-width="0.3"/>
<line x1="310.10" y1="355.36" x2="311.10" y2="355.36" stroke="#555" stroke-width="0.3"/>
<line x1="350.43" y1="384.80" x2="350.43" y2="385.80" stroke="#555" stroke-width="0.3"/>
<line x1="310.10" y1="353.58" x2="311.10" y2="353.58" stroke="#555" stroke-width="0.3"/>
<line x1="352.81" y1="384.80" x2="352.81" y2="385.80" stroke="#555" stroke-width="0.3"/>
<line x1="310.10" y1="352.13" x2="311.10" y2="352.13" stroke="#555" stroke-width="0.3"/>
<line x1="354.75" y1="384.80" x2="354.75" y2="385.80" stroke="#555" stroke-width="0.3"/>
<line x1="310.10" y1="350.90" x2="311.10" y2="350.90" stroke="#555" stroke-width="0.3"/>
<line x1="356.40" y1="384.80" x2="356.40" y2="385.80" stroke="#555" stroke-width="0.3"/>
<line x1="310.10" y1="349.83" x2="311.10" y2="349.83" stroke="#555" stroke-width="0.3"/>
<line x1="357.82" y1="384.80" x2="357.82" y2="385.80" stroke="#555" stroke-width="0.3"/>
<line x1="310.10" y1="348.89" x2="311.10" y2="348.89" stroke="#555" stroke-width="0.3"/>
<line x1="359.08" y1="384.80" x2="359.08" y2="385.80" stroke="#555" stroke-width="0.3"/>
<line x1="309.30" y1="348.05" x2="311.10" y2="348.05" stroke="#444" stroke-width="0.4"/>
<line x1="360.20" y1="384.80" x2="360.20" y2="386.60" stroke="#444" stroke-width="0.4"/>
<text class="ss" x="309.10" y="348.65" font-size="2.9" text-anchor="end" fill="#333">10<tspan dy="-1.1" font-size="2.0">2</tspan></text>
<text class="ss" x="360.20" y="389.10" font-size="2.9" text-anchor="middle" fill="#333">10<tspan dy="-1.1" font-size="2.0">2</tspan></text>
<line x1="310.10" y1="342.52" x2="311.10" y2="342.52" stroke="#555" stroke-width="0.3"/>
<line x1="367.59" y1="384.80" x2="367.59" y2="385.80" stroke="#555" stroke-width="0.3"/>
<line x1="310.10" y1="339.28" x2="311.10" y2="339.28" stroke="#555" stroke-width="0.3"/>
<line x1="371.91" y1="384.80" x2="371.91" y2="385.80" stroke="#555" stroke-width="0.3"/>
<line x1="310.10" y1="336.99" x2="311.10" y2="336.99" stroke="#555" stroke-width="0.3"/>
<line x1="374.98" y1="384.80" x2="374.98" y2="385.80" stroke="#555" stroke-width="0.3"/>
<line x1="310.10" y1="335.21" x2="311.10" y2="335.21" stroke="#555" stroke-width="0.3"/>
<line x1="377.36" y1="384.80" x2="377.36" y2="385.80" stroke="#555" stroke-width="0.3"/>
<line x1="310.10" y1="333.75" x2="311.10" y2="333.75" stroke="#555" stroke-width="0.3"/>
<line x1="379.30" y1="384.80" x2="379.30" y2="385.80" stroke="#555" stroke-width="0.3"/>
<line x1="310.10" y1="332.52" x2="311.10" y2="332.52" stroke="#555" stroke-width="0.3"/>
<line x1="380.95" y1="384.80" x2="380.95" y2="385.80" stroke="#555" stroke-width="0.3"/>
<line x1="310.10" y1="331.46" x2="311.10" y2="331.46" stroke="#555" stroke-width="0.3"/>
<line x1="382.37" y1="384.80" x2="382.37" y2="385.80" stroke="#555" stroke-width="0.3"/>
<line x1="310.10" y1="330.52" x2="311.10" y2="330.52" stroke="#555" stroke-width="0.3"/>
<line x1="383.63" y1="384.80" x2="383.63" y2="385.80" stroke="#555" stroke-width="0.3"/>
<line x1="309.30" y1="329.68" x2="311.10" y2="329.68" stroke="#444" stroke-width="0.4"/>
<line x1="384.75" y1="384.80" x2="384.75" y2="386.60" stroke="#444" stroke-width="0.4"/>
<text class="ss" x="309.10" y="330.28" font-size="2.9" text-anchor="end" fill="#333">10<tspan dy="-1.1" font-size="2.0">3</tspan></text>
<text class="ss" x="384.75" y="389.10" font-size="2.9" text-anchor="middle" fill="#333">10<tspan dy="-1.1" font-size="2.0">3</tspan></text>
<line x1="310.10" y1="324.14" x2="311.10" y2="324.14" stroke="#555" stroke-width="0.3"/>
<line x1="392.14" y1="384.80" x2="392.14" y2="385.80" stroke="#555" stroke-width="0.3"/>
<line x1="310.10" y1="320.91" x2="311.10" y2="320.91" stroke="#555" stroke-width="0.3"/>
<line x1="396.46" y1="384.80" x2="396.46" y2="385.80" stroke="#555" stroke-width="0.3"/>
<line x1="310.10" y1="318.61" x2="311.10" y2="318.61" stroke="#555" stroke-width="0.3"/>
<line x1="399.53" y1="384.80" x2="399.53" y2="385.80" stroke="#555" stroke-width="0.3"/>
<line x1="310.10" y1="316.83" x2="311.10" y2="316.83" stroke="#555" stroke-width="0.3"/>
<line x1="401.91" y1="384.80" x2="401.91" y2="385.80" stroke="#555" stroke-width="0.3"/>
<line x1="310.10" y1="315.38" x2="311.10" y2="315.38" stroke="#555" stroke-width="0.3"/>
<line x1="403.85" y1="384.80" x2="403.85" y2="385.80" stroke="#555" stroke-width="0.3"/>
<line x1="310.10" y1="314.15" x2="311.10" y2="314.15" stroke="#555" stroke-width="0.3"/>
<line x1="405.50" y1="384.80" x2="405.50" y2="385.80" stroke="#555" stroke-width="0.3"/>
<line x1="310.10" y1="313.08" x2="311.10" y2="313.08" stroke="#555" stroke-width="0.3"/>
<line x1="406.92" y1="384.80" x2="406.92" y2="385.80" stroke="#555" stroke-width="0.3"/>
<line x1="310.10" y1="312.14" x2="311.10" y2="312.14" stroke="#555" stroke-width="0.3"/>
<line x1="408.18" y1="384.80" x2="408.18" y2="385.80" stroke="#555" stroke-width="0.3"/>
<line x1="309.30" y1="311.30" x2="311.10" y2="311.30" stroke="#444" stroke-width="0.4"/>
<line x1="409.30" y1="384.80" x2="409.30" y2="386.60" stroke="#444" stroke-width="0.4"/>
<text class="ss" x="309.10" y="311.90" font-size="2.9" text-anchor="end" fill="#333">10<tspan dy="-1.1" font-size="2.0">4</tspan></text>
<text class="ss" x="409.30" y="389.10" font-size="2.9" text-anchor="middle" fill="#333">10<tspan dy="-1.1" font-size="2.0">4</tspan></text>
<text class="ss" x="362.20" y="390.80" font-size="2.5" text-anchor="middle" fill="#444">FL1-H</text>
<text class="ss" x="305.50" y="351.05" font-size="2.5" text-anchor="middle" fill="#444" transform="rotate(-90 305.50 351.05)">FL2-H</text>
<text class="ss" x="312.60" y="313.90" font-size="2.5" fill="#444">1.27%</text>
<text class="ss" x="408.10" y="313.90" font-size="2.5" text-anchor="end" fill="#444">5.04%</text>
<text class="ss" x="312.60" y="383.60" font-size="2.5" fill="#444">82.30%</text>
<text class="ss" x="408.10" y="383.60" font-size="2.5" text-anchor="end" fill="#444">11.38%</text>
</g>
</svg>
</body></html>
